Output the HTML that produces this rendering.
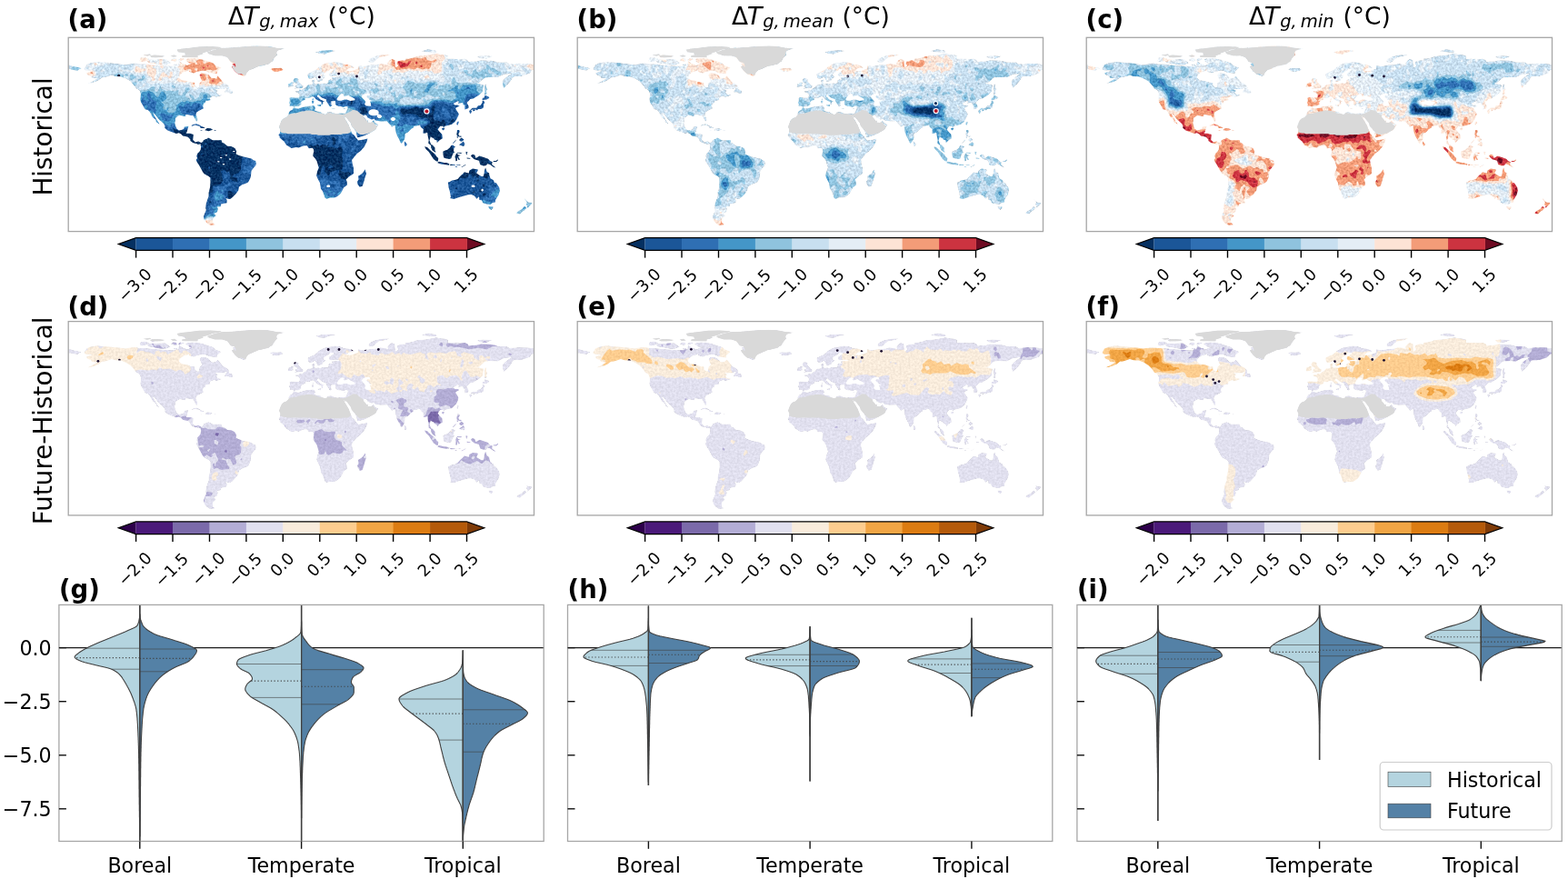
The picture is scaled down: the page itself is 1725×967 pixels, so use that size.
<!DOCTYPE html>
<html><head><meta charset="utf-8"><title>Figure</title>
<style>html,body{margin:0;padding:0;background:#fff;overflow:hidden;width:1725px;height:967px;}svg{display:block;}</style></head>
<body><svg width="1725" height="967" viewBox="0 0 1725 967" font-family="'DejaVu Sans', 'Liberation Sans', sans-serif">
<defs><path id="landp" d="M133.1 33.8L135.2 28.7L140.2 28.2L148.0 29.2L153.0 32.0L150.1 35.1L145.9 36.7L142.3 37.5L136.6 36.1ZM17.1 34.7L19.9 30.0L24.2 28.0L33.0 26.6L39.8 27.3L49.8 28.3L55.5 29.0L62.6 29.9L69.7 28.7L74.0 28.3L79.0 29.3L85.4 29.3L92.5 30.1L101.0 31.0L108.2 31.3L116.7 31.6L121.0 30.6L121.7 25.7L125.2 28.4L130.9 30.6L135.2 28.7L139.5 29.2L140.2 32.7L134.5 33.7L130.9 36.8L126.9 37.7L122.4 41.2L121.7 44.1L124.5 46.6L130.2 47.6L135.2 49.3L139.0 49.6L139.2 52.6L141.6 55.0L143.7 54.7L144.2 50.5L147.1 47.6L145.6 44.7L144.4 41.5L145.9 39.1L150.8 39.4L154.3 41.0L157.2 44.4L159.0 44.8L161.8 44.4L164.4 42.2L167.9 46.2L170.1 49.1L174.6 51.5L176.9 53.9L175.0 54.9L170.8 56.6L161.5 56.6L164.8 58.6L162.9 59.7L164.4 62.3L169.3 63.3L170.8 62.6L165.8 64.7L162.2 65.7L160.9 64.3L156.5 65.8L155.5 67.4L156.5 68.7L154.4 69.3L150.8 70.2L150.8 71.8L148.7 72.8L148.0 75.4L148.7 77.9L145.3 79.8L143.4 80.8L140.9 82.5L140.3 84.8L142.2 89.7L141.7 92.1L140.6 92.0L139.7 90.2L138.6 88.2L137.2 85.7L134.8 85.7L130.9 84.8L128.6 85.0L129.2 86.6L127.4 86.6L122.7 85.7L121.0 86.3L117.7 88.6L117.7 91.2L117.1 93.9L117.8 97.0L119.3 100.5L121.7 102.1L125.2 101.5L127.1 100.4L127.6 98.1L132.2 97.4L131.5 99.8L130.6 103.1L129.6 105.4L133.8 105.4L137.6 106.7L137.2 110.9L137.0 112.5L139.7 115.2L142.9 114.3L145.9 115.6L146.1 116.3L144.9 117.3L142.3 117.7L141.6 116.6L139.0 116.5L137.0 115.8L134.2 113.8L134.2 112.1L131.6 109.5L128.8 108.8L125.9 108.1L123.8 105.9L121.5 104.9L118.8 105.7L116.0 104.8L111.7 103.1L108.9 102.0L106.0 99.5L106.3 97.4L105.3 95.3L102.5 92.4L100.5 91.0L98.2 88.3L95.6 84.6L92.8 82.8L95.1 87.0L97.5 91.0L99.6 93.9L100.3 95.1L99.2 94.6L96.6 92.7L96.1 90.3L93.2 88.2L91.5 85.6L89.5 81.8L87.5 79.6L84.5 78.9L82.7 75.9L81.8 74.2L80.0 71.4L79.1 68.3L79.5 65.4L79.7 62.1L78.7 59.2L77.6 57.6L74.7 56.2L73.3 54.0L70.4 50.5L68.3 48.3L63.3 45.1L57.6 42.9L51.9 42.7L47.7 41.4L43.4 42.9L40.1 43.8L37.0 44.1L33.4 46.9L29.9 48.6L24.9 50.1L21.6 50.6L27.0 47.9L32.0 44.9L25.9 44.5L25.2 42.7L20.9 41.0L19.9 39.1L22.1 38.1L27.0 36.5L24.2 36.1L19.6 36.1ZM146.1 115.8L148.0 114.6L148.7 112.9L150.6 111.9L153.0 111.1L153.7 110.3L156.3 111.5L158.7 112.9L162.2 112.9L165.1 112.9L168.2 112.8L169.3 115.8L171.1 116.2L175.0 119.4L179.3 119.7L182.2 121.2L183.6 122.3L185.0 125.4L184.3 128.0L187.1 129.4L192.8 131.3L197.1 132.1L201.4 133.2L203.5 134.9L206.1 135.8L206.6 138.6L206.1 140.8L203.5 143.6L201.4 146.5L200.7 152.9L199.7 155.7L197.8 159.3L194.7 160.7L191.4 161.8L187.8 164.2L187.0 168.1L184.7 171.4L181.4 174.9L180.0 176.3L178.0 177.6L175.7 177.5L173.0 176.6L174.6 178.9L174.3 181.9L167.9 183.3L167.5 185.9L163.7 186.3L164.6 188.4L163.7 192.0L160.1 193.7L162.5 196.0L159.0 199.2L158.8 202.4L158.7 203.3L161.5 205.9L158.7 206.2L155.8 206.5L152.3 204.1L149.7 201.2L148.7 196.9L150.1 193.4L151.6 189.8L151.0 187.4L151.6 182.7L153.0 178.5L154.3 174.9L154.4 170.6L155.8 165.0L156.3 159.3L156.1 154.3L154.4 152.6L149.4 150.0L147.6 147.5L146.3 145.0L143.7 140.1L141.5 136.9L140.5 134.4L141.9 132.8L141.0 130.5L142.3 127.3L143.9 126.0L145.4 123.7L146.0 120.2L145.3 117.7ZM248.2 76.8L247.2 75.7L245.6 75.1L243.5 75.4L243.6 72.9L242.6 72.0L243.6 69.7L243.5 67.5L242.9 66.8L245.2 65.8L249.0 66.1L253.6 66.3L254.4 64.6L254.4 62.3L253.0 61.0L249.5 59.9L249.7 58.9L253.9 58.7L254.2 57.3L256.4 57.6L258.4 56.6L259.7 55.3L261.3 54.9L262.7 52.9L264.0 52.0L266.1 51.9L268.4 51.3L268.4 49.1L267.7 47.2L271.2 45.9L270.7 48.1L270.4 49.8L271.8 51.2L275.4 50.6L276.5 51.3L279.6 50.5L282.5 50.1L284.0 50.6L286.3 49.5L286.0 47.2L288.2 45.9L290.7 46.5L289.4 43.8L296.0 43.4L299.1 42.8L297.4 42.4L293.1 42.1L288.6 42.8L286.6 41.5L286.7 39.1L291.7 35.8L292.2 35.1L291.0 34.4L287.9 34.6L286.5 36.5L283.9 38.0L281.1 39.4L280.6 41.7L282.9 42.5L282.5 43.7L279.6 45.6L279.5 47.5L276.9 48.1L274.5 49.1L274.1 47.9L273.1 46.1L272.1 44.2L271.1 43.5L267.7 45.4L264.7 45.1L263.8 43.7L263.3 41.2L263.5 39.8L266.1 38.7L268.2 37.7L271.1 36.3L273.5 34.4L275.4 32.4L278.5 30.6L281.1 29.2L283.9 28.3L288.9 27.6L292.9 26.9L296.7 27.2L300.3 28.0L303.1 29.3L308.1 29.9L313.1 31.6L314.5 33.4L308.8 33.8L305.7 36.3L309.5 37.3L313.8 36.1L318.8 34.1L318.8 30.7L324.5 31.7L332.3 30.3L339.4 30.0L343.0 28.7L348.6 29.4L351.5 30.4L351.2 27.7L353.6 24.9L355.8 23.5L359.3 24.9L359.3 27.7L360.0 33.0L362.2 31.6L362.9 30.1L361.2 29.2L362.2 26.3L365.0 25.5L367.9 25.0L370.7 25.3L371.1 23.3L375.7 23.0L380.0 22.0L382.8 20.6L391.3 19.8L397.0 19.1L404.6 17.5L408.4 18.5L414.1 18.9L417.7 20.2L417.7 23.5L424.1 23.5L431.2 23.7L436.2 23.5L439.4 25.0L440.4 27.0L444.0 26.3L449.0 26.2L454.0 24.9L463.9 25.2L469.6 26.2L472.5 27.3L482.4 27.3L485.3 29.2L491.0 28.9L495.2 28.4L500.9 28.6L505.2 28.7L510.2 29.4L512.3 30.0L512.3 35.5L509.5 36.3L508.0 39.1L502.3 41.2L498.1 42.7L491.0 42.7L488.8 43.4L488.1 45.5L486.7 47.6L483.8 51.2L479.1 55.5L478.1 52.6L477.4 48.3L479.6 45.5L483.8 41.9L488.1 39.1L483.8 40.1L479.6 40.5L472.5 43.8L462.5 43.7L458.2 44.1L451.8 49.8L448.3 50.3L452.5 51.2L456.8 52.2L456.1 56.9L455.7 59.7L451.8 63.3L445.4 67.1L442.1 67.8L440.4 69.7L438.3 71.8L440.3 75.4L440.2 77.8L436.2 79.1L435.9 76.1L436.3 74.4L434.3 73.9L433.9 71.7L429.1 72.5L428.6 72.8L429.8 70.4L428.3 70.0L426.2 71.2L423.6 72.7L425.4 74.5L427.9 74.2L430.5 75.4L427.3 76.8L425.9 78.2L428.1 81.8L429.6 83.9L429.1 86.0L426.9 90.3L425.5 92.4L421.9 95.4L418.4 96.4L414.1 97.4L413.0 99.1L412.1 97.4L409.1 97.4L407.7 99.1L406.4 101.2L408.4 103.8L411.1 106.4L411.7 110.9L408.4 113.0L405.6 115.8L405.3 113.3L402.7 112.3L401.7 110.6L399.7 109.9L398.6 108.9L397.3 113.3L399.0 117.6L400.6 118.2L403.3 121.2L403.3 124.1L404.4 126.0L403.4 126.1L400.3 124.0L399.0 121.2L398.9 118.7L396.0 116.3L396.5 113.0L395.3 107.4L395.0 104.5L391.9 105.5L390.2 105.2L390.6 101.0L387.6 98.5L386.8 96.1L384.9 96.6L382.8 97.3L380.0 97.4L379.8 99.0L377.3 100.4L373.3 104.4L370.4 105.8L370.3 109.2L369.7 112.3L368.9 113.3L367.3 115.6L366.4 116.5L365.2 115.3L364.0 111.9L362.5 109.5L360.7 105.2L359.7 101.0L359.5 97.8L359.3 96.3L355.8 98.4L354.2 96.0L352.1 94.0L350.6 91.9L343.7 92.1L337.7 91.3L336.4 89.4L333.7 90.2L329.4 88.3L327.6 85.3L325.2 85.3L324.7 87.5L327.0 89.9L328.0 91.7L329.6 91.2L329.4 93.4L333.0 93.7L335.1 91.7L336.1 90.7L336.4 92.6L338.0 94.3L341.2 96.0L339.4 98.8L338.3 101.0L334.8 103.2L330.4 105.7L325.9 107.8L320.9 109.5L318.1 109.9L317.1 106.7L316.8 104.1L314.2 100.1L311.6 97.1L310.8 94.3L309.4 92.4L306.2 88.2L305.4 88.0L305.8 86.0L304.8 83.5L305.8 81.3L307.2 78.2L307.4 75.9L305.4 75.7L302.4 76.6L299.7 75.8L297.6 75.8L295.0 74.8L293.7 73.5L294.1 71.8L293.4 71.0L293.9 69.8L290.3 70.0L288.6 70.4L289.6 72.1L288.3 73.7L290.3 73.9L288.6 76.1L287.0 75.5L286.2 73.5L284.9 71.7L283.8 70.0L283.9 68.3L278.9 66.1L276.1 64.0L275.6 63.0L273.7 63.4L273.9 65.1L275.5 66.1L277.1 68.1L278.9 69.0L282.5 71.0L280.3 70.4L279.8 72.5L280.5 72.5L279.6 73.4L278.5 73.9L278.3 71.0L276.5 70.2L274.6 69.3L272.1 67.7L270.8 65.7L268.7 64.8L266.8 65.7L264.7 66.7L262.6 66.1L260.6 66.7L260.7 68.4L257.4 69.7L255.7 71.8L256.4 72.9L255.2 74.5L253.2 75.8L249.9 75.8ZM305.8 86.0L304.8 88.4L302.5 85.5L302.1 83.5L304.8 83.5ZM302.5 85.5L302.1 83.5L298.8 83.3L296.0 83.9L291.9 83.0L288.9 81.6L284.8 82.2L284.5 84.0L282.5 84.6L278.2 83.0L277.8 82.0L272.5 80.9L270.8 79.9L271.8 77.9L270.8 75.5L269.7 74.9L266.1 75.2L261.1 75.7L256.1 77.1L253.0 78.1L248.6 76.9L247.6 77.1L246.3 79.6L243.8 80.8L242.2 83.5L242.3 85.3L239.8 87.9L237.4 88.7L234.8 91.0L233.4 93.9L231.8 98.1L233.2 101.4L232.7 105.1L231.2 107.1L232.5 108.8L232.4 110.3L234.8 112.3L237.4 114.5L239.8 118.2L245.5 121.7L250.5 120.6L253.3 121.3L257.6 119.4L260.0 119.0L262.6 119.0L264.7 121.9L266.4 121.7L268.4 121.4L269.8 123.0L270.1 125.1L269.4 127.6L269.1 130.1L271.8 133.5L273.5 136.2L274.6 140.1L275.5 143.2L273.9 147.2L272.9 151.9L274.9 156.4L276.8 160.0L277.8 166.4L279.6 168.6L280.9 172.1L282.3 176.3L284.0 177.5L288.2 176.3L292.6 176.3L295.1 175.3L298.8 172.5L300.7 169.6L302.8 165.2L306.7 162.1L306.5 158.6L305.5 156.1L308.5 153.3L313.8 149.7L313.8 143.6L312.5 138.6L311.9 134.7L315.2 130.4L318.1 127.3L321.6 124.7L325.5 120.2L328.3 114.8L329.2 111.2L325.2 112.1L318.8 113.2L317.8 111.6L316.3 110.1L314.5 107.4L312.4 105.9L310.9 102.4L309.1 98.1L308.7 96.7L307.0 94.0L305.8 91.7L304.1 89.2ZM417.7 159.3L418.4 165.0L419.8 169.9L420.8 175.6L419.8 176.8L424.1 177.8L428.3 176.2L432.6 174.9L436.2 173.9L439.7 172.9L443.3 172.8L446.8 174.2L449.1 177.5L451.8 174.9L452.2 178.6L454.7 178.9L456.1 182.0L460.4 183.2L464.3 183.6L466.8 181.7L469.6 181.3L469.9 178.7L471.5 176.0L473.2 173.5L474.7 168.5L474.0 165.0L472.5 162.8L470.7 160.0L468.9 159.7L467.5 156.7L464.3 155.0L463.2 151.4L462.9 149.3L460.5 147.6L458.9 143.2L457.7 146.3L457.5 149.3L456.5 152.7L454.4 152.6L451.1 150.6L449.0 149.3L450.8 145.5L449.5 144.9L444.7 144.3L443.0 145.3L441.1 146.5L440.6 149.2L438.2 148.6L435.7 148.0L434.0 150.0L431.9 151.6L430.0 153.6L428.3 155.7L425.2 156.8L422.2 157.3L419.2 159.0ZM152.6 16.4L159.4 13.9L167.9 11.7L182.2 10.9L196.4 9.7L210.6 9.1L220.6 9.7L229.1 11.4L238.4 12.1L230.5 14.2L229.1 16.4L229.8 19.2L227.7 21.3L225.6 24.2L224.8 26.3L222.0 27.7L220.6 29.2L213.5 31.0L209.2 31.7L202.8 34.6L198.5 36.3L196.4 38.7L195.0 41.9L192.8 42.7L190.7 41.5L187.1 40.5L185.0 38.7L182.9 36.7L181.0 34.1L179.6 32.0L182.2 30.6L180.0 29.2L183.6 27.7L178.6 27.0L177.2 24.9L175.0 22.0L169.3 19.9L161.5 19.9L155.1 18.2ZM143.0 19.6L128.8 19.2L128.1 16.8L121.0 15.9L119.5 13.5L124.5 12.5L133.8 11.5L143.7 10.1L156.5 9.8L168.6 10.7L165.1 12.1L158.0 13.5L155.1 14.9L149.4 16.4L147.3 17.1L148.7 17.8ZM163.7 39.8L155.1 38.7L150.1 36.4L145.2 36.5L148.0 35.1L152.3 32.0L149.4 30.6L145.2 28.4L139.5 28.4L133.1 28.2L128.8 24.9L130.9 23.3L135.2 23.0L142.3 23.2L148.0 24.5L153.7 26.3L159.4 28.2L161.5 30.6L166.5 32.7L168.1 33.3L165.8 35.3L163.9 37.0L163.4 38.8ZM86.8 26.2L88.9 24.2L94.6 24.5L99.6 23.9L106.7 23.7L110.3 26.3L112.7 28.0L107.4 30.1L102.5 30.3L98.2 29.4L92.5 28.4L88.2 28.0ZM78.3 25.7L79.7 22.3L84.7 22.2L88.9 23.5L88.2 24.7L84.0 26.3L81.1 26.9ZM89.7 20.3L93.9 19.3L101.0 19.6L106.0 20.5L102.5 21.6L96.8 22.0L91.8 21.9ZM82.5 19.2L89.7 18.1L91.1 19.2L86.8 20.1ZM112.4 19.9L116.7 19.2L119.5 20.8L115.3 21.5ZM125.2 21.6L142.3 22.0L142.3 19.6L129.5 19.1L125.2 19.9ZM112.4 24.9L115.3 22.9L118.8 23.3L119.5 25.6L116.7 26.3ZM120.7 24.9L123.1 22.8L127.4 23.2L127.4 24.2L123.1 25.6ZM133.8 34.1L140.2 36.7L141.9 37.3L138.0 39.1L133.1 37.7L132.3 35.5ZM115.3 29.6L119.5 29.2L120.2 31.0L116.7 30.9ZM171.6 60.3L174.8 54.7L177.2 54.6L176.9 57.0L180.0 57.6L181.2 60.4L179.9 61.7L176.7 61.3L176.2 60.3ZM135.3 96.8L138.0 95.4L140.9 95.0L143.7 96.0L146.6 97.8L150.6 99.3L148.7 99.7L145.6 99.7L144.4 97.4L141.6 97.0L139.5 96.3L136.0 97.4ZM150.3 101.7L152.6 99.7L156.5 100.0L159.0 101.5L156.5 102.1L154.4 103.0L150.3 102.0ZM144.7 101.8L147.7 102.2L146.6 102.8ZM160.5 101.7L162.8 102.0L161.9 102.5L160.5 102.4ZM0.0 30.0L5.7 31.7L10.7 32.7L14.7 34.0L12.1 34.8L10.2 36.4L5.7 35.7L1.8 34.8L0.0 35.5ZM248.0 56.7L251.9 56.0L256.4 55.7L258.1 55.2L258.6 53.2L256.6 52.0L255.9 51.0L253.9 48.9L253.0 47.6L253.6 46.1L251.6 44.7L249.0 44.7L247.9 46.2L247.3 47.4L248.3 49.1L249.3 50.1L251.3 50.8L251.9 52.0L249.5 52.3L250.3 53.3L248.6 54.3L251.6 54.9L250.2 55.2ZM247.6 53.8L247.2 51.0L247.9 50.3L247.3 49.3L245.5 49.3L244.1 50.3L241.9 50.9L242.1 52.2L241.4 54.3L242.6 54.7L244.8 54.3L247.0 53.8ZM222.0 34.8L224.8 33.6L229.8 33.8L234.1 33.4L235.5 34.8L236.8 35.5L234.8 36.5L229.5 37.8L225.6 37.3L223.8 36.8L224.8 36.0L222.0 35.3ZM271.8 15.9L278.9 14.4L288.9 13.8L294.6 14.8L286.0 16.4L281.8 18.5L276.1 17.8ZM330.1 26.3L331.6 23.5L337.3 20.6L344.4 19.2L353.6 18.6L350.1 20.3L341.5 22.0L337.3 25.6L335.1 27.4L331.6 27.3ZM388.5 14.9L395.6 12.8L404.1 14.2L405.6 16.4L398.5 16.5L392.8 15.8ZM449.7 20.6L456.8 19.9L466.8 20.5L459.6 23.5L452.5 22.8ZM458.2 62.6L460.4 61.9L459.6 58.3L461.1 57.6L459.9 54.7L459.6 51.9L459.2 50.6L458.2 51.9L457.8 55.5L458.2 59.0L457.9 61.9ZM455.4 69.0L457.1 68.5L460.1 68.3L463.2 66.4L462.5 65.1L458.1 63.3L457.7 66.3L455.8 66.5L455.4 67.8ZM456.8 69.1L457.5 70.4L458.2 71.8L456.8 73.5L456.8 76.1L456.5 77.2L455.1 78.2L453.5 78.6L450.8 78.8L449.7 80.3L448.4 79.2L445.4 79.1L442.6 79.6L442.4 79.1L444.7 77.5L449.0 77.5L450.8 74.9L453.2 74.7L455.4 71.8L455.4 70.0ZM440.9 80.6L441.9 83.6L443.0 83.3L444.0 80.8L442.4 79.8ZM444.7 80.9L446.8 80.6L447.8 79.6L445.4 79.3ZM427.1 95.3L428.1 96.8L429.6 93.1L429.2 92.0L427.6 93.1ZM410.7 100.7L412.7 102.1L414.1 100.1L413.5 99.4L411.5 99.5ZM369.7 114.0L371.7 115.9L372.6 117.7L371.4 119.4L370.0 119.4L369.7 117.3ZM427.8 101.7L430.0 101.7L430.5 103.8L429.1 105.9L429.8 108.1L432.6 108.4L431.9 109.8L427.8 108.4L427.1 106.4L427.5 104.5ZM429.8 118.0L432.2 116.3L434.7 114.3L436.2 117.3L435.0 119.7L432.6 118.9ZM430.5 111.6L432.6 110.2L435.2 112.3L434.0 113.8L431.9 114.5L430.0 113.0ZM427.3 108.9L429.1 109.2L428.6 110.5L427.6 110.2ZM422.9 116.2L426.6 112.1L426.2 113.5L423.4 116.6ZM412.1 125.4L412.4 129.4L413.1 132.1L415.2 133.0L419.1 133.7L421.2 133.0L421.9 130.8L423.8 126.8L425.2 126.3L423.8 124.9L424.4 121.2L425.8 120.4L422.9 118.2L421.2 118.6L419.8 120.9L417.0 123.4L414.4 124.3ZM391.8 120.0L394.9 120.6L398.9 124.7L403.9 128.7L404.9 130.7L407.0 132.7L406.7 136.2L404.9 136.2L401.7 133.7L398.9 129.4L396.5 125.6L393.5 122.9ZM405.9 137.6L407.7 136.5L410.3 136.9L413.4 137.6L416.2 137.8L419.1 138.9L418.9 140.4L414.1 139.8L409.8 139.1L407.6 138.5ZM419.8 139.6L421.2 139.5L425.5 139.8L425.5 140.5L421.2 140.6L419.8 140.5ZM426.6 140.1L431.2 139.8L431.2 140.5L426.9 140.6ZM432.3 142.5L436.9 139.8L437.2 140.2L432.9 142.6ZM425.5 141.5L428.1 141.9L427.6 142.6L425.5 142.1ZM426.2 135.9L427.6 135.8L428.2 131.8L429.2 134.8L430.8 134.4L428.8 130.7L431.6 129.4L429.1 129.3L427.3 127.4L429.1 127.3L431.9 127.6L434.2 125.7L433.2 126.7L428.1 126.4L426.6 128.0L425.2 131.5L425.9 133.0ZM437.6 125.4L439.3 126.3L438.3 127.6L439.0 129.1L437.7 128.5L437.3 126.6ZM438.3 132.2L442.3 132.7L441.9 133.4L438.6 133.1ZM442.6 130.0L444.7 128.5L447.1 129.3L448.3 132.7L452.4 130.1L456.8 131.7L461.8 133.4L463.9 135.8L466.5 136.9L465.9 139.6L470.3 143.1L467.5 142.5L463.9 139.6L461.1 138.9L459.6 140.8L456.8 141.1L453.2 139.9L452.5 137.9L451.8 135.4L448.3 134.4L446.1 133.7L444.7 132.1L443.9 131.8L443.0 130.1ZM467.5 135.8L470.3 135.7L472.5 134.1L472.9 134.8L471.0 136.8L467.6 136.7ZM326.3 145.0L327.9 149.6L326.9 152.2L325.5 157.1L323.5 163.4L320.5 164.4L318.3 161.4L317.8 158.6L319.3 156.3L318.8 152.4L322.0 150.4L324.0 148.6L325.3 147.0ZM462.1 185.9L467.2 186.1L467.0 188.0L465.3 189.8L462.9 188.0ZM501.9 176.9L504.5 180.3L506.6 181.4L510.2 181.6L509.3 183.7L507.7 184.9L505.5 187.1L504.6 186.6L505.5 185.3L503.5 183.7L504.6 182.2L504.0 179.9L502.3 178.0ZM501.9 185.6L504.0 187.3L502.3 189.8L499.8 191.3L496.9 194.2L493.1 193.4L493.8 192.0L495.8 190.5L499.2 188.8L501.1 186.3ZM268.4 69.1L269.5 69.1L269.7 66.8L268.4 67.8ZM268.1 72.5L269.8 72.4L270.1 69.7L267.8 69.7ZM273.8 74.2L278.3 73.5L277.6 75.8L274.6 75.2ZM289.6 77.8L293.6 77.8L293.1 78.2L289.7 77.9ZM302.1 78.5L305.2 77.4L304.4 78.4L302.8 78.8Z"/><clipPath id="land"><use href="#landp"/></clipPath><path id="holesp" d="M295.3 67.5L296.0 69.0L297.4 69.4L300.3 69.5L303.8 68.3L306.2 68.3L310.2 69.8L315.2 69.0L315.3 67.4L313.1 66.3L310.2 64.8L308.8 64.0L308.1 63.4L306.7 64.0L303.8 64.8L302.4 63.4L304.1 62.6L301.0 61.7L299.6 62.3L298.3 63.6L297.0 65.0L295.9 66.8ZM323.0 64.3L322.6 64.7L323.7 66.8L325.9 69.0L327.0 70.8L325.9 73.4L327.7 75.1L332.9 75.5L332.6 71.8L331.6 70.4L334.0 69.8L331.1 68.5L331.4 67.4L329.2 66.5L328.0 64.7L329.4 63.6L331.7 63.6L331.6 61.4L329.2 61.1L325.9 61.9L323.7 63.1Z"/><filter id="spk" x="0" y="0" width="100%" height="100%" color-interpolation-filters="sRGB"><feTurbulence type="fractalNoise" baseFrequency="0.42" numOctaves="2" seed="7" result="n"/><feColorMatrix in="n" type="matrix" values="1 0 0 0 0  1 0 0 0 0  1 0 0 0 0  0 0 0 0 1" result="g"/><feComposite in="SourceGraphic" in2="g" operator="arithmetic" k1="0" k2="1" k3="0.34" k4="-0.17" result="m"/><feComposite in="m" in2="SourceGraphic" operator="in"/></filter><filter id="spk2" x="0" y="0" width="100%" height="100%" color-interpolation-filters="sRGB"><feTurbulence type="fractalNoise" baseFrequency="0.42" numOctaves="2" seed="11" result="n"/><feColorMatrix in="n" type="matrix" values="1 0 0 0 0  1 0 0 0 0  1 0 0 0 0  0 0 0 0 1" result="g"/><feComposite in="SourceGraphic" in2="g" operator="arithmetic" k1="0" k2="1" k3="0.14" k4="-0.07" result="m"/><feComposite in="m" in2="SourceGraphic" operator="in"/></filter></defs>
<rect width="1725" height="967" fill="#fff"/>
<g transform="translate(75.2,41.3)">
<g clip-path="url(#land)" filter="url(#spk)"><use href="#landp" fill="#c8dff0"/><path d="M31 .4l4.1 0-1.3 1.1zM263.6 .4l3 0-2.3 1.4zM43 5.9l1.7 .1-.9 2.5-1-1zM20.3 6.5l2.1-.3 1.4 1.2 1.5 2.2 .7 3.8-7.7-3.1-.1-2.1zM61.5 7.1l2.7 1.1 .9 3-3.5-.9zM134.1 7.4l2.9 .7-1.5 2.5-5.4-.3zM174.7 7.4l1.7 .8-.3 2-1.4 0-1.1-1.3zM487 7.1l.8 3.2 2.8 1.3 4.3-.8 2.1 .7 .5-1.2-1-2.1 2.6-1.2 1.3 2.6 6.6 3.5 4.9-1.8 0 9.3-2.8 1-2.2 3.6 1.5 1.3 3.5-.6 0 19.9-2.2-3.5 .8-2.8-2.1-2.8-8.6-4.4-1.7 .1 .9 2.1 4.4 4.2-1.4 6.8-.3-1.8-6.1-6-6.4 1.4-6.4-2.9-3.2-5.3 .3-3.2 .7-.6 5.7 .6 2-1 1.1-4.3-.9-2.7-1.5-.6-4.9 .1-.8 1.1 .8 1.5 2.8-.7 2.1 .8 .4 1.9-1.8 1.7-3.5-.8-1.5 1-2.1-2.1-2.1-.5-1.5 .9-1.4 3.8-1.4 .7-1.3-1.1-.7-2.9-2.3-.6-5.7 3.2-2.7-.4 .3-2.2-1.1-.6-6.4 1.3-2.9-.6-3.5 2.5-5-.3-2.9-1.3-2.8 1-2.8-1.5-3.7 .2 .2-4.2-.8-.3-3.6 2.4-5.7 .2-1.4 3.4-5 4.2 .9 6.4-3.1 3.6 2.9 1 .9 1.8 .1 3.6-1.7 1.9-2.8 0-2.2-2.6-11.3-.2-3.6 1.2-6.4-3-.6 .5 .7 2.9-.8 .1-4.3-1.3-2.1-1.9-3.7 .2-1.3-3.8-1.8 1.7-.3 2.3-3.6-2.9-1.3 .6-1.5 3.9 2.8-1 2.2 .7-.6 2.1-3 3.6-2.1-3.8-4.3 3-5-1.6-3.5 .6-1.7-1.8-.4-3.6-.8-.1-2.1 3.7 .2 4.3-2.4 1.7-1.2-.3-.2-4-5.7-3.1-4.2 2.3-2.9-1.5-2.8 .9-2.2-.9-3.5 1.8-5-6.9-5-1.3-2.8 1.6-9.3-.8-5 2.2 .2-3.8-2.3-1.7-3.2 2.4-.7 2.8-5.4 .9-2.8-.9-2.1 1.9-3.6 1-2.1-3.5-2.9-1.1-2.8-4-5-3.1-.1-5.4-2.2-2.1 5.1-2.8 6.4 .1 3.6-1.9 4.3 2.9 4.2-1.3 4.3 .2 3.6-1 9.9 1.6 3.6-.6 2.1-1.6 3.6 1.7 5-.3 4.9 2.3 1.1-5.7-1.9-5 5.1-4.5 2.1-.1 5.7 3 3.6-2.7 2.8 3.2 2.2-1 1.4-2.6 5.7-.4 3.6 1.5 2.1-1.6 11.4 3 1.7-2.8 4.7-2.5 2.1 2.5 5 2.6 5.7-1.8 2.8 2.4 9.3 .9 8.5-3.9 2.9 1.5 9.2-.4 3.6 1.2 6.4-4.9 3.8 .3 4.7 4.2 6.4-3.3 2.9 2.5 4.2-.7 2.2 1 4.2 .2 0 1.5-2.1 1.2-1.2 2.6 .1 1.5 1.1 .2 1.4-2.1 4.5-.3-.5-4.9 1-1.8 1.4 0 1.1 2.5 1.8 .7 1.5-2.9 5.6-2.5 2.1 .3 2.9 2.8 4.9-1.6 3.6 1.1zM435.8 14.6l.7 2.9 2.2 .3 1.3-1.1-3.5-2.6zM426.8 15.3l.5 1.1 1.2-.4-.5-1zM421.3 16.7l.3 1.4 1.3-.7-.6-1zM327.4 18.1l-1.3 2.2 2.9-.7-.3-1.5zM462 18.1l-.9 1.5 2.5 .7 .2-1.5zM500 25.2l.8 2.2 1.8 0-.6-2.2zM321 28.1l-.5 1.7 1.5 1.2 .4-1.5zM333.9 28.8l-1 1.4 1.9 1 .7-2.3zM483.6 33.1l2 1.9 1.3-2.6-1.3-1.8zM327.8 35.2l-3.2 3.5 1.3 5.7 1 1 1.5-.9 .1-3.6 2.3-2.9-1.7-2.9zM350.2 39.5l2.4 1.5 2.1 4.3 1.4 .1 1.6-1.7-.9-2.1-5.7-2.5zM52.3 7.8l2.8-.3 1.5 1.4-1.5 1.7-2.1-.3-1.6-1.4zM96.4 8.5l3.8 1.8-1.7 2.7 .8 1 4.9-2.4 4.3 2.6 3.3-.3 .6-.7-1.9-3.6 2.3-.7 2.1 .7 1.5 2.8 8.5 5.5 8.5-.2 3.6-3.4 12.1 5.6 5.7-2.8 4.9 2.1 1.7-.4 .4-.7-1.4-1.5-4.2-1.1 .2-2.3 1.9-.9 3.6 1.6 5-.9 2.8-4.2 2.1-.1 2.6 2.3 .6 2.2-1 1.6-4.8 1.9-.9 2.1 .4 1.5 1.7 .4 5-2.9 4.3-.3 1.4 4.5 12.8 3 3.9 5.9-1.1 5 1.7 4.3-3.8 4.7-9.2 .1-4.2 2.3-.1 3.4-4.3-.6 0 2.3 1.5 2 2.8 1.8 2.8 .1 .4 1.6-1.1 1.5-3.8 .7-4.7 4.8-5 .9-3.7-2.2-2.7-4.9 1.3-2.9-2.7-1.2-7.1-.3-5 2.4-2.9-2.1-7.8 4.1-1.9-.8-5.2-7-4.3 1.3-4.2-1.1-5 0-3.6-1.8-9.9 1.9-7.9-1.3-5.7 2.1-5.7-2.8 1.3-4.8-1.9-3.5-2.2-1.4-5 1.6-15.6-4.3-4.3 1.4-2-1.6-1-3.5 .9-1.8 2.1 3.2 2.8 1.6 2.9-.8 6.4 1.2 1.7-6.3-.1-4.2 1.2-2.9-1.4-2.7-10 1.2-2.1-4-2.8-.6-2.9 1.1-.7-1.4 .7-1.4 5-2.2 5.7 4.5 2.5-3.7 3.2-1 .8-2.6 5.6 1.8 4.3 2.6 4.6-5.1 3.9-.3 3.6 2zM70 16l1.5 1.9 2.1-1.2-2.1-1.3zM96.7 17.4l.4 2.3 1.4 .2 .8-1.8-1.5-1.1zM107.4 21l0 2.8 1.8 .3-.7-2.8zM175 55.1l1.1 1.1 .8-1.1-.8-.7zM170.4 58.7l-.5 2.1 1.9 1 .4-3.1zM283.5 8.9l1.5 1.4-2.6 .7-.3-1.4zM122 9.5l1.5-.6 1 .7 1.9 3.6-.7 2.1-2.2 .3-1.5-1.9-2.4-.5zM148.4 10.8l2.6 .9-1.2 2.9-2.3-1.4-.2-1.5zM16.7 12.4l1.4-.3 .8 3.9 3.2 2.8 .4 2.9-1.1 4.3 1.7 4.3 1.4 0 2.9-4.6 7.1 1.1 1.4-.8-.4-2.9-2.4-3.7-2.9 0-1.4 2.9-2.2-2.7 .8-2.3 2.1-1.3 7.1 .5 2.9 9.2 2.1-.5 2.9-2.6 2 1.2 1.2 2.2-3.2 3.9-3.6-1.6-2.8 2.9-5 .1-5 2.5 2.6 4.2 .6 4.3-4.6 2.9-3.6-.1 2.1 1.5 .4 2.1-1 2.8 1.4 3.6-7.9 3.1-1.7-1-.8-2.1 2-2.1 1.8-5-.3-2.9-2.3-2.1-1-10.6 2.1-4.3-.5-3.6 1.7-2.1-1.5-4.3-2.2-2.8zM19.9 32.4l-.5 1.4 .9 1 2.2-.3-.8-2.1zM43.8 13l1.8 3-.4 2.1-2.2-.6-1-1.5 .1-1.4zM65.1 23.4l1.4 0 2.1 2.6-.6 2.6-6.5 .6-.3-1.1 1.9-.7zM54.4 24.1l1.5 2.6-.8 2-2.2-1.3zM435.8 27.7l.8 1.1-1.5 2.1 0 2.2-5 2.7-2.1-5.6 5.8 0zM228.8 28.4l1.4 2 3.5-1.1 2.9 .6 3 3.2 .4 2.1-4.1 5.6-2.2 .7-9.9-.7-3.6-2.8-.7-2.8 .6-2.1 3-3.1zM452.2 30l3.2 2.4-3.2 3-.8-.2-.3-2.1zM470 30.1l1 .8-.6 .7-2.7 0zM416.6 31.6l1.3 1.5 .1 1.8-2.1-1.4-.3-1.1zM474.2 32.2l1.6 .2 0 1.4-1.1 0zM38.8 34.1l1.9 2.5-4.8 2-.8-2zM430.8 37.5l1.5 .4 .5 1.6-2.7 1.9-.6-1.2zM468.5 42.3l1.2 .7-1.2 1.1-.6-1.1zM43.2 43.7l-.3 1.4-2 1-.2-1zM47.3 44.9l2.2 1-.2 1.4-1.3 .7-1.2-1.4zM34.5 45.8l.9 .8 .8 4.9-.7 3.6-1.7 1.3-1.4-1.3 1.9-5.7-.9-2.8zM440.1 45.6l2.1 .2 1.9 2.9-3.3 0-1-1.4zM53.7 46.2l2.7 1.1-.5 1.8-2.9-1.1zM84.4 50.1l.8 1.4-1.6 2.8-4.3 1.4-1.5-.6 .8-.9 2.9 .2 .4-3.6zM55.9 53.5l1.7 1.6-1.7 4.7-5.7-3.3 .9-2.1zM158.3 56.4l2.2 3-.8 1.1-5.4-1.8zM366.8 58.4l1.4-.1 .7 1.1-1.4 .4zM341.2 63.5l-.1 1.6-2.1 1 .5-1.8zM202.4 90.5l1.5-.2 .1 1.1-1.6 .3zM276.4 91l1.5 .2 .4 1.6-2 0zM.4 111.9l1.6 .8-.5 2.1-1.1 .2zM109.9 143.1l.6 .9-1.3 .9-.4-.9zM.4 174.1l1.8 1.9-1.8 2.3zM252.9 191.4l2.8 .9 .1 2.2-1.4-.3zM156.9 198.7l6.2 .7 .2 8.4-2.1 1.9-9.3 .9-1.6-1.9-.9-7.1 1.8-1.6zM218.1 199.2l1.1 .9-.4 1-1.2-1zM269.3 211l2.3 1.9-2.8 0z" fill="#e4edf5" fill-rule="evenodd"/><path d="M427.3 11.7l2.5 0 2.9 2.9 .5 1.4-.9 1.4-1.5-.6-.3-2.9zM511.9 13.1l0 2.6-1.4 1.7-2.7 0 1.9-3.5zM85 13.8l3 2.2-.9 7.8 3.6 4.2 4.3-.4 1.7 1.2-1 2.2-3.1 .6 .3 1.5 3.2 1.4 .7 1.4-.1 3.6-2.1 4.2 1.2 2.9-2.2 1.4-2.1-.7 .3-3.6-3.9-2.1-1.5-2.9-.7-11.2-1.4-.4-3.5 2.2-2.7-3.3 1.2-4.5 3-2.7 1.3-3.7zM344.7 14.5l8.6 1.7 3.5-1.1 3.6 1.6 5.7-.4 2.1-1.2 2.2 2.8 2.1 .3 3.5-1.6 2.9 2.9 4.3-2.5 1 .4 1.1 3.1 3.5-3.4 4.3-.2 10 1.5 3.5-1.9 2.2 2.1 4.2-.5 1.5 5-3.9 4.3 .2 9.2-1.3 1.5-4 1.4-3.1 .2-2.9-3.4-2.8 1.1-3.6-1.3-5 1.8-2.8-1.7-5.7 .8-3.6-1.2-8.5 3.4-4.3-1.5-4.9 1.3-2.6-1 1.8-2.8-1.4-1.4-4.5 2.1-6 .7-1.6 3.6-3.6 .7-.1-2.9 1.1-2.1-.2-2.8 1.2-4.3-1-7.1 2.4-3.6zM444.3 15.1l1.5 .9 1.2 5.7-1.2 2.7-1.5 .5-2-3.9 .4-4.3zM116.3 15.3l2 2.1-4.1-.7zM109.2 16.5l4.3 .9-.7 3.7-2.2-.6-2.2-3.1zM503.4 18.8l1.1 1.5-.5 2.1-5-2.1 .8-1.2zM93.6 19.1l1.4 1.2-.7 1.3zM126.3 19.4l7.1 1.6 2.9-1.8 3.5 1.3 5.7-.4 7.1 1.2 1.4 1 2.2-2.1 3.5 1.3 6.4-1.1 2.9 1.8 4.9 .2 2.2 1.9 4.3 1.3 4.2-1.1 7.9 1.6 3.5 5.5-.4 4.3 .9 4.3-4 3.2-12.8 1-4.3 3.9-1.4 2.9-2.9-1.4-4.4 3.2-9.8-.6-6.4 1.3-1.4-2.3-3.6 1.5-3.6-1.7-3.5 3.4-1.4 .2-1.5-1.1-.7-3.6-1.4-1.1-2.8-.5-2.9 1.5-2.1-1-3.6-.1-2.9-1.6 .1-1.4 2.5-2.2 1-7.8-.7-2-2.2-1.5 2.4-1.5 1.1-9.9zM168 35.9l.7 2.1 2.1 0-1.1-2.1zM176.1 20.2l1.5 .8-1.5 1.2-.8-.5zM100.7 21.4l2.8-.1 .6 1.1-1.3 5.7 2 4.3-1.3 1.8-2-1.1-1.9-4.3 .5-2.8-.7-2.9zM329.1 22.3l1.3 .8-1.3 1.4-.7-.7zM119.4 23.1l-1.1 4.3-2 1.1-2.1-1.1-1.4-2.9zM324.8 24.4l2.9 1.6 0 1.3-1.5-.6zM291.4 26.6l2.1 .8 3.6 4.2 3.5 1.9 1.7-1.1-.3-4.6 6.4-1.5 2.8 2.5 .1 5.1 1.3-1.5 .9-4.3 2.8-1 1.7 1 2.6 7.8-2.2 4.9-2.8 .2-2.9-3.5-5 3.1-3.5-2.6-7.1 1.3-3.4-2.7 1.7-2.8-1.2-1.2-5 6.6-4.9-2.6-1.5 2.7-3.8-2-.9-8.5 6.2-1.8 2 1.1 1.5 2.9 2.1 .8 1.8-1.6-1.8-2.8zM266.5 27.3l9.3 .1-.1 1.2-4.1 3 4.1 2.2 .9 2.1-3.7-.6-5 1-4.2-1.8 .6-5.2zM28.8 27.8l2.8 .3 .4 1.4-1.8 1.1-1.4-.4-.8-1.4zM511.9 28.2l0 9-7.9-5.6 1.5-1.7zM491.3 30l1.4 .9-1.4 1.1-.8-1.1zM225.2 30.9l4.3 1.2 3.5-1.2 2.9 .2 1.9 1.3 .8 2.1-3.4 4.7-10 .1-2-1.3-1.4-3.5 .8-2.1zM74.4 31.1l3.1 1.3 1.8 1.9 5.7 .2 .6 1.4-7 2.9-5-.8-.7-2.1zM326.9 32l.1 1.1-2.2 1.1-.3-1.1zM26 36l2.1 .9 1.5 2.6-.2 2.1-1.3 .7-5 0-3.5-1.9 0-2.4zM112.8 37.2l1.7 .8 .1 3.6-2.5 3.5-1.5 0-1.4-1.9-2.8 0-3.6 1.1-.7 3.6-2.7-.6-.4-1.4 3.8-7.2 2.2-.8 4.9 4.6 1.5-.9 .3-3.6zM277.9 40.1l1.4 1.5-.7 .9-1.3-.9zM394.5 40.8l2.1 1.5 .8 2.1-5 .9-.9-2.3zM359 46.1l1.7 1.2-1 1.8-1.6-1.8zM151.2 200.8l10 .5 .7 6.1-2.2 1.3-7.4 0-2.4-5.7z" fill="#fde3d5" fill-rule="evenodd"/><path d="M353.3 20.2l1.1 1.5-1.1 .4-.8-.4zM366.1 21.5l1.5 .2-.7 2.8 1.3 1 9.3-2.9 4.2-.4 6.4 1 5-1.8 .7 2.4 1.5 1.2 4.2 1 5-2 .8 1.2-2.9 2.3-2.9 0-.7 4.9-2.1 2.3-3.6-.8-3.5 1.3-5-2.1-4.3 2.2-4.3-1.3-14.9 1.6-2.8-3.6-2.9-1.5 .4-7.4 5.3 .6zM146.2 22.8l1.4 1.1 1.2 4.9 1 .5 7.1-4.2 8.1-2-3.3 7.8 1.9 3.6-1 1.3-2.9 .5-3.5-.9-3.6 .3-2.8 1.5-4.2-.6 .6 2.1 3.8 1.5 2.1 4.2-.9 2.2-1.4 1.1-2.9-.6-1.4 3.7-3.6-2-4.2 3-1.4-4.1-3.3-1.1 .7-3.6-2.4-2.1 .7-4.6 1.8 1 1 3.1 .9-.2-.7-5-2.3-.9-5 1.9-1.1-3.1 2.3-1.5-1-2.8 1.2-1.2 5-.9 4.3 1.1 2.1 2 2-.3-1.9-3.5zM139 33.8l-.3 1.4 2.5 2.2 1.1-2.9-1.8-1.3zM143.3 44.4l-.6 1.7 2.7-.2-.7-1.5zM185.4 25.9l7.1 2.5 1.6 4.7 .7 7.1-5.2 2.5-7.1 .3-3.6-1.6-2.8 .8 .9-9.1-.9-5zM307 28.9l1 2-2.9 .7-.9-1.4zM225.2 32.2l4.3 1.3 5.7-1.2 2 1.5-2 2.8-6.4 1.4-2.9-.5-1.9-1.6-.6-2.1zM164 36.7l6.3 4.9 1.2 5.7-6.1 1.9-1.8 2.3-8.1-.7-.8-.7 .6-3.5-2.1-2.9 .4-2.8 1.2-.9 2.7 .2 1.5 3.2 2.9 2 1.4 0 .6-2.4-3.8-2.1zM25.3 38l1.7 .7 .1 1.5-3.5-1.5zM124.9 40l1.4-.2 2.4 2.5 .1 2.8-1.1 1.6-3.5-1.6-.5-3.5zM151.2 202.2l1.4-.2 .5 1-1.2 .5zM159 204.7l1.4 1.8-2.1 .9-3.3-1.6z" fill="#f39c78" fill-rule="evenodd"/><path d="M363.2 25.2l2.9 1.8 5.7 1.5 1.5-.4 1.3-2.2 2.9 .1-4.3 5.7-7.1 1.7-1.3-1-2.5-5.7zM382.4 26.4l1.5 .7 0 2.4-2.2-.7zM358.3 27l.9 .4-.2 1.9-.9-.5zM181.8 28.6l1.6 .2 1.4 5.7 1.3 .2 2.1-1.5 2.9 2.7 .2 3.6-.9 1.4-6.5 .1-2.1-2.1-2.1 .6-1.4-.8 1-7.8zM389.1 30.2l.4 2.2-1.6 0-.9-1.5zM153.3 30.5l1.2 .4-1.2 1.4-.9-.7zM147.6 32.3l2.2 .3-.6 1.9-1.6-.6zM143.4 39.8l3.5 1.1 .5 1.4-5.2-.7zM159 46.4l1 1.6-1.7 .7-.2-1.4z" fill="#cc3340" fill-rule="evenodd"/><path d="M367.5 29.4l1 .8-1 .8-.7-.8z" fill="#6e0b22" fill-rule="evenodd"/><path d="M6 .4l16.4 0-1.4 3-5 .5-1 4.3-2.5 1.7-5-3.2-4.3-.8-2.8 .8 0-4.7 4.2 .3zM8.7 3.2l.2 1.8 2.3-1.1-.9-1zM37.4 .4l12.1 0 0 1.4-1.5 2.3-5-.1-3.5 2.5-3.5-1.9zM54.4 .4l6.3 0-.7 1.4-2.7 1.1zM69.4 .4l10.3 0-1.1 2.1 .7 1.5 2.2-2.5 8.9-1.1 2.7 6.4-1 .4-.7-2-4.2-.4-7.2 6.8-1.3-1.3-.8-4-1.4-.5-3.6 1.1-.3-5.1zM107.1 .4l9.4 0-.1 1.4-2.9 1.7-4.3-.6zM138.4 .4l-1.1 1.4-4.6 1.8-3.6-1.8-2.8 .9-2.1-1-.7-1.3zM149.2 .4l.3 2.1-1.1 1.4-2.2 0-6.3-2.8-.7-.7zM152.6 .4l21.3 0 1.5 1.4 .7-1.4 7.3 0-1.5 4.2 .8 2.2 .5 .8 3.3-.1 1 3 1.4 0 .9 1.2-.9 2.5-2.8 1.7-.4 1.5 1.8 1.3 2.8-2 2.9 .2 1 3.4-6.7 1.6-3.1-1.6-1.2-4.3 2.7-2.1 .4-2.2-5.2-.9 .1-2.6-1.7-3.6-3.4-2.6-.7 2.6-5-1.4-3.5 2.1-2.9-2.2-2.8 1.5-2.9-1.1-2.8 3.2-4.8-4.2zM185.4 .4l13 0 .5 4.7-4.3 1.3-1.2-1.1 2.6-2.2-9.2-1.3zM201 .4l9.5 0-2.6 3.5 2.4 2.6 3.6-2.6 .6-3.5 10.9 0-.9 2.1 3.3 1.4-.5 2.9 1.2 2.8-3.6 2.1-1.1 3.5-2.9-.4-5 2.6 0-1.4 2.2-2.4 .6-4-2.6-1.4-5.8-.5-1.5 1.2 .5 2.8-1.9 1.7-.8 2.6 2.2 3.2 7.1-1.7 4 3.5-1.8 2.5-4.4 3.2 2.7 3.5-.8 3.6 3.3 7.1-3.7 2.1-2.1-.2-.2 .9 4.9 3.6 1 3 5-.4 2.8 1.9 2.2-1 4 6.4 .3 5 3.5 1.9 1.4-.9 2.1-4.5 1.5-.5 1.3 1.9 .5 3.5 1.5 .7 2.8 0 1.7-3 4.3-.3 1.4 4.2 3.5-1.2 2.9 1.8 2.1-.1 2.9-3.4 3.5-.8 3.3-2.1 .3-1.5-1.8-3.5 2.9-3.6 1.5 .7 1.1 7.2 2 1.1 3.2-2.6 .3-3.6 4.3 .7 2.1 1.4 7.4-1.3 .5-1.4-2.3-.7-1.1-3.6 5.5-4.1 2.2 .5-1.2 4.3 .4 1.1 1.4 .5 7.9-1.9 .3-3.2 1.8-1.8 5.2 1.8 2.6 9.7 7.5 2.3 .1 1.5-1.9 2.7-3.8-.6 2.3 4.3 5.1 1.8 3.5-1.9 5.7 2.9 3.2-.7 3.2-2.4 2.9 4.3 5-1.3 4.2 2.6 1.9-1.1-.1-4.2-3-2.9-.9-2.3 3.6-.3 1.4-1.8 .4 6.6 1 1.1 1.4-.6 2.2-4.3 5.7 3.3 1.1-1.7-.1-2.8-1.4-2.9-2.8-2.1 6-7.3 5.7 .3 2.8 2 7.9 0 2.1 .8 4.3-2.7 8.5 .3 1.4 .9 .5 2.9-4.6 2.8 4.1 2 1.2-1.3 .1-2.8 6.6-.6 2.1-2.3 3.5 1.2 .8 2.2 1.4-.3 0-6.6 2.1-3.2 1.7 1.7 1.2 3.4 3.5 1.9 7.8-.6 7.2 .8 6.4-1.4 2.1 1.6-.7 3.1 1.4-.1 2.1-2.3 5 3.5 6.4 1.6 1.1 2.8-1.3 4.9 2.5 3.6-.8 2.1-2.8 2.2 1 3.5-1.1 3.6 1.4 .9 3.6-.5 2.3 6 4.1 1.9 .7-1.2-.6-2.1 2.5-2.2 .7-2.8 3.8-2 3.6 .7 1.4 2.7 .9-.7 .1-2.1 2.5-.6 1.5 8.8 2.8-1.5 1.8-6-3.6-3.6 1.4-2.8-1.2-2.9 .3-5 3-3.5 .5-2.9 8.1-2.8 .1-1.4-2.5-2.9 2.8-4 .7 .3 2.8 2.6 0 4.7-2.8 1.5-1.7 4.9 1 1.2 1.4 0 2.1-4.3 0 9.4-3.5-.7-1.4 1.9-6.1 3.9 .7 4.2 3.3 2.9-2.9 7.8 2.8 2.6-.5 2.4-1.6 .1-2.9-2-2.8 1.9-2.8-4.2-4.7 2.8-1 2.1 1.5 2.1-2.2 .7-2.1-4.2 .9-4.3-2.4-1.7-1.3 1-1.7 5 .3 3.5-3.7 2.3-1.2-.9 1.3-2.8-1.6-.7-1.4-3.3-2-1-.8-3.5-7.8 1.6-1.5 1.2 3.4 4.3-1.9 2.8 2.9 2.2 2.1 3.6 1.7-1.5-1.7-2.9 1.4-3.1 2.1-1.4 2.5 1.7-.3 2.1-2.6 2.2-.4 1.4 4.6 5-.9 2.1-2.2 .7-3.4 3.6-.3 2.1 2.3 1 5-2 4.2 1.7 6.5-1.3 1.1 .6-2 7.8 .9 1.6 3.5 1.2 .4 2.2-3.9 4.1-.8 3 .8 1.7 3.2-1.7 1.5-4.3 3.1-.1 2.1-1.1 .3-2.3-1.8-2.2 .1-1.6 5-1.8 1.1 1.3-1.1 3.5 4.2-1.6 3.6 5.2 2.8 1.4 0 6.1-4.2 .5-1.4-3.2-2.2-1.2-2.1 .3-.6 1.1 2.7 3.9 3.6 0 1.4 1.4 2.8 .7 0 5.6-1.9 1.2 1.9 3.1-1.4 .6-2.1-.9 .5-2.1-3.6-2.1-1.9-3.3-6.4-.6-1.2 1 2.6 .4 3.1 3.9-2.4 2.2-2.8-1.7 .7 4.5 5-.6 2.1-2.3 2.2 1.4-.8 1.9-3.5 3.4-4.3 .2-1.4-2.2-4.6-1.1-.4-2.2-2.6-1.4 2.5-3.5-.6-1.5-2.1 .7-4.3 4.7-3.6-.6-.9 3.8 2.4 2.2 7.4-1.5 1 3.6-3.3 3.5 1.3 2.4 2.1 0 3.6-1.8 2.8 3 1.4-.7 .1-2.2 2.1-.9 3.5 1.1 2.9 2.5 1-1.3-.9-3.5 .6-2.5 2.6-1.1 1.6-3.8 0 14.3-1.9 2.3 1.9 1 0 45.2-5 0-.6-1.1-1.1 1.1-3.5 0 0-2.8 3.8-.6-.9-3 3.8-3.4-.7-1.4-3.9 2-.1 2.1-3.9 1.1-2.8-1.1-5.2 2.2-.9 1.4 1.6 3.5-15.3 0-1-3.5-2.7-1.5-1.5 5-4.7 0-1.3-2.1 2.2-5.7-.5-2.8 .8-1 3.6 3 5-.1 2.1-1 2.1 2.4 4.3 .8 1.2-1.3-2.2-4.2 3.9-1.1 4.2 2.3 2.7-2.7-.5-1.6-9.3-2.4-3.5-3.6-8.6 4.1-1.1 3.5-1 .7-1.2-.7 1-3.5-.5-.4-5-1.3-5.7 .4-1.8 1.3-1.7 5-1.6 1.4 6.5 2.2 4 7-.1 1.4-4.5 0 .5-2.8-2-2.2-5.7 .8-2.6-1.4-.5-1.5 1.7-3.5-2.9-6.4-2.1 5.2-6.3-.2-.2 1.4 2.1 2.8-2.6 5.7 3.4 .5 2.9-2.8 7.2 4.4-19.3 0 .9-6.4-2.3-2.8-5.1 3.6 1.3 3.5-.5 2.1-4.1 0 .1-2.8 2-2.8-5.1-8.1-7.8-.7-5-2.9-3.8 4.5-.4 3.6-3.1 1.4 .2 2.6 3.5-.7 1.1-3.3 2.5-1.4 2.8 2.5 3.6-1 2.3 .6 2 3.6-.7 2.8-2.9 .2-3.8 1.9-6.3 0-1.3-2.4-3.6-2.1-1.8 1-.1 3.5-10.4 0 .2-3.5 3.6-.8 5-2.9 3.6-4.1-.8-1.7-4.2 .4-.4-2.3-3.2-1.1-2.2-6-1.4-1.4-2.5 2.1 .6 5-2.3 2.8-4.3 2.4-3.9-.9-1.8 3.2-3.5-.9-4.8 4.1-3.3 5.6-5.1 0-.6-1.4-4.7-1.4-5.7 2-4.3-1.3-2.1 1-2.9-.2-1.5 1.3-3 0-3.3-1.7-1.4 1.7-2.6 0-1-1-7.1-1.3-1.1 2.3-3.5 0 1-2.3 6.9-5.5 .6-1.4-1.1-1-6.4 .4-7.1 4.4-.6 2.6 2.5 2.8-6.3 0 1.1-2.1-.9-.8-7.2 1.7-2.5-1.6-.6-11.4 3.1-1.7 2.9 1.4 2.5-1.1-1-2.8-1.5-1.3-2.1 2.5-2.2-.3-1.3-4.5 4.9 1.2 1.5-4.8 2-1.8 1.2 1.1-1.5 2.9 .5 .7 4.1 .9 4.3-1.9 2.8 1 .8 1.4-.1 2.9-1.4 1.7-3.6-1.6-3.7 1.3-2.8 2.8 .9 2.8 1.4-1.4 3.5-.3 3.6-2.8 2.1 1.1 2.9-1.8 4.2 1 1.5 2.8-.4-5.6-3.5-.8-.9-2.8 2.2-5.7 1.9-1.8 1.6 1.1 1.6 3.6 .5 4.2 3.4 3.5 5.7-2.3 3.5 3 2.9-2.7 2.8-.3 .7-3.7 2.6-1.7 4.5-1 1.5 .9-.7 2.3-5.5 2.7 1.3 2.9-1 2.1-4.1 1-3.6-1.6-1.3 .6-1.8 4.3 3.1 3.3 6.4-4 5-.4 7.1 4.6 2.2 2.8 2.1-3.8 4.3 .4 1.4-2.6 2.9 0 3.5-2.7-1.9-5.4 .5-1.5 2.8-2.1-1.4-.8-2.8 .3-2.6-4.5 2.6-1.3 2.9-.1 .9-5.7 2.3-2.8-.4-1.1-.8-.1-1.5 2.6-3.7 .7-4 4.2-2.9 4.7-1.4-.1-.8-1.7 1-4.3 10.2-7.1-2.5-2.1 1.5-2.1-.2-2.9 .8-1.2 2.1-.2 2.2 3.3 1.5-2.6-.1-3.5 4.2-1.6 3.6 .9 1.9-.8 1.4-6.4 3.1-2.2 2 .8-4.3 5 3 3.8 1.4-1 .8-2.7 6.7-1.5-.1-2.9 1.2-1 2.8 .6 3.8 3.3-2.4 2.5-3.5-.5 2.1 4.8 4.3-.1 2.6-4.6-1.1-5 .7-3.5-2.2-1.1-2.9-4-8.7 3.7 1.4 4.2-1.2 1.9-4.2-1.9 2.2-3.5-3.7-3.7-5.7-.1-3.5 3.8-4.7 .7-.2-2.2 2.9-3.5 5-2.9-.2-5-2.8-3-2.8 1.6 1.5 2.9-.9 1.8-1.4 .3-1.7-2.1-2.6-.7-2.7 2.8 0 .7 6.4 2.2-.8 1.1-3.6 .8-2.9 3.8 .1 1.4 2.5 1.4 .2 1.4-2 .3-4-1.7-1.7-6.2-2.1 1.3-.4 7 2.9 2.9-.5 2.1-1.3 1-3.4-1 .3-2.8-3-7.1-1.6-7.9 .9-2.8-4.6 0 .3-2.9-1-1.2-3.6 .2-1.7 1.8 1 1.5 4.6 1.3-2 6.4 2.8 7.8-.4 1.1-7.8-3.4-2.6-3.4 .4-1.7 2.9-.2 2.2-1.6-.8-2-3.7-.2-2-3.1-5.7 2.9-1.3 1.7 .6 5.5 2.1 1.6 2.9 .2 1 1.2-1.1 4.3 2.2 .7 3.6-1 2.8-2.9 2.1 2.5 1.8 3.5-1.7 2.9-.5 4.2 3 2.2 .2 2.8-2 .8-2.7-.8-1.6-5 1.2-2.8-.4-1.4-10-4-2.7 4.7 1.9 5 2.2 .2 2.1-1.6 3.6 1.6 .4 4.7 2.5 .7-1.5 2.9 2.8 2 4.2-2 .3-3.6 3.4-2.4 2.5 1 2.7 2.8-.3 2.2-3.2 4.2-2.4 1.5-1.5 3.1-2.6-1 1.8-2.1-4.1-2.7-.6 .5 1.4 3.6-1.6 .8-2.8-.8-.3-2.9-1.8-1.2-.9 .5-1.6 7.1-8.2 3.9-.4-5.3 3.2-2.9 2.9 0-.7-2.1-4.3-.4-7.8 3.6-4.3-1.5-3.6 .9-5.6-.5-5.7 3.4-2.9 .6-1.6-.4-1.7-2.1-8.8-3.8-1.4 .5-1.4 2.3-2.2 .3-2.1 2.5-3.6-2.3-2.1 2.3-3.5-2.3 .5 3.3-1.3 2.3-4-3-.5-3.5-.9-.7-8.1 1.1-4.2-1.6-2.7 1.2-2.3 2.7-6.4 1.3-2.6 5.2-2.4 1.4-3.6-1.7 .2-2.5-2-2.2 .5-3.5-1.5-.4-3.1 1.8 .2 5 4.9 5-4.4 5.6-.5 3.6 .7 .2 1.5-2 1.4 0 2.1 4.4 2.9 1.1 2.8 2.4 1.7-1.8 0-1.5-1.7-2.2-3.5-1.1-1.3-2.3 .6-1.5 2.1-1.1 3.5-.2 .8 3 3.5-.1 1.8 5.5-.7 1.5-3.1 1.4-1.1 3.5-8 0 0-4.9-1.7-.9-2.3 1.6-.9 4.2-6 0-2.2-3.7-2.2 3.7-2.1 0-1.4-1.7-3.1 1.7-4.8 0-.8-2.1-1.2-.5-3.6 2.1-3.5-.3-1.7 .8-4.4 0-5.3-1.5-5.5 .1-1.1 1.4-10.9 0-1.7-1.9-2.1 1.9-2.2 0-1.4-1.1-1.4 1.1-8.2 0 6.3-3.5 0-9.3-1.7-2.7-2.9 .8-3.5-.7-5 1.6-2.1 1.8-.9 10.6 1.2 1.4-10.5 0-3.4-3.7-2 1.6-.8 2.1-14.5 0 .6-2.8-1.7-4.3-4.3-.9-2.2-2.8-3.5-.4-1.5-2.3-.3-2.8 2.5-1.9 2.8 1.6 1.5-.7 1.1-1.9-.7-2.8 1-2.1 3.8 3.5-2.6 6.4-1.6 1.4 .4 .9 4.3-.7 2.8-2.9 2.1 .5 3.6-3.9 3.6-.2 1.8 1.4 .8 2.1-2.3 4.3 .7 4.2 1.1 1.1 1.4-.4 .7-2.8 3.3-2.8-.4-3.6-1.9-2.1-.7-4.3 1.9-4.3-1.7-9.2 1.1-2.1-.7-3.6 2.6-7.1-.4-2.1-1.7-1.1-4.9 .4-.7 2.2 1.6 2.7-.7 5-3.1 .7-2.1 2.9-2.9 .9-2.2-.9-.6-3.9-3.6-.8-2.8-3.1-3.6 .4-1.8 3.8 2.4 2.9-.2 2.8-2.5 1.8-4.3 .4-2.1 2.3-2.8-2.4 3.1-2.8 .1-2.1-1.1-.9-2.9 .5-.7-1.1 .4-2.8-3.7-2.9 4.4-.7 .7 3.6 1.8 .8 4-5.8 3.5-1.4-.2-3.6-1.6-1.9-7.1 .1-2.8-1.7 4.9-5.5 3.6 .9 2.8-.8 1.4 1.3 1.4 4 5.7 1 .1-1.6-2.1-1.5 2-5.7 2.9 .5 2.8 2.4 2.5 2.8-.1 2.2 1.2 1.4 2.8-3.3 5.3-1 0-1.4-1.6-1.4-4.8-2.1-1.3-3.6 3.1-4.7 1.5-.5 1.7 1.6-1.2 3.6 2 .7 3.5-6.4 .9-7.8-2-1.5-2.1 3.5-2.8-1.2-3.6 .2-7.8 4.5-2.2-1.2-.1 1.4 2.3 2.1 3.4 1.4 1.9 3.6-8.2 1.2-2.1 2.1-2.7-.5 3.5-5.7-3.2-5.6 1.2-5 2.4-4.3-.5-2.8-2.1-1.6-.1-4.1-1.3-.9-2.2 .6-1.4 2.8-3.5 2.5 2.1 1 5.7 .5 0 1.4-4.3-.6-4.3 2.9-5-.6-.9 1 3.2 6.4-2.9 2.9 .6 2.8 5.7-3.6 7.1 1.5 .1 .9-6.6 4.1 1.4 2.8-.5 .7-1.5-.3-.8-2.5-4.9-3.5-2 3.5-.3 2.8-1.9-1.1-2.2 1.7-2.8-.2-7.7 5.3 1.3 3.7 2.1 .1 4.5-3.8 2.6-4 3 .5-.8 4-3.6 2-3.5 3.5-2.3 4 1.1 4.2-.5 3.6-2.4 4.3-2.3 8.5 1.4 1.2 2.1 .1 3.2-3.4-.4-2.2 1.5-2.8 2.8-1.3 2.1 .6-3.3 4.2 1.2 2.2-.4 1.4-2.4 3-2.9 .3 0 1 4.3 6 7.1-1 3.6 1.7 .9 1.8-.9 2-5 1.6-3.6-1.4-1.4-2.1-3.5-.4-2.2-2-4.2 1.3-1.4-3.3-1.5-.4-5.9 2.6-1.9 4.1-2.9-.2-2.1 1 .7 1.4 1.4 .4 3.6-1.3 1.5 2.4-.1 1.6-5.7 .5-6.8 2.9 .4 2 4.3 .2 0 3.4-4.3 0-2.1-2.8-5-.3 .4-7.5-2.5-1.4-1.4 1.4-1.5 4.9-2.8 .5-2-1.2-.4-1.4-1.9 .3-.7 1.9 1.9 2.8-1.2 1.4-2.1-2.7-5.4 2.7-.2 1.4-8.5 0-2.3-1.6-4.6 1.6 1.8-3.6 6.4-.4 .4-4.5 2.1-4.3 3.2-2.1-2.8-3.5 3-5-.4-5-1.3-1.1-2.1 .9-2.1 2.8-2.2 .2-.1 2.9 3.9 5-2.8 5.7-5.2 .4-1.5 2.4-3 0 .3-2.1-3.7-5.6-3.4 2-2.3 2.8-2.8-.7 .2 4.3 5.5 1.6 2.9 3.4 .1 1.4-.7 2.1-9.9 0-.9-1.4 0-13.1 1.6-1.1 .4-4.3 3.7-5.7-3.6-4.5-2.1 0 0-2.1 2.1 .6 1.8-1.1 .3-5.6-.9-2.2 1.6-3.5-1.4-1.4-2.1 0-1.3 1.4-.1 3 0-30.8 2.5-.7-2.5-2.5 0-7.2 5.5 6.9-.2 1.4-2.2 1.4 .3 .7 1.5 .7 2.9-1.6 1.2 3.8 6.6 3.5 0 .9-2.6 1.3 1 2.1-.6 4.3 2.7 2.1 1.6 4.7 1.5 .5 3.5-1.7 2.9 3.1 2.7-.9 1.5-5-2.1-7.1 5-4.5 1.4 .4 1 2-4.5 1.1 0 1.7 7.1 8.3 3.5-1 1.4-2.6 1.5-.7 3.5 3.6 .8-1.2-1.5-4.7-5-.8-.6 2.7-1.5 .4-3.9-1.1 .7-3.6 1.8-.2 2.8 1.8-.3-3.7 3.2 1 1.2-1.7-2.7-2.4-2.1 2.9-2.6-6.2-2.4-1.8-2.8-.4-1-1.4 1.7-7.2 2.1 .3 2.2 3.2 2.2 .2-.2-2.9-2.1-1.4 1.5-1.2 2.8-.2 .9-1.5-3-6.3-1.4 .6-2.2 4.5-2.1 1.5-5.7-3.2-2.8 .6-2.9-6-1.4 0 .3 3.4-1 1-1.9-3.9-3.1 .6-.9 2.3-3.9 2.1-.8 1.4 7 7.2 3.6-.1 .8 1.5-3.7 1.8-1.4-1-6.4 1.8-1.8-.5 1.4-6.4-3.5-5.7 5.1-5-1.4-3.5 4.5-2.2 .1-4.9 2.3-2.9-1.9-2.1 .4-2.1-.9-1.1-2.1-.6-1.1 1.7-1.1 0-.3-1.5 1.6-1.4-.6-1.5-1.4 1.7-2.1 .4-1.4-.6-.8-2.2-1.3 .8 2 2.1-1.4 5 2.9 1.8 4.5-.4 1.4 2.1-4.5 4-1.4 .3-1.5-1.4 0-4.1-1.4-1.3-4.2-1.3 0-5.7 1.8-.4-1.8-.3 0-12.8 2.8-1 1.6 2 .2 2.9 3.2 0 5-2.5 3.9 .3 1-3.5-1.4-2.2-.4-4.2-1.7-3.2-1.9 1.7-1 5-2.8-1.1-.3-2.4-3.3-1.3-1.2 .6 .9 3.5-1.8 2.8-2.8-2.1 0-3.2 2.2-1-.5-2.9 3.5-2.1-1.9-4.3 3.1-1 .6-1.1-2.5-5.7 1.5-3.6-.3-2.1 .7-.7 1.4 1.2 3.5-.4 1.5 1.3 0 3.3-3.6 1.5-.1 .9 3.7 6 2.1 1.5 4.1 1-.9 6.4 3.1 2.2-2.3 5 3.6 2.8-1.2 2.8-4.3 3.2-3 .4-1.6 2.8 4.6 .5 2.2-2.1 2.8-.2 2.9-2.8 2.8-1 1.6 2.1-.2 2.6-6.4-.4 .1 4.9-4.4 .7 .3 1.4 2.6 2 2.1 .8 2.2-2.1 6.4-1.1 2.8-2.9 6.4 1.2-1 4.3-4.1 3.5-3.1 5 1.1 2.8-1.3 5 .6 2.3 1.8-.2 1.8-6.5 1.4-1.2 4.2-.9 1.3-4.2 1.6-1.2 2.1 1.5 3 7.6-.8 .9-2.9-1.8-3.5 2.2 0 1.7 2.5 1.2 1.7 2.5 4.3 .1 6.4-2.3 0-2.9-2.4-1.6-3.9-5 .6-4.5 4.3 0 2.8-5.6 3.6 3-.3 3.5 2.4 0 5.4 2.9-.4 2.5-4-.4-.3 1.6 1.3 2 3 .5 2.1-2.1 3.6 1.4 5.7-.7-1.5 3.7 .8 1.5 4.2-1.7 1.5-3.2 2.3-.9 .5-4.9 4.3 .8 .6 .6-.9 2.8 2 2.9 .5 2.8-.8 2.7-5.5 5.1 .3 1.5 1.6 1 1.3-1 .6-3.6 1-1.1 3.5-.2 2-1.5 1-5 5.3-2.1 .1-4.3-1.2-1-3.6 1.1-3.8-3 5.1-2.1-2-3.7-5 2.5-3.4-.2-.5-1.4 1.1-2 4.4 1.3-2.3-3.6-2.8-1-3.6 .4-1.8 2 1.8 8.6-.7 .4-10 2.2-4.6-3.4-1-2.1 .6-2 3.6 .6 1.8-1.4-2.1-4.3 3-3.5-3.4-4.9-2.9 1-2.1-1.3-.6-4.8 3.2-1.4-.2-.7-2.4-1.5-2.1 .2-1.1 1.3 .5 2.8-2.3 2.1-4.2-4.4-2.3-.5 .8-2.2 4.3 .8 8.4-5 .9-2.9-1.5-2.8-2.8 2.4-2.9 .9-.7 2.4-1.4 .8-2.3-3.7 2.4-2.1-.1-2.2-3.6 .1-6.4-5.4-2.7 1.1 .5 4.3 3 1.4 2.4 2.8-1.7 2.3-2.9-.6-1.4 .6-1.4 11.1 9.2-.6 2.2 1 2.3 1.9-.3 3.5 3.5 4.3-1.3 1.5-4.2 .4-2.9-2.3-3.5-.3-1 3.5-1.9 2.2-1.5-3.6 1.5-6.7-3.2-3.2-2 2.1-.2 3.5-3.1 1.8 1.2-4.6-1.9-4.3-3.5 .7-.8 2.6-6.4-1-5-3-2.1-4.2 .7-3.8-4.2-2.6-.7-4.3 .6-2.5 1.4 0 2.5 3.2 9.6 .8 3.7-2.2 .4-1.4-1.1-1.5 2-.5 2.1 1 3.6 4.7 3.6 1.6 1.6-1.8-.2-2.7-4.3-1.2-.9-1.8-2.6-1-.6-1.1 1.3-2.4 2.8 2.7 1.4-.5 2.9-6 3.5 4.5 8.6-4.5 .8 1.2-2.6 2.1-.2 1.5 3.8 0 3.9-2.4 4.2 3.9 1.5-.8 .5-2.9-2.7-2.1 .4-.7 3.9 .4 2.7-3.3 5.8 .1 7.2-4.3 2.5 .7-.6 4.3 2.3 1.2 1.7-1.2 2.6-6.2 1.1 4 6 2.4 2.1-.6 6.4 .9 4.3-1.7-.3 5.4 3.9 1.1 1.4-3.4 1.9-1.2 .7-4.3 3.8-.2 1 2.3-4.3 5-.6 2.1 .9 1.5 3.1 .7 1.3 2.4 2.5-1-2.4-2.1-1.5-4 5 2.6 1.4 3.5 .7 .1 3.6-2.5 2.1-5.4 6.4 .4 4.1 2.4 1.5 2.9 3.9 2.1-1.4 2.8-5.3 3.6 .4 1.4 1.8 .9 2.1-2.1 3.6-.7 1.7-3.8-.4-1.4 1.5-1.1 12.8 .6 1.7 2.6-.5 5.7 6 4.1 .9-1.2 0-4.3-2.4 .4-1.3-1.1 0-4.3-1.5-2.8 3.1-5.7 2.9-1.4 .8-1.4-.4-4.3 2.1-2.1 .1-2.2-2.8-3.5 3.4-.3 2.9 1 .8 1.4-.4 3.6 1 .6 5.7-1.7 2.6 3.2-.5 4.3 3.6 2.1 2.6 0 1.7-2.9 6.4 2 3.3-2.7-2.6-4.5-3.6 1.3-5.7 .5-3.1-5.8 2.5-3.6-.8-2.8-5 2.9-2.1 2.7-.5-.6-.7-3.6 1.2-.9 2.9 .2 .5-3.5 3-2.6 7.1 3.6 2-1-2.7-.8-1.5-2.8-.2-3.5-2.6-.5-.3-5.2-3.2 .9-1.3-.9 .1-1.5 1.9-1.8 3.5 2.8 2.9-.2 .6-.8-.7-2.1-3.5-1.8-5.7 2.9-4.2-.1-2-2.4 .1-1.4 4-.7 .2-.8-1.6-2.8 2.2-.7-.1-7.8 2.7-3.6-3.1-2.8zM204.3 8.9l.3 1.3 1.6 .1-.2-1zM308.4 51.5l-.7 .8 .7 1.4 5.7 .3-.7-1.7zM297.1 55.8l-.2 2.1 1.3 2.2 3.6-.7 .2-1.5-1.4-1.7zM312.8 57.9l2.4 1.5 .4 3.5 4.9-2.2-1.4-1.9-3.5-.3-1.5-2.9zM456.2 55.8l-.1 1.4 1 .7 1.9-.7-.4-1.9zM222.3 57.9l4.3 5.3 2.8-1 0-1.4-1.4-1.3-4.9-2.1zM380.4 58.7l-.8 2.1 1 3.5 1.1 .6 2.5-3.4-1.6-2.8zM411.6 60.8l0 2.8 2.5 .7 .3-2.8-1.4-1.1zM188.5 61.5l-.3 4.3-2.8 2.1 .7 1.4 4.2-1.4-.4-2.1 1.1-3.6zM212.7 62.2l-.5 2.1 1.7 3.6-.1 3.3 4.3 .3 .4-4.3-1.3-3.6-2-1.8zM502.9 62.2l-.2 1.4 1.4 1.1 0-1.8zM394.5 62.9l-2.8 2.6-2.9-.2-.8 1.9-2 .9-4.3-1.4-2.8 .5-4.3-2.1-5 .3-5 2.5 .3 4.3 1.2 .9 7.8 .5 5-.8 6.4 .4 6.1-1.7-1.5-3.6 1.1-1.5 2.8 2.9 8.6-2.7 4.9 .9 1.2-1-1.2-1.8-4.2 1.1-6.4-3zM227 65.1l-.6 2.1 3.8 6.6 .9-.9-.2-3.6 2-3.5-1.3-1.9zM302.6 65.8l1.7 0 .8-1.5zM193.4 65.1l1.3 3.5-6.2 5 2 2.8-.5 2.2 1.8 1.1 2.8-.2 4.3 1.2 2.1 3.1 2.9 .9 1.6-2.6 3.2-2.1-3.2-3.6 1.5-3.5-6-3.4-3.3-.2 .4-2.8-3.5-1.8zM262 70l-.5 1.5 2.4 0 .1-1.5zM170.4 74.9l-.9 2.2 3-1.2 1.5 1.6 1.4-.1 0-3zM219.9 74.3l.3 1.8 2.9-1.7 2 2-1.3 2.9-3.2 2.1 .7 3.6 1.1 1 1.8-1 1-2.4 4.4-4 .2-2.2-.3-1-4.3-1.6zM235.5 74.3l-2.4 .7 .1 1.4 4.1 2.5 2.1-.7-.2-2.5zM214.1 75l-1.7 3-1.9 1.3 1.9 1.8 2.1 .4 1.4 4.2 1.5-1 .6-2.6-2.5-2.1 .9-4.3zM45.6 76.4l-1.8 7.1 1.4 2.4 3.9-3.1-1.6-4.9zM156.9 78.5l-2.9-.4-2.1 1.8-.7 3.1 2.5 1.3-2.6 1.4-.8 5 4.5-.8 .6-3.5 2.2-2.1 1.3 .7 .1 4.7 1.4 0 2.1-4-2.1-1.4 .8-1.5 .9 0 .6 2.2 2 1.1 4-2.6 .5-1.4-3.8-.9 0-4.7zM292.5 78.6l-2.6 .8-2.8-.4-2.1 1.4-2.9-1.1-.7 .5-.3 1.6 1 1.2 2.9-.8 2.3 1.7-3.8 2.9-5.6-1.7-1.5-1.2-1.4 .6-1.4 2.6-3.6-.3-.9 2.8 3.4 4.3 0 2.8 1.1 1.7 3.5 .6 2.2 2.2 3.5 .5 1.6-.7 .6-2.8 1.4-.4 .9 1.1-.6 2.8 1.1 .8 2.1-1.9 7.9-3 4.2 1.2 5-8.6 1.8 1.6 .3 3.5-1.3 3.6 2.8 1.4 1.1-2.8-1.7-2.2-.5-2.8 1.6-3.6-3.4-2.7-3.2-.1-.4 2.1 1.2 2.9-1.1 1.1-2.9 1.1-.7-2.1-1.4 .3-2.4 1.7-3.3 4.9-2.8-2.1 .3-2.1-2.3-3.6 1.7-2.8-1.8-2.8 1.3-.3 5 2.2 2.7-5.5zM232.5 80.7l-1.5 1.4-.6 4.3-8 .9-1.4 1.2 1 4.3-2.1 2.1-.4 2.4-2.8-.2-1.1 2.1-3.9 .7-1.4 2.2-1.8-.8-.9-2.1 2.2-3.6 3.8-2.1-.5-1.9-1.4-.8-1.9 .6-3.1 4.2-5-.3 4.4-3.2 .1-3.6-2.3-2-2.9 2.4-1.4 3.5-1.4 .2-4.3-6.9 1.4-3.6-9.9 0-1.2 2.2-.5 7.1 .9 1.6 1.5-.2-.1-4.3 1.5-1.6 1.4 .2 4.1 5-.2 2.1-2.4 3.6 5.6-1.9 .2 7.6 2 1.2 3-.5 .5-5.8 5.3 2.2 1.3 4.3 3.4-1.1 3.5 1.1 2.9-.3 1.1-1.1-.4-2.6 .7-.8 2.9 1.3 3.4-2.9-2.7-3.4 2.8-.6 1.4-2 2.9-1.4 .7-.1 1.2 6.1 2.3 2.1 .8-.7 .5-5-4.3-2.8 1.9-1.5-1.4-2.8 2.5-2 4.3 1.5 1.5-1.6-4.3-3.4zM82.8 84.3l-1.4 1.4 .2 1.4 3.4 .4 .4-2.5zM173.5 84.3l-1.4 6.4 .3 2.1-4.8 4 4.2 1.7 5 5.3 5.7-1.8 .7-2-3.5-.3-.8-3.8-2.1 2-1.4-.9-.7-3.5 1.4-1.5 2.1-.4 .6-1.7-2-4.6zM74.3 86.4l3 4.3 0-1.5zM123.4 87.1l-1.4 1.4 2.5 5 3.5 2.8 2.1 0-.2-4.9-4.1-3.6zM240.9 87.5l-2.7 4.6 7 3.5-.2 3.6 3.7 2.6 2.1-2.6-4.5-4.3-1.1-2.8 2.8-2.6 2.8 .5 .3-2.9-2.4 1-2.9-1.6zM263.3 87.1l-1.1 1.4 1.4 1.9 2.4-2.6zM257.6 87.8l-1 2.1 1.3 .7 1-1.4zM437.2 89.5l4.3 .4-.2-1.4zM88.2 89.2l-.7 1.5 1.8 .7 .4-1.5zM454.1 89.2l-1.9 2.2-2.8 .7 3.5 1.3 2.9-3.5zM258.6 95.3l-4.6 1.8 .2 2.1 3 3.1 2.2-.3 2.1-3.9 3.5 3.8 2.2 .1 1.4-1.4-1.1-6.4-4.6-3.3zM460.2 92.1l-4.1 2.8 1.1 3.1 1-.2 1.8-2.8 2.1 1.1 2.1-1.2-2.1-2.8zM442.4 97.1l1.2 .9 2.2-.4 .6-2.7-2.1-1.2zM319.4 94.9l-1.1 1.4 2.6 1.5 .5 1.4-4.5 .7-.7 1.4 1.8 1.4 10.4-1.6 2.1 1.6 2.6-.7 .7-3.5-5.2-3.6-3.1-.7zM338.2 95.6l-2.3 2.9 1 1.5 1.4 .3 4.4-2.5-1.5-2.7zM435.7 95.6l-1 1.5 .4 1.4 3.7 0-.1-2.9zM227 97.8l-.9 .7 2.7 1.4 0-1.6zM458.4 101.3l2.1 2.9-.2 2.1-7.9 4.3-.4 1.4 7.3 0 0-3.1 4.4-4-.3-1.4-3-2.2zM298.2 102l.9 1.5 1.6-.8-.8-1zM469.1 102l-2 2.9-.2 3.5 2.9-1.4zM27.9 104.2l-4.8 4.8-4.2-.2 .7 2.4 2.8-1 1.2 1.8-.5 1.9-4.2-.6-.2 2.2 1.6 2.1 6.9-1.4-.2-2.1 4.2-7.8-1-1.7zM335 104.2l2.6 2.1 0-1.7zM444.9 104.2l-2.4 2.1 1.1 4.2 3.6-1.3 2.1 .3 .1-1.1-2.9-4zM215.4 106.3l-3.2 7.1-.1 5 1 2.7 2.1-2.2 7.9 .2 .5-.7-2.7-4.1-3.5 1.6 .9-5.3-1.6-4.5zM415.2 107l2.1 1.9 2.5-1.2-1.1-1.1zM340.1 108.4l-1.8 .9-.8 4.8 .8 1.7 2.8 1.2 .9 1.4-.4 2.8 2.8 7.8-.7 6.4 1 2.2 1.6-2.9 3.1-1.4 1.7-3.5-.7-2.1-3.5-1.2-1.4-1.7 1-1.4 3.7-.8 .6-2.8 2-2.8 .3-6.4-1.2-2.5-1.2 .3-1 2.9 1.1 3.5-1.1 1.3-1.4-3.6-3.6 .4-.7-.9 1.1-3.6zM461.9 109.1l-.7 1.5 .6 1.4 1.8 .6 1.6-.6 .5-2.2zM111.6 109.8l.5 2.2 2.1-.7-.7-1.9zM417.2 111.3l-.7 1.4 .7 1.4 2.6-.7-.4-2.5zM27.6 118.4l.3 2.8 1.6 1.8 1.5-.2 1.1-2.3zM64.9 120.5l-.8 2.9 3.1 1.5 2.3 4.9 5.6 .1 2.3-4.4-.7-1.4zM358.3 123.6l-7.2-.3-.7 1.5 3.6 1.9 2.1 2.8 2.2-.5 1.4-3.1 3.1 .3 .4 2.1-3.3 2.9 2.4 5 3.1 .8 .8-.8-.9-2.9 5.4-4.3-.9-1.4-2.1-.7-.2-1.5 3.6-1.8 0-1-3.6-.7-2.1 2-2.2-2.3zM380.6 121.9l-.3 1.3 1.6-.6-.2-.7zM81.4 123.4l-.8 8.5 3.7 1.2 .3 1.6-2.4 1.7-3.6-2.5-.5 3.7 2.5 3.5-1.2 4.3 2.1 2.1 2.8-.3 1.4-3.2 3.6-1.3 2.3 .6 .2-1.5-2.5-.4-1.2-2.4 1.9-1.8 3.6-.3 .1-.7-.8-1.9-3.6-.2-2.5-1.5 0-1.4 1.5-2.2-2.6-1zM219.3 123.4l-.9 2.1 1.5 2.8 2.5 .9 2.5-.9-1.1-2.9zM377 123.4l-.7 1.4 .5 1.9 1.4-.7 1.2-2.6zM123.2 124.1l-1.6 1.4 2.6 2.3 4.2-.6 2.9 2 1.1-.9-.9-2.8zM336.9 124.8l.7 3.8 1.5-2.4-.8-1.4zM213.6 126.2l.9 1.6 1.4-.5-.7-1.5zM57.1 126.9l-1.2 1.4 .5 1.5 3.7-.3 0-3zM119 129l-.7 1.5 .9 2.4 2.3-3.1-.9-1.2zM60.8 130.5l-4.2 4.9 .7 1.3 2.1 .4-1.2 4 1.7 4.3 1.6-.1 2.9-3.3 3.6 2.7 2.3 0-2.2-2.1-1.1-7.2-1.2-1.4-3.5 .8zM372.5 132.5l0 2.2 2.8 2 4.7-1.3-1.8-4.3-1.4-1.2zM216.3 133.3l-2.5 4.3 1.4 1.4 2.2-.3 1.3-1.8-1.3-3.3zM50.1 134l-3.7 6.4-3.4 2.9 .8 1.1 6.4 .7 4.1 3.1-.5 3.6 2.3 2.1 .1 2.2-4.5 4.9 1.8 4.3 .4 6.4 2 2.2 1.8-3.6-1-4.3-2-1.4 1.2-2.2 2.1 3.4 4.3 1.4 3.2-.5-.2 2.2-3-1.2-1.4 1.9 1.4 5.1 4-.1-1.2 1.4-2.8 .4-1.5 2.9-4.2 1.6-1.2-.7 .9-3.5-1.9-1.1-3.5 2.5-.7 2.8-5.8 1.5-.6 .7 1 2.8-1 2-5 .7 1 5.9-2.8 2.8-.1 2.8 .5 1.2 2.8-1.5 2.8-.1-.2 4.7 2.4 .8 1.4-.8-2-5 1.3-1.6 3.6 .7 2.8-1.2 3.6 3.2 3.6-3.2-.8-1.3-6.4-2.8-1.4 .1-1.4 2.6-.8-.4-1.8-3.2 3.1-2.8-1.3-4.3 3.6-1.8 2.8 1.2 1.2 1.3-1.7 5 2 2.1 2.1-.3 2.2-1.8 2.8-8.7 5.3-3.4 .1-3.5 4.5-1.2 2.9 .6 3.5-1.5 .7-1.5-1.4-2.8-4.9 1.4-3.6-4.5-5-.6-.1-2 1.5-3 3.9-2-1-4.1-3.6 .2-2.8 4.7-1.4 1.2-1.5-.8-1.4-3.3 3-3.6-3.7-1.4 0-2.9-2.1-.8-1.1-2.7-2.3-2.1 1.1-3.6-1.8-1.4-1-2.9zM492.9 134.7l-.8 2.9 3.5-1.4-1.4-1.8zM220.4 136.9l-1.1 4.2-4.3 1.5-1.1 1.4 2.1 2.1 .4 2.1-4 .1-1.1 2.1 .6 7.1 1.8 3.5 .5 3.6-1.8 2.4 0 3.3 1.8 3.5 .4 4.3-2.2 2.8 2.3 3.6-3.8 1.4 1.2 5 3.1-.5 5 1.9 1 .7 0 2.2 1.9 1.5 2.1 .2 2.1-1.5 1.8 1.2-2.5 4.6-4.2-.4-3.6-3.7-2.1-1.4-1.8 .2-.1 3.5 1.9 2.9 2.8 1.9 5.7-.2 2.1-2 2.2 .1 2.7-2.7-2.5-2.8-.3-2.1-2.8-.2-3.6-2.7 .8-3 2.8 .4 4.3-2 .6-1.8-.6-1.6-2.1-1.2-2.2 3.5-1.4 .2-3.6-2.7-3.8-.3-.8-1.4 .1-2.2 2.4-1.3 1.1 .6 1 4 2.2-.4 1.7-2.2-1-2.2-4.3-1.7-3.3-4.6 .2-3.5 1.6-2.2-.6-4.2 3.3-.8 3.7-6.4 .1-16.3-.7-2.9zM72.4 137.6l1.2 2.1 2.5-.7-2.5-2zM4.4 145.4l-1.6 2.8 1.6 6.4-3.1 2.2 .1 1.4 1.8 2.8 2.5-.7 3.9 5.9 2.9 1.2 1-1.4-.4-3.5-1.3-2.2-.1-2.8-2-2.1 2.5-5.7-3.3-1-2.9-3.5zM72.5 146.1l-2.5 5 .8 2.8 2.1-1.4 1.5-3.5-.1-2.9zM76.5 151.1l-1.9 1.4 .5 2 3.7-1.3-.1-1.4zM74.1 158.2l-1.6 1.4 2.9 3.6 1.4 3.5 1.8 .3 2-2.4-.1-1.4-3.3-1.2-1.4-3.3zM43.9 162.5l-.5 1.4 2.3 3.5-1.2 2.9 3.5 .5 1.4-4.1-1.4-3.6-1.4-1.1zM389.7 162.5l-2.4 2.8 1 5.7-3 .8-3 2.8 1.3 2.8-.8 4.3 .4 1.4 1.4 .7 5.7-.9 2.2-2.7 2.8 .2 .6 .5-1.3 4.3 1.2 4.3-.8 2.8 1 .7 3.3-2.8 0-4.3 2.4-1.4-4.7-3.6 3.2-1.4 2.9 1.6 .9-3.7-2.3-2.3-3.6-.9-2.8-5-4.2-1-.1-1.5 2.2-3.5zM37 163.2l-3.2 1.4-4 3.6 .4 1.5 3 1.3 .6 1.4-.7 .8-4.3 .6-1.7-.7-.9-.7 .3-2.1-1.3-2.9-1.4-.8-1.9 .8-.6 3.6 4 1.4-2.7 2.2 2.7 4.6 4.2-1.9 4.3 3.1 2.9-1.6 .1-4.2 4.8-6.4-1-2.9zM222.9 163.2l-.4 1.4 1.3 .9 .8-1.6zM126 163.9l-.4 2 1.8-1.3zM500.5 163.9l-1 2.1 .6 4.3-1.6 2.1 2.1 2.8 1.4-.6 1.4-2.5 2.9-.5 .5-1.3-.5-2.3-2.2-1-2.1-2.9zM507.5 164.6l.1 2.1 1.3 0zM491.9 166l-3.4 2-2.2-1.8-.5 2.7 4.8 1.3 2.6-2.8zM120.2 167.4l.2 .8 1.2 1.4 1.9 .1 1.4-3.6zM408.7 168.2l-1.8 3.5-2 1.4 1 4 2.9-2.2 4.2-1.5-.7-3.8zM222.9 169.6l0 2.8 1.6 .7 .9-1.4-.2-1.9zM337.5 170.3l-1.2 2.1 1.3 1.7 2.9-1 4.9 .7 .4-.7-6.8-3.3zM479.8 170.3l-1.2 1.4 2.3 4.3-1 2.1 .4 2.1 8 2.2-1-4.3 2.9-2.1-6.9-5.7zM496.2 170.3l-.6 .7 1.4 .7 .4-.7zM9.9 174.6l-2.3 9.9 3.9 2.1 1.7 3.9 4.2-3.2-1.4-1.4 2.9-9.2-2.9-1.1-2.8 4.5-1.6-2.7 .4-2.8-1-.7zM45 176l1.6 2.4 1.9-1-1.2-2zM490.2 176.7l.8 2.8 1.7 .9 2.8-3-1.3-1.5zM75.5 177.4l.3 1.5 2.1 .4-.7-2.3zM245.6 181.7l-.8 2.1 2.5 2.5 1.3-3.9zM37.1 184.5l.3 2.9 1.4-1 .5-1.9-.4-1.4zM67 185.2l-.6 1.4 .8 2.3 5 1.2 4.6-.6-.3-4.1zM490.5 185.2l-4 2.9 .5 2.2 1.5 .3 3.5-3.3 0-1.8zM403.3 186.6l-1.6 3.6 2.1 2.5 1.9-1.1 .6-2.8-1.1-2.5zM410.1 188.8l.1 3.7 2.1 1.6 1.5-.3 .3-1.5-1.8-3.9zM14.6 193l.2 2.2 2.8-.7-1.6-1.8zM377 193l6.2 4.9 0-4.3-5-1.1zM427.2 195.9l-.6 3.5 .7 2 5.7 .1 .4-.6-1.9-3-2.8-2zM22.8 196.6l.3 1.3 1.4-.1-.4-1.2zM324.2 200.9l-.6 2.8 2.7 2.1 .6 3 2.2 .5 2.8-3.5-2.8-1-2.2-4.5zM120.6 202.3l-1.1 2.1 2.3 .7 .9-2.1zM212.2 202.3l-.1 1.4 1 .6 0-2.1zM295.5 205.1l-.6 1.4 1.5 .7 2.4-1.4 .4-2.4zM124.8 208.7l.1 2 1.4-.2 .7-1.9zM29.7 210.8l.5 1.4 1.3-.7-.5-1.2zM236.6 .4l23.9 0 0 4.2-1.9 3.3-1.7-.4-2-2.2-.8 .7 2.1 1.5-.2 .7-2.3 1.1-.9-1.1 .6-1.4-3.3-3.1-2.1-.3-2.9 1.9-4.2-.3-4.9-3.2zM293.5 .4l4 0-1.9 2.4-2.1-1.3zM309.2 .4l4 0 .8 2.1-.6 1.3-2.7 .1-1.5 2.7-2.2-4.1zM322.7 .4l3.2 0-.2 2.1-1.6 .2zM326.9 .4l34.7 0 2.2 4.9-2 5.2-3.5 .7-1.5-.9-.7-2.3 4.3-1.8 .8-1.6-7.9-2.2-2.9-1.9-7.1 3.8-4.3-1.3-7.1 2.5-4.9-3.7zM368.9 .4l4.2 0-.2 1.4-3.3 3zM380.3 .4l9.8 0 .3 3.5 2.2 4.3-.3 1.4-10.9 .7-6-5.7-.4-1.4zM385.1 1.8l-1.8 1.4 .6 2.5 3.2-1.8-.4-1.6zM396.7 .4l5.8 0 3.4 2.2 2.2-1.4 2.8 .7 1.4-1.5 4.4 0 2.7 5 3.6 .4 3.6-2.6 3.5-1 1.6-1.8 7.8 0 .1 2.1 4 .8 .9 2-.9 1.4-2.8 .3-2.1 3.5-2.9-3.2-4.3-1.2-6.4 2.2-3.5 3.3-2.9-1.9-6.4-1.1-4.2 2.2-3.6-.8-2.8 1.6-2.9-4.8-.7-4.3zM435.1 2.5l.7 2.4 2.6-.3-.5-2.1zM419.4 .4l7.5 0-1.1 1.4-2.8-.4-2.8 .9zM444.3 .4l4.9 0 0 .7-1.3 1.7-2.1 .5-1.4-.8zM457.2 .4l2.4 0-1.7 1.3-1.1-.6zM467.1 .4l3.8 0 4.8 3.6 3.2-3.6 7.1 0 1.5 2.8-1.9 1.4-5-.5-1.7 1.9-.4 3.6-1.4 .6-6.4-6.9-2.9-.3-2.8 2.3 2.6 2.2 .2 1.4-2.8 .8-1.8-1.5 1.8-2.9-1.2-2.1zM493.7 .4l1.2 2.7 1.9 1.5-5.5 3.9-1.8-5.3 .4-2.8zM499.1 .4l7.8 0-1.8 4.2 1 3.6-2.5 0-2.3-4.2-2.2-1.9zM231.6 .9l3 1.6-2.3 3.1-3.1-1.7zM317 1.8l2.5 .7 2.5 2.7 2.8-.6 2.1 2.5 4.3 1.5 .7 3-1.6 .1-3.4-2.5-5.3 1.1-1.8 3.5-2.8 .5-1.1-2.6 2.9-2.1 1.6-3.6-.6-1-3.9-1.1-.5-.7zM27.4 2.2l6.4 2.2 .3 1.6-3.1 .8-2.9-1.2-1.8-2.4zM123.5 2.3l2.8 3.7-5 1.1-3-1.1-.2-2.8zM273.6 2.3l3.5 5.7 3.3-.5 .3 4.9 5.7 1.3 8.5-3.2 4.3-.3 .8-1.3-1.2-4.3 .4-1.6 .7-1 2.9 .3 .7 8.5 .7 .7 3.5-1.9 2.6 1.4-.2 9.3 1.2 .5 3.6-2.3 2.3 3.9-5.9 1-5-2.5-5.7 2.1-.5-1.3 1.5-2.9 0-2.8-1.7-.8-2.3 .8 1.4-2.1-1.9-1.1-2.9 .9-2.8-.5-1.1 2.1-4.4 2.8 2.7 2.9-.2 1.4-1.3 .8-3.6-.1-2-2.8 1.2-3.6-2-.6-2.8 .8-1.5-.9-.5-1.4 .8-3.6-1-1.7-2.7 1.7-.6 7.1-1.7 .8-2.1 2.9-2.1-2.2-2.2-.3-3.5 4.8-1.4 .6-1-.9 1.3-2.8-1.8-1-4.1 4.5 .4 1.5 2.3 1.1 3.4 3.8-.5 2.5-3.6-3-3.6 .8-4.2-11.3-6.4 3.9-.4 3.6 2.1 2.8-.3 1.2-1.4 .7-2.2-1.2-.3-3.5-2.5-.8-.9-2.8 .9-1.2 3-.9-.9-3.6 7.1-1 5.7 3.8 1.1-4.2 2.5-3.8 4.3-2.5 2.5 1.3 .1 1.5-1.2 2-3.8 .1-.6 1.4 .8 1.2 1.4 .4 7.2-2.4 1.2-1.3-1.1-2.9 .3-2.1-5-4.3 6-2 2.1 2.6 1.4 .5zM452.9 3.1l2.8 .4 1.5 1.5 2.8 0 1.7 3.2-2.4 .5-2.9-2.5-2.1 .6-2.1 2.2-6.4 1.5 2.1-3.3 2.7-1.2zM97.8 3.8l2.3 .1 2.3 2.9-1 .8-2.1-.6zM289.2 4.6l1.5-.5 2.8 2.7-4.3 4-1-1.2 1.2-2.8zM313.4 5.1l1.5 3.4-.8 1.8-2.4-2.8zM114.2 5.9l2.7 .1 .2 .8-2.2 .2zM350.4 5.9l2.2 1.6-1.5 1.6-2.4-.9 .2-1.4zM339 8.6l1.3 1-1.3 1.1-.7-1.1zM3.9 9.5l3.6 1.2 2.8 3.2 2.2 .2 1.4 1.3 1.2 4.9 1.7 1.4-1.5 3.8-1.4 0-2.2-3.2-1.3 .8-.8 3.8-.7 .1-1.7-1.8 .4-2.8-.9-1.4-6.3-1.9 0-4.4 .9-.8-.8-2.2zM237.3 9.3l3.6 .1 1.4 1.6-1.4 1.7-2.2-.1zM250.1 9.4l1.1 .9-.6 1.4-2.6 .6-1.2-.6zM139.8 9.8l1.1 .5-1.1 2-.9-.6zM211.7 12.2l1.4-.1 .1 1.1-1.5 .3zM21 12.9l2.1 1.1 .7 2.2-1.4 .4-1.7-1.3zM235.2 14.4l1.4 .8 .5 2.2-2.7 1.2-1-1.9zM224.5 15l2.1 .6 1.1 1.8-2.8 2.9-.1 2.1 1.5 2.1-1.1 1.7-4.4-5.2 3.2-2.2zM229.5 18.9l3.5 .5 1.2 2.3-.5 1.9-2.8 1.8-2.2-1.6zM.4 24.9l2.7 .3 1.3 1.5-4 2.1 0 2.7zM420.2 28.7l2.1 .5 1.7 3.9-1 3-3.9-5.2zM9.6 28.8l3.8 2.1 1.8 7.8-.6 3.5-2.1 5.6-1.5 .5-2.8-2-2.2 2-2.1 .2-1.8-4.1 1.9-2.1 5.3-1.4 0-3.6-1.1-.9-2.2 .2-2.8 1.8-2.8 0 0-2 1.4-.5 4.2-5.2zM461.4 29.8l3.6 3.4 4.3 1 2.1 1.9 5 2.1-.5 2.7-2.4 .7-4.6-2.1-1.1-1.8-2.1-.4-2.1-2.3-1.5 .2-.7 1.4 1.4 2.8 3.7 .8-1.1 2.8 .3 2.9 3.6 1.6 2.7-.9 .8 3.5-1.3 1.4 3.1 3.6-.4 .5-2.1-1-3.6 .3-1.7-1.2 .2-2.2-1.9-2.1-.1-3.1-3.5 .3-1.5 2.9-4.3-.8 .3-3.6-1.7-1.7-3.5 2.2-2.9-2.1-2.8 1.7-2.2-2.6-3.5-.5-4.8-4.8 .5-1.5 3.6 0 .9 .8-.5 2.9 3.8 .9 1.7-.9 .1-2.9 3.2-1.9 2.1 3.2 2.9-.2 2.1-2.1 4.3-1.5 .8-1.7-.9-2.2zM459.3 39.5l-.9 2.1 .9 1 1.1-1.7zM447.9 31.6l.7 1.5-.7 .8-.7-1.5zM251.5 33l1 2.2-4.5 1.1-1.8 1.7 1.8 3.4 2.1 .8 2.1-.6 7.2-6.4 2.5 2.8 0 1.5-2.7 1.4-2.7 3.8-3.6 .9-2.8 3.6-3.6 .4-2.8 3.5-2.1-.4-2.9-3.2-4.7-.8-.3-1.5 5.1-3.5-1-2.1 1.6-3.2 7.1-4.4zM53 39.4l2.9-.3 4.9 2.1 0 3.3-2.1 1.2-7.1-1.6-2-2.5zM63 39.7l1.9 .5 1.1 1.4-1.6 .9-2-.9-.4-.7zM68.7 40.7l2.1 .2 4.5 2.8-5.9 3.2-1.2-1-.5-4.3zM82.9 41.5l1.9 1.5-.5 2.3-3.6 2.7-3.7 0-.2-2.1 4-.5 0-2.4zM263.6 41.1l1.4 .8 .7 1.8-1.7 7.8 2.2 2.9-3.3 4.2-2.8 .3-.7-1 1.4-.9 1.5-4-2.5-2.9 .8-5.7zM489.2 42.2l1.4 .3 2.1 3.8-4.4-2.6zM224.5 42.8l4.3-.2 1 1.1-3.2 1.4-2.5-1.4zM219.5 44.3l1.5 1.6-.8 1.9-1.2-1.2zM287.8 46.9l4.1 2.5-5.5 2.1-2.7-2.1 .3-1.4zM493.4 47.1l2 .9 1.6 2.9 2.8-2.6 5.4 3.2-3.9 3-5.1-.8-.6 1.4 1.6 2.8-.9 1.5-1.4-.6-1.5-3.1-.7-.5-.7 1.1-.9 1.6-.6 7.9 1.1 3.5-.2 4.3-1.5 .5-2-1.2-2.3-4.6-1.4 .4-1.4 3.4-1.5 0-2.6-2.1-.9-3.5-1.6-1.4 1.6-.8 5.7 2.9 2.8-1.2 .2-3.1-4.4-4.6-2.9 1.5-1.4-.2-1.4-3.8 1.3-2.1-.6-3.2 1.4-.6 1.9 .9 .5 3.6 4.7 2.2 1.4-3.7 5.4 .8zM70.8 49.2l3.6-.3 1 1.2-.3 1.4-2.2 1.9-2.9 .3-1-2.2zM337.6 50l3.1 1.5-1.7 2.8-2.5-2.8zM462.1 50.7l2.3 .8 .6 1.5-.7 .7-2.9-.9-.2-1.3zM114.9 51.9l3.1 2.5-1.7 1.8-2.4-1.8-.1-1.4zM349.7 52l1.3 1-.6 1.3-1.4-.3zM255.8 53.4l1.3 .3 .3 3.5-3 2.1-1-2.8zM.4 54l2 2.5-2 5zM354 54.3l1.8 .1 .9 1.4-2.7 3.4-1.4-.9-.4-2.5zM339 54.7l3.6 3.2-3.6 3.6-1.4 .4-4.2-3.2-2.5-.8 3.2-1.5 3.5 0zM347.3 56.5l-.4 1.9-2.6-.5zM473 59.4l.4 2.8-1.3 1.6-2.1 .1-1.3-1.7 .6-2.1zM349.7 59.8l1.4 .5-.7 1.7-1.2-1.2zM26.7 60.8l6.5 1.4-3 7.4-2.6-2.4-3.8-.8-2.4 2.9-1.1 .2-4.6-4.4 2.4-2.9 2.2-1 2.8 2.9 1.4 .1zM38.1 64l1.5 1.1-.8 1.4-2.2-.7zM.4 69.7l1.1 1-1.1 2.5zM511.9 71.8l0 1.8-2.8 3.6-1.4 .2-2.2-3.2zM477.8 72.2l1.6 1.4-.3 2.1-6.3 2.6-1.4-.5-1-2.1 .7-1.4zM195.3 73.4l5 1.2 .5 1.1-1.2 1-2.2-2-4 .3zM11.4 85l-.3 2.1-2.4 0-.2-1.4zM511.9 84.6l0 3.8-4.3-.6 .5-1.4zM282.1 88.5l2.4 4.3-1 2-3.8-4.9 .3-.9zM506.3 92.5l2.8 .3 .3 2.1-3.9 .5zM279.7 95.6l-1.1 1.4-1.3-.7zM492.7 95.5l3.7 .8 1.3 4.7 2.9-1.5 1.3 1.8-2.1 1.4-2.8 5.5-5-2-3.5 3.3-5.7 .1-4.5-6.9 2.3-1.3 2.9 .2 .6-2.4 1.5-.9 5.7 1.1zM509.1 100.3l2.8 1-2.8 0zM69.4 100.9l2.1 .4 0 1.9-2.1 .2zM502 105.5l2.1-.5 1.4 4.9 4.5-3.6 1.3 0-.5 2.1 1.1 1.5 0 6-6.4-4.5-1.7 1.3 .8 3.5-1.2 1.1-1.4 .4-2.9-2.5-3.5 1.9-.1-2.3 2.8-2.8-.4-2.9zM509.8 120.3l2.1 .5 0 2-3.5-.9zM.4 120.5l2.1 .7 .8 1.4-.6 2.2-2.3 2.8zM26 129l3.2 1.5 .5 2.1-6.6-.4-1-1 1-1.4zM105.7 130.1l2.8 .4 .7 1.4-.6 1.4-4.4 .4-.1-1.8zM25.3 136.2l4.5 2.1-1 2.1 2 3.6-1.3 1.5-3.5 0-1 3.5-2.6 1.2-1.5-2.7 .8-1.6 3.4-1.9 .2-2.9-1.3-4.2zM220.9 144l1.7 0-.2 1.9zM220.9 147.8l1 3.3-.5 1.4-1.9 1.1-1.3-1.1-.3-3.5zM23.1 152.5l3.8 1.4-.9 4-1.5 .1-3-2.6 .1-1.5zM381 153.8l2.1 .8-.4 2.2-2.4 .6-2.6-1.3zM94.3 156.5l1.7 .3-2.4 4.1-.6-2zM359 158.8l1.9 .1-1.2 1.9zM100 159.2l2.2 2.6-1.5 2.4-1.8-2.4zM341.9 162.3l3 1.6-.9 1.7-3-1.7zM363.2 162.8l2.2-.1 1.2 1.2-2.7 2.5-1.9-1.8zM88.6 166.4l2.3 1-1.6 1.7-1.9-.9zM390.3 171.9l4 2.7-.9 2.1-1.7 1.1-1.7-1.8zM482.8 175.6l2 .4 .4 1.4-1.7 .1zM126.3 176.6l4.9 2.9 1.3 2.9-1.9 4-5 1.4-.7 3.1-1.4 1.3-1.9-1.3 .3-2.8-1.3-2.7-5 0-2.8 3.3-5.7-2.2-3.6 3.2-2.8-1.1-3.6 1.5-1.8-1.3 .8-2.9 3.9-.4 2.1-2.4 2.9 .6 2.8-1.1 3.6 .2 2.8-2.1 4.3 .8 4.2-1.6zM122.3 180.9l-1 3.6 2.2 .3 1.7-1-.3-2.1zM257.9 184.3l2.5 1.6-1.3 2.2 .9 2.1-2.1 1.3-3.3-2-.8-2.2 1.3-1.8zM282.1 186.4l1.7 .9-.1 1.5zM326.9 186.5l1.5 0 .6 1.6-2.2 0zM262.9 187.2l2.9 0 1.8 1.6-.9 4.9 .7 1.5 4.8 .2-.1-3.1 .8-.5 2.3 1.9-1.8 2.2-.8 2.8-5.5 4.3-1.1 7.1 1.1 2.8-3 0-.8-2.1-1.8-1.2-2.1 1.2 0 2.1-3.9 0 .3-1.4 1.9-1.4-2.6-1.4 .3-2.9 6.7 0-.6-1.1-2.9-1.3-1.5-4-2.7-1.4 7.7-4.3-1.5-3.5zM288.5 187.7l2.2 .3 1.2 2.2-3.5 4.3-4.1 3-4.3-.2-1.4-3.6 5.7-1.1 1.4-2.7zM42.3 191.6l2.2 .3 .1 1.1-1.9 .7-.9-1.4zM359.7 193.6l2.1 1.3 0 2.3-1.8-.6zM80 198l1.2 1.4-1.2 1.5-.7-.8zM479.9 197.8l2.2 .1-.8 1.8-1.8-.3zM279.3 198.7l1.4 .2 1.8 2.7-4.7 7.8 .5 3.5-4.7 0-.2-1.4-4.5-4.2 4-1.7 4.2-5.5zM389.6 199l2.1 .1 2.8 2.4 0 2.2-3.3 0-2.1-2.8zM88.6 202.7l.6 3.1-7.7 3.3-2 3.8-11.5 0 4.9-3.2 4.2 .4 .2-1.4-1.5-2.2 .7-1 3.5 1.1 1.8-2.9zM96.4 202.8l3.5 .9-1.4 2.7-3.7-1.3 .1-1.4zM72.2 204.6l2.6 1.9-1.2 1.8-1.6-1zM285.7 204.7l4.6 3.3-1.1 4.9-7.2 0-.6-2.1zM374.6 204.7l3.6 2.7 2.1-1.4 5.1-.9-.4 4.3-1.8 1.7-2.9-.1-2.4 1.9-5.6 0-1-4.2zM104.2 208.3l3.2 .4 1.8 2.1 2.9 .2 1.5 1.9-10.2 0-1-2.8zM92.1 209.9l5.7 1 .4 2-11.2 0z" fill="#8fc3de" fill-rule="evenodd"/><path d="M166.9 .4l4.2 0-3.5 1.6-1.2-.9zM242.5 .4l-.1 .7-1.5 .2-.7-.9zM307 12.4l1 .8-.3 1.6-1.1-.9zM9.6 32.2l1.4-.4 .4 1.3-1.8 0zM53.7 40.9l2.6 0 .7 2.1-2.9 0-.9-.7zM213.1 46.5l1.9 .8 .2 1.5-4.2 .6 0-1.6zM396.7 50.1l5.7-.1 1.3 .8-5.1 3.6-2.9 5.7-3.2 0-1.3-1.4 1.9-1.9zM434.4 52.3l13.5-.3 1 1 .6 5.7 2 2.3 3.5 1.5 4.3-.9 5 1.9 .2 15.1 1.6 4.2-.8 1.5-6 3.4-8.5-1.2-5.7 .7-10.7-2.4-2.3 1.6-.4 11.4 1.6 2.1 4.7 2.1 1.6 2.2 .2 3.5-1.5 3.6 .4 2.6 4.2-.8 5.7 2.2 7.1-1.5 15.7 1.3 6.4-.9 5.7 2.1 1.8 2.1 .9 5-.9 2.8 .1 8.5 1.6 7.1-2.8 3.4-5.1 .2-1.7 4.3 2.3 4.9-2.2 3.6 .4 10-1.7 3.5 2 4.3 .4 14.2-5.1 2.4-4.2 .7-3.6-1.6-5 0-4.3 1.9-6.4-1.3-11.3 1.8-3.6-1.3-14.2 1-5.7-4-1.4-8.1-1.5-2.4-1.4-.2-3.6 2.7-1.3-.1 .4-2.2 3.8-2.7 2.8-.4 1.6-1.8-.8-24.9-3.6-4.3-2.1-1.2-2.2-.1-7.1 2.6-4.3-2.3-5.7-1.2-2.4-17.7-1.5-4.3 .9-8.5-1.9-7.9-1.5 .1-1 1.4 1.2 4.3-1.6 5.7-5.7 1.8-2.8 2.4-3.6 0-1.5-.7-2-3.9-3.6 .8-2.1-2-4.3-.4 0-3.7-2.1-7.9 .7-1.8 3-1.7 .6-2.1-.8-1.2-4.2 .6-2.2-2.4-2.8-1.3-.7 2.9-5.7-3.1-16.4 .3-2.8-.9-5 1.5-2.1-.4-2.3-1.7 1.3-4.3-.5-7.6-4.2-2-11.4 .5-4.3-1.1-8.5 .4-2.2-2.8-5.7 1.1-4.8 2.3 1.4 2.8-1.5 2.5-2.6 .3-2.4-1.4-1 2.2-1.4 .7-4 .8-2.9-.9-2.8 1.7-2.4-2.3-4.7-1.6-4.8 1.6-1.5-2.2 1.3-6.4 2.1-3.5-.7-5 7.8 .1 4 3.4-5.4 3.9-2.1-.6-2.2 1-1 1.4 1 1.6 6.4 .8 3.6-2 7.1 .2 4.3 2.7 2.3-1.8-3.6-5.7 1.3-8.3 6.4-2.2 5 1.1 5.7-1.9 5.7-.2 4.2 2.7 2.9 .5 2.8 4.2 4.3-.7 3.5-3.2 7.9 .2 2.8-1 9.3 7 15.6-.1 2.9 2.2 2.8 .6 3.6-.8 4.2 .9 3.6-1.4 1 2.5 1.1 .6 28.5-.8 4.3-1.2 2.9-2.9 2.8-1.2 13.5-.6 6.4 1.5 5.4-3.2-1.5-5.7-2.5-2.3-5 1 0-1.6 3.6-1.1 5.7-4.5 1.4 .7 0 3.4 2.1 .5zM432.8 74.3l-1.2 2.8 1.4 1.8 1.4-.7 .5-2.5-.7-1.4zM415.8 104.2l-2.2 1.4-.3 2.1 1.6 2.1 .2 4.3 1.5 1.3 2.1 .1 3-2.8-.1-6.1-1.4-2.2zM464.9 187.3l-.6 1.5 2.1 .5 0-1.7zM377.5 55.8l1.1 1.4-1.8 5.9-.8-5.2zM87.9 58.5l5 1.8 4.9 5.6 1.9-1.6 2.4-4.7 1.4-.4 1.8 .9 2.5 3.5 .2 3.6-3.8 3.3-2.4 .2 3.8 3.6-1.8 2.8 1.2 2.1 2.8 .3 1-2.4 1.9 0-2.2 4.3 2.9 1.6 4.2-.4 2.7-1.9 1-6.4 5.6-4.2 2.8 1 2.9-1.9 2.8 1.4 3.6 .3 4.9-1.5 3.6 .1 2.9-3-.1-3.6 2.9-.8 1.9 1.5-.5 4.4 4.3-.7 1.8 2-3.9 1.6-2.9-2.1-.7 .6-2.4 3.5 1.6 4.2-3.4 9.3 0 2.1-1.5 .4-2.1-2.2-2.6 .4-2.7 2.8 1.5 2.9 1.6 .7 7.9-.6 7.8-1.4 5 .8 3.4 5.5 5.1 1.7 1.4 4 4.3 2.4 3.6-.8 2.8 1.6 14.2-.9 15.2 1.9-1.2 5.7 .2 8.5 1.9 7.9-2.5 2.8-1.1 5 2.5 4.2-2 7.2 .7 9.2 1.2 3.6-.8 12 .7 2.9-1.5 3.5 1.1 2.9-1.2 2.8 1.8 12.8-1.5 4.3 1 3.5-.8 2.2-3 1.3-8.5 .7-12.1-.4-2.9 1.2-3.5-.8-2.9 .6-3.5-1.4-3.6 .7-3.5-.8-1.4-1.8-.6-9.3-1.6-3.9-3.6 2.3-3.5-1-4.3 1.3-3.9 4.2 0 4.9-1.1 2.6-5 2.4-2.8-1.6-1.3-4.8 1-3.5-.3-4.3-2.2-5.7 1.5-5.7 0-10.6-1.1-3.6 2.4-8.5-1.5-7.1 1-24.2-.9-6.5-.8-1.3-2.8-1.2-16.3-.3-2.9-1.1 .4-12.4-2.5-1.2-4.1 .5-5.9-6.8-3.5-.3-5-4.8-3.6 .1-1.8-1 1.8-1.9 .9-3-.7-3.6 1.2-2.1-.7-2.2-7.1-.4-4.3 1.1-1.4-.7-1-5.7 .1-12 3.8-5.5 4.2-.1zM120.8 85l-2.2 1.4 2.7 6.4-2.3 2.8 .8 1.5 2.9 1.4 8.6-.7 1-1.5-.2-2.8 4.8-2.8-5.6-3.3zM499.1 65l2.3 2.2-.1 1.4-2.9-.8-.1-2zM208.8 65.2l1.7 2-1 1.9-1.4-1.9zM220.9 66.3l2.1 .9 .1 2.6-2.4-.5-.5-1.4zM257.9 66.8l1.5-.1 .7 1.2-2.2 1.8-.8-1.1zM173.3 70l1.2 .7-.5 1.4-2-.6-.3-.8zM169 71.3l.1 1.6-1.5 .4-.1-1.1zM208.8 75.4l1.2 .3-1.2 1.2-.7-.5zM40.9 78.7l1.6 1.3-1.6 3zM28.8 83.2l.8 .3 .6 2.7-1.6-1.2zM489.2 84l1.1 .3-.2 1.4-1.3-.7zM294.2 88.8l2.2 .1 .6 1-2.3 .8-.9-.8zM451.5 96.9l2.1 .6 .4 1-1.3 0zM252.9 102l5 2.3 4.3-1.9 4.3 1.2 4.2-.5 2.9 1.1 3.5-1.6 3.6 1 7.8 .3 3.6-1 2.8 2.2 4.3 .1 7.8-2.6 3.6 1.5 3.5-.7 5 1.2 10.7-.4 4.6 2.1 1.5 4.3 .6 10.6-1.4 3.6 1.6 11.4-2.2 6.4 2 14.2-1.3 5.7 1.3 6.4-1.8 3.5 .8 4.3-.7 1.8-6.4 2.6-4.3-1.3-8.5 .5-3.6 1.1-3.6-1.7-6.4 1-8.5-2-3.6 1.7-6.4-.5-8.5 1.2-4.3-.9-7.8 .8-3.5-1.2-5 .9-12.8-1.5-8.6 1.8-5.1-2.2-2.1-3.5 1-4.3-.8-10.7 1.3-17-.8-5.7 .5-9.3-1.9-4.9 2.8-13.6-.3-3.5 5.4-2.9 2.9 1 9.2-1.6 4.3 1.5zM451.5 106.3l1.4-.1 .5 .8-1.2 .6zM80.8 108.3l.9 .8-1.7 1.2-.2-1.2zM59.4 111.2l1.4-.6 3.5 1.4 .1 3.8-1.4 .5-2.9-1.5-2.8 .2zM220.9 131.8l1.2 .8-1.2 1-.6-1zM72.9 133l2.2 .1 .6 .9-1.3 .6zM.4 142.9l1.2 1.1-1.2 2zM511.9 155.9l0 2.1-1.3-1.2zM78.6 156.7l1.7 .8-1 2.4-1.6-1.7zM129.9 157.2l1.8 1-1.8 .6-.8-.6zM105.7 174.9l2 .4 0 1.4-2.5 0zM507.7 176l4.2 1.2 0 11.8-1.4 0-2.8 3.7-5-4.4-3.6 1.4-.5-2.4 1.2-2.1-3.5-.1-1.5-2 1.5-2 5.7-.6 1.5-2.4zM507.7 179.5l-2.9 1.3-1 1.6 3.2 4.2 2.1 1 2.3-3.8-1.3-3.6zM392.4 187.6l1.2 .5-.5 1.1-.9-.4zM8.2 193.5l.9 .2-.9 1.6-.8-.8zM233 193.6l1.4 .9-.7 1.2-1.4-.5zM128.4 195.9l1.7 1.4-1 1.3-2.2-1.3 .1-1zM311.3 200.6l1.6 .3-.1 .7-2.2 .5zM352.6 205.4l.8 1.1-.8 .8-.7-1.5zM394.5 209.3l1.5 .5-.7 1.7-1.3-1.4zM484.2 209.2l1.9 .9 .3 2.8-2.4 0-.6-2.8zM285 210.4l1.4 0 .9 2.5-3.2 0z" fill="#4496c8" fill-rule="evenodd"/><path d="M440.1 54.3l2.2 .8-.1 2-2.1-1-3.6 1.1 .6-1.4zM428 59.9l1.3 .2 .1 1.5-1.4 0zM87.9 60.7l2.4 1.5 .1 2.9 1.8 2.8 5.1 2.8-1.5 5.7 .7 3.6-1.5 4.4-.5-2.3-3.1-1.9-5.6 .5-.4-1.4 2.1-3.6-1-1.5-2.4 .8-.9 5.7-1.7 1-1.4-1-.8-4.3 1.3-3.5-.4-2.9 2.7-7.1 .5 2.9-.6 2.8 5.9 1.4-1.8-4.9-.3-2.9zM88.9 70.7l1.1 1.3 .9-.5-.9-1.2zM446.5 61.4l8.5 2.6 4.3-.7 3.6 1 .1 12.1 1 5.7-.9 1.4-5.2 2.4-5.7-1.6-6.4 1.2-7.9-1.5-2.2-1.9 .5-7.8-1.5-2.8 2-6.4 2.7-3.1zM285 63.4l7.8 .8 5.7 4.4 2.1 .6 5-.8 2.8-2.7 10-.5 7.8 6 4.3 1.9 5-1.3 2.8 1.4 3.6 0 3.5 1.9 6.5 .6 4.9-.8 3.6 3.7 3.5-2.2 4.3-.7 5 .5 9.2-1.3 4.3 .9 10-.4 4-4.7 1.7-.7 8.5 0 11.4 2.3 4.3-2.9 2.8 1 1.8 3.2-1 3.5 .8 3.6-1.2 6.4 .9 3.6-.9 7.1 1.7 2.9 4.3 1.3 2 2.2 .5 3.5-1.6 5 .9 2.8 5.3-.2 4.3 1 14.9-1.1 10 1.1 5.7-1 6.1 3.1 1.1 4.2-.9 3.6 0 7.1 1.3 8.5-1.9 2.2-4.4 0-1.9 1.4-1.3 4.3 1.7 4.2-2.4 7.1 .2 4.3-1.2 1.5-3.9 .6-5.3 5.7 .7 1.6 3.6 .4 1.4 1.9 2.8-1 2 .7 1.4 5.7-.7 7.1-4.1 2.2-2.8 0-2.9-10-6.4-1.4-2.8-2.1-2.5 1.3 .3 3.3 2.2 .3 2.8-1.3 2.2 2.7-1.7 4.3-4.1 3.6-6.4-1.4-4.2 1-14.3-.5-6.4 1-4.2-.4-4.3-2.9-2.1-10.4 1.9-4.2-.3-13.6-1.5-7.1 .3-9.2-8.3-1.6-7.1 2.2-4.2-1.8-4.3-.5-1.5-1.9 0-4.9-3-15.7 .6-7.8-1.1-3.6 .8-4.2-2.1-9.3 9.1-1 1.2-1.1-.8-1.4-6.8-1.2-2.5 1.2-.7 2.8-3.2 1.8-5.7 .1-4.2-1.6-2.2 .5-1.1 2.1-4.6-.1-1.3-1.4 .1-1.4 1.6-1.4 0-2.8 2.3-2.9-4.1-7.5-2.1 1.8 .7 3.6-6.4 2.1-.5 2.1 2.4 2.2-1.2 1.5-1.4-.4-.8-1.8-2.8-1.1-1.4-2.8-3.6-1.1-2.1 .7-.1 2.1-3.5 2-9.9-1.2-4.3 1-2.8-1.7-2.9 2-2.8-.1-1.3-1.3 1.6-2.8-.9-3.6 .6-2.1-1.1-3.5-1.1-.9-9.9-1.6-5.7 1.1-4.3-2.1-4.3 1.7-5.6-3.9-3.6 .8-4.3-.7-3.5 2.1-4-2.9 1-2.2-.2-3.5 1.6-1.5 9.4 .5zM394 79.3l-.9 1.4 1.4 1.1 1.2-1.8zM332.8 82.1l-1.2 2.2 .7 1.4 6.8-2.2zM415.4 102.7l-2.4 1.6-1 2 1.5 4.3-.1 2.8 1.8 2.8 3.5 .3 2.9-1.6 1.2-2.2-.5-8.3-1.4-2.1zM130.6 72.1l3.4 .8 .1 2.9 1.4-.5 1.2-2.4 3.1-1.3 5.7 1.2 2.9 4.3 0 3.1-4.3 4.1-6.4 2.1-10.5-1.4-3-2.3-2.9-6.3 2.2-1.9 2.8 2.5 2.1-3.4zM257.9 78.5l2.7 .8-1.2 2.5-3.2-1.8zM244.4 79.2l1.9 .8-1.9 1.9-.9-1.2zM102.1 83.4l2.9-.3 4.2 2.6 5-1.1 1.1 1.8-.8 1.4-3.1 1.1-.6 3.2-2.3 .1-5.1-1.5-.1-2.9-3.2-2.8zM93.6 87.7l1.4-.3 1.8 1.8-1.8 4.4-1.8-.8zM156.9 92.9l4.3 1.4 2.8 4.8 5.5 1.5 1.6 4.3 2.2 1.8 5.6 .2 3.6 1.2 15.7-1.1 9.9 .8 1.9 1.3-.2 12.8 .9 7.1-3.3 5.7-2.3 2.2 3.7 3.1 1.1 2.6-1.8 4.2 2 22.1-1.2 11.3 1.1 18.5-1 5 .8 2.8-1 1.8-25.6 1.8-15.6-1.2-1.3-1.6-.3-3.6-.2-7.1 1-3.6-1.6-2.8 2.3-5-.6-.9-2.2-.1-3.5 2.5-2.9-.8-1.2 .7 3.3 2.9-.9 5-1.2 .4-2.8-1.3-4.3 2.8-3.6 4.5-1.4 6.8-4.3 2-2.1-1-.1-9.3-1.6-8.5 .9-4.3-.6-18.4 1.9-5-1.5-7.1 1.1-8.6-.8-4.2 .5-12.8-1-7.1-4.5-1.5-17.1-1.6-1.1-4.8 .9-4.9-.8-2.2-2.5-1.5-3.6-.2-4.2-3.5-2.2-3.4-3.7-.6-2.7-4.3 2.9-1 3.5 2.1 2.2-1.5 6.4 3.6 1.4-3.2 2.1-.8 1.1 .8 .6 2.9 6.9 1.8 7.8-.9 1.4-1.2 .2-2.6 1.2-1.2 6.4 1zM168.2 167.4l-.1 1.5 .9 .8 1.7-1.5zM163 168.9l-2.8 6.4 1.7 4 1.4 .6 2.8-1.5 2.9-.1 2.1-3-.2-1.5-1.9-1.7-2.1 .2-2.9-3.9zM368.9 99.4l-.2 4.1-2.6 .7-1.4-2.2zM262.2 104.1l11.4 2.8 3.5-2.2 2.9 1 5.7-1 15.6 2.2 5-2.4 2.9 1 6.4-.6 6.4 1.4 7.8-1.1 3.6 1.8 1.3 11.4-.9 4.2 .1 8.6 1.1 5-1.7 5.6 .8 24.2 1 2.9-1.8 3.5 0 5-5.6 1.4-11.4-.4-4.3 1.4-7.1-2.2-2.9 1.5-2.8-2-4.6 .3-3.2-3.7-1.5 1.1-4.9-.5-2.2-3.8-1.4-.7-1.6 .5-1.6 4.3 2.3 2.8-4.8 2.2-12.8-.2-3.5-1.1-5 .8-6.4-1.2-3.6 .6-3.5-1.5-2.9 1.4-5.7 .3-4-1.3-.7-2.1 .9-11.4-1.2-4.3 1.2-5-1.2-4.2 2-7.8-1.4-4.3 .4-10.7-1.4-3.5 .4-5.4 3.4-8.1-.9-3.6 2.5-1.7 2.9 1.1 9.9-1.6 4.3 1.5 3.5-2 5.7 2zM267.9 110.6l-1.3 1.4 .6 .7 1.4-.1zM259.8 113.4l-1.6 1.4 .4 2.1 2.2-1.4 0-1.5zM285.8 168.2l-.7 1.4 1.3 1.4 4.1-1.4-2-1.3zM298.7 168.9l-2.7 2.8 .8 2.1 1.7 1.3 3.4-4.1-1.4-2.1zM291.6 170.3l.5 2.5 1.9-1.8-1.2-1.1zM377.5 108.3l2.8 1.3 0 2.3-4.1 .1-.2-2.4zM375.5 113.4l-.5 2.1-3.2 3.4-3.1 .2-.7-1.4 .9-1.8 1.7-1.8zM474.2 168.2l.8 .7-1.5 1.9zM166.1 175l1 1-1 1-1-1z" fill="#2f6fb3" fill-rule="evenodd"/><path d="M444.3 64.3l.9 1.5-1.2 1.4 2.5 1.1 4.3-3.8 10.1 1.3-.2 3.7-2.1 .5-2.6 2.9 1.2 1 2.8-1.7 .7 .5 1.4 9.1-5.7 2.4-4.2-2.2-5 2.3-8-2.2 .1-2.1-1.8-3.6 1.1-3.5-2-2.2 .1-1.4 2-3.6zM449.3 70l.6 1.5 .9-.8 0-.7zM450 77.9l-1 2.1 1.8 1.3 1-2.7zM285 64.9l7.8 1.1 1.3 2.6-4.2 .9-2.1 2.4-2.8-2.1-4.3 1.4-5-1.7-1-1.6 1.7-2.1 4.3 .4zM312 66.4l5.7 .4 1.3 2.5-3 1.4-2.5 4.3-2.9 .9-3.5-2.3 1.2-5.7zM302.8 70l2.8 .6-.3 2.3-5.7 1.4-.4-2.8zM319.8 69.5l2.8 .5 .7 1.5-.6 1.4 4.6 .7 2.2 3.5 1.1 5-3.7 5.5-3.5-1.4-4.3 1.1-.7-1.1-.3-1.9 1.4-2.9-1.4-3.5 3.5-5-1.6-1.4zM411.6 71.3l7.8 3 5-.5 3.6-1.6 1.8 1.4-1 3.5 .7 3.6-1.4 5-3 2.1 4.1 2.1-1.9 6.6-3.6 3.8-9.2 1.1-3.4 4.2 1 7.8 2.4 4.8 4.9-.9 3.1-1.8 1.8-4.9-.6-9.1 4.3-.7 3.5 2.2 3.6-.1 1.4 1.3 .4 2.8-1.8 7.1 2.1 2.9 7.9 .7 17-1.3 10 1.6 5-1.8 6.1 3.6 .9 2.8-1.2 4.3 1.3 12.8-.5 2.1-1.6 1-4.3 0-3.1 1.9-1 4.3 1.6 4.9-1.7 5-2.9 2.9 0 2.8-3.6 1.4-3.5-3.9-1.5 .5 .7 13.8-3.5-1.2-7.1 3.5 .7 5.8 1.4 .9 4.3 .2 .6 1-2.8 4.4-6.4-1.4-4.2 1.3-6.4-.3-7.9-2.4-4.2 2.9-5.7-.5-1.9-1.1-2.3-4.3-.8-6.9 2.8-4.7 5.7-2.2 2.9 .4 .1-.8-5.8-3.7-3.7 .9-2.8-13.6 .2-7.1 1-2.8-4.7-2.3-7.1 0-5 1.6-8.5-1.9-1-1-2.7-21.3 .4-6.4-1-4.3 1.2-3.5-.8-5.7 1.2-2.1 6.3-2.9 .9-2.8-2.4-1.6-6.4-1-4.2 1.2-3.6 2.6-.9-1.2 .3-1.4 2.8-2.9-2.2-1.3-7.1 .4-1.2 1.6 .7 3.6-.9 .9-4.3-1.6 2.5-2.9-4.1-4.2-1.2-4.3 1.3-2.9 7.9 .3 9.2-1.7 4.3 1 4.3-.3 2.2 1.5-1.3 2.8 .5 1.4 2.9 1 1.9-1.7-.7-3.5 5.2-5.8zM411.9 76.4l-1.9 3.6 .3 3.5 2.7 1.5 1.5 3 5.7 1.1 .9-1.3-1.6-1.4-.2-2.9-3.5-5.6-2-1.6zM404.8 84.3l-1.7 1.3 0 2.4 6.4 .1-1.1-2.4zM454.9 156.1l-.5 1.4 1.3 .6 .8-1.3zM444 158.2l0 2.8 3.2 .9-1.4-2.9zM441.4 166.7l1.5 1.7 1.2-1zM447.9 180.9l-2.1 3.2-2.4 1.1 .9 2.4 2.1-.3 3.2-4.2zM289.2 72.7l1.5-.1 .7 1.1-1.5 .5zM143.4 74.7l1.2 .3 .2 1-2.7 2.6 .7 2.8-1.5 2.1-2.7 0-1.6-3.1-1.5 .2-2.1 2.6-3.2-1.1-.1-2.8 8.3-.1zM339.8 75.9l1.4 1.2-1.4 1.9-1.1-1.1zM351.9 79.9l1.4-.5 1 2-3.2 .9zM156.9 94.2l3.6 1.4 2.6 5 5 .7 4.4 6.8 10.7 .9 15-1 3.5 1 5.7-.1 1.4 .9-.4 11.4 .9 8.6-4.7 3.8-2.9-2.4-1.2 2.1-.2 6.7-1.4 1.2-5 .7-2.5 5.6 .4 1.5 4.2-.1 4.7 2.2 5.3-2.3 1.4 1.8 1.7 17.6-1.3 11.3 .8 3.6-.3 23.4-.9 1.2-24.2 1.3-9.2-1.2-4.3 .7-2.3-1.2-.6-8.6 1.7-5-1-3.5 1.5-3.7 3-3.4 1.1-7.8-1-4.3 2.2-5 2.5-2.9 2.1-.3 .9-1-3-2.3-2.1 2.3-5.7 1.9-4.3-.1-3.1 1.7-1.5 6.4-2 2.9 1.6 4.5 .1 4-5.8 1.4-.3 2.1 1.6 2.9-.2 1.4-1.8 .9-2.8-.9-.7 .6 1.9 2.2-5.1 7.2-.9 5.6-3 1.7-2-.9-1.1-15 .8-19.9-1.1-4.2 2.1-5-1.5-11.4 1.4-4.3-1.2-9.9 .6-7.8-.7-5.7 1-2.9-21.1-2.2-2.7-3.5 .4-6.4-3.8-4.9-.6-2.9 2.4-1.9 15 .9 3.4-1.8 2.3-3.5 10.6 1.1zM194 134.7l1.3 3 1.4 .2 .1-3.2-1.5-.6zM170.9 152.5l.9 1.9 1.5 .7 1.4-.6 .7-2.9-2.9-1.1zM190.2 158.9l2.3 .3 2.1 2.1 1.1-.3-.4-1.6-2.8-2.3-3.6-1zM184.5 167.4l-1.5 1.5 .9 .7 3.7-.7-.8-1.6zM107.8 97.7l1.8 1.5-.2 2.1 2 2.2 0 1-4.9-4.6 .1-1.4zM284.3 106.3l8.5 .7 5 1.9-1.5 8.8 1.5-1.5 2.1-.3 2.9 5 1.4 .9 1.7-.6 .6-1.4-5.5-5-.9-2.8 1.2-1.2 1.5 .1 2.8 3.7 2.2-1.9 1-5 1.5-.7 6-.4 4.2 2.2 7.9-2.3 3 1.2-2.5 3.6 3 2.7 1.3 3.7-1.8 16.3-3 .5-1.5-4.1-2.4 4.3 1 2.2 7.1 .3 0 26.7-.8 2.8 1.3 2.2-1.5 2.8 .3 3.9-6.4 1.6-4.2-.5-1.5-1.7-8.5 3.1-4.3-1.3-2.9-3 .8-4.5-1.9-1.9-.2-2.2-3.6-.7-2.1-7-2.9 .6-3.5-1-5 .3-4.7-3.5 .4-1.7-.7-.5-.6 2.2-3.7 2.5-2.8 0-.7 1.1 .7 7 3.1 3.7-.3 2.8-1.3 2.1 .6 4.5-7.8 .9-2.9-1.7-2.8 .3-4.3-1.4-3.5 1.2-5.3-.9-1.8-1.8-2.9 .5-2.8-2.5-1.5 .4-2.8 4.2-7.4-.1-.4-2.3 2.8-5 2.1-1.4-.3-2.7 1.1-2.1-5-.7-1.7-2.2 3.4-7.1-2.7-2.1 .9-2.1-.3-3.6 1.3-2.8-1.3-4.3 0-5 1.8-4.7 4.1 1.2 1.6 3.2 1.6-1.1-2.3-4.9-5-.3-2.1-1.2-.9-1.4 .2-3.1 3.5-4.5 2.1 .2 1.3 2.4 1.6 .3 4.3-3.9-.7-2.9-5 .7-2.2-1.2 0-2.9 8.6 1.5 2-3.7 1.5-.4 1 2.5-1 2.5-2.3 1.8 .2 3.1 5.4-1.7 1.7-3.4 1.1 1.3-.1 2.8 2.9 1.5 2.5 3.6 6.4-5 5.7 1 2.1-1.1 1.3-2.1-1.7-2.8 .4-1.4 5.7 2.3 2.2-3.1zM318 111.3l-.6 2.8-2.3 2.9 1.9 1.8 2.1-.7-.4-4 1.3-2.1-.9-1zM285.3 113.4l-1 1.5 4-.1-.5-1.5zM310.9 119.1l1.6 2.1-2.2 3.6 1 .9 3.3-.2 1-3.6-2.7-1.4-.2-1.6zM251.3 121.2l-1.5 2.9 2.4 1.3 1.8-2 0-1.5-1.1-.9zM262.4 125.5l.1 2.1 1.1 .1 0-1.6zM317.3 126.9l-.3 2.6 2.1 0 .1-2.6zM309.1 128.3l-2.9 1.5-.7 1.4 .8 1.5 4.8-2.2-.5-1.6zM257.1 131.2l.8 1.1 1.7-1.1zM307.9 136.9l-.6 1.4 .8 .7 4.7 0-.1-2.6zM241.4 139.7l.9 2 2 .1-1.4-2.1zM322.3 149l-1 1.4 .4 1.4 1.7 1.2 1.4-.3 .2-2.3zM315 159.6l-1 2.2 2.3 2 1.6-1.3 .1-2.2-1.7-1zM253.7 163.9l1.4 .4-.7-2.5-.7-.7zM259.4 163.9l1.4 1 .9-2.4-.9-1.2zM263.9 169.6l0 .7 1.9 .3-.8-1.1zM291.4 160.7l1.9 1.1 .6 1.4-1.5 2.8-2.5 0-3.3-2.1 .5-2.1zM471.4 181.6l3.4 .8 .8 4.2-1 2.9-3.2 1.1-1.5-1.8 .9-3.6-.6-2.1z" fill="#1b5698" fill-rule="evenodd"/><path d="M452.9 65.7l2.2 1.5-.8 2-2.6-2zM311.3 68.5l1.5 .1 0 3.6-1.5 1.9-1.4 .2zM446.5 71.9l.9 1.7-2.9 4.3 .2 1.4-1.8 0-3.2-2.2 .4-2.4 3.5-.7zM401.7 74.8l1.4 .4 .5 1.2-2.2 10 .6 3.5 1.1 1.1 3.5 .1 2.9 1.6 2.1-2.3 1.4 0 2.2 3.1-.2 2.8-4 3.6 0 2.8-1.8 3.6 2.7 9.9-.2 2.9 1.3 1.1 1.5 .6 2.8-1.6 3.6-.4 2.8 3.7 2.4 .1-1.9-6.4 2.4-6.1 2.3-2.4-2.3-.5-1.4-1.6-.1-2.1 .7-.5 6.5 4 1 2.1-.3 2.4-5.6 4.7 .7 1.5 2.8 .7 1.4 4.3 1.4-.4 1.4-3.2 1.4-.6 7.8 1.4 4.3-1.7 4.3 .8 2.8-1.1 5 0 10 2.4 6.4-2.7 5 2.9 1 2.1-1.9 3.6 1.1 14.2-1.7 1-2.6-.3-3.8-2.8-2.8 6.2-2.9-2-2.3 .8 2.4 5.7 3.3 2.8 .4 2.8-.9 3.6-1.4 .4-1.1-1.1-1.8-8.2-3.4 .4-1.7 4.2-2.7 1.2-5.2-3.3 1.6-2.4 4.3 .5 2-1.7-2-2.5-3.6-.5-3.5 .8-1.4-5.2-4.4 6 .8 1.6 3.3 1.3 1.1 1.4-1.5 3.9-3.6-3.3-1.4 2.3-1.5 .1-.3-3-2.5-1-2.8 4.2-4.3 .7-2.9-.6-2.1 2.9-1.4 .2-5.3-.7 1.9-5-.1-2.8 4.5-3.6 0-4.3 1.5-2.8-1.8-1.7-3.6 .2-2.1-1.4-1.5 2.2 1.2 2.8-4 2.1-4.8-1.4-1.6-3.1-2.1-1.1-1.6 1.4 0 2.8-4.8-.2-3.6 1.6-2.8-1.6-4.3 .4-1.2-.9-.2-5.7-1.6-6.4 3.5-2.8-2.6-1.7-1-2.6 .2-4.2 1.5-2.9-2.5-3.5 2.6-4.3-1.7-5.7 2.3-2.8 5.4-3.6 0-2.8-4-2.9-8-.7-1.7-2.1-4.5-1.5-6.4-.4-4.3 1.3-2.8-2.3-.8-2.8 .5-1.4 1.7-.7 5.7 1.3 9.2-2.5 4.3 1.1 3.6-.4 1.1 1.2-.3 4.2 4.2 2.4 4.9-2.9-1.1-4.4zM406.1 99.2l-.7 1.4 .5 1.4 2.5-2.1-.3-.8zM403.5 112.7l2.4 2.5 1.9-1.1-1.2-1.4zM408.3 119.8l-.9 2.8 .7 1.5 1.4 .4 1.5-1.9 .3-2.8zM404.1 126.9l-1.5 2.1 1.9 1.2 1.2-1.9zM461.3 131.9l1.4 2.8-1.3 3 3 .6 .6-.7-.5-2.9 1.4-2.1-2.3-1.1zM439.3 142.6l.1 1 2.8 2.6 2.9-1.5-.8-2.7zM433 149.7l.7 1.8 1.4 0-.7-2zM322 76.4l3.5-.1 1.4 1.1 2.1 4-1.3 2.7-7.2 .2 1.3-2.9-.9-3.5zM422.3 89.9l1.4-.4 1.9 1.9-4.4 2.8-1 3.7-2.2 .1 .7-3.6zM151.2 96.2l3.6 0 2.1 3.4 2.8-2 1.3 3.7 7.3 2.8 4.2 5.8 5.7-.8 28.5 1.8 1 5.3-3 4.3 .6 2 1.8 1.6 .9 4.9-2 1.9-3.6-2.3-4.2 2.5-5.7-.1-1.5 .9-1.4 13.8-2.8 3.4-5 1.8-1.3 1.6 .6 .9 3.8 .5 1.4 3.6-.8 1.4-4.4-1.2-3.6-2.2 .9-3-1.6-4.8-2.8 .7-1.1-2.3-1.1-.4-3.5 1.1-.5 1.4 1.5 1.5-.3 3.5 1.3 4.3-3.4 4.1-8.6 2 .9 4.6-.6 2.1-5.3 1.7-3.5 4-.6 7.8 2.7 4.3-3.5 2.2-.4 2 1.5 2.2-.2 1.4-4.2 5-.2 4.9-2.2 1-1.1-1.7-.7-10.6 1.7-4.3-1.8-7.8 1.1-10-1.6-4.2 2.4-4.3 .3-7.8-1.5-4.3 1.8-3.6-1.7-4.9-.2-5.7 1.1-2.9-.8-10.6 3.1-2.5 2.6-.4 .5-2.8-3.1 1.1-8.5-1.9-2.2 1.8-6.4-1.7-5.3 .7-3-3.6-.9-7.1-3-5.7 .8-1.1 2.2 0 1.7 1.1 .4 1.7 2.9-2 4.9 .4 6.4-2.4 2.2 .9 1.4-2.3 7.1 2.1zM144.2 111.3l-1.5 2.1 2.1 1.3 1.4-1 .3-1.7-.3-.9zM148.8 117.7l3.7 0-.6-2zM145.5 127.6l.7 1.5 1.8-.8-.4-.9zM154.7 141.8l-1 2.2 1.8 1.2 .7-3.1zM153.6 153.2l-1 1.4 .7 1.7 2.2 .6 1.5-.8-.1-2.4zM290.7 109.7l2.1 .3 1.8 2.7-1.1 5-1.4 1.1-1.7-1.1 .8-3.6-1.5-2.8zM329.1 116.6l1.8 .4 .4 3.5-.8 1.4-2.1-4.2zM274.3 117.5l2.1 2 2.9-1.9 5 1.1 2.1-1.1 .3 .8-1.7 1.4 .7 1 5-.4 4.2 1.7 1.5-.4 2.1-2.6 1.4 .6 2 3.7-1.1 7.1 1.2 3.5-.2 9.3-2.1 3.5 5.2 2 2.8-1.3 2.7 1.5 .2 1.9-2.3 .9-1.1 4.3 .5 .4 2.2-1.1 2.1-4.2 2 .6 1.3 4.3-3.3 4.4-3.6-1.5-2.1 .3-1.4-3.1-4.5-.8-3.3-5.5 1-3.8-1-.8-8.6 2.7-1.4 3.3-1.4 .7-4.1-5.2 .9-3.5-1.8-2.4-1.3 .9-1.4 3.6-.7 5.7-4-.7-.4-1.4 2.8-4.3 .2-2.1 1.7-2.2-.5-.8-2.1 2-1.4 .2-2.9-2.9-2.1-.4-1.8 4.1-2.5 2.1-1.4-.5-1.7-3.1 2-1.4 .7-2.1-2-3.6 1.7-1.5 2.2 .7 1.8-2-.8-4.3 .7-3.5-2.6-5 1.6-.2 2.8 1.5zM287.2 140.4l-1.7 3.6 6.2-.7-2.5-3zM257.2 126.1l1.4 .1 0 1.4-2.1 .8-.5-.8zM240.9 128.9l2.5 .1 .1 2.2-1.9 .7zM319.8 134.3l1.5 .1 .9 2.5-.3 1.4-2.1 1.6-3-1.6zM257.2 135.2l2.2 .3 .6 3.5-2.8 2-.6-4.8zM233.7 137.5l4.1 7.2-2.6 3.2-2.5-2.5 .1-6.4zM324.1 139.6l2.1-.2 1.3 1 0 1.4-2 2.1-.7-.2zM248 143.9l2.1 .8-.8 1.4-3.5 2.4-2.4-.3 .3-2.4zM241.6 150.4l.8 3.5-2.3 2.4-.3-3.8zM249.4 150.3l4.3 1 .3 1.9-1.8 1.1-1.4-.7-2.1 2.3-1.4 .2-1.4-2.2zM205.3 151.7l-.1 2.9 2.2 6.4 .3 7.2-1.2 11.3 1.1 3.6-.1 7.1-1.3 2.8 .9 2.9-1.3 9.9-6.2-.3-4.3 1.6-12.8 .8-2.8-1.1-10.7 .2-.9-1.9-.2-5 2.4-5.6-1.2-3.6 .4-2.1 1.5-2.2 6.5-3.2 .7-1.6 0-2.3-2.8-3.7 0-6.7 2.1-.6 5.7 3.4 2.9-1 4.2 .6 2.2-1.1 4.9 1.5 .4-1.6 3.2-3.6-2.2-4.2 1.1-2.9 .1-5.7zM179.5 188.8l.7 2.1 1.8-1.4-1.6-1.2zM186.8 193.7l-2.2 1.1 0 2.1 3.6-1.5 0-1.2zM198.1 198.7l-1 1.4 1.8 1.8 1.4-.2 .1-2.3zM267.9 152.4l1.5 3.7-.8 1.4-1.4-.8-2.9 1.3-2.1-.7-.3-1.9 1-1.5zM450.8 155.9l.9 .2-.3 2.1-3.2 0zM456.4 161l2 .8-.5 3.1-2.1-1zM245.8 161.7l1.6 .1 .8 1.4-2.4 2-1.1-1.3zM191 162.3l1.6 .9-1.6 1.6-.8-.9zM322 162.4l.7-.5 .7 .9 .7 2.5-1.4-.9zM307.7 164.5l5 .1-.7 2.9-5 .9-.6-2.4zM425.8 165.1l1.6 .2 .6 1.4-1.8 0zM452.9 166l2.8 .4 .5 1-1.3 2.2-2 .8-1-3zM257.2 166.8l1 1.4-3.8 2.5-3.9-.4 .3-1.6zM445.8 168.7l1.4-.1 .4 1.7-2.5 1.7-.7-1zM270.7 170.9l.9 .8-.9 .8-.6-.8zM318 171l.1 1.4-1.8 1.8-.8-1.8zM457.9 170.9l1.6 .8-.5 1.4-1.8 1.4-1.5-.1-.3-2zM269.3 174.2l.2 1.1-.9 1.1-.7-1.1zM433 174.5l3.7 1.5 2.8 2.1 .2 1.4-3.9 1.7-2.8-2.4-2.9-.2-.3-1.2zM424.4 177.8l1 .3 .4 4.4-5.6 1-.5-1.8zM156.2 179.7l1.1 1.2-.4 .9-1.7-.1zM450.8 185.7l.8 .9-.8 .7-.9-.7zM473.5 186l.7 1.3-1.4 1.6-.8-.8z" fill="#053061" fill-rule="evenodd"/></g><g clip-path="url(#land)"><path d="M334.1 79l2.8-.1 3.2 1.1 1.3 1.4 .1 1.4-.4 1.5 2.5 .7 1.4 1.4-.3 1-1.4 1.4-2.1 0-1.7-1.7 .3-1.5-.8-.2-2.1 .6-2.1 0-3.2-1-1.3-1.5 0-2.1 1.6-1.6zM356.1 87.6l2.2 0 1.6 1.6 0 .7-1.6 1.7-2.2 0-1.6-1.7 0-.7zM181.1 124.6l2.1 0 .2 .9-.9 .3-1.4-.1zM172.5 128.9l2.2 0 .2 .9-.9 .3-1.5-.2zM166.9 131.7l2.1 0 .2 .9-.9 .3-1.4-.1zM176.8 133.1l2.1 0 .2 .9-.9 .4-1.4-.2zM164 136l2.1 0 .2 .9-.9 .3-1.4-.2zM169.7 138.8l2.1 0 .2 .9-.9 .4-1.4-.2zM285 162.2l2.1 0 .9 1 0 .7-.9 .9-2.1 0-1-.9 0-.7zM444.3 162.2l2.2 0 .9 1 0 .7-.9 .9-2.2 0-.9-.9 0-.7zM455 166.5l.7 0 1 .9 0 .8-1 .9-.7 0-.9-.9 0-.8z" fill="#ffffff" fill-rule="evenodd"/><path d="M74.4 8.7l95.3-.2 .9 .4 .5 2.3 1.4 .2 7.2 0 2.1-.7 6.4 0 2.1-.7 6.4-.1 2.2-.7 19.2 0 2.1 .7 3.6 .2 .7 .4 2.8 .3 1.5 .6 4.2 .1 1.4 .7 1.9 .2-4 1.2-1.4 .7-1.4 1.4-.4 1 .6 2.1-4 5-1 2.2-.9 .9-5 2.8-5 1-.7 .5-2.8 .2-4.3 1.9-1.4 .2-3.6 1.9-1.4 .3-2.9 2.7-1.1 2.5-1 .8-4.3-1.8-2.8 .6-1.4-.7-4.3-4.3-1.7-2.4 .1-1.5 1.6-1.4 1 .7 .4 1 .8 .5 .2-1.5-.7-2.1-2.4-1.7-2.2-.2-4.6-5.2-2.5-1-.7 .1-.7 1.1-.7 .1-94.6 0-.9-.3-.2-.7 0-11.4zM312.7 79.8l1.4-.2 3.6 .9 3.6 3.3 2.8 1.5 5.7 6.3 1.4 .7 2.9 .3 1.7 .9 1.5 2.1 2.4 1.5-1.4 3.8-1.4 1.4-5.7 2.8-6.4 1.5-3.5 0-2.2-.8-4.2-4.8-.8-.6-.7 0-2.8 2.7-1.1 1.8-2.5 .9-5 .1-2.1 .7-10.7 .1-2.1 .7-12.1 0-2.1-.7-5-.1-2.1-.7-24.9 0-1.5-.6-2.8-.2-2.2-.7-2.1-1.4-1.6-4.5 0-1.4 1.1-3.6 .3-2.1 1.6-2.4 1.5-.2 9.2-4.8 5.7-.9 6.4-1.9 3.6-.3 1.4-.6 5.7 0 3.5 .9 5 1.9 5.7 .9 .7 .5 .7 0 2.2-1.7 4.2 .5 1.5 .6 7.1 0 1.4 .6 2.8 .1 3.6-.8 5.7-2.9z" fill="#d9d9d9" fill-rule="evenodd"/><circle cx="394.2" cy="81.1" r="3.1" fill="#fff"/><circle cx="394.2" cy="81.1" r="2.0" fill="#b2182b"/><circle cx="297.4" cy="39.8" r="1.4" fill="#1c1030"/><circle cx="276.1" cy="43.5" r="1.4" fill="#1c1030"/><circle cx="317.3" cy="42.7" r="1.4" fill="#1c1030"/><circle cx="55.5" cy="41.9" r="1.4" fill="#1c1030"/></g>
<use href="#holesp" fill="#fff"/>
<rect x="0" y="0" width="512.3" height="213.3" fill="none" stroke="#a6a6a6" stroke-width="1.3"/>
</g>
<g transform="translate(635.2,41.3)">
<g clip-path="url(#land)" filter="url(#spk)"><use href="#landp" fill="#c8dff0"/><path d="M117 .4l2.9 0-1.4 .9zM244.4 .4l2.5 0-5.1 4.9-.6 3.6-1.1 .6 .5-3.5-.8-3.5zM270.7 .4l8.1 0-.9 1.6-5.7 1.4-1.5-1.2zM301.3 .4l1.6 0-.7 4.2-4.2 1.4-.2-1 2.8-1.8zM314.9 .4l4.6 0-3.2 1.1-2.2 2.9-.9-1.9zM324.8 .4l5.3 0 0 1.4-2.4 2.6-2.9-2.5zM343.3 .4l2.6 0-1.6 3.5-3.1 1.2-.8-1.2zM360.4 .4l2.5 0-1.1 2.1-1.3-.7zM380.3 .4l5.3 0-1.7 1.9-2.4-.5zM406.6 .4l2.3 0 1.2 2.1-2 1.1-1.6-1.8zM440.1 .4l2.6 0-1.2 2.5-1.4-.7zM454.3 .4l2.9 0-1.5 1.4zM44.5 1.4l3.5 .6 3.3 3.3-1.1 3-3.6 .1-2.1-3.3-3.7 .9 .1-2.3zM286.4 1.5l2.1 .2 1.3 2.9-.6 1.3-2.1-.2-1.4-1.3-.5-1.9zM112.8 3.2l.5 1.4-.5 1.8-1.4 .9-4.9-2zM334.1 2.7l1.9 1.2-.5 1.5-1.4-1.2zM18.9 3.6l0 1.7-2.8 .7-.1-1zM160.4 3.8l2.4 .8-3.1 2.6-2.1-.1-1.9 4.6 1.9 2.2 .4 3.5 1.7 2.3 3.6 1.1 3.6-1 3.5 .9 6.4-.7 5 2.7 1.1-.3 1-2.4 2.9 5.3 2.8 .4 2.9-1.8 4.2 2.4 2 5.3-1 7.1 .5 4.3-5.4 2.9-1.8 4.4-2-.9-.6-3.5-5.2 .6-3.5-1.4 .5 5.7-1.3 2.6-3.5 3.5-3.6-1.2-3.5 2.7-5-2.7-2.9 2.9-3.1 .8 .5 6.4 3.4 2 3.5-2.1 1.8 2.2-1.8 1.6-3.5-1.2-1.4 2.4-.8-.1-2.8-4.4-3.6 .5-1.8-1.6-.8-2.2 4-2.1 0-2.1 1.9-2.2-1.1-2.6-2.2-.3-2.1-2.4-2.9-1-2.5 .6-1.7 3.2-4.2 1.8-1.5 3-2.9 1.5-1.1-.9-.4-3.6-5-2.8-2.7 1.7-6.4 1.5-.7-1.1 1.5-4.3-.3-7.1-1.9-3.2-2.2-1.2-1.2 .2-1.6 2.8-4.3 .7-.7 1.4 .9 2.9-2.1 6.4-3.1 2.7-2.1-.4 0-2.2 3.2-3.7-2.5-6.4 3.6-7.8 3.5-1.2 3.6-4 2.5 2.4 2.5-.2 1.7-2.7-.8-1.4-5.2 .7-2.9-1.6-3.5 1.5-3.1-1.3-3 9.2-2.5 4.4-4.2-3.7 .1-7.1-1.5-3.2-1.5 .1-2.1 2.3-3.6-2.3-2.1 1-1.7 2.1-1.1 6.4-2.9 1.9-.9-1.2 1.5-2.8-1.3-2.7-3.6-2.8-2.7-.9 .3-2.8 2.4-1.5 2.1-2.8-.2-2.1-2.6-3.6 3.6-4.6 .5 1-1.1 1.5 1.3 2.6 4.3-1 2.1-3.6 5.7 2.4 13-1.9 4.1 1.4 4.2-2.9 5 2.4 2.9 .1 5-2.9 2.2 2.7-.8 2.2-2.2 1.9 0 1.8 3.6 .5 3.6-2.2 2.1 1.7 5 .1 6.4-.8 1.6-2.4 2.6-1.2 3.6 1.6 3.4-.4 .2-2.1-2.9-2.2 .7-4.6 1.4-1 2.9 .8zM149.3 18.8l-1.3 1.5 2 1.4 1.7 0 .2-1.6zM107.2 19.6l-1.4 2.1 .6 .9 2.4-.9-.3-2zM97.1 29.5l-.7 2.1 2.1 1.3 .8-2.8zM177.4 3.9l4.4 2.6 .7 1.7-2.1 .9-1.5-3-3.6-.1-1-1.4zM506.3 3.3l.7 1.3-1.5 1.8-.9-1.1zM171.2 4.6l-.8 2.6-1-1.2zM393.1 4.5l1.5 .8-.8 1.4-1.4-1.4zM434.4 4l.8 1.3-.8 .9-.8-.9zM448.6 5.2l1.1 .8-.4 1.2-1.3-1.2zM186.1 5.8l1.4-.2 0 2.7-1.9-.8zM511.9 6.5l0 2.5-1-.8zM146.9 7.2l1.6 1-.1 3-2.6-1.6zM462.1 7.2l3.8 1 3.4 4.5 2.8 1.7 2.2-2 2.8-.3 2.1 3.8 2.9-1.2 4.2-.2 2.9-1.8 1.3 .5 .4 1.4-1 1.2-3.6-.2-2.8 4.1-3.2 .6 .3 3.6-3.5 4.2-2.9-3.5-6.5 1.4-.5 .7 3.9 3.5-.4 .9-2.2-.2-2.8-3.8-3.1-.4-1.6-1.5 4-1 1.3-1.8-1.9-5.7-1.6-.7-3.8 3.6-.4 4.6-5 1-3.6-.7-1.4 2.9-2.6-.7-.9-1.5-.3-1.4 1.7-1.1 1.2-3.9-.5-.9-1.4 0-2.9 3 1.4 2.2-2.8 3.6 .2 2.1-.9 .9-2-.2-3-2.1-.7-3-1.4-1.1-3.6 2.5-3.5 .3-3.6 4.9-2.6-.8 .3-2.8-1.3-.4-3.5 2-1.2 1.9 .5 7.5-5.9 1.8-1.2 3.8-3.6-3-1.2 .6 1.5 6.4-3.1 4.5-3.6-1.7-.9-2.1-2.7-.6-1.4 .3-2.8 3.5-1.5 .4-8.5-2.1-11.4 2.3-.7-3.1-2.1-.9-5 3.9-2.8-.9-4.3 .7-2.7-2.8-3-1.3-4.3 3.4-4.2 0-1.2 1.5-.3 2.9-3.7 1.3-1.8 3.6 .6 1.2 2-.5 2.9-3.5 2.2-.1 4.2-2.4 1.5 3.2 4.9 3 1.5-1.6-.4-5 .8-.7 2.4 3 2.9 1.6 2.8 .2 2.8-1.7 2.2 0 6.4 2.2 2.8-.3 1.7 1.4-1.7 .8-7.1-.7-5.7 .9-2.8 2-5.9 2-.3 3.5-.9 .8-1.8-.8-1.1-2.7-5.7-.2-.2-1.3 2-2.2 0-1.4-3.9-1.9-.7 .2-.7 3.4-3 1.9 1.7 3.5-2.3 1.3-2.8 .1-2.2 2.4-2.1-.3-.7-2.6 2.8-3-1.4-2.1-3.8-1.5-2.4-3.5 1.1-2.9-1.3-1-10 .8-1.7 1.6-.3 2.9-.8 .5-4.3-2.2-2.8 1.2-3-.2-.4 5-1.6 .7-3.4-5 1.3-4.3-1.7-5-2.6-.5-2.1 3.8-.8-.4-.1-2.1 2.3-4.9 4-.8 3.5 7.8 3.9 1.7 1.1-1-2.5-5 1.4-1.2 2.2 1.2 1.3 2.2 5 2.3 2.9-.9 2.1-3 4.3 1.4 1.4-.7 1.1-2-.4-2.8-2.1-.1-2.9-1.6-3.1 .2-.4-2.1-1.5-1.1-2.8 .5-2.2 3.7-2.8-.9-2.8 1-4.3-4-10 2.5-1-1.7 .8-2.1-3.3 .3-2.9-1.9-1.4 .2-3.5 4.9 1.4 2.4 3.5 0 .9 1.2-2.3 7.9-2.1-.7-5.7 .6-4-5.7 .1-2.1 1.7-.6 2.2 4.6 5.8 .3-.1-1.9-4.4-2.4 .6-5.7-1.2-1.5-7.1 1.2-3.6-1.4-2.4 2.4-2.6 .7-1.4 2.9-1.4 .7-2.9-.1-1.6-2.1 .2-1.8 3.1-1 .7-2.8 3.9-2.2-.5-2.8 2.2-3.6 3.8-2.1 .3-3 9.3 .1 4.3-1.6 4.2 1.5 6.4-1.3 5 2 2.9-1.9 3.5-.5 5 2.5 1.4-2.8 7.1-.4 4.3 2.1 1.2-3.1-.5-2.8 4-4.3-5.7-1.4 1-4.3 1.4-1.1 3.6 1.8 2.8-.4 2.5 1.8 1 3.6-2.5 4.3 1.9 3.9 .3-3.9 2.4-5 5.1-4.5 1.9 2.3-1.4 2.9 1.9 1.4 3.3-9.2 1.9 2.1 .2 3.2 1.7-2.5 2.6-.8 3.2 .8 1.8 2.6 2.8 .3 3.6-2 7.1 3.2 2-1.2-.1-2.9 3.8-2.2 2 4.3-2.5 2.2 1.9 .9 8.5-.9 .2-2.2 4.1-2.7 4.1 2-.6 2.9 2.2 1.1 8.5-2 2.9 1.4 2.8-3.7 2.9 1.8 2.1 .3 1.4-2.7 1.5-.5 3.5 4.2 5.7 2.4 2.1 2.1 1.9-.9 1-4.3 1.4-1.5 4.3 1 5-1.7 2.8 1.3 4.3-1.3 3.5-2.5 10.7 1.7zM414 16.7l.1 1.4 1.8 1.4 .1-2.1zM469.5 19.6l.5 1.6 1.6-1.6zM334 21.7l.1 1.4 1.9-.7-.5-1.2zM415.5 23.1l1.1 .8 .6-1.5-.6-1.2zM328.1 24.5l.7 4.3-1.5 2.1 1.1 .9 2.1-1.6 .1-4.2-1.5-1.9zM331.6 29.5l2.7 2.9 .4 7.8 1.5 1 1.4-1.7 .8-7.1-4.3-3.4zM324.1 33.1l-1 1.4 .8 2.8-.9 2.9 .4 1.3 1.4 .6 1.4-.6 .6-2.8-1.3-5zM354.9 36.6l-2.7 6.4 1.1 1.9 2.8 1 2.5-2.2 .7-3.5-2.5-3.6zM363.7 38.7l-.7 .8 .8 1.4 2.1-.7zM389.6 40.9l-.6 2.1 1.3 1.8 2.1 .6 1.4-.8-.7-3.9zM376.4 42.3l-1.7 3.6 1.3 1.2 2.9-.8 1-2.6-1-1.6zM327.8 43.7l.6 4.6 1.4 .7 1.7-3.9zM336.9 43.7l0 1.6 1.4 1.3 .3-2.9zM339.6 48l1.6 1.4 3.8-1.4-1.7-1.1zM356.1 60.1l0 1.7 1.4-.3 0-2.1zM88.6 8.1l4.3-.2 .4 1-3.3 1.5zM6.8 9l1.6 2-2.4 1.7-.7-1zM298.5 9.5l3.5 .5 .4 1.7-2.5 1.1-1.8-1.8zM470.7 9.4l1.6 .2-.9 2-1.1-.6zM130.6 10.8l1.2 .2 .4 1.4-1.6 1.9-1.4-1.9zM223.8 11.6l2.1 .6 .7 1.7-.7 .9-3.7-.9-.3-.7zM215.9 12.2l2.7 1.7-3.4 1.1-.5-1.1zM.4 13l2.8 10.1-1.4 1.4-1.4-.3zM13.9 13.1l1.4 .2 4.1 4.1 .4 2.2-.9 1.2-1.5 .2-4.2-2.2-3.9 0-.1-1.4 2.5-1.5zM24.5 12.9l1.2 4.5-1.2 1.3-1.4-2 .4-2.8zM499.8 12.9l6.1 .3 .2 1.4-1.3 1.9-3.5-1.3-1.5 2.2 1.5 2.4 2.1 .1 2.1-1.8 1.1 .7-2.2 2.2 .4 2.6 3.8-1.2-.9-3.6 4.2-4.2 0 9.3-2.1-.5-1.5 2.6 .8 .8 2.8-1 0 14.7-6.4-.7-4.2 1.7-1.6-1.3-.6-3.2-3-1.1 1.6-4.9 2.9 .8 4.2-.6 2.3-2.4 .2-1.4-1-.7-3.6 2.2-2.1-.4-.9-1.8 1.3-2.2-1.2-.6-5.4 2.8 .8 7.8-2.5 5.6-12.8-6.3 .2-1.4 2-1.5 6.4 2.8 .3-5.6 1.7-2.9-1.5-2.8 3.4-1.4 2.1-5.7zM184.6 13.3l2 2-2 1.6-.9-1.6zM64.4 15.3l.7 5.7-.7 1.3-1.4-.6 1.3-2.9-1-2.8zM38.8 16.6l5.2 .8 .5 1.4-.7 1.5-1.5 1.1-4.2-1.7-.7-1.6zM223.8 19.5l1.4 .6-.2 1.6-4 .7 .3-1.4zM265 20.1l1.2 .9-1.2 1.2-.8-1.2zM52.3 20.5l2.4 1.2-1 3.5-5 .8-1.6-.8 .2-2.3zM235.9 20.9l1.1 .1-.1 1.4-1-.3zM252.2 20.8l2.2 .2 1.4 3.7-1.7-.2-3-2.1zM29.5 22.4l7 3.6 .6 1.4-1.2 1.1-4.9 0-3.6 4.4-1.4 .3 .3-8.7zM206 24l1.1 1.2-.4 2-1.4-2zM482.1 25.2l2.1 .1 .6 1.4-2 1.3-1.1-1.3zM226.6 27.3l2.4 .1 2.2 3.5 5.4-1.1 2.1 3.6 3.2 1.1 0 3.5-6 3.8-2.2 2.6-1.9-3.5-2.3-1.6-2.9 .5-3.5 2-2.6-.2-2.4-4.3 1.7-6.4 1.1-.9 4.6-.5zM239.4 27l2.9 .2 0 1.4-2.2 .2-.9-.7zM256.5 27.1l1.5 .3 .1 1.4-2.3 1.7-1-1zM11 29.4l3.6 .2 .3 2-3.2 .9-1.5-2.3zM63.7 29.3l1.4 .3 .2 1.3-2.1 0zM31.7 30.9l2.5 .7 .1 1.5-1.2 1.3-1.7-.6zM58 30.7l1.4 1.7-.7 1.4-2.1-1.4zM88.6 30.7l1.2 2.4-1.3 4.2 4.6 1.4-1 4.4-7.1 2.2-1.4-.9-2.1-4.9 2.1-1.3 3.6 1.3 .4-1.5-1.1-.7-1.1-4.9zM255.1 33.7l1.7 .8-1 1.5-1.9-.8zM43 35.1l2.2-.1 .4 1.6-1.1 1.9-2.5 .2-.4-1.4zM430.1 35.1l1.4-.3 1.4 2.5 .1 1.4-1.5 1.3-2.2-1.3zM70.1 35.8l2.8 3.5 2.1 .2 .1 1.4-.7 .6-5-3.1-.5-1.1zM29.5 36.5l2.1 .8 1.5 2.9-4.3-.1-.8-2.1zM13.9 38.5l1.7 1-.1 2.1-2.3-.2-.3-1.9zM419.4 39.4l2.2-.2 1.1 1-1.1 2.2-2.2-.3zM48 40.1l1.3 1.5-.6 1.4-2.4-1.4zM20.3 41.6l4.3 .7-.6 3.6 2 2.1-4.3 3.9-1.1-1.1 .5-3.5-1.9-5zM212.4 41.3l1.8 .3 .3 4.3-.7 .4-2.6-3.3zM479.2 42.8l5 .9 .2 1.4-3.8 1-1.4-1.7zM48.7 44.3l2.3 2.3-2.3 3.3-2.3-1.2-.8-2.1 .6-1.5zM468.5 44.9l2.6 .2-.3 2.9-2.3 .2-1.7-.9zM78.6 45.7l2.2 .9 0 1.8-2.9-.2zM411.6 46.4l5 4.7 3.6 0 .6 1.2-.6 1.3-7.2-1.9-2.8 .2-1.3-3.2zM32.4 47.7l1.8 1 0 2.1-2.5-.4zM228 47.9l2.2 2.3-1.8-.1zM48.7 50.4l1.9 1.9-.4 1.4-2.2-.9zM263.6 50.8l1.7 2.2-1 1.8-2.9-1.8 .4-1.5zM489.2 50.5l2.8 .8 2.8-.5-.9 1.5-4 1.4-1.5-1.4zM507 51.3l1.2 1-.5 1.6-1.5-.9zM40.2 52.2l1.4-.3 1 1.1 .2 3.5 1.4 2.2-1.9 2.5-3-3.3zM472.8 52.2l1.4 1.5-2.1 1.5-.7-1.5zM146.2 53.4l2.2 .1 2.3 2.3-.3 1.4-4.7 0zM241.6 53.6l1.1 4.3-1.4 2.2-1.9 .4-2.1-3.3zM254.4 54l.7 0 1.6 3.9-.9 2.7-2.3-2.7zM497.7 54.2l1.4-.3 1.1 1.2-1.1 3.5-2.6-1.4zM19.6 55.8l1.1 0 0 1.4-1.3 0zM33.1 57.1l1.1 1.6-2.5 1.4-.6-1.4zM116.3 57l2.4 1.7-.2 3-1.5-.1-1.2-1.5-.2-2.7zM246.5 57.1l2 .1 .4 2.2 2.6 1.9 1.1 3-.9 1.5-2.3-.8-1.2-4.9-1.9-2.2zM479.9 57.1l4.2 .8-2 4.4-2.2 1.6-2.7-2.4zM75.1 57.7l2.1 3.8-1.4 .1-1.7-1.5zM470.7 58.6l2 1.5-.6 1.2-2-1.2zM173.3 59.9l2.1-.3 1.4 2.6-1.4 2-2.9 .8-1.3-2.8zM260.1 59.9l4.2 2.7 2.2 .1-.1 .9-3 2.2-1.9-.3-3.2-3.3 .3-1.4zM464.3 59.9l2.4 .2-2.4 1.9-.9-.5zM67.2 61.4l1.5-.3 .7 1.8-2.2 .3zM187.5 61.4l2.1-.1 1.9 4.5-1.3 2.1-2.7 1-1.8-1-.4-4.3zM131.3 62.3l-.4 2.8-2.5 .5-1.7-2.7zM53 62.5l1.3 1.8-.6 1.5zM119.2 62.9l3.5-.7 2 .7-2 1.8-2.8 .4-1.3-.8zM146.9 62.9l.8 .7-.9 1.5-3.1 .7zM413.8 62.8l2.2 .8 2.1 3.6-.7 1.4-2.2 1.2-1.5-.5 .7-2.8zM240.9 63.5l1.1 .1-.4 1.3-1.2-.6zM304.9 63.6l1.2 0 .2 1-.7 .5zM498.4 63.4l1.4-.2 .6 1.1-1.3 2.7-1.4-1.3zM41.6 64.3l1.8 5-.4 1.2-2.8-.2-.7-1 1.2-2.1-.1-2.1zM109.2 64.3l5.8 1.5 2.5 6.4-2.6 2.5-2.1-2.3-1.4-.2-4.8 4.2-.9 4.7-2.2 .6-3.3-3.8-.2-1.5 5.4-4.9 .3-3.7zM102.1 64.9l1.4 .2 .5 1.4-2.6 2.1 0 2.3-1.4 .3-1.8-2.6zM511.9 64.8l0 3.1-1.1-1.4zM206 65.6l2.6 .2 .6 2.1-6.7-.7zM395.3 65.9l1 1.3-5.3 1.8-.7-2.5zM10.7 66.5l-.2 2.1-4.5 0-.1-1.4zM171.8 65.8l.6 1.4-.6 2.3-1.7-.9zM399.5 66.2l2.1 1 .3 2.1-3.1-1.4zM16 67.2l.9 .7-.8 2.8-1.5 .6 0-2.7zM58 67.5l2.8 .7 2.2-.5 1 .9-.1 1.4-1.6 1.4-4.3 0-1.2-2.1zM383.9 68.5l2.9 1.5-.1 1.5-6.4 1.6-5-.6-1.5-1.8 .8-1.4 3.6 1zM466.4 68.6l1.9 1.4-2.2 0zM69.4 69.3l2.7 .7-3.4 2.6-.8-1.9zM407.3 68.8l1.5 1.5 1.3 4-.6 1.6-1.4-.1-3-3.6zM198.9 69.8l2.1-.1 .3 1-3.4 .8zM211 69.9l2.7 .8 .4 1.5-1.7 1-2-.3-.3-2.2zM368.2 69.9l3.1 .1-.2 2.9-2.9-.2-.9-2zM423.7 71.1l3.4 1.1-.5 1.5-2.2-.1zM20.3 72.1l2.1 .2 .6 1.3-2.9 .7zM191.8 72.8l2.1 2.2-2.1 1.4-1.6-2.1zM482.1 72.8l3.5 1.5 1.1 1.4-.4 1.2-4.9-1.2-.2-2.1zM341.9 73.8l1.3 1.2-2.5 4.3 .8 3.5 1.8 2.1 3.3 .8 .3 4.2 2.1 1.1 .2 1.1-1.6 .2-5-1.9-.6-1.2 1-2.8-4-1.2-1.9 2.6-5.1 3.6-.6 3.5 1.3 2.9-.8 1-1.4 .1-1.6-1.8 2-2.9-1.8-4.2-2.3-1.5 .1-1.4 2.9-1.8 2.8 1.2 5-3 2.2-4.9-.7-2.9zM418 74.2l2.6 1.5 .3 4.3-1.2 3.5-1.7 1-.1-2.4 2.2-2.8-2.7-3.6zM149.8 74.8l.8 .9-.9 4.3-4.2 .7 0-1.4 2.8-1.4zM164 74.9l1.8 1.5-.4 4.5-1.9-2.3-.4-2.9zM24.5 75.4l2.1 .3-.4 2.2-2.4-.6zM427.3 75.3l2.9 3.3-1.5 2-1.4-1.3zM497.7 75.4l1.4-.3 3.6 2.3 1 1.2-.3 1.4-1.4 .6-3.6-1.1-2.1 3.5-2.9-1.5-2.1 0 0-1.8 3.6-.9zM70.8 77.1l2 .8-2 2.1-1.4 .2-.1-2.3zM84.3 76.8l.2 3.2-1.6 1.6-.2-1.6zM331.2 77l1.9 .9-.5 2.7-2.1-2zM114.9 77.8l1.2 2.2-1.1 4.3-.8 .3-2.1-3.9 1.4-2.3zM203.9 77.7l1.4-.1 0 1.7-2.9 1zM319.1 77.8l1.1 1.5-3.5 2.8-.2 2.9 6.2 7.2 .6 2-3.5 .9-.5-2.3-1.6-.3-1.2 2.4-1.6 .4-1.5-1.2 3.3-2-1.1-1.9-2.9-.2-.5-.8 3-3.5-1.5-4.3zM96.4 78.5l2.9 .8 0 3.3-3.2-.5-.5-2.1zM42.3 79.7l1.8 2.4-1.8 1.9-1.2-2.6zM209.5 79.8l1.5-.5 1.8 1.4 1.3 2.8-1 1.3-2.1 .5-1.5-1.1-.8-2.8zM178.9 80.6l2.4 .8-1.6 3.4-1.5-1.3-.1-2.1zM157.6 81.4l.6 .7-1.3 2-2.1 .9-1.8-1.5 0-1.4zM95.7 83l1.9 3.4-1.2 1.5-2.8-.6-1.1 1.2 1.8 1.9 2.1-.4 1 3.5 4 3 2.1 .2 3.6-4.3 2.8-.5 2.9-4.9 1.4-.6 9.2 2.8 1.3 5.7 3.6 1.4-1.3 3.6-1.4 1-1.4-.5-2.4-4.1 1.5-4.2-4.1-1.2-1.8 1.2 .7 4.2-1.1 1.9-2.1 1.6-2.8-.9-1.5 .5-1.7 4.8-1.1 .7-3.6-.7-.7 3.5-6.4-2.2-2.8 .1-2.9-1.5-1.2 .8 .3 3.5-3.3 .9-.7-.9 .4-3.5-3.2-2.2 1.3-1.4 2.9-.1 3.2-4.9-2.3-3.5 .3-4.3-.9-4.2zM94 93.5l-.4 2.1 2.3 4.3 2.3-2.1 0-1.5-1.3-2.1zM101.4 98.6l-.5 1.3 3.3 3.2 1.7-1.1 .4-1.4-2.1-2.7zM50.2 84l4.2 1 0 .7-2.8 2-2.6 .1-.8-1.4zM102.8 84.2l2.4 .1 .5 2.4-3.9 .4-.6-1.4zM117.8 84.2l1.3 .8-.6 .7-1.2-.7zM137.7 84.2l2.4 .8 .7 2.1-2.4 .9-1.6-2.3zM194.6 84.2l1.4-.3 3.9 3.2-1 2.9-2.9 2.4-3.1-6zM75.8 85.6l1.6 .8-.2 1.8-2.4-.4zM450 85.3l1.6 .4-.8 1.6-.9-.2zM61.5 86.3l1.3 1.5-2 2.9 2.3 3.5-3 1.8-2.8-4.6zM183.2 86.2l1.3 .9-3.6 5.7-3.6 0 .2-1.7 2.9-1.5zM4.6 87.1l1.5 .7-.5 .7-2.4 .5-.2-1.2zM141.9 87.1l1.5 .1 .8 1.3-.1 1.7-1.4 1.1-1.6-1.4zM166.9 86.5l6.3 2.7-4.9 7.6-2.8-1.2 2.7-2.8-1.8-4.3zM35.9 87.2l1.9 2-1.9 1.5-1.2-1.5zM222.4 87.4l1.2 1.1-1.2 .9-1.1-.9zM242.3 87.7l2.9 .8 1 1.4-1.8 .8-2.1 3-1.4 .3-1.4-3.3zM300.6 87.8l1.3 .7-1.3 1.4-.6-.7zM498.4 87.8l2.1 .7-.7 2.6-2-1.2zM81.5 88.4l1.2 .8-.5 1-1.4-.6zM26.7 88.9l2.1 1.6-.2 1.6-2.5-.7zM70.8 89.5l1.8 .4-1.1 1.9-1.3-1.1zM16.7 90.2l2.1 1.9-2.4 .7-.4-1.4zM477.8 90.6l4.3 3.5 2.8-1.6 .9 2.4-1.6 .9-2.1-1.4-1.5 3.7-.9-3.2-2.3-2.1zM.4 90.9l2.1 2.8 2.1-.2 .1 .7-4.3 2.2zM8.9 91.8l1 1-1 1-1-1zM20.3 92.1l3 0-1.6 .9zM353.3 91.6l2.1 .4 2.5 2.9-3.9 4.4-1.4-.3-.4-1.2 2.4-1.5-2.8-2.8zM371.1 92.1l4.4 0 1.7 2.1-4 1zM266.5 92.8l3.5-.3 1.5 1-1.5 1.4-3.5-.3-.8-.4zM445.1 92.1l3.5 2.1 1.1 4.3 1.8 2.1-.3 2.1 1 2.1 2.5-.6 2.5-4.3 2.1 1 0 3.3-5 1.9-3.5-1.7-5.7-8.5zM259.4 94.1l1.1 1.5-.4 1.5-4 2.8 2.5 .2 5 4.3 2.2-.1 2.8-3.4 4 1.1 1.7 1.5 8.5-.3 1.9 1-1.2 1.4 5.7 .7 2.2 2.1 3.5 .4 0 3.9 .7 .5 2.9-3.2 5.7 4.1 5.7-.4 1.4-1.6 3.6-1.2 .5 2.5 4.2 3.6-4 2-5-2.1 2.4 4.3-.3 3.6-1.4 1.9-3.1-2.6 .9-2.9-.5-2.1-4.4 1.2-1.4-4.5-2.2 1.8-3.5 .3-2.2 1.9-7.8-4 0 1.3 1.4 .2 0 1.4-7.8-1.6-5 2.3-.9-.3-1.5-5-3.3-.1-.7 .8 2.9 1.5 1.6 3.5-2.4 1.5-4.9-1.6-1.2 1.5-.3 2.8-.7 .1-7.8-2.7-5 1.2-3.5-4-2.9 2.5-5.5-1.3 0-2.1 5.5-1.5 .7-1.4-8.5-6.9-1.7 .5-1.2 3.4-.7 1.2-.7-.3-1.8-3.6 2.8-2.1-.9-4.3 2.1-.7 1.4 2.4 2.8 2 1.3-.8 .2-4.9 3.5-.7 .3 3.5 2.6 .8 4.5-3 .2-2.8 2.4-2.3 2.1-.1zM282 112l-.6 3 1.2-.9zM75.1 95.5l1.4 .5 1.8 3.9-2.5 1.8-2.2 .3 .4-4.9zM162.6 95.5l2.6 .8-.4 2.9-2.2 5.5-3.6 .5-2.6-1.7 .1-1.5 3.2-2.1 .7-3.1zM151.9 96.1l2.8 3.8-1.4 4.8-3.5-2.2-2.2 2.1-2.8-1.8-2.1 4-2.1-2.6 .1-1.5 3.4-.3 .7-3.5 4.3 .2zM207.1 96.3l-1.1 2.3-4.3 .6 .2-2.1zM53 97l2.2 .8-.1 3-2.2-1.6zM3.2 97.6l1.1 .9-.1 1.4-3.8 2.3 0-2.1 1.7-.2zM302 97.7l5.7 .5 1.5 2.4-1.5 2.7-2.1-3.3-2.4 2 1.1 6.4-1.5 1-3.2-5.2 2.2-2.9zM193.2 98l2.1 3.3-1.4 .7-.8 0zM339.8 99l1.7 .2 .2 1.4-1.2 .3-1.4-1zM114.9 101l.9 1.7-.5 9.3 2.9 2.1-.4 2.5-2.7-1.1-.4-2.8-2.7-2.9-.4-4.9zM434.4 101.1l1.3 .9-.6 1.5-1.5-1.5zM63 101.8l1.4 0 1.5 1.7 .3 1.4-1.1 1.5-2.1-.2-2-1.3zM208.1 101.8l1.2 .9-.5 1.5-1-.7zM442.2 101.5l.3 1.2-1.9 2.2zM136.3 102.5l1 .2 .5 1.5-2.1 2.1-.7 2.8-.9 .2-1.3-2.3zM198.9 102.2l1.6 .5-.2 2.3-2-.8zM313.4 102.2l2.9 .5 0 .8-2.2 1zM294.9 103.4l2.5 .8-2.5 1.4zM22.4 104.6l2.2 1-1.5 1.7-1.2-1.7zM31 105.2l1.4 0 3.6 4.6-.1 2.1-2.1 2.3-1.5-.8 .4-2.1-3.6-2.2 .2-2.1zM482.8 105l1.1 1.3 .3 5.7-.7 .7-1.4-.1-2-2 .1-3.6zM56.6 106l1.5 .3-1.5 1.6zM211.7 106.2l3.2 1.5-1.1 2.6-2.9-.5-.5-2.8zM376 106.8l2.3 2.3-.8 2.8-.9-.6zM509.8 106.7l2.1 .2 0 2.1-2.7-1.3zM120.6 107.5l1.4 .1 1.7 2.2-.2 3.2-1.6-.3zM442.2 108l1.3 1.1 .1 2.9-1.4 1.2-.9-1.2zM12.5 109.8l1.4 1.5-1.4 1.8-1.3-1.8zM95.7 109.7l1.3 .9-.6 2-1.5-1.3zM55.9 110l1.1 2-2.6 .9zM336.9 110.5l2.6 5-1.2 1.2-2.8 .6-.5-3.2zM68.7 113.4l3.2 2.1-1.1 3.5-.8 .1-2.1-3.6zM133.4 112.9l2.1 1.2-1.5 .7-.9-.7zM23.1 114.1l2.9-.1 .3 2.2-2.5 1.7-1.7-.2-.4-2.2zM511.9 113.8l0 3.3-2.8-.8-.1-1.5zM475.7 114.7l1.4-.5 .1 1.3-1.6 0zM491.3 114.4l2.1 2-2.4-.2zM376 115.4l2.2 0 1.3 2.3-2 1-3.6-.3zM224.5 116.9l2.6 .1-1.7 6.4 3.4 2.1-.8 3.2-2.1 1.6-3.7-8.4zM16 118.3l1.3 .1 .1 1.1-2.1 1.7-.4-1.4zM127 117.9l1.4 .1 2.2 1.8 2.8 .2 1.6 1.9-3 .9-4.3-1.7-1.2-1.3zM500.6 118l5.7-.2 4.2 1.1 1.4 .7 0 2.8-1.4 1.9-1.4 .1-1.5-1-1.3-3-6.4-.6zM116.3 119.8l1.1 1.4-2.9 .7 .1-1.4zM63.7 120.4l1.7 .1-1 2.2-.7 0zM354 120.1l.9 1.1-.9 2.5-.7-1.8zM55.9 121.2l2.1 .4 .5 1.8-3.4 3.7-2.1-.5-.7-2.3zM487 121.2l5.4 2.2-.3 1.4-2.2 1.1-2.7-1.1-1.3-2.2zM68 121.7l1.4 .3 .7 1.4-3.6 1.4-.4-1.4zM77.9 121.7l2.9-.1 .3 2.5-3.9 1.3-1.4-.4-.8-1.6zM86.5 124.3l2.1 .8 .3 2.5-3.2-.6zM129.9 125l1.5 .5-.1 2.1-1.4-.7zM338.3 125.4l2.2 .1 .3 .7-1 .7zM14.6 125.8l1.4 .5 1 2-1 2.9-1.4 .5-1.9-.5-.5-1.4zM26 126.2l1.8 2.8 3.2 2.3-.8 1.7-3.7-1.1-.2-2.1-1.4-2.2zM124.2 127.3l1.4 .3 1.2 2.9 3.8 3 0 2-2.2 .7-1.4-.6 0-1.6-3-2.8zM371.1 127.1l2.9 .5 .4 2.2-1.2 .8-2.1-.4-1-1.9zM383.9 128.3l.9 .7-.9 1-1.1-1zM243 129.5l1.8 .3-.6 4.2 .8 2.2-1.1 3.5-1.6 .9-1.2-.9 2.2-4.3-1.3-2.8zM113.5 131.2l.1 1.4-2.3 .7zM304.2 130.8l2.1 .2 2.9 2 0 6.5-4.3-1-2.9-3.1-.4-2.1zM343.3 131.6l1.4-.1 1.7 1.8-2.8 0zM494.9 131.5l1.6 1.1-.2 2.5-3.9-.4-.5-1.4zM38.8 134l2.1 .1 .9 2.1-3 .1zM102.1 133.9l1.7 .1-.3 2-1.2-.6zM502.7 134.7l2.1 1.1-.7 2.1-2.1-.1-1.7-1.6zM16 136.1l2.4 1.5-1.7 2.4zM134.8 136l2.2 .2-1.5 1.4zM274.3 138.3l1.5 .7-.8 1.4-1.3-.7zM334.1 138.3l4.7 1.4 .3 4.3-.8 1.2-2.1 .5-3.3-2.4-1.5-3.6zM83.6 138.3l0 1.7-1.5 .4-.6-.7zM295.6 139l3.6 .7-1.4 1.8-1.4 .3-1.3-1.4zM72.9 139.6l.9 .1-.8 4.3-2.2 1.6-1-.9-.2-2.1zM133.4 139.7l1 .7-.3 1.3-2.8 3-1.4 0 .7-3.6zM117.8 142.5l2.8 .6 1.3 1.6 .1 3.2-1.4 2.4-2.3-2.1-2.1-4.9zM378.2 142.5l1.2 1.5-.5 1.6-1.4-1.3zM349.7 143.2l.7 .8-1.4 3.5 .7 3.2-3.6-1-2.2-4.3 .8-1.5zM361.1 143.2l2.3 1.5 .1 3.5-1 .7-3.1-2.8 0-1.4zM90 144.5l1.4 .3 1.3 3.4-2.7 7.3-1.8-2.3 1.8-2.1-1.1-5zM203.1 144.7l1.6 3.5-.8 1.9-5.1-2.6 .8-1.8zM371.1 144.4l1.5 1.7-.1 1.4-2.9 1.7-1.4-.2-1-1.5 .5-2.1zM500.6 144.6l1.4-.2 1.3 1.7-1.3 2.6-2.2-2.6zM299.2 145.2l2.1 .2-2.8 2.6-.6-1.2zM320.5 145l.9 1.1-.9 1.5-.7-.8zM226.6 146.4l1.9 .4 0 1.4-3.3 0zM405.2 146.5l1.4 .1 0 1.8-1.4-.5zM71.5 148.2l1.1 .8-1.2 2.8 .8 3.6-2.1 1.8-1.1-1.1-.8-4.3zM422.3 147.9l2.2 .3 .2 2.2-1 .9-1.9-.9zM511.9 147.6l0 4.9-2.8 .2-1.1-3zM28.8 149.5l1.4 .2-.2 .7-2.6 .9zM211.7 149.3l1.1 .4-.4 1.1-1.2-.4zM133.4 150.2l.7 1.2-1.6 .4-.4-.7zM373.2 150l4.3 .3 .7 1.5-1.4 .6-3.6-1.1zM398.1 150.1l2.8-.1 1.1 1.1-3.2 1-1.6-1zM5.3 150.8l1.4 1-.7 1-1.2-1zM79.3 150.9l1.5 .2 .7 1.5-3.1-.1zM222.4 151.6l.6 .9-.6 1.3-.8-1.3zM267.2 152.1l2.2 1.8-.8 2.2-3.1-1.5zM383.2 152.2l.9 .3 0 2.9-1.7 1.1-1.3-1.9zM16 153.9l1.2 .7-1 3.6 4.1 4.1 1.6 3-.3 1.4-6.3-.9-2.1-1.4-2.9 1.6-1.2-.7 .5-2.5 3.6-1.4 1.3-1.8 .2-1.4-2.2-3.2zM480.6 153.8l1.5 .1 1 1.5-2.5 2.8-.8-2.8zM359 154.4l1.4-.1 .8 1.8-4.4 2.5-.2-1.1zM391.7 154.6l1.2 3.6-2.6 .3-.5-1.7zM494.2 154.3l3.7 2.5-1.6 2.6-1.4-1.7zM336.2 155.3l3 2.9 0 7.8-3.7 4.2-6.2-.6-1.9-6.4 2.4-1 2.8 2.1 1.5 .1zM112.8 155.9l1.4 .8 .1 1.5-2.2 1.4-1.3-2.1zM309.9 156.7l1.4 .8-1.4 2.2-1.2-1.5zM81.5 158.1l3.5 .5 0 1.7-1.4 1.2-1.4-.3-1.5-2.3zM213.8 158.7l1.9 1.6-1.2 2-1.8-1.3 0-1.4zM393.8 159.5l3.6 1.5 .4 1.5-1.1 1.3-2.2-.1zM242.3 160.3l.6 .7-1.3 1.4-.6-1.4zM402.4 160.1l2.1 .2 .1 1.5-1.5-.2zM504.8 160.2l1.4 .1 .1 .9-1.5 0zM462.1 160.6l.7 1.2-.8 1.4-2 1.4-1.4-.4-.4-1.7zM378.2 161.7l2.3 .8-.4 1.4-1.9 1.1-1.6-1.1zM26 162.4l1.1 .1 .4 1.4-1.5 1.6-.7-.9zM119.2 162.3l4.5 .9 1 4.2-2.7 .8-3.1-5zM73.6 163l2.4 1.6-2.4 2.9-1.2-1.5zM134.1 162.7l.8 1.2-2.2 1.9-1.6-1.2zM50.2 163.7l1.4 .6-.7 1.5-4.8 .2-.2-.7 2.8-.4zM477.8 163.6l1.6 .3 .5 1.4-2.1 .1zM95 164.1l1.5 2.6-.8 2.6-2-1.9zM102.1 164.7l3.7 2.7-.5 3.6 2.1 2.1 .1 1.5-1.1 1.1-4.3-.9-1.4 1.1-.4 2.2-1.8 .2-1.3-.9 0-1.4 1.5-4.3 3-2.1zM112.8 165.9l1.4-.3 .3 1.1-1 .5zM359 167.2l1.1 1.7-1.8 .9-.4-1.6zM26 168.2l4.8 .7 0 1.4-2.6 2.1 1.1 2.9-2.6 2.1-3.6 0 0-.9 2.9-1.9 0-.8-2.9 0-.4-.7zM373.9 168.3l.7 2-2.8 0-.4-.7zM482.1 168.8l.8 1.5-1.6 1.3-.6-1.3zM.4 170.2l1.1 2.2-1.1 1zM8.9 170.2l1.4 0 .4 1.5-2.5 0zM174 170.1l.8 .2 .1 4.3-3.1 .6-.6-2.8zM420.2 169.8l2.3 1.2-.9 1.4-2.2-.3zM345.4 170.9l.7 .8-.7 1.2-.8-1.2zM415.2 170.8l1.7 3.8-1 2.1-1.4 .2-1.1-2.3zM13.9 172.4l4 .7-1.9 5.2-1.5-.2-2-3.2 0-1.8zM90 172.3l1.1 .8-.3 1.5-2.2 .6-.6-1.4zM229.5 172.6l1.4 1 1.8 4.5-3.2 1.5-3.2-3.6zM275.7 172.9l2.2 .9-.8 2.7-2.5-1.2zM492 173l2.4 .8 1 2.2-.5 .5-5 .2zM47.3 173.6l2 1.7-1.3 1.3-1.7-1.3zM132.7 173.7l1.8 .1 1.5 1.5-3.8 2.1 1.5 2.8-1.7 2.9-1-.7 1-4.3-3.3-2.1zM383.2 174.6l2.8 1.6 5 .8 .7 1.8-2.1 1.4-8.6-2.9-2.8-2zM165.4 175.3l2.8 2.1-2.3 2.8-.5 2.5-1.3-3.9zM485.6 174.7l3.9 2.7-4.6 2.3-4-.9 .6-2.1zM71.5 176l1.7 2.1-1 1.8-1.8-1.8zM242.3 175.5l.8 1.2-2.2 1.2-.8-1.2zM360.4 175.5l1 .5 1.1 3.1-2.8-1zM498.4 176.6l2.2 .2 2.6 3.4-1.9 3.8-5.7-2.5 0-2.3zM35.9 177.9l4.3-.1 1 2.4-3.9 .7-1.9-2.1zM107.8 178.3l1.5 .5 1.4 2.1-3.6 2-.1-3.4zM84.3 179.2l2.4 2.5-1.7 3.3-3-2.6zM260.8 180.8l.5 1.6-1.2 2.7-.9-1.3zM435.1 180.3l1.4 1-.7 3.7-4.1-1.2zM111.4 181.4l1.5 1 .5 2.1-.6 .4-1.6-.4zM244.4 181.2l.8 1.2-1.5 .9-2.9-.9zM447.2 181.2l1.2 .5 .4 1.4-1.6 1.3-.9-1.3zM58.7 182.3l4.2 .8-2.1 1-2.3-1zM96.4 182.3l2.5 .8-1.1 2.6-1.4-.1-.6-1.1zM4.6 182.5l1.4 1.1 0 3.1-5.6 3.1 0-4.5zM306.3 183l1.4 .7 .3 1.5-2.4 1-1.2-1.7zM363.2 183.1l1.4 1.4-2.8 4.3-1.3-4.3zM377.5 183.3l1.4 1.1 .2 1.5-.9 1.6-2.2 .4-.4-2zM105 184.2l.8 .3-.1 2.1-2.2 1zM115.6 183.8l1.3 .7-.6 2.4-1.5-.3-1-1.4zM171.8 184l1.5 1.4-.8 1.5-1.4-.7zM368.2 184.4l.9 .8-.9 1-.9-1zM398.8 184.8l1.4 0 .6 1.1-.6 6-.7 .1-2.3-3.9zM474.9 185.7l1.5 .1 0 1.3-1.5 .2zM160.4 186.6l2.2 .1 1.2 1.4-1.2 4.8 2.8-1.9 2.4 2.7-.4 5.7-1.3 3.6 1.5 4.3-2.4 3.5-4 0-2.6 2.1-8.1-1.5-3.6 1.4-1.4-2.5-1-.2 2.4-.5 1.6-3.1-2.1-6.4 3.4-2 5 .6 .9-.7-.9-1.3-2.9-.9-2.5-2.8-.3-3.7 2.1-1.7 5 1.7zM435.8 186.2l3.3 1.9-.4 2.3-2.9-1.6zM108.5 188l2.6 1.5-.6 1.4-2 .8-1.3-1.5zM102.8 188.8l-.2 .7-4.4 4.2 0 5.7 2.2 2.9-1.1 .1-2.3-2.3-2.7-.8-2.8-4.8 2.1-3.4 3.5 .7 1.4-2zM369.6 188.6l7.2 1.5 2.8-1 1.6 1.1 .3 1.4-5.5 2.6-5.6 .1-1.8-3.4zM26 189.2l1.6 1-.9 1.9-1.6-1.2zM132 189.3l2.4 .2 .1 2.1-1.9-.7zM222.4 189.4l1.4 1.5-2.2 2-.6-2zM272.9 189.2l0 2.7-5 1.7-1.9-.6 .5-.9 4.2-.8zM85.7 189.6l2.9-.1 .5 2.8-2.7 .7-1-1.4zM122.7 189.9l1.5-.1 1 1.1-1.7 2.3-1.8-1.6zM237.3 189.6l.7 1-1.4 1.8zM408.1 189.8l3.3 1.1-2.6 .4zM413 189.7l5.7 3.6 1 3.3-2.1 0-2.4-3.7-3.4-2zM72.2 192.1l5 1.5 .8 1.6-6.2 0-.8-1.5zM322 192.2l2.1-.4 .5 4.8-2.6 5.5-1.5-2.7 1.4-2.8-.6-2.9zM60.8 192.4l3.4 2.1-.5 2.3-.7 .4-4.3-2.3-.3-1.2zM66.5 192.9l1.5 .5-.4 1.1-1.6-.8zM499.8 192.7l6.5 .4 .9 2.1-3.8 .3-5.7 2.3-1-1.2zM256.5 194.4l1.5 .1 .5 1.4-1.3 2.8-1.4 .6-2.5-2.7zM233 194.5l1.5 2.8-.8 1.4-1.4-.8zM487.8 195l1.2 .9-2 .8zM280.7 195.7l2.5 .2 .3 6.4 3.1 .7-.9 2.5-5.8-4.6 0-4.3zM437.2 195.8l1.5-.2 .4 1-1.9 .5zM124.2 196.5l1.4 .6 .5 1.6-1.9 1.9-1.2-1.9zM288.5 196.2l1.4 .4 0 2.4-1.9-1zM388.8 197.2l1.9 2.2 .2 2.2-.6 .3-2.2-.1-1.5-1.7 .1-1.4zM458.6 197.3l1.4 0 1.6 2.1-3.2 0-.7-.7zM245.8 197.8l1.5 .9-1.5 2.4-.8-1.7zM307.7 197.8l1.3 .9-.5 1.4-2.9 .9-.6 1.3 2.5 2.1-.4 2.1-2.2-.7-.7-3.1-3.6 .6-2.8 1.7-1.1-.6-.2-2.1 2.7-.3 1.7-3.3 4.7 1.1zM221.6 198.3l2.6 2.6 4.2 1.4 .2 1.4-1.3 .6-2.8-.8-3-4.1zM25.3 199.3l2.5 .8 1.9 2.9-5.9 0-.2-2.1zM79.3 199.3l1.5 .6 4.9-.5 2 2.2-4.8 .1zM72.2 199.9l1.2 .2 1 2.5 3.9 1.1-1.5 2.8 .2 2.9-1.2 1-1.8-1 .5-3.6-3.7-2.8zM130.6 200.5l1.5 .4 .9 4.2-.3 1.8-1.4 .9-1.4-.9-1.1-2.5zM403.8 200.7l3.7 .9 .4 1.4-2 1.3-2.8-.2-.4-2.5zM332.6 201.4l3.8 .2-3.8 1.5-.8-.8zM438.7 201l.8 1.3-2.1 2.8 .5 1.7-1.2-.3-.3-1.4-4.1-1.4 .7-1.3 2.8 .2zM63.4 202.3l.1 2.1-1.2 .5-1.5-.7-.6-1.2zM393.8 202.2l1.5-.3 .9 1.1-.3 2.8 1.9 3.6-1.1 1-2.2-2.2-3.5 1.8-.6-.6 .1-2.1 3.3-2.2zM7.5 203.4l1.1 .3 .3 1.4-1.4 0zM361.1 203.7l1.4 .1-.7 2-1-.7zM496.3 203.5l2.3 2.3-1.6 1.7-2.4-1 .3-1.8zM118.5 204.5l.9 2.8 .1 1.4-1 1-2.1-.3-1.5-2-2.1-.3-1.2-1.3 1.2-1zM55.1 204.8l1.5 .5 0 1.8-1.5-1.1zM247.3 205.3l1.8 3.4-.4 1.4-2.1-2.1zM375.3 205.8l.1 1.5-.8 .4-.5-1.2zM23.8 206.2l6.3 .3 .2 .8-1.5 1.2-4.3 .2-.9-.7zM43 207l4.3-.4 1.7 1.4-1.7 2-2.1-.2-2.9 1.3-.7-2.4zM479.2 207.2l2.1 1.5 0 1.6-2.6-.9zM12.5 208.6l.4 4.3-4.7 0 .3-1.4zM18.9 208.6l1.3 .8 .3 1.4-3.8 .2 .6-1.6zM472.8 208.4l2.4 1 1.4 3.5-4.9 0-1.2-2.1zM507.7 208.4l1.4 0 2.4 1.7 .4 2.8-5.8 0 1.5-2.1zM286.4 209l2.6 1.1-.8 2.8-1.8-.7-.8-2.1zM56.6 209.4l2.1 1.4 .3 2.1-2.6 0zM413.8 209.6l1.2 1.2-.6 2.1-2.8 0zM21.7 210.8l1.3 .7-.5 1.4-1.4 0-.4-1.4zM128.4 210.6l3.6 .3 1.2 2-6.3 0zM138.4 210.7l1.4-.2 1.8 2.4-4.7 0zM314.9 210.7l4.2 .2 3 2-8.1 0zM448.6 210.6l3.6 2 2.6 .3-6.5 0zM48 211.1l1.5 .4 .5 1.4-2.2 0zM83.6 211.3l1.8 .2 .8 1.4-9.1 0 1.5-1.1 2.9 .9zM188.9 211.4l2.1 .2 1.3 1.3-4.9 0zM248.7 211.3l.9 1.6-2.6 0zM310.6 211.3l1.8 .2 0 1.4-4.7 0zM442.9 211.3l.3 1.6-1.5 0z" fill="#e4edf5" fill-rule="evenodd"/><path d="M450.8 12.3l1.6 .1 1.6 2.2 .4 2.1-.8 1.3-2.1-.1-1.5-2.1-2.9-1.2zM111.4 13.6l.9 1-.2 1.3-1.6-.6zM354 15l3.2 1.7-1.7 3.6 1.3 2.1 4.2-1.4 .8-2.9 1.4-1.1 5 1.9 13.5-2.2 5 2.7 2.1-2.6 1.8 .6 1.1 3.1 1.4 .3 2.9-1.6 1.9 1.8 2.9 .7 1.6 2.6 1.3-3.3 2.2-2.4 4.3 5.2 2.8 1.8-.4 6-3.1 4.5-5.7 .9-3.6 2.7-1.4-4.7-7.8 3.3-4.3-3.1-2 1.4-.9 2.1-2.8 1.2-1-.4-.3-2.9-2.9-1.1-1.5 .2-1.4 3-1.4 .5-3.6-2.7-3.5 .2-5-1.2-5-2.7-6.4 .5-1.7 1.2-1.7 7.8-2.9 1.4-.1-4.2-1.4-2.6 .2-3.8-1.9-3.6 3.3-5.7-1.1-3.5 .6-2.2 1.1-1.4 2-.2 4.3 4.2zM387.5 25.2l-1.4 2.2 1.3 1.4 2.1-2.1zM399.5 28.2l-4.2-.8-1.1 .7-.2 2.1 6 2.2 2.4 1.9 1.1-4.8-1.1-2.4zM406.3 28.8l-1.5 1.4 .2 2.2 3.1 .9-.3-4.5zM381.5 33.1l1 2.1 .4-2.1-.5-.7zM114.9 16l4.3 1 0 2.4-6-2.7zM92.1 17.1l2.5 .3 .9 2.9-.5 3 3.5 1.9-.7 1.4-2.1 .1-6.6-4.3 0-1.4zM102.8 18.7l1.2 1.6-1.9 2.1-1.2-2.1zM420.2 18.4l2.6 1.2 .2 1.8-3.2-.4-.5-1.4zM155.5 19.8l2.9 2.6-1.5 5.7 .7 1 3.2-1.7-.8-2.9 1.2-1.1 6.4-1 3.5 .8 4.3-1.4 1.4 .6-.2 2.8-3 2.2 1.8 3.2 2.4-1.1-.4-2.8 .8-.6 17.6 2 1 1.4 .4 4.3-1.2 1.6-1.9 .5 2.1 5.7-2.3 1.3-5 .1-4.3 1.4-2.2-2.1 .1-3.2-5-.6 1.1 3.8-3.9 4-3.6-2 1.1 5.1-2.5 2.2-5.9-.8-.1-4.2-4-2-3.5 1.3-4.3-1-3.5 1.8-2.2-2-4.3-1-.4-2.8-1.7-1.7-1 1-.1 2.8 2.5 1.6 1.3 3.4-3.4 5.5-5 .6-6.4-3.7-3.5 2.7-2.5-.1-.6-5.7 .9-1.4 2.4-.8-.6-4.9 1-3.6-2.1-.9-2.8 .3-.7-.8 3-5-1.1-3.5 1.7-3.6 2.1-.3 5.7 4-.7-4.4 2.1-1.4 3.5 1.8 1.5-1.2 3.5-.5 2.9 .5 2.1 1.8 6.4 .3zM165.9 26.7l-2.8 1.4 .2 3.3 5-.7 1.4-1.2-.3-2.8zM181.7 31.6l-.9 2.9 1 1.4 1.4 .1 .9-2.9zM130.8 32.4l1.2 .7 .9-.7-.9-.7zM159 34.5l.4 1.4 1 .1-.3-1.5zM168.1 34.5l-3.3 5.7 2.8 1.6 1-.9-.2-2.2 3.4-1 .6-1.1-.6-2.3zM151 37.3l-1 2.2 2.7 0-.1-2.5zM129.4 41.6l.5 1.3 .9 .1 .1-1.4zM437.2 20.2l2.7 .8 .4 1.4-.9 1.3-1.8-.6zM114.2 23l2.1-.3 3.1 4-5.2 .2-1.1-1.7zM29.9 25.2l-.2 .8-1.6 1.2-.3-1.2zM311.3 25.9l2.5 .1 1.8 2.3 3.5-.8 1.3 .6-1.3 8.5 .4 2.9 1.7 2.1-.7 1.3-1.5-.6-.6-2.7-3.5 .5-2.2-1.4-.6-1.4 2.1-2.8-.8-1.3-3.6 1.3-.1 2.8-4.1 0-.9 2.2 1.7 2.1-2.2 1.6-1-.2 .4-2.8-1.2-.7-9.6 1.6-1.6-.9-1.3-3.5-4.2 .7-1.4-1.5 3.5-3.6 7.4-2.1 2.6-3.9 2.1-.1 2.1 1.2 0 3.5 4.3-2.2 2.9-.1zM298.4 32.4l.1 2.8 1.4 .8 1.4-.5 .4-1.7-1.1-2.1zM293.5 33.1l-.9 1.4 .9 1.7 .9-1zM277.1 26.5l3.8 1.6-1.2 3.5 1.7 2.8 2.1 .1 .7 1.4-2.8-1.1-5 .3-2.1-1.4-4.3 4.6-3.5 0-1.7-1-.6-2.8 1.6-1.6 2.1-.6 2.1-3.6 5-.9zM267.9 33.1l.7 1.5 2.4-1.5zM225.2 32.2l7.7 .9 5.1 3.7 .3 1.2-3.9 2-4.2-3.2-3.6 .4-2.7-2zM331.9 33.9l0 2.2-3.5-.2 .1-1.4zM507 34.9l1.8 1 .1 2.1-2.6-1.4zM350.4 36.3l.9 1-.9 1.4-.6-1.4zM222.4 37.3l1.4-.2 .3 .9-1 2.2-1.7-.7zM174.7 52.2l.7 .8-.7 1.1-.8-1.1zM107.8 96.1l1.2 1-1.2 1.1-1-1.1zM277.1 105.4l1.5-.4 .9 1.3-2.4 .3zM254.4 106l1.4 2.3 2.8 1.8 1.6 2.6-.1 1.3-7.2-1.9-3.5 3.2-1.3-1.9-6.7-4.3 .4-1.4 1.9-1.3 3.6 .9zM271.4 106.7l2.8 1 .3 1.4-1 1.5-7 .6-1.8-.6 .3-1zM286.4 110.3l1.9 1-.3 .7-2 0zM253.7 116l1.5 1-1.5 1.5-1-1.5zM156.9 191.5l2.1 .6-.7 2.1-1.7-1.2zM159.7 197.8l3.6 .3 1.7 1.3-1 3.6 1 2.8-.5 1.5-6.2 3.2-8.5-1.5-1.5-7.4 .7-1.5 2.2-.3 4.3 2z" fill="#fde3d5" fill-rule="evenodd"/><path d="M380.3 18.7l3 .1 1.8 2.2-.3 1.4-3.1 0-1.7-2.1zM366.1 21.7l1.6 0 1.1 3.5 5.1 3.3 1.4-.4 2.2-3.5 3.5 .5 1.2 1.6-.2 2.8-2.4 2.3-2.8 .8-7.2-.7-4.2-1.7-3.6 2.3-3.5-.1-1.3-5 2.7-1.9 4.2 1 2.4-.5-.8-2.9zM351.1 23.6l2.2 .4 1.4 2.3-4.3-.7-.3-1.1zM149.1 25.1l1.3 .9-.6 1.4-2-.7zM142.7 26.4l2.8-.1 1.7 1.1-.3 8.3-2.4-.5-7-5.7 .2-1.4 2.8-.2zM185.4 28.6l3.5 .2 .3 2.1-1 .8-2.1-.4-1-1.1zM131.3 37.6l1.5 .4 .1 1.5-2.2-.8zM156.2 38.7l2.1 .7 .7 2.2-1.4 1.3-2.8 .2-.7-.8zM191.8 39l1.9 .5 .1 1.4-1.3 .6-1.7-.6-.3-.7zM133.4 48l3 1.4-.1 2.1-3.8 0-.7-2.1zM160.4 200.5l1.9 .4-1 1.4 .1 3.5-3.1 2.2-2.7-.7-.6-.8 2.2-1.4 .9-2.8z" fill="#f39c78" fill-rule="evenodd"/><path d="M31 .4l-2.9 1.1-1.7-.4-.4-.7zM35.9 .4l6.3 0-4.1 3.6-3.6-1zM57.3 .4l3.6 0 0 2.1-1.5 2.2-1.7-1.5zM107.8 .4l2.2 0-1.5 1.2zM133.4 .4l1.9 3.5-.5 1.1-2.7-1.8zM151.2 .4l4.4 0 0 1.4-3.7 .9-.9-.9zM176.1 .4l4 0-1.2 1.3zM184.6 .4l2.9 0-1.4 1.8-1.2-.4zM205.3 .4l5.6 0 .6 2.1-2.7 2.6zM225.9 .4l7.1 0-.7 3.2-2.1 .6zM309.9 .4l1.9 0-1.2 2.9-1.9-.8zM375.3 .4l3.2 0 0 2.8 1.9 1.4-4.4-1.2zM420.1 .4l-2.1 1.4-1.2-.7zM450.8 .4l.7 2.2-2.2-.5zM459.3 .4l2 0-1.4 4.2-2 .8-3.9-.8 3.9-1zM467.1 .4l6 0-1 5.8-2.2-.2-.1-3.5zM477.8 .4l3.2 0-1.8 2zM489.2 .4l13.4 0 .9 8.5-1.5 .2-5.7-5.7-5 .5-2.1 3.1-1.4 .2-1.9-4zM100 3.2l2.8-.1 .1 1.5-2.9 .8zM248.7 3l1.2 .2-.5 1.2-1.2-.5zM365.4 3.1l2.5 1.5 .5 1.4-3 2-1.7-2zM281.4 3.8l6.2 5.8-5.5 3.2-2.8-.9-3.5-6.6zM317.7 3.7l1.4 .3 .5 1.3-2.2 .7-.4-1.4zM413 3.7l1.7 .2 1.7 2.1-2.6 1.4-2.2-.2-.4-1.9zM192.5 4.5l1.4 1.3 0 1.7-2.9 .8-.3-2.3zM236.6 4.2l1.4 .4 0 2-3.7 3-.9-.7zM68 5l2.1 .1 2.8 2.6 2.2-2 1.4 .1 .2 1-2.3 1.7-1.5 2.6-1.4 .5-3.5-1.5-1.3-3.3zM116.3 5.2l1.6 3-1.6 1.6-1.4-.9zM227.3 5.1l1.5 .2 .7 2.6 2.2 1.7-1.5 2-4.4-4.8zM398.1 5.3l2.1 .7 .2 2.9-.7 1.4-2.3 .7-1-.7zM253.7 7.8l1.8 1.1-1.1 1.5-1.5-.8zM420.2 8l1.4-.3 0 1.7-1.4 .2zM.4 8.6l2.8 .1 .5 1.6-1.2 .9-2-.9zM38.8 8.7l4.2 .2-.1 4.3-1.3 1.5-3.6-.8-.6-3.6zM247.3 9.5l1.7 1.5-1 3.6-2.6-2.9 .2-1.4zM173.3 10l1.2 .3 .2 3.9-3.8-1.8zM266.5 10.3l1.4 .3 0 2-1.3-.2zM231.6 13.1l2.1 .4 .8 1.8-3.5 5 3.4 4.9-2.8 1.5-3.2-2.2-1-5.7zM295.6 13.1l0 1.9-1.4 .6zM68 15l2.1 .2 0 2.1-2.1 .1zM203.1 15.5l1.2 1.2-3.3 1.1-1.7-1.8zM290.7 15.5l3.5 1 2.2 3.7-2.2-.4-1.4-1.7-2.9 3.4-2.1-.5-.1-1.4zM29.5 17.3l4.4 .1 0 2.2 1.3 2.7-6.6-2.7zM218.1 18.1l2.5 0-2.5 2.9-.9-1.4zM188.2 18.7l.9 .9-.9 .7-.8-.7zM196 20.2l1.5 1.5-1.5 1.6-1.1-1.6zM9.6 23.1l1.1 1.4-2.8 1.5-.5-1.5zM22.4 25l1.4 .2 .7 1.1-1.4 2.4-.7 0zM44.5 27.2l3.6 .9 .3 3.5-4.6 0-.6-2.8zM201.7 29.3l2.5 1.6 .4 1.5-.7 .6-2.2-1.1zM428.7 29.5l.9 1.4-2.3 2.9-.8-2.2zM462.8 29.7l1.6 1.2-1.3 2.9 .1 2.1 1.1 .9 1.7-.2 3.3-3.3 3.5 .1-2.3 3.9 3.7 2 1.5 5.1-.6 1.5-1.6-2.2-2.8-1.1-7.9 2.7-4.2-2.3-2.3 2.1-1.1 2.9-1.6 .6-4.3-4.6-1-2.4-1.8-1.1-1.4 4-3.6 .4-2.1 3.4-1.4-1-.1-5 2.8-1.4 .6-2.2-1.2-1.5-2.9-.8-.7-1.9 .7-1.7 3.3 .3 2.4 2.3 6.4-1.9 2.2 1.4 2.8 .3 7.1-3.6zM.4 30.9l2.1-.3 1 1.8-3.1 1.9zM214.5 30.9l1 .7-.3 1.2-2.6-.4zM206 34.3l1.4 .9-.8 1.4 .2 2.1-1.5 1-.9-1 .2-2.3zM22.4 35.1l1.3 .8-2 1.2-.2-1.2zM54.4 35.7l2.2 .4 2.4 1.9-1 7-3.6 1.3-1.6-1.2-.8-2.8 .7-5zM6 37.1l1.7 .9-1.7 .7-.7-.7zM36.6 36.8l2.1 1.2-.6 2.6-1.5-.4zM.4 39.3l2.3 .2-.9 4.2-1.4 1.1zM484.2 39.2l2.8 1 0 1.5-3.5-1.5zM414.5 42.2l1.4-.5 1.2 .6-.5 3.9-2.1-.7zM35.9 45.1l1.6 .8-.9 1.7-1.1-1zM222.4 45.7l.9 .9-.2 2.3-1.5 .8-1.9-.3 .8-2.1zM68.7 46.6l2.8-.7 1.2 .7-2.6 2-1.5-.6zM238.7 46.5l3.1 2.9-2.4 3.1-2.1 .7-1.5-4.5zM507 46.3l2.1-.3 2.8 1.1 0 3.8-5.6-2.7-2.9 3.8-5.2-1.2 2.4-2.2 2.8-1.1 2.1 .4zM59.4 47.1l2.1 .9-1.4 2.4-1-1zM90.7 46.7l2.2 2.1 4.2-1.1 2.9 3.8-.7 1.8-2.4 1.1 3 3.5 .1 2.2-3 2.8-1.3 6.3-5.7-.3 .3 3.3-2.4 1.1-4.3-2.7-2.1 2.8-2.2-.1-1.4-1.8 1.8-1.5-.4-3.5 3.9-2.9-1.7-3.3-3-.9-.8-4.3 1.9-3.6 3.8-.7 2.3-1.6 3.6 .4zM91.2 57.2l.2 3.4 4.8 .2 .2-1.4-2.1-2.1-2.2-.7zM86.3 64.3l-.3 .8 1.9 1.3 1.8-1.3-.4-.9zM259.4 46.9l2.1 .6 .2 1.9-1.6 .7-1.5-.6zM9.6 49.4l4 .7-1.1 3.5-2.6-2.1zM217.4 49.4l2 .7-2 1.2-1.2-1.2zM440.8 49.6l1.1 1.2-.4 1.1-.9-.4zM117.8 50.8l-.8 1.9-1.1-.4zM250.1 50.8l1.4 .7-.7 1.1-1-.3zM427.3 50.3l1.2 1.2-1.1 2.2 .9 2.1-1 1-.8-4.5zM182.5 51.8l1.4 1.2-1.4 1.5-.8-1.5zM378.2 52.9l3.7 2.2-.3 2.8-2 1.7-3-3.1 0-2.1zM268.6 53.2l.8 1.2-.8 .8-.6-1.5zM399.1 53.7l1 1.4-1.1 4.3-1.5 1.4-.8 2.8-.7 0-4.6-2.1 2.4-1.1 2.3-3.2-.2-2.8zM210.3 54.2l2.1 .9 1.4 4.3-2.1-1.7-4.3-1.2zM431.5 55.1l3.4 0 .8 2.1-.6 1.7-.7 .3-2.7-2.7zM70.1 55.7l1.5 .8-.8 2-1.8-1.3zM415.2 55.7l1.7 .1-.1 2.9 4.1-.9 2.1 .8 .4 1.5-1.1 2.1-2.1 .2-3-1.6-.7-2.1-1.8-1.5zM391.9 56.5l-.9 2.4-2.4-1-.4-1.4zM48.7 56.9l2.3 .3-1.5 3.1-1.7-1.6zM122.7 57.1l1.7 .1 .5 1.9-2.2-.1zM202.4 57l1.5 .2-.8 1.6-1.1-.9zM.4 57.3l2.7 1.4 .5 4.9-1.1 1.6-2.1 .6zM220.9 57.8l2.9 .5 1.2 2.5-3.4 2.8-2.9-1.4-.7-1.4zM502.7 58.4l4 1-.4 .8-2.9 .1-1.1-.9zM511.9 58.8l0 4-2.1-1.3zM402.4 60l2.8 .5 2.9-1.1 1.7 1.4 0 1.4-1 .8-2.9-1.3-3.5 2.6-1.7-2.1zM427.3 59.9l1.8 .9-.3 2.8 1.2 2.9-.8 2.1-1.9 1.2-3-1.2-1.3-2.1 .6-2.2zM140.5 60.7l2.6 .8 .3 1.4-2.2 .8-2-.8zM37.4 61.4l2 .8-1.3 1.6-1.6-.9zM287.8 61.2l2.1 .7 2.2 3.3 3.5 0 1.5 2.9 5.7 .4-.4 3 1.1 1.6 1.4-.8 .9-3.7 4.8-4.2 4.3 .5 2.8-.7 2.1 2.3 4.3-1.3 2 2 .5 2.8-1.8 1.6-4.3 .7-2.8 2.5-2.1-2-1.4 .1-3.6 3.9-5-2.4-3.6 3.2-3.5-.2-7.1 5.7-1.5-1 3.4-3.5-4-1.5 2.5-2.1 .5-2.8-2.8 0-3.8 1.8-3.6 .5-.7-.9 .3-2.1-1.7-.4-1.6 1.1-.8 2.1 1 1.1 2.1 .2 2.3 3-2.9 5.7 .9 4.9-1.7 2.5-5.3-1.8-1.3-.7 0-3.5 6-2.2-.3-4.9-1.3-1-1.4 .3-6 6.4-2.5 .9-.3-.9 2.6-2.9 4.2-8.5-1.5-2-3.6 .7-.9-.9 1.6-2.8 4.7 0-1.1-4.3 2.8 .4 2.9-1.4 6.4 .1zM292.8 68.6l0 1.7 1.4 .4 0-2zM384.6 61.5l1.1 0 .3 3.4-1.4-.7zM433.7 61.3l1.4-.1 3.2 6-1.1 1.6-4.2 .9-1.3-1.8zM451.5 61l2.8 2.6 4.3-.9 2.5 2.4 .1 1.4-2.6 1.4-1.1 2.1 1.1 1.1 2.8 .4 2.1 2.1-1.4 2.6-7.8-1.4-1.3-1.9 1.6-3.6-2.4-.7-2 1.4-.2 2.9-2.1 2.8-2.1 .4-.7 1 .5 2.2 .9 .2 2.1-2.6 5.7-.2-.3 3.3 1 3.6-2.8-1.5-6.4 0-2.2 2.2-2.5-2.2-.3-5.4 5.7-3.4 1.4-2.6-3.6-4.9-.2-2.9zM20.3 62.3l1.1 2-1.1 1.1-1.5-1.1zM245.8 62.4l2.6 6.2 5.3 2.5 2.3-.4-1.4-4.2 1.9-1.8 5.7 4.3 4.2 1.7-3.5 .5-3.5 2.9-3.3 7.3-2.4 2.1-.8 3.6-3.3-1.4 .4-3.6-2.7-2.2-5 3.3-.7-.7-.7-8.9zM250.2 73.6l-1.3 3.5 1.9 2.8 1.4-.6 1.1-4.3-1.1-1.9zM376.8 63.6l3.1 1.5-1.6 2.8-6.2-1.4 1.7-2.2zM486.3 63.5l3.7 1.6-.4 .7-1.9 0zM469.3 64l2.1 1.1 0 1.9-2.5-.5zM213.1 64.8l2.8 2.1 0 1.4-1.4-.5zM363.2 64.4l2.2 1.3 2.1-.6 1.4 .7 .6 1.4-3.4 1.2-1.3 2.3 2.1 2.9 2 .9 15.7-.9 9.9-3.6 2.9-.1 5 2.5 3.7 3.3 .2 2.2-1.7 2.8 1.3 6.9 2.2 .5 3.5-1.2 5 4.2 2.2-1.2 2.1 3.4 4.2-1.5 5 1.8 2.1 4.2-1.8 4.2 2.5 3.6 1 3.5-3.8-1.7-1.2-3.2-3.5-2.2-1.4-5.7-2.4-1.2-1.1 3.4 3.7 3.5-.1 1.5-8.2 5.5-2.2 3.7 .4 2.1 3.2 3.4 3.6-1.7 1.3 1.2-1.2 2.8 3.1 5.7-.4 1.3-2.3 1.5 1.6 2.9 2.3 0 0-3.6 2.4-4.2-4.4-4.3 4-1.6 1.3 .9-.3 2.8 1.1 .7 1.4-1.4-1.2-2.1 3.4-3.1 6.4-.2 7.8 1.1 2.8 4.6 1.9-3.8 1.7-.8 7.1 .4 3.6 2.1 2.8 .4 2.2-.2 2.8-1.9 10 .7 2.8-.8 .7 .8-2.8 .9-1.3 3.3 7.5 6.4-2.9 2.2 .2 3.5-1 2.2 3 5.7-2 .3-1.1-3.2-2.4-.5-1.7 1.2 .5 3.6-1 .5-3.5-2.5-2.2-5.1-4.9-.5-2.9-2.4-7.1 3.7-2.7-2.3 .3-2.8-.8-1.4-1.8-.3-1.4 2.5-2.8 .2-1.5-1.7-.6-3.6-2.2-.8-1.5 .8-2.4 6.4 0 1.5 2.1 2.8-1.1 3.2-7.1 1.8-2.8 3.2-2.2-.3-2.1 1.1-3.6-4.6-4.9-.1-4.2 3.5 1 6.4-1.4 1.4-.7 3.6-1.8 0-1.6-2.1-1.2-5 4.5-4.3-1-2.1-3.6 0-2.8-1.5-4.3 .2-2.9 2.4-4.2 .6-8.6-8.8-1.3-2.9 1.3-2.6 2.2 1.3 1.8-.8-1.1-2.2-2.9-1.8-.5-2.4 1.7-3.6 5.1-3.5-.4-1.4-3.7-1.1-5.2-3.9 1.5-7.8-1.3-3.3-1.4 .5-2.2 3-1.7-.9 .3-5.7 1.7-2.9 0-2.8 4.7 1 .7-3.9-2.1-.7-5.7 .9-4.3-1.2-7.1-.1-3.5-2.4-4.3 .1-7.8-4.3-.9 .6 0 2.9-2 .7-2.1-2.8-4-1.5 1-4.2 3-.5 .6-1-.9-4.2 6 .2 2.1-1.7 2.1-3.7zM394.4 90.7l-1.5 2.8 .2 2.1 7.3 0 .3-1.4-1.4-2.1-2.6-1.4zM415.1 94.9l-.5 2.2 2.3 .7-.2-2.2zM432.9 119.8l.5 .7 1.7-.7 0-1.3zM415.9 121.8l-2.9 .9-2.8 3.3-2.8 .2-.1 1.4 1.5 .1 2.1-1.5 4.3 .7 2.1-.7 .8-.7-.3-2.1 2.2-2.2-2-2.1zM461.9 128.3l-1 2.9 1.9 1.3 2-2.7-1.2-1.6zM479 129.8l-1.3 2.1-2.7 1.4 .7 2.6 5-3.3-.3-2.1zM427.8 136.2l-2.8 2.8-.1 2.1 .9 1.1 5.3-3.9-1.7-2.1zM433.1 139.7l-.1 2.3 2.1 .4 .1-2.7zM121.3 67.2l2.3 .7 3.7 6.4-1 2.3-3.6-.8-.7 2.1-1.4 .6-2.4-1.4-.5-1.4 1.5-2.1 3.3-.7 .2-1.4-2.1-3.3zM28.8 68.6l2.2 2.5-3.2-.4 0-1.4zM136.3 70.6l3.5 .1 2.9 2.5 2.8-1.5 1.9 2.6-1.2 1.5-3.5-.7-2.9 .8-2.1-2.7-4.3-1zM205.3 71.3l2.6 .9 1.2 4.2-6.6-2.1zM436.5 72.8l2.9 .1 1.2 3.5-5.3 0-.6 2.2 .6 2.8-1.6 .6-1.4-1.3 .3-4.3zM468.5 72.8l1.9 .1-.4 1.8-1.5-.5zM220.2 74.1l1.8 1.6-1.1 2.2-2.1 .9-3.3-1.7-.2-.7zM324.1 74.2l4.1 2.2 1.8 5-6.6 7.2-2-1.5-1.2-5 2-3.5-.4-2.9zM199.6 75l1.7 0-.2 .7-1.5 1.9-1.4 0zM186.8 76.7l1.4 0 .7 1.2-1.4 2.2-1.9-1.5zM77.9 77.8l1.4-.1 .5 .9-1.2 3.6-2.6-2.2zM231.6 77.7l5.9 2.3 0 4.3 2 2.8-1.8 2.8 1.4 7.2-1.1 2.5-.7 .2-2.1-3-1.2-4 .3-2.1 2.1-2.2-5-1.4-.6-3.6 .9-2.8-.8-2.1zM489.2 77.8l.1 5-2.1 2.2-.4 2.8-4 2.4-1.5-.1 0-3.2 4.6-3.4 .8-3.5zM134.7 78.6l.8 2.8-2.8 .3-1.4-3.1zM193.9 78.2l1.4 0 .5 1.1-1.9 1.8-.9-1.1zM32.4 79.9l2.1 .5 .5 1.7-3.3 .4-1.5 1.9-1.3-2.3zM302.8 80.6l2.1 .8 0 1.4-2.4 0zM2.5 81.1l2 1.7 0 1.5-1.7 0zM122.7 81.3l4.3 1.1 1.3 2.6-.6 1.4-5.7-1.6-.8-2zM499.1 81.6l3.1 1.2 .5 .7-.7 1.5-2.2 .6-1.4-.6zM161.2 82.7l1 .1 .4 3.6-1.4-1.1zM176.1 82.6l0 2.4-5 .4 0-1.4zM257.9 82.5l3.8 1.8-1.6 2.6-2.4-.5zM511.9 82.4l0 2.5-1.2-.6zM436.5 83.2l4.8 4.6-1.6 2.1-2.5 1.2-3.3-2.6 3.1-1.4zM65.8 86l2.2 1.1-.8 2.5-2-1.1zM146.9 86.3l1.1 .8-.4 2-1.2-1.3zM19.6 86.9l2.1 .3 .5 2-2.9 0zM472.8 86.9l1.8 1.6-.4 2.3-1.4-.1-.8-2.9zM127.7 87.1l3.6 1.1 2.8-.8 1.6 1.1-1.6 1.4-2.8-1.2-3.6 2.3-1.2-1.1zM202.4 87.7l2.4 .1-2.4 2.7-.9-1.3zM45.9 89.2l2.8 1.2 4.3-.5 .1 .8-3.6 3.4-3.6-1.9-3.6 2.3-1.6-.3-.7-1.4 .9-2.2zM304.9 89.9l1.2 .8-.1 1.4-2.5 2-.9-1.3zM186.8 90.5l5 0 .6 3-2.1 .6-2.8-1.7zM213.1 90.4l2.1 .4 1.8 2.7-5.6 0-.2-1.4zM65.8 92l1.4-.5 1 2-1.7 .3zM74.4 92l1.4-.1 0 .9-1.4 .3zM221.6 92l4.3 0 1.3 2.2-.2 1.4-2.5 .6-5-2zM296.4 92l1 .8-.3 1.6-1.5-1.6zM326.2 92l1.5 .8 0 1-1.5-.2zM489.2 91.7l1.4 1.1 .1 2.8-2.9 2.5-2.6 3.9-.6-3.5 2.6-2.2zM454.3 92.5l9.4 1-2.3 4.2-6.4-1.2-2.8 .6-.4-2.9zM245.1 93.3l.7 3-2.1 .8 0-2.2zM341.9 93.2l2.2 .3 1 1.4-.4 1.2-2.8-1.1zM368.9 94.7l1.8 1.6-3.2 1.5-.5 2.8 2 3.6-3.6 1.8-1.2 3.8 3.3 1 2.1-1.5 2.2-.2 2.1 1.5-.2 1.4-3.8 2.1-2.4 3.8-3.6-1-3.4 1.5-3.1 0-.7-2.2 1.7-2.1-3-2.1 2.4-2.2 1.3-4.2-4.5-1.4-.7-1.5 2.2-1.3 2.9 .6 .8-.7 0-2.8 6.3-1.8zM47.3 96.3l1.4 .1 .9 3.5 2.4 2.1 .2 1.5-2.3 5.6-3.3 .8-.7-.8 2.3-2.8-2.3-1.9-.6-1.7zM178.2 96.3l1.8 1.5-1.1 1.4-1.6-.7zM264.3 96.9l2.4 1.6-1.7 2.9-1.7-2.2zM270.7 97.7l1.5-.5 .8 1.3-1.6 .5zM322 97.5l2.8-.2 4.7 4-1.1 .4-2.9-2.8-2.8 1.2-1-.9zM277.9 98.5l2.1 .5 0 2.2-2.3-.6zM290.7 99l2.1 2.3-.4 2.2-1 .5-2.6-1.3zM298.5 99.1l.7 .8-.7 1.1-2.3-.4zM504.8 99.7l2.2 .9 .3 3.6-1 1.7-4.5-4.6zM38.8 100.2l2 1.8-1.3 2.9-2.2-1.4zM121.3 101.1l2.9 1.6 4.9 .4 1.6 3.9-.8 3.5-5.4-2.1-4.1-5.7zM225.9 101.2l.8 .8-1.5 1-.4-1zM322 101.5l1.1 2-1.1 1.5-1.8-.8zM344.7 103.4l1.6 2.2-3 .1 0-1.3zM4.6 103.9l1.4 0 .4 1-1.4 0zM445.1 104.6l2.1 .5 0 2.1-1.4 .3-1.4-1.2zM310.6 105.4l2.8 2.3-1.2 1.4-2.3 .4-1.1-1.8zM195.3 105.9l4.1 1.8 .3 2.9 2.1 2.8-1.5 3.8-5.1 1.2 .4 2.8 2.6 2 7.1-1.9 2-2.9-3.1-4.3-.3-6.8 2.1 0 1.4 1.3 1.8 3.4 .3 4.1 1.9-2.7 4.6 0 .1 2.8-1.6 2.4-2.1-.2-2.9-2.1-2 2.1 2.7 2.1 .4 1.4-1.5 4.3-2.8 4.3 4.1 2.1-1.5 1.4-3.6 .2-1.6 1.2-.6 2.2 2.2 2.1-.7 1.3-2.9-.8-2.8 1.3-1.4-1.1 3.7-3.5 .6-2.2-.3-2.1-3.2-2.8 .7-4.3-1.7 2.1-2 .4-3.5-2.2-2.9 0-1.2-1 0-2.2 2.1-2.1 .9-2.8-1.1-1.3-4-.9-.2-4.2 3.5-4.5 1.8 .9 1.1 2.6 .7-.2zM462.1 105.6l1.3 1.4-.4 2.1-2.3 1.8-3.3-2.5zM.4 106.4l1.4 .2 .8 1.8-2.2 1.7zM7.5 107l1.4 0 0 2.7zM71.5 106.8l1.4 .2 1.7 2.1-2.4 .5zM172.5 107l1.6 0-.6 3.6 6.9 1.6 2.6 4 2.3 1.5 .5 2.8-1.9 4.5 3.6 1.4 3.5 5.1 4 2.5 .7 5.7-1.5 3.6 2.6 3.5 .3 4.3-2.2 3.5-1-.1-1.1-5.5-2.5-3.8-5.7 0-4.3 1.6-2.8 2.9-.7-2.2 1-2.8-1-1-2.1-.2-2.9 1.2-.9 2.1-4 3-3.2-3-.8-2.8-5.3 .3-1.1 1.8 .6 2.1 6.2 3.3 2.8 .3 3.5 6.4 5.8-.4 3.5-1.6 1.5-2.8 1.4 .1 2.7 3.3 .1 4.3-1.4 .5-2.8-2.7-2.9 2.8-2.8-.1-2.9 6.3-1.3-.5-.8-3.3-2.1 1-1.8 4.5-8.8 7.8 1.6 3.5-.3 3-5 1.6-8.3-.3 2.3 8.5 1.4 2.2-5.2 2.1 .4 3.6-1.2 3.4-7.1-.6-.5-2.1 5.1-5 1.4-2.8-3.9-3.3-.7-1.7 .7-7.1 3.2-2.9-1.2-3.5 .8-2.2-4.7-2.1-.9-1.4 2.8-5.5 3.5-1 3.2-3.5-1-1.4-2.9 .2-.7-1.1-3.8-1.2 0-1.4 3.5-1.5-2.8-4.2 1.7-1 3.5 1.4 4.3-1.3 1.9 1.6-.1 2.8 1.1 2.4 2.2 .5 .8-1.5-2.3-3.5 3.8-5.7-1.7-1.6-4.6 .9 .3-3.8-.7-2.2-1.8-1.1-1.1-3.6 1-5-2-2.1 1.1-.4 6.4 4.5 5.3-1.2-3.6-2.2-2.4-2.8-1.4-3.6 3-4.2-1.6-7.1-.7-.4-2.2 4-4.2 .9-2.9-1.7 1.4-1.2 2.9-.3 3.5-3.2 2.2 1 2.8-1 4.3 .2 4.3 3.8-5.6 3.5 1.5 3.6-.7 2.8 .9 5 1.4 2.1-2.1 2.2 1 1.2 5-5.1 3.6-1.1 2.8-4.3 1.4-.3 2.1 1.1 2.9-1.5-.7-2.1 .9-2.9-4.1-2.1 .3-3-2.5 .9-1.7 5.5-4.1-4.1 1.9-4.4 6.4-.1zM179.5 119.8l-1.6 2.1 1.8 2.7 1.5-4.1-.1-.7zM153.9 137.6l.7 2.1 1.6 .4 1.8-.4 .9-1.4-2-3.5zM156.5 153.2l-.5 1.4 .9 .7 1.3-2.1zM139.7 154.6l.8 3.2 1.4-.7 .7-1-.6-1.5zM149.4 161.8l-.4 .7 2.7 2.1 .9 4.3 2.2 1.2 2.3-2.7-.9-3.4-2.2-2zM146.2 168.2l-2.5 4.2 3.2 5.7-3.3 2.1-.7 2.2 1.2 1.2 2.1-2.2 3.2-.5-.3-2.8 .7-.7 4.2 .5 1.9-1.9 .1-2.9-1.2-2-2.2 .2-4.2-3.1zM68 107.6l1 .8-.3 1.6-5.7 .8-1.2-1 .8-1.4zM80 107.3l2.7 1.1-1.6 2.2-.3 2.4-3.6-.1-2.2-3.1 1.5 0 2.1 1.9 1.4-1.1-.7-2.2zM472.8 107.7l1.8 .7-3.2 3.2-1.4-.2 0-2.4zM423.7 107.7l5 2.5 .3 2.5-1.7 2.1-.7 .4-2.2-2.3-5-.9-.1-2.2zM237.3 111.2l3.2 1.5 .4 1.8-2.9 1-1.4-.4-.6-2.4zM44.5 113.2l1.4 .5 0 1.6-1.9-.5zM61.5 113.8l3.4 1-.5 .8-2.1-.4-1.5 1.5-2.1-.1-1.4 1.6-1.7-.5 .3-2.3 2.8 .5zM220.2 113.8l2.2 .3 .4 1.4-1.9 3.5-2.1 .9-1.3-.8-.3-2.1zM499.8 113.9l3.9 .2 .9 1.4-5.5 .6zM326.2 114.6l2.9 .6 1 1.8-.3 1.7-3.8-1.7-.5-1.5zM137.7 116.7l2.8 .7 .3 1.7-3.3 0-.6-1.4zM345.4 117.2l3 1.9-.1 2.5-3.5-1.8zM285.7 120l2.8 1.5 9.9 1.1-.8 3.6 1.4 5.7-.6 2.1-4.9 2.8-2.8-.7-4.3 2.3-4.3-.3-7.8-2.7-5-5.1-2.8 .2-4.1-2.2 3.4-1.2 2.8-4.5 3.6 .5 6.4-2.7zM105 120.3l1.4 .5 .2 2.6-1.6 1.9-2.2 .2-1.2-1.4 .2-1.5zM339 120.4l2.2-.1 1.2 1.6-2.1 .7zM333.4 121.2l1.9 0-2.7 1.3zM95 122.3l2.5 2.5-1.8 1.8zM10.3 123.2l1.3 .9-1.3 1.1-1.4-.1zM21.7 123.9l1.4 .1 0 .8-2 0zM110.6 124.7l6.4 .6 1.4 1.6-2.1 1.3-5.7-.2-.6 2.5-2.9 3.7-.8-1.6 .5-2.1 3.1-2.9-.4-2.1zM499.8 126.1l3.6 .1 .8 .7-.8 2.2-3.6-1.1-.7-1.1zM95 126.8l1.4 4.4-1.4 .8-4-.1 .2-1.4zM35.2 128.2l1.2 .1-.5 1.5-.8 0zM345.4 128.3l2.4 0 .4 2.2-1.7 0zM353.3 128.8l1.4 .1 1.8 2.3-1.1 2.3-2.1-1.1zM248.7 129.5l1.4-.1 .5 1.1-1.2 2.1-1.5-.7zM136.3 130.9l4.9 1.7 .2 1.4-1.6 .5-3.5-1.7-.7-.9zM220.9 131.9l1.8 1.4-1.1 1.9-2.3-1.2 .3-1.4zM227.3 132.5l1.5-.5-.8 2.8-1-.8zM34.5 133.8l1.4 .4 1.2 4.8-4 4.7-.9-1.1zM255.1 133.7l1.8 .3-1.6 4.3-3.1 .2-3.2 4.8-1 .1-1.3-3.7 .6-2.1 2.1-1.2 2.8 1.1zM258.6 134l4.3 2.2 0 1.8-2.1-.2-2.7-3.1zM312 134.7l2.1 .4 0 2-2.2-.2zM327.7 134.9l2.8 .5-2.8 3.4-1.1-1.9zM343.3 135.3l2.6 .9 .6 1.4-3.5 0-.7-1.4zM107.8 135.6l.8 1.3-1.1 4.2-1.8 .9-2.2-.8-.4-.8 3.4-1.4zM267.9 135.5l2.8 1.2 0 1.1-2.6-.9zM349.7 136.1l2.2 .3 1.4 2.1-1.4 .6-2.8-.8-.6-1.4zM27.4 136.8l3.9 1.5-.3 1.9-3.3-1.2zM45.2 137.5l1.4-.3 .7 2.1-2.1-.3zM69.4 137.3l.6 1-2 1.6-2.2 .3-1-1.9zM111.4 137.5l4.2-.2 1.2 2.4-5.4 1.6zM464.3 137.3l2.5 .3 1.3 2.1-2.3 2.9 3 6.4-3.6 4.2 4 5-2.1 .9-1-.2-3.2-5.7-.1-5.2-2.9-1.9 2-2.1 3.6-1.4-1.9-3.6zM449.3 138.2l5 1.2 1.4 2.9 0 4.8-.8-.3 0-2.1-1.3-1.2-3.6 .3-2.1-1.2zM127.7 139l.7 2.1-3.5 4.5-1.7-4.5zM384.6 138.6l1.4 .5 .7 2.7-3.2-.7-.1-1.4zM76.5 139.7l1.9 .7-1.2 1.8-1.1-1.1zM138.4 139.5l4 3.8-1.2 2.4-1.9-1 .1-2.9-1.8-1.4zM499.1 139.7l1.2 .7 0 1.4-1.9 1.8-2.1 .3-.2-1.3zM231.6 139.9l1.4 .5-1.4 2.4-.9-1zM470.7 140.3l1.4-.1 1.4 1.6-.7 3.9-1.7-1zM23.1 140.8l2.4 .3 .5 2.9-2.6 0-.8-2.2zM53.7 141.1l4.3 3.1 5.7 1.6 1.6 2.4-2.3 .6-2.9-1.6-7.1-1.7-.8-2.9zM262.2 141.7l1.4-.5 1.5 2.1-3.6 .8zM354.7 141.7l1.4 .9-1.3 2.8 .7 4.3 2.7 2.1-.5 2.1-1.6 1.3-2.5-1.3 1.1-3.5-3.3-2.9 1.6-2.1 .3-3zM387.4 142.4l1.6 .9-.2 1.3-1.4-.6zM6 142.9l1.5 .2 2.5 3-1.1 3.5-3-2.1-.6-2.8zM83.6 143.2l.8 .1 .1 2.8 2.6 2.1-.6 1.6-2.9-1.7-2.4 .1 2.3-2.8zM442.9 143.1l3.9 .2-.1 2.1-.9 .7-3.5-1.4zM43 143.9l1.5 .6 .5 1.6-2 5.9-3.5-2.5-1.2-2zM252.9 143.9l4.5 2.2-.2 3.5-2.1 .1-3.6-3.6-.2-1.4zM279.3 144.5l3.6 .9-.2 2.8 3.2 2.9 .3 2.1-1.4 3.6 2.2 4.2 5.8 4.1 2.1-1.2 0-4.3-2.8-1-1.4-3.6-2.9-.2-.3-.9 1.7-.1 1.3-2.7 2.2-.7 .8-2.2 1.5 .8-2.2 1.4 1 3.5 1.1 .6 2.9-.9 2.8 1-2.6 4.3 0 2.9 1.2 1.4 5-8.2 5.3-3.2-1.8 2.2-1.2 12.7-.9 1.4-2.1-.5-3.6-3.6-5 4-2.8-2-3.1 .7-1.3 1.5 .1 2.8 2.5 2.8-4.3 2.2 1.8 7.1-1.5 3.5 1.5 1.7 4.3-2.1 1.2 1.9-.9 1.4-5.3 .8-2.1-.8-.2-7.1-2.7-1.4-3.7 .7 1.7-2.2 .3-4.2 2.2-2.9-.2-2.8 2.5-2.9-1.2-4.2-3 .4-2.8 3.5-7.3 .3 1.5-3.5-2.5-2.9 1.5-4.9-.5-5 2.8-2.9 .9 .1 2.1 1.6 1.5 4 1.4 .7 2.3-4.2-4-2.9zM324.8 145.3l1.6 1.5-.2 2-2.1-.9-.2-1.8zM389.6 146.5l2.8 1.7 .4 1.5-3.2-.7zM439.4 146.5l1.4 .3 2.4 3.6 .1 2.8-1.1 1.7-2.1-2.4-1.5-5zM3.2 147.4l1 .8-1.7 2.1-.9-1.3zM341.2 147.1l1 .4 .4 1.8-1.4-.6zM238 148.2l2.1-.1 1.8 2.3 0 2.8-3.2 1.6-2.4-5.1zM480.6 147.8l2 .4 .1 1.5-2.6 0zM171.8 148.7l1.5 .4 .6 2-1.4-.1zM487.8 148.8l1.4-.4 1.4 1.6-1 3.2 2.4 2.6 1.7 4.5-.1 4.3 2 1.3 2.1 0 1.1 1.5-3.2-.4-3.6 3.5-1.9-.9 2-2.9-1.7-7.8-2.8-5 .8-1.4zM456.4 150.2l2.2 .6 1.9 3.8-1.7 5-3.5 1.4-1.7 2.6-3.6-1.7-.2-3.7-3-1.4 0-2.9 .4-.6 4.3 .9 2.1-2.8zM63 151l.8 .8-.6 2.8 2 1.5-3.7 .8 0-4.4zM321.3 151l2.8 .4 2.8-1 1.9 5.7 2.6 2.1 .1 2.1-6 .7 .2-4.2-5.2-3.4-.3-1.6zM117 151.7l.8 .9-1.5 1.1-.5-1.2zM247.3 151.6l4.2 3.5 3.6-.5 2.2 1.5-2.7 2.1-1.7 3.2-4.2-4.9-3.9 .3zM344 151.6l2.5 .9-.1 .7-2.2 0zM502.7 151.7l1.4-.4 1.3 1.2-1.3 3.1-1.9-.2-1.2-1.5zM38.1 152l2.5 1.2-.1 2.2-1 1-1.4-.2-.7-1.2-.3-1.8zM127 152.3l6.2 2.3 .6 1.5-2.5 .3-4.6-1.8-1.1-1.4zM206 153.1l1.6 1.5 1.9 5.7-2.4 3.6 2.9 2.8 .9 4.3-.7 2.1 .6 2.9-2.6 4.2 1.3 2.5-.7 1.2-2.1-.3-.2 .9 3.8 .6 3.5-.9 2.7 3.9-1.3 .7-3.5-1.4-1.2 .7 .1 2.1 1.9 3.5-.8 2.5-2.9-.5-2.8 1.9-2.9-1.4-7.8 .5-2.1-1.3-1.5 1.2 2.9 .8 .8 2.7 1.2 .8 3 .2 7.1-1.5 3.7 4.1 0 3.6-2.3 .6-3.5-2.9-.9 .8 .2 4-5.7-.2-2.9 3-2.2-3.9-9.8-2.2 1.3-3.5-1.4-2.9-4.2 2.2 2.5 4.2-1.1 2.8-4 3.6-2 0-1.1-4.1-3.1-.8 .1-2.2 3-2 .7-2.2-.1-.7-3.9-.8 .4-5 2.1-.1 2.9 4.9 1.6-3.3 3.4-.3 1.4-3.1 4.3-2.2 4.2-.7 3.6 1.5 3.5 0 3.1-.9 1.8-2.1-.2-1.5-2.5-.4-5 1.2-2.1-3.8-2.9 2.2-1.9-2.7-4.8-1.4-.9-1.5 3.4-4.1 4.9 .2 4.3-1.2 .5-2.7-4.1 .1-.8-2.9 3-1.7 1.7-3.3 4.5-2.1-1.7-3.6 2.6-5.3zM213.8 153l1.3 .9-1.3 .9-.8-.9zM418.7 153.2l7.1 .2 1.2 4.8 1.7 .8 2.1 .1 3.6-2.1 3.5 .9 2.9 2-.2-1.7 .9-.8 2.8 .3 .4 1.2-2 1.4 .4 2.9-3.2 3.5 1.7 3.6-2.9 .9-3.6-.4-4.3 1.4-1.2 4.5-2.3 3.3-3.6 1.2-1.4-.5-1.6-5.4 6-4.3-5-4.3-.4-1.4 3.1-1.7 1.1-4-4.7-1.4zM368.2 153.6l1.7 3.9-1 3.8-4.7-2.4 1.1-3.5zM396.7 153.7l4.2 2 5 0 .9 1.1-1.6 1.2-4.3-1.1-4.2 1-1.7-1.8zM54.4 154.5l1.6 .9 .5 2.1-2.1 1.3-2.1-.3-.6-1.7zM225.2 154.7l.7 .5 0 1.7-1.5-.1zM314.1 155l3.7 1.1 .7 2.1-5.1 2.9-.9-1.5zM377.5 155.2l1.4 .5 .4 2.5-2.5-.7zM511.9 154.8l0 8.2-2.1 .7-1.4-1.2 0-1.5zM238.7 157.4l.8 .8-1.5 4.1-2.8 .4 .7-3.2zM.4 157.5l1.7 .7 .3 1.4-2 3.5zM91.4 158.2l0 1.4-1.3 0-.2-.7zM361.8 158.1l2 .8-.3 1.4-3.8 1.2-.6-.5 1.2-2.1zM483.5 158.7l1.4 .2 .1 .7-1.5 1zM109.2 160.9l1.2 1.6-1.9 4.1-1.2-2zM78.6 161.7l4.3 2.9-.7 1.4-2.3 0zM369.6 161.3l2.6 2.6 .1 1.4-1.2 1.4-2.5-1.4zM251.5 162.3l1.2 .2-.3 2.1-2.3 1.3-.4-2zM62.3 163.1l1.5 .8 .6 2.8-.7 .8-1.4-.8zM218.8 163l0 3-.9-.7zM400.2 162.9l.7 1-1.8 1.4zM225.9 163.5l2.1 4.7-.7 .7-2.8 0-.8-2.9zM258.6 163.8l1.5-.1 2.8 2.1 4.8 .2-1.9 .2-2.9 3.7-1.4 .3-5.6-3.5zM473.5 163.3l1.4 .4 1.2 4.5-1.2 1.3-1.6-2.8zM181.1 164.5l1.4 .2 .6 1.3-3 2.9 .2 1.4 2.2 .5 2.1-1.4 .9 3.7-1.6 2.7-2.8 .7-3.6-2.7-.7-2.1zM446.5 164.5l.9 .1-.2 1.5-.7-.1zM463.6 164.5l2.1 0 3.8 5.1-.2 5 1.9 3.5 3.7 2.1 3.9 .7 .7 1.5-1 1.2-7.1 0-2.9 3.4-2.1 1.1-.7-.5 .7-6.5-4.5-1.6-3-6.4 2.7-7.1zM317 165.3l2.8 3.4 2.9 1.2 1.4 3.2-.4 1.5-3.2 1.6-5.6-3.4-1.5 3.2-2.8 .9-2.2 2.7-1.3-.1 .4-2.8 3.1-.6 3.5-3-.6-5.7zM362.5 165.2l3.7 1.5-.1 2.4-1.7 3.3 1.6 3.6-.6 1-1.5-.6-.8-2.6-2.4-2.1 2.2-2.8zM383.2 165.6l1.4 .4-.1 .7-2.2 .7zM351.9 166.6l2.8 .2 0 3.4-2.9 .1zM240.4 167.4l.1 3.6-1.1 2.2-3.1-2.9 .7-2.1zM49.5 168.4l1.4 .5-.7 1.6-1.4-.9zM85 168.8l1.2 2.9-1.2 2.5-1.4 .4-1.2-2.2zM277.9 168.6l2.5 .3-2.5 2.1-1-.7zM294.9 168.3l2.9 2-.5 2.1-1.7 1-4.4-.3 0-2.1zM450 168.8l1.5 .9-2.5 3.4 .4 2.2-2.2 2.1-2.9-2.8-.2-2.2 1.7-3.2zM223.8 169.5l.8 4.3-.8 2.3-1.4 .9-1.3-1-.2-1.4 1.5-4.4zM474.9 169.7l2.2 1.4 1.4 4.2-.7 1-3.6-.6-1.2-1.1-.3-2.9zM76.5 170.6l1.5 .4-.1 1.4-2-.7zM128.4 170.5l1.7 .5-.2 1.4-1.9-.7zM349 170.9l1.8 .1-.4 1.8-1.4 0zM398.1 170.9l1.9 .8-1.2 2-1.2-1.3zM68.7 171.5l1.9 .9-1.2 2-1.4 .3-.5-2.3zM388.8 171.6l2.2 1.3 0 1.5-2.2-.4zM329.1 172.3l3.5-.2 1.2 1-.1 1.5-5.3 1.3-2.2 2.8-1.4 .2zM31.7 173.1l1.4-.1 .2 .8-.9 .6zM7.5 173.8l2.7 1.5-1 4.2-1 .7-2.7-1.4zM248 173.8l1.5 0-.1 1.9-1.4-.1zM122 174.5l2.4 4.3-5.2 2-1.2-2zM.4 176.6l2.1 .5 1.9 1.7-.2 .7-3.8 1.3zM216.7 176.5l1.4 .4 .3 2.6-3.2 .7-.7-1.4zM334.8 176.3l2.5 1.8-.3 .7-2.7-.7zM270.7 177.1l2.4 .3 .4 2.1-3.5 3-4.2 .1-.8-4.3 3.6 .1zM454.3 177.3l2.1 3.6 2.4 2.2 .3 2.1-4.5 2.9 .4 7.1-3.2 2.8 .3 2.9-3.5 1.2-2.8 3.3-2.9 .5 2.2-5.5 2.9-2.4-.5-3.5 4-2.9 1.8-3.5 .8-6.4-1.1-2.9zM236.6 178l1 1.5-2 .7-.2-1.4zM48.7 178.7l2.9-.5 .2 2-2.3 1.3-1.3-1.3zM65.8 178.7l2.2 .1 1.2 2.9-1.2 .7-1.5-.7zM18.9 179.3l3.7 2.4-4.5-.3-.3-1.2zM255.1 179.2l1.6 1.7 .7 5.7-1.6 2.2-2.3-1.5 .9-4.2-3.7-2.9zM405.2 179.2l3.1 2.5-.2 1-2.9-1.4-.7-1.1zM413.8 179.4l2.8 .4-.7 2.3-2.1 .4-1.4-.8-.1-1.5zM294.2 180l1.4 1.1 .8 2.2-3.1-.2-.5-1.4zM489.2 180.1l1.7 .8-1 1.6-1.7-.8zM393.1 181.4l.9 1-.1 4.2-2.9 3.7-1.6-2.2zM220.9 182.1l1.5-.2 .4 1.2 .1 1.4-1.3 1.4-1.3-1.4zM352.6 181.9l1.4 3-1.4-.5zM10.3 183l1.1 2.2-1.8 1.5-.9-1.5zM35.2 183l3.5 .8-2.8 3.3-1.9-2.6zM42.3 184.2l2.2-.2 1.2 1.2-1.9 .5zM127.7 184.4l1.1 .8-1 1.4 .6 2.9-.7 .9-1.5-2.3 1.5-1.5zM264.3 184.4l1.5-.3-.1 1.8-2.3 0zM315.6 184.4l1.9 .1-1.2 2.3-1.7-.9zM328.4 184.4l.3 .8-2.5 2.2-2.3 .7-1-2.9zM245.1 185.4l1.1 1.2-2.9 5-.1 2.9-1.6 .7-1.5-2.2 1.9-2.8-.8-4.3zM18.9 186.6l2.6 0-.4 2.9 1.3 3.5 3.6 1.6 2.8 .2 0 3-6.4-.5-1.9-7.1-2.7-2.1zM181.1 186.1l1.4 1.1-.7 1.3zM77.9 187l4.3 3.8 0 2.7-2.2-.5-.9-3.5-1.6-1.4zM228.8 187.2l2.8 .1 1 1.5-2.4 .9-2.1-1.6zM442.9 187.1l.8 1-.1 5.7-2.9-1.5zM56.6 188l1.9 1.5-1.2 1.9-1.6-1.2zM383.2 187.6l2.2 .5-.1 1.7-2.1-.7zM34.5 188.6l1.4-.2 .1 1.8-.8 1.9-1.4 .5-.9-1.7zM294.9 189.4l5 1 .3 1.2-2.4 1.4-2.2-.4-1.6-1.7zM310.6 188.9l1 .6-.3 1.4-1.1-.7zM432.3 190.2l1.4-.4 2.9 3.2-4.3 3-2.1-1.5 2.7-2.2zM471.4 189.7l5.7 1.6-.8 3.2-2.1 .5-2.6-1.3-.8-2.8zM176.8 190.9l1.4-.3 .8 1-1.5 .8zM315.6 190.6l1.6 1 .7 5-3.8 1.3 .6-6.3zM114.9 191.6l5 1.4 1.7 2.2-.3 1.7-4.3 .6-2.3-4.5zM484.9 191.6l3.8 0-4.5 3.7-1.1-2.3zM.4 191.8l2.3 .5 1.4 4.3-.8 2.8 .9 2.2-1 1.7-2.8-.5 0-2.3 1.7-1.1-1.7-.7zM10.3 191.9l1.2 .4-.5 1.9-1.1-1.2zM30.2 192.3l1.2 1.4-1.9 1zM227.3 191.6l1.2 1.4-3.3 2.7-.7-1.2zM38.8 193.5l1 .2-.6 5-1.8 .2-1.2-.9 .4-2.1zM306.3 193.2l1.2 1.3-1.2 .8-.8-.8zM361.8 193.3l1.4 .1 1.8 2.5 .5 5 1.5 3.5-.9 2.2-1.4-1.3-.1-3.7-6.3-1.5 3.2-2.8-.5-2.8zM102.1 194.2l3.6 2.6 2.8-.9 1.7 2.8-3.1 1.3-2.1-2.4-3.6 2.2-1.2-1.8zM350.7 195.9l-1.9 8.5 3.6 1.4-2.1 4.3-2.7 .6-10-3.5-.8-1.4 .8-1.4 2.9 2 2.1-1.1 .8-4.4 3.5-4.2zM55.1 196.5l3.9 .8 1.1 1.4-.4 1.4-2.4 1.5-3.5-2.2-.4-2.1zM483.5 196.1l.7 1.3-1.4 1.1-.8-.5zM328.4 197.2l3.5-.6 .2 .7-3 4.5-3.6 1-.4-1.9zM241.6 197.8l.7 1.6-1.4 1.1-.6-1.1zM250.1 197.9l1.1 .8-.4 .8-1.3-.8zM423 197.6l.8 1.1-.8 3.3-2.8-1-2.9 1.2-2.5-3.5 4.6 .4zM493.4 198.5l1.5 .1 .7 1.5-1.4-.2zM275 200.6l2.9 .8 .7 2.3-5-.3-.3-1.1zM218.8 201.5l1.4 1.5-1.4 1.5-1.3-1.5zM292.1 201.5l1 .8-1 1.5-.9-.8zM257.2 203.3l2 .4 .2 1.9-1.5 .1zM145.5 204.6l1.8 1.2-1.1 1.5-1.5-1.5zM124.9 205.7l1.7 1.6-1.7 1.6-1.1-1.6zM421.6 205.2l.5 1.3-1.2 1-2.2-.1-.4-.9zM101.4 206.9l-1.4 3.6-.1-1.8zM263.6 206.9l1.9 1.8 .1 1.4-1.3 2.8-3.2 0zM301.3 207.1l2.6 .9 1.2 4.9-2.5 0-.1-2.8-1.8-2.1zM428 207.9l1.7 1.5-1 1.7-1.6-1.7zM486.3 208l2.9 .4 1.4 4.5-3.4 0-1.4-1.4-.7-2.1zM277.9 208.4l1.4-.2 1.9 1.2 .2 3.5-3.2 0zM358.3 208.6l1.7 .1-.3 1.7-1.5-.3zM434.4 209.4l3.5 1.8 .9 1.7-4.9 0zM500.6 209l1.2 1.8 0 2.1-4.6 0-.6-2.8zM220.9 210l3.6 .8-.7 2.1-5.6 0zM254.4 210.1l3.6 2.8-5.3 0zM206 210.8l2.1 0 .8 2.1-4.9 0zM239.4 210.6l2.7 .2 .2 2.1-3.4 0zM458.6 210.3l3.4 2.6-3.6 0zM31 211.1l2.1 .1 1.9 1.7-5.4 0zM97.8 211.3l3.6 1.6-4.3 0zM53 211.9l1.6 1-2.5 0zM408.8 211.8l.9 1.1-3.1 0z" fill="#8fc3de" fill-rule="evenodd"/><path d="M498.4 .4l2.3 0-.9 1.9zM460 34l1.5 1.2-1.5 2.1-1.2-1.4zM54.4 41.3l1.7 1-1 1.4-1.1-.7zM88.6 54.7l.3 4-1 1.8-2.2 1.1-1.2-.8-.3-1.4 .8-4.3zM92.9 63.2l1.6 1.1-.2 2.6-1.9-1.1zM426.6 65.5l1.2 1-1.2 1.6-1-1.6zM309.9 66.3l2.1-.3 1.9 1.2 .3 2.1-1.1 1.4-2.5 .8-2.2-.7 .1-2.9zM322.7 67.6l2.1 1-.3 1.4-3.2-.3zM359 69.2l7.1 5.2 3.5 1.1 16.4-1.3 8.5-2.7 7.2 2 3.1 2.9-3.1 4.3 2.1 2.8-.7 4.3 1.6 3.6-1.6 .5-7.1-2.9-5.7 .4-4.3-1.5-15.6-1-5.7-2.6-3.6-.1-3-2.8 .7-5.7-1.1-5zM299.9 72l.7 2.4-1.8-.8zM324.8 76.3l2.1 1 .8 2.7-.8 1.9-2.1 1.6-1.3-1.4zM403.8 95.8l2.1 .8 1.4 3.8 3.6-2 3.3 1.5-1.7 3.6 1.6 3.5-1.8 2.5-4.2-.2-1.8 1.3 .3 1.9 3.8 1.6-.2 2.2-4.3 1.1-5-.3-2.8 1.1-2.5-2.7-3.9-.8-3.6-3.3 1.5-7 2.1 .5-.7-1.8-1.4 .3-.8-.8 1.9-2 6-2.5 3.6 1.1 4.9 3.2 .7-1.1-3-3.5zM395.7 100.6l-.2 1.4 2.6 2.9-1.4 2.8 3.8 1.4-.8-3.5 1.5-4.3zM415.9 100.4l2.6 .2 1 2.1-1.5 .7-1.4-.6-1.3-1.5zM362.5 101.6l1.5 1.9-2.2 4.6-.2-4.6zM125.6 104.7l3 .2 .9 2.1-.6 1.4-3.6-.7-.6-1.4zM440.1 118.3l1.1 .8-1.8 4.2-1.5-3.5zM404.5 119l5.7 1.1 .6 1.8-2 2-4.3 .9-1.5-2.9zM477.8 119.7l1.8 .8-1.1 2-1.4-1.3zM284.3 121.3l5.6 4.2 2.2 .2 3.5 3.3 0 2.9-1.4 1-5-.5-1.1 3-1.7 .8-7.1-3.2-4.3 .2-2.6-4.9 3.3-1.1 2.9-4.5zM454.3 123.1l3.9 1.7 .2 3.5-5.5-1.4-.3-1.4zM478.5 123l1.4 2.5-1.3 1.4-1.5 .2-2.7-1.6zM174.7 125.3l1.4 .2 2.1 3.6 5 .8 2.9-1 1.4 .5 6.1 8.9-1.3 4.3-11.9 1.8-2.3-2.6 1.3-8.5-1.9-3.1-3.5-1.9-1.1 .7-.3 3.6 2.2 8.5-1.5 1-1.5-.4-3.6-4.8-2.7-1.5-2.3-4.9 1.5-2 3 .5 2-2.8 2.8 .5zM396 127.2l2.1 .9 .2 1.7-3.4 0zM408.1 131.7l1.2 1.6-.5 1.5-1.5 .6-.4-2.1zM479.2 136l1.9 .9-2.6 1.8-.7-1.1zM413 138.8l1.1 1.6-1.1 1.3-.7-1.3zM154 148.6l1.3 .4 .6 1.4-1.9 2-1.3-1.3zM273.6 151.8l2.1 .6 .9 2.2 .5 4.3-1.4 3.9-1.8-2.5 1.1-2.1-2.5-2.8zM162.6 153.8l2.9 .8 1.4 7.9-2.9 4.9-1.4 .7-3.6-3.5-1.4-2.8 .9-3.6zM434.4 159.6l1.4 0-.7 2.1-.9-.7zM428 161.6l2.8 1.6 2.2-.2 .2 .9-5.2-.4zM203.1 163l1.5-.2-.8 3.2-1.4 1.5-1.9-.1-.6-1.4zM206 167.2l1.9 .2-.5 1.8-1.7-.3zM465 168.6l2 1.7-.3 2.8-1 .7-1.7-.7-1-2.1zM198.2 172.2l1.5 .2-.8 1.5zM282.8 175.9l1.3 2.2-.6 1.2-1.5-1.2zM141.2 200l.5 1.6-1.2 .8-.4-1.5z" fill="#4496c8" fill-rule="evenodd"/><path d="M394.5 73.1l7 2.6-1.4 1.4-1.3 4.5-2.1 .3-1.4-1.2-.8 .7 2.9 .9 1.4 2.6 2.1 .7-.2 2.2-9.7 .3-10-1.9-10.6-.5-8.6-3.4-1.6-3 1.1-4.3 1.2-.9 7.9 2.3 16.3-1.4zM398.8 111.7l3.6 0 .5 1.7-2 1.3-1.4-.3-1.1-1.7zM282.1 123.8l5 2.1 2.5 3.1-5.3 4.2-2.9-.9-1.7-1.8 .1-2.2zM181.8 135.3l1.4-.4 2.9 2.1 2.1-1.8 1.4 .4 1.2 4.8-2.6 1.3-3.6-.4-2.9 1.3-.7-5.7zM160.4 158.9l2.9 .1 1.8 3.5-.4 1.2-2.1 .5-2.3-1.7-.7-2.2z" fill="#2f6fb3" fill-rule="evenodd"/><path d="M391.7 74.8l2.8 .2 2.8 2.1 .1 1.6-3.6 .1-1 1.2 .9 2.8 2.6 2.2-1 1.5-5 .1-9.3-2.1-9.9 .3-2.7-1.3-4.1-4.2 2.5-1.9 20.6-1.5z" fill="#1b5698" fill-rule="evenodd"/><path d="M391.6 77.1l-.3 7.2-6.7 0-3.6-1.7-2.8 1.2-3.6-1-2.8 .7-1.6-.7-1.4-2.1 .8-1.9 5-1.4z" fill="#053061" fill-rule="evenodd"/></g><g clip-path="url(#land)"><path d="M74.4 8.7l95.3-.2 .9 .4 .5 2.3 1.4 .2 7.2 0 2.1-.7 6.4 0 2.1-.7 6.4-.1 2.2-.7 19.2 0 2.1 .7 3.6 .2 .7 .4 2.8 .3 1.5 .6 4.2 .1 1.4 .7 1.9 .2-4 1.2-1.4 .7-1.4 1.4-.4 1 .6 2.1-4 5-1 2.2-.9 .9-5 2.8-5 1-.7 .5-2.8 .2-4.3 1.9-1.4 .2-3.6 1.9-1.4 .3-2.9 2.7-1.1 2.5-1 .8-4.3-1.8-2.8 .6-1.4-.7-4.3-4.3-1.7-2.4 .1-1.5 1.6-1.4 1 .7 .4 1 .8 .5 .2-1.5-.7-2.1-2.4-1.7-2.2-.2-4.6-5.2-2.5-1-.7 .1-.7 1.1-.7 .1-94.6 0-.9-.3-.2-.7 0-11.4zM312.7 79.8l1.4-.2 3.6 .9 3.6 3.3 2.8 1.5 5.7 6.3 1.4 .7 2.9 .3 1.7 .9 1.5 2.1 2.4 1.5-1.4 3.8-1.4 1.4-5.7 2.8-6.4 1.5-3.5 0-2.2-.8-4.2-4.8-.8-.6-.7 0-2.8 2.7-1.1 1.8-2.5 .9-5 .1-2.1 .7-10.7 .1-2.1 .7-12.1 0-2.1-.7-5-.1-2.1-.7-24.9 0-1.5-.6-2.8-.2-2.2-.7-2.1-1.4-1.6-4.5 0-1.4 1.1-3.6 .3-2.1 1.6-2.4 1.5-.2 9.2-4.8 5.7-.9 6.4-1.9 3.6-.3 1.4-.6 5.7 0 3.5 .9 5 1.9 5.7 .9 .7 .5 .7 0 2.2-1.7 4.2 .5 1.5 .6 7.1 0 1.4 .6 2.8 .1 3.6-.8 5.7-2.9z" fill="#d9d9d9" fill-rule="evenodd"/><circle cx="394.5" cy="80.8" r="3.1" fill="#fff"/><circle cx="394.5" cy="80.8" r="2.0" fill="#b2182b"/><circle cx="394.2" cy="72.4" r="2.7" fill="#fff"/><circle cx="394.2" cy="72.4" r="1.6" fill="#053061"/><circle cx="297.4" cy="42.7" r="1.4" fill="#1c1030"/><circle cx="313.1" cy="41.8" r="1.4" fill="#1c1030"/></g>
<use href="#holesp" fill="#fff"/>
<rect x="0" y="0" width="512.3" height="213.3" fill="none" stroke="#a6a6a6" stroke-width="1.3"/>
</g>
<g transform="translate(1195.2,41.3)">
<g clip-path="url(#land)" filter="url(#spk)"><use href="#landp" fill="#c8dff0"/><path d="M.4 .4l187.3 0 2.6 1.8 1.5-1.8 19.5 0 .4 .6 .7-.6 103.5 0 1.1 .7 .9-.7 35.3 0 2.9 1.5 .7-1.5 143.9 0 .6 1.4 1.5-1.4 9.1 0 0 9.8-2.1 2.5-5-1.4-5.7 .1-5.7 3.1-2.1-1.8-2.8-.6-.6 4.6-2.3 2.6-4.3-5.7-2.1-1.4-2.1 2-3.6-1.6-2.1 1.3-3.6 .3-4.2 4.3-1.5-.4-.9-2.1 2.5-2.8-.9-2.2-2.8 .1-1.4 2.7-4.3 1.5-2.1-.6-1.4-2.3-6.5 2.8-3.5-2.6-4.2 4.1 .4 1.4 3.3 1.5-.9 4.8-2.2 .3-4.2-2.9-.5 2.7-4.5 3.2-1.1-4.6 5.6-5.7 .2-3.5 2.1-2.9-.4-.8-2.5 .8-1.1 2.2-4.2-1.3-2.9 2.5-4.3-.7-1.4-4.4-8.5 2-4.4 3.3 3.9 5-.4 2.8-2.7 .6-2.3-7-6.2-4-3.9 1.9 .8 3.5-3.3 3.9-2.1-4.6 2.4-2.8-.2-1.5-8.7-2-2.2 .6-4.2 6.5-3.5-3.4-1.4 0-.8 2.6-2.1 1.1-2.8-4-8.6-1.5-4.1 4.4-.9 3.6-1.4 .7-3.1-1.4 .5-2.9-3.1-4-4.2-.7-2.9 2.1-4.2 .6-3.6-1.4-1 .6 .5 2.8-.8 2.9 .9 2.1-5.3 2.8-1.4 4.4-5.7 1.6-4.3-2.5 .2 2.9 3.1 3.6 .4 2.8-2.3 2-4.5 .9-.1 .7 2 2.1 6.9 2.5 4.3 4 5 1.9 2.8-1.6 0-4.2 5-1.6 2.7 1.9 .4 1.4-4.5 4.4-5.7 .2-4.3 2.1-.2 4.7 3.8 1.6 1.4 2.8 2.6-.9 .6-2.1-3.9-.7-1.8-2.9 6.8-2.4 2.8 1.1 0 4.2 1.4 1.3 4.3-1.7 4.3 .2 1.4-.9 3.5 .6 3.6 2 3.6-2.9 3.5 2.1 5.3 1.4-1 1-4.3-.5-1.4 1.8-3.6 .2-2.8 5.5-5.5-3.7-1.3 0-1 4.2 .6 .7 2.2 1.1 5-.9 .7 .8-1.2 11.1 1.9 2.9 2.9 1.1 20.6-.1 5 3 4.2 .8 8.6-.9 4.2 .6 2.2-.9 2.5-5.8-2.3-8.5-4.5-3.1-7.8 .6-2.2-.7-3.5 2.7-14.2 .9-4.3-2.3-.8-1.6 .8-2 4.3-1.4 19.9 .9 7.1-1.1 5 2.1 5-1.4 2.8 2.1 7.8 2.5 2.3 1.8 6.3-.6 1.1-1.5-.7-4.3 2.4-4 4.3-3.6 2.1 1.9 1.4-.5 .1-3-2.9 1.4-.6-1.4 3.4-2.6 3.6 .7 3.6-2.2 9.2 1.2 1.4-2.7 2.9 1 4.2-1.9 2.9 4.3 2.8 1.5 1.6-.8 .6-7.1 1.4-2 5.7-.2 2.8 2.1 1.5-.2 2.5-3.9-2.5-3.3-5 1.1-1.5-2.1 .8-1.7 4.6-2.6 2.5-6.4 2.2 .8 1.1 1.4-.4 1.4-2.7 2.1-.2 1.4 .6 2.9 3.3 4.3 .4 3.2 2.2-.4 .7-2.8 1.3-.9 3.6 1.3 .7-.8 4.3-.1 4.2 4.2 7.1-.8 0 164.1-8.4 0-2.2-.7-1.1 .7-387.9 0-.2-.6-1.1 .6-110.6 0 0-198.1 2.1 .9 .5-1.1-1.2-1.4-1.4 .5zM67.7 4.6l-1.4 2.2 1.7 3.1 4.9 1.7 2.9-.1 3.6 3.8-.3 2.8-2.6 2.9 .7 1.1 1.5 .3 2.3-5 .4-7.1-2.1-.9-4.2 0-4.4-1.9-1.5-2.9zM164.3 5.3l-.7 2.9-1.8 .7 .1 1.4 2.8 0 .5-2.1 .9-.5 2.9 1.9 3.1 4.3-3.1 .8-3.6-2.9-3.9 2.8-.7 1.4 3.2 2.4 2.9-.8 1 .5-.3 2.1-2.2-.1-.4 1.6 2.9 4.3 3.9 2.1-1 2.1-4.7 1.3-2.9-2.7-.4-4.3-6.8-4.2-.1-1.5 2.2-2.8-2.6-7.3-2.2 2-6.4-.2 1.5 5.5-2.2 2.1-5.7 1.5-1.1 1.4 1.8 3 2.2 1 2.3-.5 1.2-1.7 5.7 .4 .7 4.4 3.1 .5 1.8 3.5 .7 4.3-.6 1.6-5.3-3 .1-5.7-3.7-1.4-1.8-2.2-.8 0-.6 7.5-3.5-1.7-1.5-2.9-2.1-1-5 .5-2.8 3.3 5 3.2 2.8-1.6 3.6 2 2.8 3.9 3.6 .9-.6 3.7 1.3 1.9 1.2-.5 1.3-3.5 5.3-1.7 3.6 1.9 .7 2.7 3.5 1.3 .9-2.1-2.6-3.5 .2-2.2 5.1-.9 2.2 .9 4 6.4 .1 1.4-2 2.9 2.1 2.3 1.6-.9-.2-2.7 2.9 1.9 2.1-.1 1.3-3.4 2.3-2.1 9.2 2.3 .7-4.7 3.4-4.7-4-2.1 2-6.4-3.5-.3-2.2-1.4-3.5 .6-4.3-2.2-2.8 2-1.9-.1-.7-1.5 .6-3.5-2.3-1.4-1.9-5.7 3.2-2.9 .1-1.4-5-1-2.8-2.7zM32.5 6.8l-3.1 3.5 1.6 3.5 5.6-2.3 1.7-1.9-2.4-3zM108.5 6.8l-6.7 6.4 1 1.1 2.9-1.6 1.4 .6 1.2 1.3 .9 4.2 2.2 .4 1.4-1.1 .3-2.8-4.5-1.4 .1-2.2 2.9-2.8-1.7-1.9zM47.4 8.9l0 1.4 3.5 3.2 7-1.8-2.8-2.7-3.5-.8zM366.8 8.9l-.6 2.1 2 .4 .7-1.8zM62.6 10.3l-1.9 3.6 2.4 1.4 0 1.4-1.6 .5-2.1-1.6-2.6 2.5 1.5 5 3.9 2.9-1.4 1.5-2.7-1.5-.9-2.9-2.1-1.5-3.5 1.4-2.1-.4 .2-3.8-1.7-1.1-5.1 .4 3.4 3.6 0 2.1-1.1 1.5-1.4-.2-1.5-1.6-2.8 .8-6.4-1.5-1.9 2.4-3 0-1.3-3.5 4.8 .3 1.4-2.8 6.7-1.8 .5-2.8-14.3 1.2-2.2-2.4-.7 .3-.2 3.7 3.1 2.1 .7 1.8-6.4 2.7-2.2-1.3-2.8 .5-1.5 3.5 .9 3.5-1.2 2.9 2.7 2.8-1.3 4.3 3.6 8.5-.4 .9-2.1-.7 .2 3.4 1.2 .5 2.2-1.4 2.2 .1 1 1.5-1.2 2.8 .8 .4 2.1-3 3.6-1.5 1.2 .6 .2 2.9 .7 .1 4.3-3.1 1.4 0-.6 5.7 5.6 .9 7.1-.7 2.2-1.9 5.7 2.3 .7-4.8 7.1-.5 3.5 3.7 3.6-1.3 1.4 3.9 4.3 .3 2.8-.8 3.6 1.1 4.6 7.8 1.8 9.6 4.3 .4 6.4 2.4 9.8-3.2-.7-4.9 2.3-3.4 4.2 1.9 2-1.4 2-11.4 1.7-3.4 2.1 11.3 2-1.5-.9-4.2 1.8-.3 2.8 2.7-.2 2.6-3.8 4.9 1.2 .7 8.5-2.1 .8-2.8 2.8-2.6 4.3 1.6 3.5-.8 2.2-2.3 4.9 1.2 .9-.7-3.2-3.5-.5-2.2-5-1.4-2.8-2.1 1.6-3.6-.9-.7-2.9 .5-.7-.8-.4-4 2.5-1.7 .9-1.8-.4-1.4-2.6-1.9-2.1 0-1.8 1.9-1.1 5.3-5.7-1.3-3.8 5.2-2.3-.7 1.6-3.6-.3-2.1-3.7-3.1-2.7-.5 .8-3.5 2.5-2.1-.5-3.6 3.5 .4 1.4-1.1-2.9-5.3-3.5 .7-1.4 3.4-2.4-.9-2.6-3.1-2.9 4-1.4 .7-14.2-1.2-6.4 2.9-7.9-4.3-5.3 2.4-8.9 .1-2.2-1.5 .2-1.5 4.3-3.5 1.3-2.4 3.7-.5 2.4-2.1-1.9-1.5-4.2 .4-2.2-3.5-3.5-2.1zM92.4 11.7l.3 2.9 2.1-.7-.8-2.2zM116.8 11.7l-1.4 1.5 1.6 .6 1.5-1.4zM180.4 13.4l-1.2 2.6 1.1 5 1.5 1.5 1.2-1.5-.7-5.7 1.8-2.9zM15.5 14.6l-.2 2.2 2.8-.1 0-2.1zM121.3 14.6l-.1 2.1 2.3 1.5 .2-2.9zM133.8 14.6l-2.5 3.6-6.6 1.4 3.7 4 2.9 1.3 2.1-4.2 3-2.6-.9-3.7zM311.6 18.8l1.1 1.5 1.9-1.5zM4.2 20.3l.4 1.6 1.8-.9-1.1-1.2zM102.5 23.8l-.5 1.4 .8 1.7 1.7-1.7-.6-1.4zM135.6 23.8l.7 1.4 .7-.3 0-1.4zM296.4 26l-1.2 2.1 .8 .7 3.2 .4 2.5-1.1-1.7-2.1zM270.6 27.4l-.4 1.4 2 .4 0-1.8zM284.7 29.5l-1.1 2.1 .4 2.2 1.7 .7 2.8-.9 3.7-5.5zM221 29.5l-1.8 1.4 .1 1.5 2.8 3.5 .7 2.8 3.1 2.2 11.5-2.9 1.3-5.9-7.1-1.1-7.8 2.1-1.1-3.6zM278.9 33.1l-1.8 4.1 4.2-3.4-.6-1.1zM281.4 36.6l0 1.4 1.4 .6 .3-2zM298.2 36.6l-1.8 1.4-.7 3.6 3.5 3.1 2.1 .2 1.6-6.9-1.6-1.2zM271.8 41.6l-1.4 2.8 1.8 2.1 6-3.5-.3-.9zM158.5 51.5l-4.1 4.3 1.8 3.7 2.1 1.3 3.6 .2 2.1 2.2 5 1.2 .6-2.2-1.3-2.8 1.2-3.6-4.1 .1-2.8-2.9zM179.6 52.3l-2.9 2.1 3 2 1.8 .1 .6-1.4-1.9-.7zM311.9 53.7l-1.4 .7 .8 3.3 1.7-3.3zM304.6 57.9l.3 1.2 1.5-.4-.8-1.4zM346 60.1l-3.3 3.5 3.3 0zM334.2 63.6l.4 1.5 1.6-.8 0-.7zM140.4 66.5l1.8 1.4-.3-1.6zM295.4 76.4l-.7 1.5 .9 1.3 1.4-2.8zM222.7 92.8l-.3 .8 1.4 .8 2.5-.9zM188.2 104.2l.7 .5 1.5-2-.8-.6zM20.2 109.1l-.2 1.5 1.7 0 0-1.2zM98.5 117l.8 1.7 1.2-1-1.2-1.2zM59.3 121.2l-.6 2.2 2.1-.1 .4-2.1zM19.4 125.5l-.4 1.4 1.2 2.1 3.6 1.8 .4-1-1.5-2.2zM175.2 131.2l-2.3 1.4-1 2.8 4.2 3.3 .8-1.1-1.9-2.9 .8-2.8zM56.2 144l.4 1.6 1.8-.2-.3-1.4zM378 144.7l.2 1.6 1.4 0 0-1.7zM467.5 144.7l1.8 .9 .8-.9-1.6-.7zM363.4 151.8l-.2 1.5 2-1.5zM422.3 161.8l.7 1.2 1.3-.5-.6-.9zM434.9 161.8l-1.1 3.5 1.3 2.1 3.6-2.6 7.1 1.5 1.4-.9-1.4-2.3-3.6-.8-3.5 1.9-2-2.4zM454.5 161.8l-3.5 2.1 .5 2.7 4.2 .6 4.3 2.5 2.8-.3 .3-1.2-1.7-3.6-4.2-3zM157 162.5l.2 2.8-1.5 2.9 1.2 1.2 1.6-2 .6-3.5-.8-1.4zM217.9 163.2l.9 1.8 2.1 .9 .1-1.3-1.5-1.8zM439.7 168.9l-1 1.4 2.1 .5 .4-1.2zM291.2 172.4l.9 1.4 2.1-1.4-2.1-.7zM158.7 175.3l-3.8 4.2 .6 1.7 2.1 1.4 2.1-1.7 1-2.8-.3-1.6zM459.5 175.3l-.9 2.8-2.8 2.8-.1 2 2.2-.1 5.9-3.3-1-2.6-2.1-1.8zM415.1 180.2l-.8 1.5 1.6 3.7 2.2 .5 .9-2.8-1.8-2.2zM423.7 180.9l.7 2.9 3.9 2.8-.1 4.3 1.4 0 1.9-2.2 2.9 .8 .7-3.2-2.5-3.9zM441.9 180.9l.3 1.2 1.4-.4-.7-1.3zM446.2 180.9l-.8 1.5 1.5 3.5-.7 1.4-2.5 1.5 .6 2.1 2.2-.6 2.8-4.5 3.4-1.3 0-1.4-2.7-2.4zM454.2 186.6l.2 2.2 2.5-.7-.5-1.7zM420.1 189.5l-.7 2.1 1.5 .7 1.3-.7-.2-1.4zM108.2 190.2l-1.5 5 1.1 1 2.1 .1 .9-4zM216.4 190.2l-.6 .7 .9 .8 .8-.8zM453.7 193l-.7 .7 .6 1.5 1.9 0 .8-1.5zM213.1 199.4l0 1.6 2.1-.1-.6-1.5zM415.8 200.1l-1.8 2.2 .1 1.4 1.1 .7 1.4-.2 .7-1.2zM400.4 201.6l.5 1.5 1.5-.1-.7-1.9zM274.2 203.7l-.1 2.1 1.6 .5 .9-1.9-.9-.9zM123.6 205.1l.6 2.3 2.7-.1-.6-1.8zM367.3 207.3l-.3 1.4 1.2 2.2 2.2-.1 .9-1.4-.3-1.4-2.1-1.2zM440.2 207.3l.6 1.7 .7-1.7-.7-.7zM151.2 14.5l1.4 1.4-.7 1.6-1.8-1.5zM425.1 15.2l2.7 .1 .4 2.1-2.2 0zM477.8 15l1.8 1.7-1.8 1.7-1.1-1zM398.7 17.4l2.2 2.5 .4 3.2-6 3.8-1.6-2.4 4.4-1.7 1-1.8-.3-2.1-2-.8zM491.3 17.3l2.1-.3 .9 1.1-2.1 2.2-3.3-.7zM511.9 17.8l0 18-1.8-1.3-.3-5-3.7-.7-2.2-2.8 1.5-2.2-.2-2.8 3.2-.7zM366.5 18.8l.3 5-1.4 2.9 .2 2.1-.9 .3-2-3.9-3-1.1-.8-1.7 .8-1.2zM450.8 18.4l4.9 1.2 1.9 1.4-3.3 5.6-1.8-.6-2.3-6.4zM472.1 18.7l1.6 .9-1.6 2.2-.8-1.5zM495.6 18.7l1.4-.1 1.8 2.4 .8 7.8-4.7 4.3-.8 6.4-2.8 1.2-.9-.5 .1-2.9-2.3-2.1-.6-2.1 .9-1.9 6.5-4.5 1.4-5.7zM332.6 20l2.9-.1 2.1 3.6 2.9-2.9 2 3.2 2.2 .6 .5 1.6-1.9 .4-2.8-1.6-3.6 1.6-1.4-1.5-2.9 5.2-2.1-.2-1.8-2.5 1.8-2.9-.3-2.8zM382.4 20.9l1.5 .8-1.5 1.3-1-.6zM484.9 20.7l0 2-3.2-.3-.3-.7zM371.1 23l1.2 .1 .9 2.3 4.3-2.9 2.3 .6 .1 2.9 1.5 2.1 .1 4.3-3.3 3.2-2.9-.3-.6-2.9 3.3-2.9-2.7-1.7-4.1 5.3 1.2 4.2-4.2 1.8-1-1.1-1.3-5.6 .9-1.6 2-.6 .8-5.5zM423 22.8l1.7 1 0 2.9-1.7 1.9-2.8 .9-1.5 2.3-.7-1.6 1-3.5zM447.9 23l1.4 .6 0 .9-2.8 .6 0-1.3zM412.3 24.4l1.5-.1 .8 .9-.8 2-2.4-.5zM356.1 25.2l2.2 .8-.8 3.5-3-1.4zM350.4 26l1.5 .7 .8 1.4-1.2 2.8-4.3 1.5-2.5 2.7-2.5-.6 2.6-3.6 .8-3.5zM479.9 27.3l1.7 .1 .8 1.4-.3 2.1-1.5 .7-2.8-.6-.9-1.5zM117.8 29.4l1.4 .8-1.4 3.2-1.7-1.8zM336.2 30.9l2.8 .3 2.7 3.3-5.5 3.7-2.8 .1-2.2 2.5-1.4-2.1 2.8-2.6 2.9-.3-.3-3.4zM504.1 32.3l6.6 6.4-2.3 4.1-2.9 .9-1.3-.7-2.7-4.3zM351.9 35.2l1.4-.7 2.1 3.6 .2 2.1-.9 1.5-1.8-.8zM429.4 36.5l2.7 1.5-.5 1.5-2.7-.8-.3-1.4zM362.5 39.9l1.5 .3-.8 1.6-1.1-.2zM378.9 40l1.4 .1 .7 1.5-3.5 1.8-.3-1.8zM470 40l1.3 .9-2 .8-.7-.8zM348.3 40.8l2.4 .8-.7 4.3-1.7 1 1.2-3.2-1.6-2.1zM428.7 43.4l2.3 1-1.6 2.4-1.5-.9zM356.1 44.3l1.4-.2 .9 1-1.6 2.9-1.4-.2-.7-1.2zM118.5 45.8l2.4 1.5-.3 1.1-2.3-1.1-.6-.7zM112.1 47l1.8 .3-.4 3.5 2.9 2.2-.8 1.2-2.1-.1-2.1-3-4.3 1.9-2.3-4.3 .9-1.1 3.5 .6zM97.8 49.3l3.4 .1 .9 2.9-1.4 .7-2.2-.7-1.8-2.2zM105 55.5l1.4 .1 0 1.3-1.4 .2zM142.7 58.5l.9 1.6-.9 1.2-1.3-1.2zM110.6 59l2.1 .4-.6 2.6-1.6-1.2zM413 61.8l3.6 2.5-3.6 3-1.7-1.5z" fill="#e4edf5" fill-rule="evenodd"/><path d="M1.8 .4l4.7 0 1 1.8 4.7 1 1 2.3 1.7 1.3-.3 2.9-1.4 .3-1.9-3.2-2.4-1.1-1.4 .3-.9 2.2 3 3 3.6 .2-1.2 5.3 4.9 3.6-5.2 .9-2.8-8.3-8.5-2.8 0-7.5 1.4-.1zM16.7 .4l8 0-1.7 2.1 3.9 2.1 .6 1.4-1.5 1.1-2.2-.1-4.9-2-2.9-.1-.8-1.7zM30.4 .4l-.2 1-1.4 0-.6-1zM44.3 .4l-.5 4.7-1.5 .2-1.4-3.2-3.5 .1-2.9-1-.6-.8zM58.7 .4l6.6 0 1.2 2.1-1.7 2.1-4.7 2.1-2.1-2.1zM72.2 .4l9.1 0-3.5 2.8 1.1 2.8-3.1 .6-4.4-1.3-.4-2.8zM87.2 .4l2.7 0 1.5 1.4 1.4-1.4 6.6 0 0 .7-.8 1.4-3.6 1.4 0 3.3-9.3 2.1-1.3-1.8 2.8-3.6zM103.5 .4l2.8 0 2.2 1.1 1.8-1.1 4.5 0-.9 3.5 2.4 1.7 0 1.3-7.8-2.5-3.5 3.2-2.2 .3-1.4-2.6 .4-2.8zM130.6 .4l11.3 0 1.2 .7 1.2 4.2-5.6-.7-2.7 3.6-1.9 0-1-1.4 2.3-1.5-1.3-1.5-8.2 .1 1.1-2zM150.5 .4l2.8 0-2.1 2.4zM164 .4l2.7 0-1.3 1.4-1.4-.5zM178.2 .4l6.3 0 0 1.4-5.6 1.2-.9-.5zM193.9 .4l3.6 0 .2 2.1-3.8 1zM205.3 .4l4.1 0-.6 3.5 4 1.4 0 1.5-8.3 4.9 .1 1.7 4.9 1.3 5-2.2 1.9-2.2-1.7-3.5 1.9-4.3-2.1-2.1 3.1 0 .5 1.5 1.4-1.5 4.3 0 1.4 1.2 3.6 .7 1-1.9 4.6 0-1.4 4.8-2.8 .9-2.2 2.5-3.3 .3-.7 1.4 4 2 2.2 2.3 5.7-1.2 2.1 2.3 2.9-1.6 2.2-3.8 1.4-.7 7.1 6.4-.8 .9-3.5-.8-2 1.3 2.7 2.2 1.4 5.7-3.6 2.3-3.5-.4-2.2 2.4-3.5-1.9-2.9 1.3-3.5-.2-.5-1.4 .8-2.2-2.5-1-1.4-3.2-2.8-.7-2.9 1.4-2.6-1.4 3.2-6.4 .4-2.9-.9-2.1-1.5-.7-2.5 2.1 .7 5-1.1 3.5-3.5 2.2-5.7 .8-5-4.5-2.1 1.1-7.8-.1-.1-1.6 2.9-.6 1.2-1.5 .5-4.3-1.3-2.1 .3-1.3 2.2-.5 2.1 1.7 4.2-.6-.1-2.2-2-2.1zM222.2 15.3l-.7 1.4 1.6 1.1 .7-2.5zM235.5 17.4l-3 2.2 1.1 2.8-1.3 2.1 .7 1.1 1.4-.3-.5-2.2 2.6-2.8 .1-2.6zM241.3 24.5l-.4 1.6 .7 .4 2.8-2.7zM246.5 .4l6.9 0-.5 2.1 1.5 .9 2.8-1.1 1.4-1.9 1.9 0 2.4 2.1 2.1-.5 .9-1.6 8 0 1.4 3.5-3.8 5 .4 3.5-3.5 2.2 1.1 5.7 1.2 .7 3.9-7.8 1.8-.9 2.9 .8 2.3-1.4-1-2.8-4.7-5-.2-3.5 4.6 0 .6 2.1 2 2.1-1.9 3.6 1.1 .4 4.3-1.2 4.3-5.1 7.1 .2 3.5 1.8 .9-.4 .7-3.5 5.7 0 .4 2.1 2.7 2.1 1 4.9 5-2.2 1.7 .9 .2 5.7-1.2 1.2-5 1.4-4.2-.8-4.3 2.6-1.8 3.4-.3 3.5-3.6-1.4-.7-1.4 .6-2.1 3-2.9 .1-2.8 2-2.2-2.2-4.7-1.4-.3-5 2.3-.9-.8-.5-2.8-1.4-.3-1.4 1-1.4 4.2 0 3.6-1.7 6.4 3.1-1.7 2.1 .3 .2 2.8-1.4 2.8-2.4 .4-3.4-1.1-2.1-4.2-2.3-.9-3.5 2-2.9 .2-2.2 2.9-4.9 1.2-3.6-.3-1.4 1.9-1.5-.6-.2-2.9-3.9-3.5 2.8-3.4 .7-2.5-1.4-.8-5 1.6-1.7-4.2-3.3-2.8 .4-4.3-3.8-2.1zM265.6 4.6l-2.6 1.4-.5 1.5 3.3 3.1 1.8-2.4-.4-3zM306.7 13.2l1.7 .1 1.5-2zM336.2 .4l9.3 0-.7 3.5-2.2 1.7-4.3-1.5-4.1 2.7 2 3.5-.7 1.2-2.1 .5-2.2-.9-2.6-3.6-.2-2.2-.4 2.2-3.9 3.6-1.4 0-2.1-2.2 .2-2.9-1.5-2.1 1.2-2.4 4.3 .9 7.1-.7 2.9 3.3 2.6-1.8zM349 .4l1.6 0 .1 2.1 4 4.3 4.1-2.9 1.9-3.5 3.4 0 3.4 2.2 4.3-.7 2.3 2-3 4.2-3.6-1.3-3.6 1.3-2.8-.9-2.8 1.9-7.9 .2 0 1.7-1.4 1-4.8-3.8 1.5-3.6 4.2-1.4zM379.6 .4l5.5 0 1.6 3.4 3.7-3.4 3.4 0 2.2 1.6 4.6-1.6 12.4 0 2.2 4.4 3.3-1.6 .2-2.8 2.1 0 3.1 3.5-3 2.7-10.7 .5-5 4.5-1.7-.6 .9-3.5-1.3-2.2-4.3 2.5-3.5-1.4-3.6-.2-5-2.1-1.7 1.9 3.1 .9 .9 2-.7 .7-2.3 .3-4.3-1.6-2.8 .1-.7-.9 2-2.9zM425.8 .4l8.4 0 .6 2.1-2.1 2.8 1.7 1.4 4.9-6.3 8 0 0 2.1 1.3 .6 2.4-2.7 2.5 0 .8 3.7 2.8-3.7 7.9 0 .7 2.4 6.4-.4 .3-2 4.9 0 0 .7-.9 1.7-2.9 .1-2.8 7.2-3.6-.6-2.8-2.3-3.1 1-2.6-3.2-2.2 2.9-6.4-2-.5 .9 1 2.1-4 1.9-4.3-3.6-3.5 2.3-4.3-2.7-2.9 2.3-2.1 .2-1.1-1.1-.2-2.9-2.8-2.1zM442.6 1.1l-.1 1.4 1.5 2.1 2.5 .1 .1-1.5zM487.8 .4l2.9 0-.3 2.1 2.9 3.5-.6 1.4-9.2 3.7-4.3-3.6-2.8 2.1-1.5-.7 .8-4.1 4.2 1.9 2.2-2.4 6-1.8zM505.5 .4l2.2 0-1.1 2.1 .4 2.5 1.4 .1 3.5-2.2 0 5.5-3.5 2.3-2.2-1.1-.9-3.6-1.5-2.1zM50.2 .6l4.2 3.9 1.5-1.1 .8 1.2-2.3 .2-2.1 1.5-3.3-.3-1.2-2.8zM173.4 3.2l-.1 2.8-2.3-2.1zM186.1 3.2l1.2 1.4-.2 2.2-1 .7-1.8-1.5zM157.6 4.5l2.1 .1 .2 1.4-1.6 .2zM496.3 6.7l2.8-.3 1.8 1.8-4.6 2.7-2.1 .1 .6-2.8zM192.5 7.8l1.2 .4-.3 1.4-4.5 2.2-.9 4.2-1.9 1.7-.5-2.4 1.9-5.4 2.8 .3zM294.2 12.9l3.4 2.4 .1 1.4-3.5 .3-1.5-2.4zM87.9 14.5l1.1 1.5-1.1 .9-1.4-.9zM116.3 16.4l1.7 .3 2 3.6-3 2.3-1.4-.6-.8-1.7 .1-2.3zM.4 17.3l1.3 1.5-.6 3.6 .7 1.3 4.2 .8 2.9-1.6 2.5 2.3 .2 3.6-1.4 4.3-2 2.6-3 .2 .5 7.8-2.5 1.4-2.8-2 0-7.4 1.7-1.2-.3-2.1 2.1-5.5 2.9 2.9 2.6-3.8-1.9-1.2-2.9 1.8-2.1-1.4-2.1 .2zM18.1 19.5l2.2-.6 1.5 1.4zM185.4 19.9l3.5 2.5-.7 2.1-3.2-1.4zM85.7 21.6l5.7 1.3 3.6-.7 1 1.6-7.4 2.9-2.9 .2-1.4-.9-.3-1.5 .2-2.1zM316.3 22.7l2 1.1 .8 2.9-1 1.4-1.8 .1-5-4.4zM217.4 24.7l2.1 2.7-2.1 1.2-5.7-.7-3.8 1.6 1.2-4.3 4 .2zM226.6 24.5l1 .7-1 2.7-3.3-1.2 1.2-1.6zM511.9 24.3l0 3.2-1.7-1.5zM275.7 26.5l2.8 1.6-2.8 1.8-.7-1.1zM264.3 28.4l1.6 .4 .6 1.4-1.5 3.3-2.1 .6-.6-1zM307.7 28.2l2.8 2-.3 4.3 3 1.4-.5 1.6-6.4 .9-1.4-1.1-1.1-2.8 3.2-3.1zM251.5 29.5l.5 1.4-1.4 2.9 .2 1.9 4.3-2.6 2 3.5-1.7 1.4-3.2 5.7-3.1 .7 2.4 7.3 1.8-.9-1.7-2.8 1-2.1 3.2-.4 1.4-3.2 2.9-1 1.1 3.1 6 1.5 1.6 1.4 .2 2.8-2.6 5.7 1.5 3.4 4-2 .2-2.8-1.3-3.6 .6-1.6 5.7-1.7 2.2 2.8 7.8-3.8 2.1 2.2 .1 2.8 4 2.2 5.9 8 5.2-.2 2.1 7.8-3 .8-2.9 2.3-1.5-.9 2.5-5-1.7-2.1-2.1-.9-6.7 .8-.3 1.5 4.1 2.5 2.5 3.9-3.2 2.4-2.8 4.8-.8-.1-2.1-6-5.7-.6-3.5 3.3-4.6-1.7 .3-1.4 3.5-1.4 .3-5.7 2.6-2.2 0-4.3-4.7 1.5-.4 1.4 1.4 3.6-4 .7-1.5 2-2 .1-1.6 2.7-1.8-.6 .2-1.4 2-2.1-3.2-5.9-2.2 .8-2.1 5.8 2.8 2.3 1.5 2.9 5.6 2.4 2.2 3.8 2.8-2.3 2.2-.1 1.3 1-.3 1.4-5.3 1.6-1.5 2.6 .8 1.8 7.1-1.2 7.8 2.9 3.6-1.2 2.7 .6-.6 4.9-5.7-.6-8 1.4 .9 2.8 2.9 2.2 .3 2.8 3.2 .7 7.1-9 2.2 .8 3.2-.3 3.1-5.7 2.2-1.4 1.5 2.8-.1 4.3-2.1 2.2 .7 .6 3.6-1.1 1.6 2.5-.9 3.6 5.7 .4-.8 3.2 .8 2.4 1.9-1 2.3-3.8 6 .9 .6-1.4-1.9-2.8 1.3-2.2-1.7-1.5-3.6 .7-2.8 1.8-2.8-.9-1.5-2.2-3.2-1.4 1-2.9-2.1-2.1 2.2-2 3.6 1.4 1 2.7-1 3.9 1.4 0 5.7-3.5 2.8 3.7 1.9-3.4-.8-1.4-1.8-.7-.4-1.4 4-3.9 2.1 3.9 2.8 1.8 .9-.4 .6-3.6 3.5-.2 2 1.7 .2 2-4.3 2.2 4.1 1.5 .1 2.8-1.4 1-2.8-1.8-1.3 .8 4.1 3.3 4.3-3 1.4-4.2 2.2-1.3 3.5-.4 2.2-2.9 6.4 2.8 4.9-1.4 11.4 1.5 5-.9 3.6 4 2.8 .3 2.1 2.4 3.6-2.4 5.7-1.2 5.7 1.5 2.1-1.3 2.1 1.8 2.4 0 .7-1.4-2.6-2.9 1.5-4.2-2.7-3.3-.9-4.6-1.9-3.5 .4-1.4 2.4-.8 2.2 7.2 1.4-.4 2-3.2 1.6-.8 7.1 3.3 7.4 .3-.2 2.9 2 1.4 1.6 0 3-2.1-.3 2.8-3.5 4.3-.2 2.1 3.5 5.7-.4 3.6 1.3 .6 5-.7 .3 2.9 1.7 2.9-2.4 1.4-.3 3.5-5.5 5 1.9 3.6 2.9-1 3.2 4.5-.4 .8-4.3 1.1-.7 2.4 4.3 2.2 2.8-.6 5.7 .8 3.1-1.7 0-2.1-2.4-2.7-6.4-1.7-2.5-5.6 1.1-.3 4.3 2.5-.2-3.6-2.3-2.2 .3-1.5 3.6 1.2 4.3-1.6 1.4-2.2 3.7-1.5-.9-1.9-1.4-.6-3.5 .2-3.6 1.7-3.1-.9 1-1.2 3.1-.9-2.4-.9-1.1-3.4 3-1.4 3.3-3.5-3.8-6.6-2.8 .5-2.9 2.3-6-1.2 2-6.4-1-1.4 .6-2.9-2.7-2.1 3.3-5.7 2.4-1.9-.1-3.1 .8-1.1 2.8-1 1.2 2.8 .3 4.3 10.8-4.3-.3-4.2 3-2.2 2.1-.4 1.4 2.6 8.6 1.5 3.5 2.2 1.3-.9 2.2-5.7 .1-3.7 1.7 .2 .6 2.8 2.2 1.4-2.6 2.2-.9 6.4-3.1-.7-1.5 2.9-1.4 .8-1.5-.2-1.3-2.9-2.6 .8 .6 3.5-3.7 2.3-3.3 5.6 0 2.8-2.6 5 1.1 4.2-1.6 .5-2.2-1.6-2.7 1.9 2.3 2.8-.4 2.1 2.3 4 3.7 2.4-3 3.6-.5 2.8-2.6 2.9-1.2 3-2.1-.2 .7 3.1 2.1-1.6 3.6 2 2.8-.2 2.2-7.9 5.7-1.8 1.4 2.9 5.7 1.7 5.7-6-.8-1.3-5.9 .6-1.5-2.9-3.2-.7-3.6-4.2-1.4 .8-2-1.5 .6-2 2.8 2.6 2-1.4 0-4.2 3-.9-.3-3.4 1-1.6 2.1-.5 1.5 .8 .5 4.9 2.3 2.9 3.6-3 1.4-4.2 2.1-2 1.5 .4 1.3 3.7 2.8-.7-1-2.8 1.1-2.4 2.9 .9 5 .1 1.7 2.1 .8 3.5 1.7 1.4 1.4-.2 1.3-8.3-1.3-.7-2.8 1-.2-1.7 3.8-5.2 5.6-1.9 0 7.4-1 2.6 1 2 0 5-2.7 .8 2.7 2.2 0 10.1-3.2 1.2-2.4 3.6-2.9-.8-3.2-4.9 .4-.9 5.5-2 .2-4.5-.8-.8-3.5 .8-5-5.4-4.2-1.5 .6 3.2 3.2 3.9 0 2.9-1.9 5.7-2 .9-3.5-.1-3.6 4.6-3.5 .7-3.6 3.9-4.8 1.3 1.7 4.3-1.4 3.6 1.7 .9 1.7-.9 1.8-3.7 7.2-2 .6-.7-.7-2.7 1-.2 1.9 1.6 2.8-.1 5-2.5 1.4-4.5 5.7 1.7 5.7-.4 2.1-1.5 0 18.6-3.5 1.6-2.1-.3-7.2-8.5-4.8 4.3 3.4 2.3 .7 2.3 3.6 0 4.3 4.9 3.6 .4-.6 6.4 2.6 2.3 0 3-4.9 4.6-1.4-.6-.3-2.2 1.4-3.5 .4-4.3-3.7 1.3-2.1-.4-.5-2.3 2.5-2.1 .3-2.2-4.2-.7-2.2-3.5-4.5 .7-.7-.7 .4-3.6-1.2-2.1 .8-3.9-1.4-1.7-3.2 4.9 2.6 7.1-3 4.2-3.5-.1-2.9 3.1-3.5-.3-3.6 4.3-8.5 .9-2.3 2.8 .9 1 2.8 0 2.9 1.4 4.9-1 4.4 1.5 .5 2.8-1 5 1.1 2.2 2.7-1.5 .9-3.4 3.5 .8 3.4 4-1.2 2.8-5.7-1.2-3.3 1.3-.3 1.4 1.4 2.5 5.7-1.3-.1 4.5-2.7 2.8-.7 2.2-2.9-.3-1.4 .9 .1 6.4-5.7 2.9-1.5 2.4-2.1 1.2-.9 1.4 1 4.2-3.7 1.1-.9 2.5 1.6 1.7 3.6-4.1 8.5-1.9 .8 .7-2.4 3.6 .9 .8 3.7-2.9 4.1-1.7 1 3.8-3.1 1.5-.7 1.3 1 2.2 2.5 .9 .5 1.2-.4 2.1-2.7 1.5 .7 5.6-5.8 0 1.3-2.6-7-.9-5.1-4.3-1.4-3.4-7.8 .1-2.1-1.7 2.8-3.5 2.8-.9 .9-2-.2-1.6-2.3-1.9-1-5.7 1.2-.7 2.1 1.3 2.2-.1 2.8-1.9-3.4-7.8 .7-13.5-1.1-3.6 2.4-2.6-.7-3-2.2 .6-.7 5-2.8 2.7-2.8-1.1-10 1.1-5-1.2-2.8 .9-12.1-1.9-7.9 1.3-5.6-2.5-4.3-.5-.7-2.4 1.2-3.5-1.7-1.4 0-2.2-1-.8-3.1 1.5 .7 5.7-1.2 6.4-2.3 5-.1 2.9-1.1 1.6-2.1-1.7-1.5 .8 .8 2.3 2.8-.2 2.2 1.7 3.5-2.1 2.9 1.6 .7-2.6 2.8-.6 .6 2-2.9 5 1.6 1.1 2.2-.9 .1 1.2-3 1-2.1-.9-6.4 1.8-4.3-.8-1.4 .8-1.2 3.1 1.6 3.5 1 .6 2.8-.9 4 .3 3.2 2.3 .3 4.8-1.8 2.1-2.1-2.3-2.1-.1-2.1 3.9-2.2-.6-2.1 1.9-2.2-1-1 1.1 2.5 2.2 1.4 3 6.4 3.1-1.9 6.6-14.5 0-2-3.5-.5-5.7 .7-1.4-3.9-2.9-1.8 .7 .7 2.9-1 1-4.3-.7-2.8 1.5-2.9-2.1-5 4.1-1.9-1.7-.8-1.4 1.3-1.6 4.7-.5-3-2.2-1.1-2.1 .3-2.8 2-2.6 3.5 1.1 3.6-1.5 1.4 3.9 3.6-.8 3.5 .5 3.8 2.2 1.5 2.1 1.2 0 .6-1.8-3.2-4.6 3.9-3.5 .4-4.3-1.8-.7-3.5 1.6-.7-1.6 2.1-4.3 4.3 1.9 .5-1.9-4.8-2.3-1.4-4.9-2.2 .1-2.8-2.3-3.6-.2-1.4-1-.9-1.4 .5-1.5 3.5-1.4-1.7-2.3-1.4-.4-2.8 0-1.5 3.1-1.8 1-.1 2.9-1.6 1.7-4.3-.2-.2-2.9-3.3-1-3.2 5.2 .8 3.6-3.3-.5-1.8-3.1-4-1.4-3.9-5.7 .4-2.2 2.8-1.3-2.4-2.9 .3-2.9 5.7-2.1 2.9 4.1 1.3 .2 1.1-4.3-.5-3.5 1.6-1.3 2-.1 1.7 1.4 .8 6.4-.2 .7-3.4 0-1 2.1 3.7 .9 2.1-2.1 6.4 2.3 .7-1.1-.7-2-3.5-.9 0-1.3 4.9-3.7 3.3-.6 1.7-2.5 2.2-.2 1.4 .8 1.7 3.3 3.3 1.2 2.1-1.1 .6 1.3-3.5 4.3-3.5 .4-1.1 1.7 1.8 1 2.8-1.5 1.6 1.2 .3 1.5-1.4 3.5 1 1.9 4.2-.9 2.9 .8 2.1 1.9 .3-5.8 3.9-1.4-3.8-2.9-.1-2.1 1.6-2.1-2.6-2.7-3.8-1.6-.5-2.2-1.2 .1-1.6 2.7-1.7-.6-.3-1.4 2.3-4.3 5.4-2.6 3.5 2.9 9.9-5.3-.6-1.4-2.1-.9-4.3 2.5-3.6-.5-8.5 1.2-.9 2.7-2 .1-1.7-2.3 .5-2.8-3.5-10 2-4.2 4.1-2.2-.6-2.8-2.9-1.2-2.2 .5-.7 2.8-4.2 5-1.4-.7-.9-5-3.4-3.8-1.1 .3 .4 4.1-1.4-.6-2.2-4.2-2.9 .7-.5 1.4 2.9 5-.1 1.4-1.5 .8-3.8-2.9 .3-4.3-3.6-1.3-1.5 2-1.1 4.3 1.7 2.8-.9 3.6 2.5 2.1-2.1 1.5-2.9-.5-3 1.8-.8 1.5 9.5 4.1-1 3-1.1 .7-5-.6-3.6-6.1-3.5 .1-.5 5.9-3.8 1-1.7 4 1 1.7 6.4 .9 2.1-4.7 2.2-.9 .8 3-3.7 5.5-4.2-.6-4.4 4.3-.6 7.1 1.4-1.4 2.1-.2 2.2 2.3-.3 1.4-4 .5-2.1-2.3-3.9 1.8 .3 1.5 2.1 .2 1.4 1.2 4.3 7.8-.7 1.6-3.6 1.2-2.3 4.3 .2 1.2 2.2 .2 2.1-1.3 4.3 1 3.5-3.9 1.4 2.1 7.9 4.1 1.4-.8 .5-2.6-1-3.5 2.6-.7 1.5 .7 .3 2.1 5 5.7-.4 .9-2.1-1.1-1.9 .9-.9 3.5-1.5 .8-1.1-.8-.7-2.8-2.4-1.4-.5 5-7.4 2.1-1.2 1.4 .3 2.9-1.2 1.6-5-.1 .7 2.7 2.9 .1 2.5 4.9 2.3 1.4 .3 1.4-4.7 0-.6-1.4-2.7-1.3-3 2.7-2.3 0-.8-2.1 3.2-3.5-4.2-1.8-2.8 1.8 .7 3.7-1.4-.7-1.5-3.5-4.6 2.6 2.7 3.5-8.7 0-2.2-1.5-3.5 .5 1.4-4.2 5.7 .3 1.4-.7 .1-4.3 2.8-4.2 4.9-.6 0-1-2.4-2 1-2.5 2.1-.3 2.4 2.8 .4 1.4-1.1 2.8 1.2 2.7 2.1 .6 3.6-1.3 1-2-.3-1.2-3.6-.6-1.4-1.7 .7-1.6 2.9-.7 1.5-3.4-4.4-.5-5.7-3.2-2.8-4.5-4.3-2.7-4.2 2.5-5-1.7-2.6 4.4-5.3 .2-1.9-7.3 3.9-.7 .9-1.4-5.3-5.7 1-1.1 2.9-.4 0-2.8-6.4-.7-4.3 1.4-2.1-3.1-1.5-.5-1.4 1.3-2.1-.5-5.7 2.5-.2 3.9-2.9 5.7 5.2-.4 2.2 6 4.2 1.9 2.1-1.1 1.5-3.4 3.5-.9 2.6 .7 .6 2.1-2.2 2.2 1.1 4.2 7.2 2.3 2.1 3.4 1.7-2.1 3.3-1 3.6 2.4 1.1-2.1-1.4-2.9 3.8-1.9 .3 1.2-2.2 2.9 1.6 2.1-.4 1.8-4.3 3.7-2.1-.5-2.2 3.5 .8 2 4.3-.3 1.1 1.2-.8 2.1-3.2 2.3-6.4-1.7-2.1-2.6-3.6-1.2-1.1-2.5 .9-2.8-3.3-3.5-3.6-.1-.4 2.2 2.4 2.8 .3 3.6 3.1 2.1-1.1 .6-2.2-1.3-5 1.6-2.8-1.8-2.1 .1-1.8-3.5 3.2-.3 2.8 1.8 2.9-1.5-4.2-7.1-2.2 1.6-1.9-.2-1.7-5.4-4.3 .5-6.4-7-2.8-.4-3.6 .8-2.1 2.3-4.3-2.2-3.4 1.5-.5 2.1 1.1 1.4 5.7 .1 2.1-1.6 2.2 0 2.1 1.9 3.5 1.1 1.5 1.9 1.6 .2-.4 2.1 1.6 3-1.4 1.1-2.1-2.1-2.6 .2 .6 5.6-3 2-8.2-4.8 .8-4.3-3.3-2.8-2.8-.7-.8-1.4-1.4 1.1-2.8-.2-2.9 2.9-2.8-.3-.8 .7 2.9 1.6 2.2-.7 3.6 .5 1.3 3.6 3.6-3.4 1.1 2-.4 2.8-5 2.9 .1 2.8-.8 1-4.2-1-.8-3.2-7.2-.3-2.3 6.4 3.1 .4 3.6-4.7 2.6 .7-2.4 3.6 1.8 5.6-10.8 0 1.4-5.6-2-1.5-.3-2.8-1-.6-2.8 1.6-2.8-1-.3-1.4 1.6-4.3-4.2-1-2-4.7 1.2-11.4 2.2-1.8 2.1 1.7 2.9 0 .3 5.8-3 2.2-2.8 4.9 6.1 2.2 1.2 3.5 1.7 1.6 1.2-4.4-1.1-5.7 1.4-1 1 2.4 3.9-.4 1.5-3.5 3.7-.4-.2-3.2-1.4-.2-8.5 4.4-1.2-3.1 1.9-2.8-.7-1.4-1.6-1.5-4.1-.8-5-3.1-5 3.9-1.4 6.2-4.3-3.1-1.7-.2-.4 3.4 2.1 2.3-1.4 1.4-1.4-1.4-1.3 1.4 2 .7 1.3 2.8-.6 .9-3.6-.4-1.2 1.7-.7 3.5 1.5 2.9 6.4 2.1 1.5 1.4-.6 4.3 1.3 1.4 .3 2.1-4.2 0-1.4-1.8-3.6 .1-4.2-3.1-2.3 2 1 2.8-4.9 0-1-1.1-5.7-1-2 2.1-7.3 0-1.3-1.6-2.2-.5-1.3 .7-.3 1.4-6.1 0 .8-4.2-.9-1.4-5.6 5.6-13.9 0-.4-.9-1 .9-5.3 0-.8-1.7-1.1 1.7-22.8 0-1.7-3.4-2.9 1.8-1.6-3.3-.3-4.3 3.3-3.6-2.7-2.8 .2-2.8 1.1-1.3 2.9-.5 1.9-2.5-2.7-.5-2.8 3.1-1.4-.7-2.6-4 1.4-3.6-3.8-4.4-1.4 1.1-1.2 5.4-3.1 2.2-2.1 0-1.5-3.6 7.5-10.6-.3-4.7 2.8 .1 2.9-1.6 .8 .5-.7 2.8 .6 1 5.7 .4 2.2-2.1 .1-2.1-.9-1.4-6.4-1.6-7.8 .5-1.3-1.1 .4-2.8-1.6 0-1.7 1.4-1 7.8-3.9 4.3-2.3 .1 5-6.5-2.9-2.5-2.7-6.1 3-3.5 .5-2.9-4.4 .2-.7 6.8-4.9-1.5-2.9 3.5-1.1-1.1 .4-2.9-.7-.2-2.1 4.5-3.3 2.8-.4 4.3-2.5 2.1 1.2 2.7 4.2-5 1.5-.5 1.4 2.8 2.1 1.1 2.2 3 3.5-.1 .8 6 1.8 2.1-.5 2.5-4.9-1.3-2.2-2.1-4.8 .2-.3-2.1 2.9-4.3-.6-2.3-1.4-.7-2 .9-.6 6.4-1.7 3.4-2.9 1.7 0-3.1 2.7-2-6.1-7.1 .6-1.9 2.3-1.7-2.8-8.5 1.2-5 1.4-.2 2.9 2.3 2.8-2.8 7.1-2.7 2.2-1.9 4.2 1.6 1.6-4.1-1-2.9 1.6-1.1 4.2 1.6 3.6-5.1 4.3 .7 .8 1.8-.8 2.3-5 .9-1.2 1.8 5.5 7.5 1.4 .2 1.9-1.3 1.9-5-.7-5.7 2.3-3.5-1.1-1.7-2.9-.8-2.1-5.4 .7-1.2 1.4-.1 2.9 4.3 2.9-.1 .4-1.4-1.7-2.9 .4-2.1-3.1-2.2 .2-2.8 1.6-2.6 3.6 4-1.5 2.9 .7 .5 3.9-4.1-.3-3-3.6-2.4-2.8 1.6-6.8-4-.3-3.2-3.6-.3-5-3.8-1.4-.1-3.7 6 4.4 .3 1.4 5.2 3.6 .5 2 3.2-.9 2.1-4.7 1.3-4.3-2.7 .5-5.7-2.5-2.1-.2-2.1-2-.1-2.9 2.6-1.4-5.8-3.5 1.7-2.5-2.7-.4-2.1 1.6-2.9-.9-1.5-4.2-.9-2.9-1.7-.8 2.7 2.9 1.3 2.1 5.8-2.4 2.1-.6 2.9 .9 1.3 5.2-2.7-.6 7.1 2.8 2.1-3.1 4.2-2.8-1.4-.5 4.3-3.1 2.1-1.5 3.6 .7 3.6-2 .9-1.2-1.6 .5-6.3-10.7-1.2-3.3-2.5-1.4-3.6 .5-2.1 2-1.9 2.9 2.2 2.1 4.1 4.6-.1 3.3 1.3 2.1 2.1 1.8-2-.4-2-2.8-.8-1.5-1.8-4.4-1.1 1.1-2.1 6.9-5.7-.3-3.6 1.5-2.1-5.5-.6-.7-3-2.4-2.1 2.7-5-1-3.5-1.4-1-1.4 .6-3.8 4.7-.1 2.1 2.1 2.8-1.2 3.6-2.7 1.2-.9-.5-.2-2.1 2.4-2.9-.7-2.8-1.3-.6-2.8 1.3 0 4.2-2.9 .9-1.3-.9-.9-3.1-4.5 3.1-.5-1.4 1.7-2.1-.3-2.1-1.4-1.5-1.9 .8-1.2 4.2 .5 2.9-2.2 4.2-.4 5-2.4 2.8 4.1 6.4 3.5-2.5 2.4-.3-.9-1.2-2.9-.3-1.6-2.1 3.8-6.8 4.2 5.7 3.2 1.1-.3 2.6-2.5 2.4-.2 5-1.4 2.8 .5 1.9 3 3.1-2.1 5 .5 3.9-2-1.1-.4-2.1-1.8-.6-1.2 .6 .5 4.1-.8 .7-1.4-.4-2.4-2.3 0-6.4-6.1-1.3-2.3-3.6-2.7-1.4 3.2-4.3-1.1-1.1-2.1 .4-2.5-5 1.8-1.8 6.4 1.8 .4-2.9-1.1-3.2-3.6-.1-5.7 1.8-1.4 2.9-1.4-3.4-1.4 .4-4.3 5.2-1.4 5.2-2.2-.7-2.8 1.7-4.5-.5 .7-2.1 7.8-4.3-1.5-3.6 .3-1.5 1.5-.5 2.8 1 1.7-1.1-.7-2.8-5.7-2.9 .3-2.1 2.3-2.9-3.9-3.5 .3-.8 6.4 .1 .6-.7-2.5-2.9-3.8-1.1-2.8-2.8-5.7-1.8-.7-2.3-1.4-.6 0-7.5 3.5 .1-.8-3.9 .8-1.3 3.6 1.1 1.4-.5-.3-4.3 5.2-4.2-.2-3.6 .8-2.1 2.3-1.4 2.2 .8 1.4-.5 .9-4.6 1.2-1.4 2.1 .5 2.2 2.4 1.5-2.2 2.8-1.5 1.4 2.2 2.8 1.3 7.8-1.6 6.5 1.7 1 1.4-3.9 2.6-10.7-1.8-1.4 2.5-3.5-4.8-4.1 4.4 5 5-.9 2.4-.8 .3-2.8-1.9-3.2 2.7-1.1 3-2.1-1.3-2 .4 1.7 4.3-1.7 2.9 .1 7.8-1.7 2.1 1.5 .8 4.2-1.6 2.2 .8 1.4-.6-.2-4.4-2-1.1-.1-1 1.6-1.2 1.4 2.1 2.1-.3 1.7 1.5 .4 1.5-1.1 2.8 2.3 3.6-.4 1-4.3 .8-3.6-1.1-4.2 .7 3.1 4.2 .1 2.9-4.6 2.2-1.5 2.8 4.3 4.4 4.1-4.4-1.4-3.6 .2-4.3 2.1-2.7 1.4-.2 2.9 2 3.5-1.6 .3 2.5 2.6 2.2 2.5-2.2-1.4-4.2-2.8-4.3 .1-2.8-2-3.6 .9-4.3-2.3 .4-2.2 3.1-2.2-2 .8-7.6 1.4-1.6 .8 .4 2.8 5 5.6-.5 1.2-5.7 6-3.6 3.6 .3 1.4-3.6 1.4-1.1 3.6-.4 2.1 1.6 11.4 3.2 5 3.8 1.7-2.3-1-4.3 8.5-2.6 2.6 3.3 .6 7.1 1.1 2.3 2.1 1.3 5 0 3.6 1.8 5.7-2.1 4.2 .9 2.2-.5 .7-3-1.1-3.5 1.1-1.1 3.5 .6 4.3-1.1 3.6 1.2 9.2-2.3 2.8 .1 3.6-1.5 5.7 1.9 4.3 4.5 5.7 0 5.7-4.4-.4-2.2-2.5-1.1-3.6 1.5-1.4 3.4-1.4 .7-2.1-1.6-2.1-5.7 3.5-2.1 4.3 .6 2.8-2.1 4.6 2.9 6.8 1.4 2.1 5 2.9 1.3 1.4-2-.7-2.9-2.5-2.8 1.1-2.8 1.4 .5 .5 4.4 1.6 .3 5.1-2.4 .7-2.9 2.8-3.6 1.4-.2 3.5 3 2.5-.6 0-1.4-4.1-2.2-.4-2.1-2.2-.2-.8-1.9 .8-1.8 4.9-1.6 1.5-2.6 4.9-1 .3-3 1.2-.9 1.3 .2-.4 2.9 1.9 2.9 1.4 .1 2.2-1.7 2.1 1.1 2.1-1.7-.7-1.4-2.8 .3-1.4-1.3-4.3-1.2 1.4-7.8-1.5-2.8 .8-1.1 3.6 3.1 6.4 .1-.2 5 4 1.4-.3 1.3-3.5 2.9 .7 1.2 2 .3 1.5-2.5 2.2 1.2 1.8-.9-1.6-4.2 1.2-1.3 1.4 .3 1.4 3.1-2.1 5.1-2.8 .2 .3 2.5-4.5 1.4-.2 1.5 3.3 3.5 4-1.4 2 7.3 2.2-1.1 2 1.6 .3 1.4-6.6 1-1.1-1-.4-2.8-1.3-.6-2.2 1.1-2.8-.5-.1 3.6 3.2 2.8 2.6 .8 3.5-2.5 5 1.1 2.9-1.6 1.7-4.2-.8-2.8 2.6-1.7 .2 3.8 3.9 2.1 .9 3.2 2.8-1.7 2.3-5.7-2.4-4.3-.6-5.7-5 1.3-1.6-2 .1-1.4 2.3-3.1 2.1 1.4 3.1-1.9-1.1-2.8 1.1-2.2-.1-2.8zM242.9 39.5l-1.7 3.5 2.5 2.7 4.4-4.1-3-2zM204.2 50.8l-2.3 3.6-1.6 .6-2.1-3-2.2-.5-1.2 .8-.4 2.8 1.3 2.8-2.2 3.6 2.5 3 2.2 .5 1.4-1.7 3.2-1.1 2.5-4.9 3.4-.8 1.1-4.2-3.1-2zM258 52.3l-.1 2.1 1.5 .1 .5-2.2zM288 62.2l1.9 1 1.2-2.4zM204.6 62.2l0 2.9-3 2.1-1.1 5.7 .2 2.8 3.3 4.3-1.6 2.5-2.1 .1-2-1.2-1.2-6.4-1.8-1.4-7.1 .7-2.8 3-1.2-.2-.4-4.2 .8-1.2 3.6 .3 1.4-1.5 2.9 1.4 1.8-1.2 .2-1.4-2.8-1.4-1.4-3.3-2.2 3.3-3.5 .2-1.4 1.4-2.8 .6-.7 2.1 .5 2.8-1.8 2.9 2.5 3.5-6.6 5 1.8 3.9 4.3 1.1 1.4-4.7 2.8-.8 2.9 .9 1.3 2.4-.3 5-1 .9-1.4-2.8-2.9-.3-1.3 .8-.4 2.8 1.2 2.9-.1 2.8 2.8 2.8 1.3 3.6 2.2 1.3 1.4-.6 2.5-5.7 2.8-2.1-1.1-7.1 3.1-.7 .6-4.3 4.8 0-.2-3.5 1.8-.9 5.7 .8 2.1 3.4 6.4 .9 3.9-3.5-.3-.7-5.7 .6-.8-1.9 7.3-2.3 0-2.8 1.8-4.3 2.5-1.4 0-1.4-1.6-1.6-5.4 1.6-1.7 1.4 0 3.2-1.4-.2-1.3 2-1.4 0 .7-4.3-1.6-1.1-3.5 .3-2.7-9.9-1.6-1.2zM286.3 65.8l-.3 1.4 1.8 2.4 2.5-.3-.9-3.5-1.6-.6zM232.2 67.9l-.9 .7 .1 2.1 2.3 1.5 1.3-2.2zM62.6 72.2l-1.4 1.4 .3 1.1 2.4-1.1-.2-1.3zM229.1 73.6l-.3 1.4 2.8 1.4 1.4 2.5 3.2-.3 .2-2.2-1.2-1.7zM47.6 74.3l-2.7 4.3 2 4.2-.9 2.9 2.7 3.6 2.9 .6 0 .8-1.4 1.5-5-2-3.5 6.1 .6 1.1 2.9 0 5-3.5 4.2-1.6 2.7-3.1-.5-1.1-3.6-1-.9-2.1 .3-1.5 2.7-1.4-3.5-.2-4-4 3-2.2-.1-1.4-1-.6zM55.2 76.4l1.3 5.7 2.9 1 4.1 3.3 1.3 0 .3-.7-2.1-1.4-.3-4.3-3.3-.9-1.4-2.7zM157.5 76.4l-1.5 1.5-.5 4 3.5 .6 .7 3.4 2.9-1.3 3.7 1.8-.1 .7-3.6 .9-3.6-1.5-2.8 1.8-2.2-1.4-1.3 1.6 .8 3.6 6.9-1 5 2.7 4.2-1.7 .2-3.6 2.5-1.4-1.8-2.8 .5-2.2-.6-1.6-2.1-.9-4.3 1.6-2.7-4.8zM457.9 77.9l-1.7 1.4-.4 2.1 .6 1 2.5-2.4 0-1.4zM67.2 83.5l-1.3 2.2 .8 .7 3.4 .7 2.1-.7 .6-3.6 2.4-2.1-3-2.5zM225 81.4l0 3.6 1.5 2.1-1.3 3.1-3.6 .2-2.8 3-3.6-1.1-2.8 1-1.1-1.2-.3-2.8-2.2 1.2-4.2 0-2 3.7 1.3 3.2-1.5-.6-2.1 1.7 .6 3.5-.6 3.1 4.3 2.4 1.1-.5 1-5-2.1-1.4-.2-1.4 3-1.4 .8 1.4-1.5 2.8 2.8 1.1 2.9-.1 5-2.2 .7-3.5 2.8-.8 2.1 .6 1.5 1.7 3.5-2.2 2.2 1.7 5-1.9 3 2.1 1.1 2.1 .8-.2 1.2-1.9 .3-4.9-10-1.8-.9-3.3-3.9-2.8 2.1-5.7-.9-1.2zM247.1 79.3l-2 1.4 .4 .7 3.6 0 .3-2.1zM11.7 80l-1 5-1.7 2.1 .2 2.1-2.7 2.2 .3 1.6 3.5 .2 1.4-1.1 .4-5 1.9-2.8-2-2.2 1.3-2.1zM238 80l.5 1.4 1.4-.7-.5-.8zM413.4 80l-1 .7 .8 4.3 6.1-.7 1.2-1.5-1.1-1.7-4.2 .4zM423.3 80.7l-.6 .7 1 1.2 2.4-1.2zM242.4 81.4l-.9 1.4-2.8 1.1-2.1-1.9-1.4 1-.8 2.2 2.3 1.2-2 2.8 1.2 1.9 4.2 0 1.5-1.2 .7-7.1 2.4-1.4zM76.9 83.5l-.8 3.6-3 3.6 2.3 2.8 0 1.4-1 .8-5.7-.9-.7 2.3 3.5 3 5.7-.2 6.4 2.1 3-4.9-.9-.9-2.8 1.1-1.1-2.4-3.2-2.8 .8-6.4zM81.1 85.7l1.1 1.4 1.7-.7-1-1.2zM148.3 86.4l-3.4 2.1 .7 2.9 1.3 .9 2.2-.2 .9-2.9-.1-2.1zM255 86.4l-3.8 5-3.9 1.5 1.4 4.2-2.1 4.2 1.4 1.5 2.8 .5 1.5-1.3-.1-10.6 2-1.5 1.1-2.1 3.2-.7-.6-1zM39.9 87.1l-1 1.4 .6 .9 4.3-.4-.8-1.6zM265 88.5l-2.9 5 2.2-.7 1.5 .5 .6 4.5 1.5 1 1.4-2.1 3.1-1.1-2.8-2.8-1-3.7zM422.1 88.5l.9 2.9 .5-1.5zM66.3 89.2l-2.6 1.9-1.6-.4-.6-1.4-.6 .6-1.9 4.3 .4 2.1 4.3 .6 4.3-3 .7-2.5zM134.1 91.2l-4.2-1-.8 .6-.5 2.7 2.7 3.9 1.4 .3 2.8-6 3.2-1-1-1.2zM85.3 92.1l.4 1 3.7-1.7-.8-1.4zM122.5 90.7l1.4 4.2-.3 2.9 2 1.2 2.5-.5-.7-5-2.5-2.8zM350.1 91.4l.1 1.4 1.4-.7-.5-1.3zM484.3 92.8l-2.7 4.3 .2 2.1 2.4 1.2 2.8-1.7 2.3-4.5-.8-1.5zM174.7 93.5l-.2 1.4 3.5 .7-1.9-2.7zM347.6 94.2l-2.4 2.9 .1 1.4 1.6 1.2 2.1 .1 1.6-2-1.9-3.6zM395 94.2l.3 1.4 1.4-.3-.7-1.7zM260.7 94.9l-4.2 1.4-.8 2.2 2.9 0 2.2 2.5 2.1-.7 1.4-2.5zM276.6 95.6l-1 1.5 .8 3.5 4 0-2-4.3zM327.3 97.8l0 2.8 3.9 .8 1.4 3.4 2.9-.6-.2-5.7-3.4-2.4zM410 97.1l-2.3 2.8 1.8 2.5 1.4-1.1 .8-2.8-.5-1.4zM49.6 98.5l-.7 1.4 1.3 2.5 4.9-.9-.7-1.6zM339.4 99.9l.4 2.8 3.2 2.9 .3 8.8 2.9 1 2.1-.5 1.4 1.9 2.2-.2 .8-1.1-.1-1.8-4.3 0-.8-1.7 1.5-3.1 3.2-.5-.3-2.3-4.3 .7-1.3-1.2 .2-2.9-1.1-1.8zM170.6 100.6l-2.4 2.9 2.9 2.8 3.2-1.4 .7-3.6zM417 100.6l-.6 2.1 .6 1.5 4.6 1.4 .4-1.4-1-1.5-2.3-2zM222.3 102.7l.3 2.2 3.3 .5 1.1-1.2-.1-1.5-2.4-1.7zM84.6 103.5l-1.9 4.9 2.3 3.8 1.7-.9-.3-2.9 1.5-2.8-.7-2.2zM161.1 107.7l2.2 1.5 2.4-3.6-.3-1.8zM94.9 104.9l.4 2.1 2.4 2.8 3 1.8 2.2-.3 1.3-3.8 2.9 2.1 1.3-1.2-.6-1.5-5-2.2zM336.5 105.6l.4 1.9 1.4-.3 0-1.8zM176.7 106.3l.1 1.6 1.4 .3 0-1.5zM220.8 106.3l-2.4 2.8 .4 4.3 4.3 2.3 1.4-1.4 .8-3-2.5-1.5-.7-2.8zM211.4 107l-1.3 1.4 1 4.3-1.6 2.8 .8 2.5 1.4 1.2 6.4 1.7 1.3-3.2-2-2.9-1.5 2-1.4-.2-1.4-9.4zM112.3 107.7l.6 2.9 1.3 .6 1.4-.6-.7-2.4zM415.3 107.7l-.1 2.9 3.4 1.4 1.2 2.1 1.1-.4 1.6-3.1-.9-2.7-2.2 .3-2.8-1.2zM91.8 108.4l.3 1.5 1.4-.8-.6-1.1zM468.4 112.7l-.8 1.4 .9 1.1 1.2-1.8zM107.1 113.4l-1.1 2.1 2.5 3.9 7.1-1.3-.6-1.9-4.4-2.9zM501.9 116.2l.4 1.5 1.8 .3 1.6-1-.9-1.4zM508.2 115.5l.1 1.5 2.2 .8-.4-2.3zM388.8 118.7l1.1-2.5-1.1-.6zM412.5 116.2l-.7 2.2 2 1.3 2.4-3.5zM336.4 117l-.5 8.5-3.3 2.9-.7 2.8 4.3 3 1.4 3.3 2.2 .5 2.1-10.2 4.3-1.6-1.5-4.1-4.2 2 .6-2.9 2.9-1.6 1.4 1.8 2.2 0 1.2-3.7-1.9-1.4-2.2 1.2-7.1-1.1zM419.3 119.1l.1 1.4 1.6-.7-.8-1.2zM463.4 119.1l-1.3 1.8-2.8 1-2.5 2.9 1.1 3.3 9.5-1.9-.3-6.4-.7-.8zM388.7 120.5l-3.7 4.3 3.9 1.4 .1 1.4-1.6 1.9-3.5-.2-1.9 1.2 .1 1.4 1.8 1.3 5.7-.5 1.4-1.3 .1-3.1-1.5-2.8 .1-4.3zM413 123.1l-3.5-1.3-.2 1.6 3 1.5 4.9-2.3-.7-1.4-2-1.3zM72.9 123.4l-.5 1.4 2 1.8 3.3-1.1-2.6-2.1zM129.9 124.6l-3.6-.4-2.7 1.3 1.7 4.3-1.1 1.6-2.1 .5-.2 2.1 2.7 5 2.6-.7-.1-3.6 3.1-4.2 4.6-2.2 .7-3.2 2.4 .4-1.6-2.1zM220.9 125.6l-2.8-.6-2.9 3.7-4.9-1.3-1.7 3.1 2.1 3.5-.8 2.9 .6 .7 1.9 .7 3.5-.8 2.2 2.1 2.8 .7 2.2 2.4 3.2-3.7-1.7-1.4 .2-2.2-1-1.7-3.6-.7 0-2.2 .7-.6 3.6 1.2 2-1.6 .8-2.2 3.4-1.4-4.1-1.3-2.1-2.1zM285.2 125.5l-.5 .7 1 1.3 .7-1.3zM478.5 127.6l-3.5 2.2 .4 2.8-1.2 2.1 1.5 2.3 1.4-.6 4.4-7.4 .1-3.5-1-.6zM273 126.2l-.8 .7 .7 .9 1.2-.9zM292.5 126.9l.1 2.9 .9 .9 1.4-1.2 .2-1.9-1.6-1.2zM174.9 129l-5.2 3.1-6.2 1.9-1.3 1.4 8.2 4.9 2.1-.4 2.9 1.1 6.4-1.6 .8-2.5-4.5-1.5-.3-5.6-1-.9zM181 129.8l2.2 5.2 1.4 0 1.6-3.1zM349 129.8l-.2 .7 1.6 1 1.3-1zM40 131.2l-1.5 3.5 1.4 2.2 .3 4.2 3.6 .2 1.2-1.6-.8-3.5 .5-2.9-3.1-2.3zM287.1 131.2l-1.7 3.5 1.7 1.2 2.9-2.6zM409.3 133.3l1.6 1 1-1-.1-1.4-.9-1.3zM132 132.6l-1.2 1.4 1.9 2.5 3.6-.3-.5-2.2zM427.1 136.9l-.5 2.4 1.7-1.7zM117.2 138.3l-1.3 4.3-3 2.1 1.1 4.3-2.3 3.5 7.5 .7-2.4-3.5 3-2.2-.9-4.9 3.1-1.2 .9 4 9.1 6.4-1.9 4.3 2.6 8.3 .7 .6 4.1-.4 .8-1.4-1.1-3.6 3-2.1 .5-1.4-2.5-2.9-.5-3.4-6.4-3.9-4.3 1.2-.7-5-5.5-3.8zM431.9 138.3l-1.6 1.4 2 1.4 4.9-1 1.7-1.8-3.8-.7zM210.9 141.1l-1.3 2.2 .2 4.2 4 5.6 7.1 .5 2.2-1.8 3.5-.7 .1-1.4-3.6-4.4-1 .8-.5 3.6-3.5 1.3-1.4-3.9-3.8-1zM374.8 152.5l2 3 1.5-.1 .2-1.5-1-1.3zM111.9 156.1l-1.5 2.1 1 2.1 4.2-1.7 2.9 3.1 4.6 1.5 1.8 1.7 2.9-1-.1-2.7-2.1 0-1.8-1.6-.3-3.5-.9 0-.6 2.1-1.4 .7zM215.3 157.5l-2.7 1.4-3.8 5 .7 1.8 4.3-.4 1.7 .7 .7 1.4-1.6 5 .6 .8 3.5-.8 1.3-3.5 3.8-.3 1.8-4.7-2.5-4.7-5-1.8zM154.4 158.2l.5 6.4-2.5 7.8 1.6 3.6-1.4 4-1.7 .9 1.9 2.9 5.5 3 3.8-3 .4-7.1-2-6.4 2.9-1.4-2.3-3.6 2.3-3.5-3.7-4.2zM142 161l1.4 1 .1-1.7zM254.9 161.8l-1 .7 .5 1.1 1.1-1.1zM140.9 165.3l-1 1.4 1.3 1.2 .9-1.9zM349.6 166l.1 1.2 2.2 1.4 2.1-.4-.7-1.8zM362.6 166l-.7 1.4 2.3 .8 0-1.5zM137.7 166.7l-3.6 1.9-2.1-1.8-3.6 1.4-2.2 2.8 0 1.4 1.9 1.4-1 2.9 1.6 2.8-.1 3.6 5.2 4.2-.8 2.2-4 .7-.7 2.8 2.3 1.5 2.1-1.4 .8 .6-2.2 2.3-.3 4.9-1.9 3-4.4-1.6 .2-1.3 2.2-1.6-2.2-5.7-2.9 2.2-1.5 2.8 .7 2.2-2.7 1.6-.7 3.3 5.7 3.6 7.8 0 .8-1.4-.7-5 3.4-3.4 2.6 2-.4 4.8 1.4 .9 .7-.6 .2-4.4 2.2-5-4.2 0 1.2-7.8-2.6-4.3 .9-3.5-3.1-1.5-.7-1.4 1.7-2.1 .2-2.1 2.8-1 .6-1.2 .6-2.1zM479.8 168.2l-.6 1.4 1.4 1.1 .6-1.1zM115.5 174.6l-1 2.1 .4 1.3 2.1 .6 0 6.3 2.9-1 5 1.1 2-.5-1.3-1.2-3.4-.2-.9-4.4-3.5-1.1zM208.7 177.4l-2.8 2.8 1.5 2.6 4.3-2.5-1-2.9zM197.6 178.8l-.2 1.4 .8 .4 1.1-1.8zM292.1 184.5l-.8 2.1 1.5 3 2.2-3-1.5-2.3zM286.6 185.2l-.4 2.1 1.6 1.4 1.2-2.8-1.2-1.2zM262.9 188.1l0 4.9 1.4 2.7 1.5-.1 1.1-1.9-2.3-4.9zM399.3 188.1l1.6 2.6 0-2.7zM148.3 193l-.3 1.5 1.1 1.5 2.1 .3 1.2-1.1-1.6-2.2zM154.8 195.2l1.9 1.4 .2 2.7 1.4 .7 .8-.6-2.2-2.8 2.1-3.6-.7-.6zM302.9 196.6l-.1 1.4 1.4 1.8 3-.4-1.6-3.1zM195.7 200.1l-.4 2.2 1.4 1.2 .9-1.9zM391.3 202.3l-1 2.1 1.4 1.1 1.4-.2 .7-2.7-.7-.8zM473.4 205.1l.4 2.2 1.9 1.1 1.9-.4 .8-1.5-.5-2.1-1.5-1.2zM292.1 31.5l1.8 .1-1.8 1.3zM215.2 32.2l2.7 2.3-2 2.4-1.9-2.4 .1-1.4zM124.9 33l1.4 3.3 2.5 1.7-1.8 2.8-5-4.2zM131.3 35l1.7 .2-.3 1.8-2.3-.4zM9.6 38.7l2.2 0 2.1 3.6-.2 10-4.6 1.4-1.4 4.2-3.1 1.5-3.1 4.2 6 .1 4.2-2.1 1.9 3.5-4 4-2.8-.6-2.9 .6-3.5-1 0-10.4 5.3-4.7 0-2.9 1.9-3.5-.4-2.9zM168.3 39.3l1.4-.1 2.7 4.5-.6 2-1.4 .1-2.1-1.9zM224.5 42.9l3.3 .1 .5 1.4-.8 5.7-3 3-1.9-2.3 .5-.9 2.1 .9-1.8-6.4zM292.1 48l1.4 .6-.3 .8-1.5-.7zM.4 48.4l1.4 1.7-1.4 .4zM151.9 48.4l1.4 .4 1.5 2.7-1.5 2.1-1.7-2.1zM500.6 49.8l3.1 1.7-.3 3.2-4.3 0-2.1 2.7-2.1 .2-1.2-1.8 .5-1.9zM232.3 52l3.6 3.2 2.8 .6 0 2.3-1.9 .6-1.6-2.7-1.7-.2-1.9-2.8zM508.4 52.4l1.9 1.3 .2 1.3-2.1-.6zM59.4 56.7l1.3 1.2-.6 .5-1-.5zM486.3 57.9l2.2-.3 .3 1.8-2.5 1zM63.7 59.3l1.4-.6 2.9 1.4 0 2.6-2.2 .3zM505.5 58.8l5.9 2-5.9 3.5 .8 2.9 3.4 2.1-2 2.7-4.5-2-.8-1.4 .3-3.5-1.1 0-1 2.1-3.4-2.9 2.6-3.9 3.6 .9zM494.2 61.4l2.4 2.2-4.7 5.7 .1 3.6-1.4 1-2.1-.2-.9-1.5 .5-3.6-2.5-3zM312.7 62l.6 1.6-.6 1-2.8 1.8-2.3-.6 .8-1.8 2.9 .1zM334.8 67.7l1.9 .9-1.1 3.6 1.3 1.4 2.9-.3 2.1-5 2.8 4.4 7.9 .9 .1 5.7-2.4 2.8 .1 2.4-5 2.6-1.5-1.4-.6-3.8-5-.5-2.5-4.3-4.6-.7-.8 .7-.1 3.6-10.5 1.4-.6-2.1 2.1-6.2 5.3-1.6zM341.2 75l-1.1 2.1 1.1 1.7 6.2 1.2 .2-1.6-2.2-.8-2.1-2.9zM203.9 68.5l2 1.5 .1 2.7-2.1-.1-1.2-1.1zM477.1 68.5l4.2 1.3 2.3 2.4-.1 1.4-4.3-.3-1.1 2.4-1.7 .6-1.2-2 1-1.4-.3-3.6zM369.6 69.3l8.6 .7 5.7-.8 2.4 2.3-1.7 2-12.8 1.1-4.3-2.4 0-1.7zM5.3 69.9l3.6 .5 .6 3.2-2 2.5-3.6 .4-2.7 4.2 .1 2.1-.9 1.4 0-12 2.8 1.4 .3-2.1zM39.5 69.9l2 .1-1.3 2.3-1.1-.8zM469.3 72.2l1.4-.3 .7 1-2.1 2.3-.9-.9zM309.2 72.9l1.4-.5 2.2 1.2 .1 3.5-3.8 .8zM499.1 72.6l2.9 1.8 .9 1.3-.4 1.4-9.8 4.5-.3-1.6 2.5-2 .5-3.7zM35.2 75.1l1.5 .6-.1 2-1.5-.6zM193.2 78.5l1.7 2.2-.9 3.6 .8 1.4-.9 .7-2.5-2.1 .4-4.3zM299.2 78.3l1.7 1-1.6 3.5-1.5 .5-.9-1.2zM482.1 78.5l1.9 .8-.5 2.1-1.5-.7zM282.1 79.1l5-.1 1.2 1-4 2.1-2.2-1.1zM304.2 79.2l1.1 .1-.4 2-2-.6zM464.3 80.5l1.1 .9-.4 .9-1.3-.9zM477.8 81.4l2.8 3.6-.7 2.2-3.3-3.7 0-1.4zM181.8 81.9l2.1-.5 .9 .7-1.6 1.2zM467.8 83.4l1.9 .9 .1 1.4-4.1 3-.6-.9zM192.5 88.4l.9 .8-.2 2-4-2zM437.2 91.8l4 1.7-.4 1.7-4.1-2.4zM.4 102.7l2.8 .2 1.3 1.3 .4 2.8-1.9 3.6 3.1 2.8-5 4.9-.7 0zM492 110.4l.8 .9-1.5 1.3-.2-1.3zM60.1 112.6l4.3 1.7 2.2 4.1-1.5 .9-5.7-.4-4.3 3.5-1.5-1.9 .1-2.8 1.4-1.4 4.3 .2zM7.5 118l2.1 .4 .1 1.4-1.5 5-2.9 .9-1.3-1.6zM90 121.5l1 2.6-1.7 2.8-1.4 .5-2.2-2.1 2.4-1.2zM.4 125.2l2 1-.6 1.9-1.4 .6zM81.5 127.4l1.4-.2 2.1 2.5 2.9 1 2.7 3.3-.1 2.9 .9 .9 3.6 0 3.5-3.5 2 1.1-9.5 9.3-.1 2.8-1.4 1.5-1.6 .5-3.6-1.3-2.1 .3-2.9 1.7-3.5 5-1-7 1.9-5.6-.5-3.6 1.7-4.3 0-3.3 2.9 .9zM79.7 134l-.7 1.4 2.7 2.9-1.1 4.3 3 .8 2.9-1.8 3.5-.5-.8-1.4-2.7-.7-1.6-2.1-2.9-.7zM364.7 129l9.2 .8-1.1 3.5 .2 5.7-2.6 2.5-1.3-1.8 1-3.5-1.9-1.3-1.4-2.9-4.3 .3-2.1 6.1-2.4-1.5 .2-2.2 2.2-2.8zM104.2 129.4l2.2-.1 .9 1.2-3.1 1.1-.8-1.1zM.4 134l3.5-.1 .5 4.4 1.4 2.8 .1 1.5-3.5 2.8 1.5 .1 2.1-1.7 1.5 3-.6 1.4-6.5 3.3zM11 134l2.9-.2 .9 2.4-1.6 1-2.9-1zM489.9 135.9l2.1-.3 2.9 1.9 1.8 4.3 2.3 2.2-.9 5.7 3.9 .5 1.7 1.6-2.1 3.6 0 6.4-2.4 2.8 1.7 3.6-1.1 1.5-3.3-2.3 .5-3.5-1.8-7.1-5.6-3.6 2.5-6.4 .8-5-.3-1.4-3.3-2.8zM18.9 136.9l3 0 2.5 2.1 .2 1.4-1.5 .6-4.2-1-.8-1.7zM56.6 136.7l2.1 1.4 3.6-.3 3.8 4-3.1 1.2-1.5-1.3-5.6-1.3-2.2-1.4zM13.9 140.3l3.5 .3 6.4 5.1 1.9-1 1-2.6 1.4-.5 5 1.9 1.8 1.9 .7 2.8 4.6 5 .6 5-1.3 .5-5.7-1.8 .8-3.7-1.5-1.8-.4 3.2-2 2.2 .3 1.9 .7 1.4 2.1-.5 3.8 2.2 .3 2.1 2.3-2.2 2.1 1 2.1 3.3-.9 3.6 1 .5 2.1-.7 3.4 5.2 0 2.1-3.6 2.1 1.6 .7 3.6 1.1 3.5-4.6 5 .3 2.9-5.3-1.5-1.9-2.1 1.3-1.9-.8-.2-2 3.5 0 .6-.9-5.1-1.4-2-3.5-3.4-1.8-1.4-4-3.5 .8-2.2 2.2-1.8-.1-.3-.7 2.7-2.1-.2-3.6 3.8-1 5 .6 1.4 3.6 2.9-.2 4.2 3.2 3.6-.5 1.9 1.4 1.5 5-1.7 4.3 0 6.4-3.1 2.6-4.2 1.6-.6 1.4 .9 2.2-1.1 2-2.8-.4-1.5-2.9-2.1 0-1.4 2.6-2.2 1.2-2.5 3.2 2 2.1 0 1.4-4.4 .4-4.6 3.9 5.3 2.7 7.1 1 5.7-4.7 1.4-.3 2.4 1.3 .6 6.4-4 2.8-.6 1.5 2.1 5.6-6.4 0-2.6-2.7-2.2 .7-.7 2-16.6 0 2.1-2.8 .3-4.3-4.3 3.3-3.5-.8-.3 1.8 1.2 2.8-16.2 0 1-2.1 5-1.5-.3 1.5 1.3 .7 4-5.2 5.3-1.9 .4-1.4-1.4-2.4-2.9-1.8-1.1 .6-2.4 5.7-5-.3-3.6 5-2.1 1.3-1.4-.2-.4-1.5 2.1-3.6-.3-3.3-1.4 .8-1.5 3.7-4.9 2.5 0-5.4 1.4-1.8-1.4-1.5 0-7 2.8-1.5 3.5 0 .2-1.4-2.6-2.1 1-3.2 1.5-.6 2.4 1.6 .6 3.6 3.5 2.8 1.3 2.6 1.4 .1 1-1.2-.9-3.6 1.7-7.8-1.8-1.7-3.5 1.1-2.6-2.3-1.6-7.1 2-4.1 3.6 1.3 2.6-2.1 2.4 0 8.5 6.1 3.6-1.3 3.5 1 3.6-.5 2.3-1.8-.9-3.6-3.2 .8 .2-4.3-2.7-.6-2.1-3.5-4.3 .8-3.6-3-1-2.2 1.9-1.5-1.5-1.4 1-3.5-.4-1.6-4.2 .1-3.6-2.8-4.5-.7-.3-2.1zM16.4 176l-1.1 1.4 2.8 3.3 1.5 .4 1-1.6-1-2.5-1.5-1.1zM26.2 176l-2.4 2.8 1.5 5.7 3.5 2.3 4.3-1.9 1.2 3.2 3.8 3.4 2.8-.1 .4-1.9-4.4-3.6 3.3-1.6 3.6 .8 2.1-5.7-5.7-.5-4.3-2.6zM22.5 191.6l-2.9 .1-1 1.3 2.4 1.6 2.1 0 2.5-3.7-.3-1.4zM28.2 198l1.3 1.4 1.5-.1 2.1-4.4 1.4 .6 1.6 4.6-1.9 3.6 .3 1.4 4.3-.4 5.7 3.2 2.8-1.6 2.2 2.4 1.4-.5 .3-1.7-1.3-2.8-4-.9-3.6 .4-4.1-4.5-.1-2.8-7.1-3.3zM9.2 195.9l-1.1 2.8 2.2 2.2 1.4-1.5 0-2.1-.7-1.5zM375.3 139.9l.7-.1 0 2.2-.7 0zM483.5 140.9l2.8 .2-.2 4.3-5.5 2.4-.7-3.1zM359 141.6l1.5 .2 .3 1.5-1.1 1.3-1.9 .1-.5-1.4zM63 144.8l3.3 2.7 .9 2.6 1.4-.4 .8-1.8 2.1 .3-.7 7-8.1 .2-.1-3.6-2.3-2.1zM363.9 145.4l2.2-.7 1.1 .7-1.8 2.9-2.2-.8zM53.7 148.2l5.3 1.5-1 3.7-3.7-1.6zM487 147.8l1.9 1.2-1.9 2.8-.9-1.4zM511.9 149.9l0 9.9-2.1-2.3-1.8-4.3zM8.2 150.7l1.3 1.1-.1 2.8 4.1 2.9 1.1 2.6 2.1-.9 3.6 1.8 4.2-.2 .4 2.4-1.1 2-4.2 0-2.9-.9-5.5 1.7-1.6 2.2-2.8-1.8-.4-3.9-4.5-5.7zM19.6 150.7l1.2 1.1 .8 3.6-4.4 .7-.5-3.6zM.4 154.1l1.2 2.7-1.2 .2zM388.1 157.2l1.5 .3 2.8 3.8-5 1.6-1.3-.4 1.9-2.2-.7-2.1zM410.2 161l5 .3 1.5 1.9-.3 1.4-1.9 .9-2.9-.6-1.8-1.7zM511.9 160.5l0 3-.8-1zM.4 163l2 3-2 1.9zM488.5 162.5l2.6 1.4 .6 2.1-3.9-2.1zM47.3 163.5l3.3 .4 .3 3.2-4.3 .6-1-1.7zM511.9 165l-.6 4.6 .6 1 0 39.6-3.5-2.7 .6 3.3-1.4 2.1-.9 0-.6-2.8-3.8-5.7 .4-1.8 2.8 .5 .7-.8-.7-3.4-2.8 .8-2.1-1.1-5-.6-2.2 2.7-2.8-2-2.8 .3-1.2-1.7 1.9-1 .5-2.6-3.5-2.8 1.1-5 2.7-2.1-.8-3.6-2.6-2.1-.3-3.1 3.6-.6 2.6-2 5.2-1.5 5 2 2.1-.2 .8-1-.1-7.8zM24.5 165.8l6.5 .8 1.1 1.6-6.8-.4-1.3-1.1zM429.4 168.8l1.3 2.2 5.1 2.4 6.4-.2 2.9-1.3 7.1 1 2.4 2.4 .2 2.8-1.2 1.4-3.6-1.1-7.1-.1-4.2 1.9-2.2-.7-7.1 1.1-5.7-2.7-3.5 .6-2.2-6.5 7.8 .1zM89.3 169.4l1.4-.4 2.9 1.3-2.9 2.5-1.8-1.1zM373.2 172.2l5.2 3.1 1.5 4.2-1 2.4-1.2-.2-1.7-4.2-4.1-2.2 .2-2.2zM.4 174.5l2.5 1.5 .9 5.7-3.4 5.7zM287.8 174.4l1.4 .1 .4 1.5-1.8-.2zM347.6 177.2l3.5 .2-.2 3.5-4 0-.4-2.8zM66.5 179.4l1.5 .2 .7 2.1-1.9 7.8-3.8 3.7-3.6-.2-.8-1.4 2-2.1-1.2-3.9 3.6-.1 1.1-4.6zM361.8 179.1l5.7 4.3 2.9-2.6 1.4 0 4.2 6.7 3.6-.9 1.3 1.5-1.3 1.5-2.8 .6-5-4.3-3.6 .8-8.2-5.8-.4-.7zM437.9 182.9l3.6 2.7 2.1-.8 .7 .7-6.4 2.3-.7-3.3zM479.9 184.3l2.5 .2 .1 2.1-1.9 .8-3.2-.8zM50.9 186.5l2.1 .1 2.5 2.9-2.5 .4-2.4-1.8zM449.3 190.1l.7-.4 1.2 1.2-1.9 2.7zM83.6 190.7l2.9 .7 1.2 2.3-1.2 2.9-2.5 1.4 1 2.5 3.6-.1 .7 2.6 5 4.3 1.4-.3 1.4-2 3.6 .3 3 2-.3 2.1-2 1.6-2.9-2.5-2.1-.4-1.4 3.3-2.9-1 0 2.5-5.3 0-.3-2.1-2.9-2.7-5.7-1.3 .4-1.7 2.6-2.8-.1-1.6-5 2.2-2.2 2.5-2.1-1.1-2.1 1.7-2-.9 .6-4.5 3.5 1.4 1.4-1.3 1.5-5.2 7.1-2.9zM97.8 190.8l2.2-.3 .7 2.6 3.2 .6-1.1 4.4-3.5 .7-3.6-1.5-.1-1.4 2-2.2zM437.2 191.4l1.3 1.6-2.9 1.5 .3 3.5-1.5 6.5-1.4-.8 0-2.1-1.8-2.2-.6-2.8-1.9 0 1.5 2.8-1.3 2.9 .8 2.1-.9 4.3 1.6 1.4 .6 2.8-6.3 0 1.9-.9 1-1.9-3.2-2.9-2.7 .8-.6 2.1-3.1 2.8-2.5 0 .6-4.9 3-2.2 .3-6 1.5-.7 3.5 2.9 1.9-.4-.5-2.3-2.5-2-.1-2.1 1.9-1.1 10-.9zM415.9 193.6l4.2 1.6 .1 1.8-1.5 .4-2.8-1.2-.8-1.7zM440.8 194.4l3.1 .8-2.4 .2zM219.5 195.1l1 .1 .4 1.4-.4 2.8-1 .8-2.4-2.9zM448.6 194.8l1 4.6 2.6 1.9 1.2 4.5-4.8 2.2-.9 2.1 .6 2.8-5 0 .5-7.8 3.5-5-.5-3.5zM412.7 196.6l.4 1.4-2.9 5.3-1.5-2.4-3.3-2.2 1.2-2 2.9 .9zM280 197.1l2.1 1.6-4.2 3.5-4.8-1.3 1.2-3.2zM453.6 198l1.8 1.4-2.5 .3zM351.9 199l2.1 1.1 .1 2.9-1.5 .9-3.6-.1-.2-.8 1.6-1.2zM107.8 199.8l3.2 2.5 .8 1.4-.7 2.1-3.3 .7-1.9-5.6zM94.3 200.5l2.2 1.1-.5 2.1-2-.7zM494.2 201.3l1.5 1.7-2.3 2.7 0 6.5-3.9-2.1-.9-2.8 4.2-3.6zM257.2 202.8l2.2 2.9 3.2 .1-1.3 4.3 4.5 .4-.5 2.4-5.6 0-2.4-2.1-1.4-6.4zM356.1 204.3l1.9 .1 .8 1.4-2 3.2-2.3-1 1-.7zM223.8 205l3.5 2.8 4.3-.7-.5 5.8-4.5 0 0-3.5-6.3-1.4 .6-1.8zM457.2 205l1.4 .4 1.4 1.8 2.8-1.5 2.9 .4 5.5 6.8-18.7 0 1.6-6.4zM271.4 205.6l.8 3.1-1.5 1.3-1.3-2zM499.1 205.8l.3 1.5-1 .2-.5-1zM373.9 206.1l2.8 1.2 .3 2.8 4 .7 .7 2.1-11.2 0 2.5-2.8zM410.9 205.9l1.9 1.4-.8 5.6-8.1 0 0-3.5zM301.3 206.9l-.1 3.9 2.9 2.1-11.3 0-.7-1-2.8 .3-.1 .7-9.9 0 0-1.4 1.4-2 3.6 1.5 2.2-.2 4.2-3.1 2.8 3zM434.4 206.7l3.7 2 .2 2.1-1.1 1.8-4-2.5-.2-1.4zM60.1 207.8l8.6 .4 1.7 2.6-1.1 2.1-5.9 0-3.7-2.8zM362.5 207.8l1.4-.4 .5 2-3.3 2.9-.9-1.5zM72.2 209.3l4.3 .2 4.7 3.4-4.7 0-3.6-1.3-1-.8zM250.8 209.3l2.9 1.5 1.1 2.1-6.4 0 .3-2.4zM107.1 209.9l1.7 .2 .1 2.8-3.6 0zM356.8 210.6l1.5 0 .6 2.3-5.2 0z" fill="#fde3d5" fill-rule="evenodd"/><path d="M403.1 .4l2 0-1.3 2-1.1-.6zM257.9 4.6l1.5 .2 .1 1.2-4.4 1.5-.1-1.5zM313.4 12.9l2.8 .3-2.8 1.2-.6-.5zM227.3 16.4l2.9 1 0 4.2-2.9-3.5zM239.4 20l1.8 .3 .5 1.4-2.7 .7zM264.3 20l1.4 .3-.6 1.4-1.4-.7zM243 50.1l4.3 0 1.3 5-.4 2.1-3.8 .7 .1-4.2-1.9-2.2zM249.4 57.1l1.6 .8-.2 1.4-1.4-.6zM256.5 58.6l3 .1 2.2 1.4-2.3 5.6-4.7 3.6 4 1.4-.1 2.9 3.6-1.2 .1 2.6-2.2 1.2-3.6-2-5.7 0-5.7 3.7-3 0-1.2-2.2 1.6-2.8-1.1-3.6 .9-2.5 2.1-2.1 1.4-.2 2.9 5.9 2.1 1 2.2-.7 1-1.4-4.8-5 3-3.6zM85 69l.8 1 .2 6.4 1.5 3.6-1.8 3.2-5.9-1.1-1.8-5 1.3-6.1zM378.2 71.4l2.5 .1-1.8 1.4-1.4-.7zM455 71.3l1 .9-.3 .9-1.4-.9zM443.6 72.9l1.5-.7 1.2 .7 .8 2.1-.6 1.1-2.9 .1zM139.8 73.5l8.1 5.1 .6 1.4-1.8 2.1-.2 2.9-1.7 .7-2.9-1.3-2.1 3.6-3.5-.9-3.6 1.6-2.8-1.7-2.9 1.5-6.4-.4-3.1 3.3 .7 1.4 .3 7.6 4.2-.6 3.6 1.3 7.1-.7 3.4-2.6 4.4-5.9 4.3 3.5 12.1-.7 4.3 1.9 .7 1.2-1.2 4.2-1.7 2-1.4 .2-2.8-2-3.6 .3-2.1-1.9 0-1.4-.5 2.1-1.7 1.3-2.1 0 0 1 8.5 4.1 3.6 .5 1.8 2.4 3.2 1.7 4.1-1 1.6-3.9 4.2 2.8 4.6 1.1 1 1.4-1.3 1.6-4.3-.5-1.6 1 1.3 2.9 .3 3.5 2.5 4.3-2.1 2.1-3.3 .7-2.6-4.9-1.6-.6-5.7 4.5-2.8-.1 2.6 4.7-.4 2.8-1.5 2.2-.2 3.5-3.5 1.4-.7 2.2-4.1 3.6-2.9-1.5-2.8 .5-3.7-1.9-.6-2.1 2-2.9-1.2-2.8 .2-3.6-1.5-2.8 2.8-5.7 .9-4.3 6.7-2.8-.3-2.9-3.2-1.1-5.7 4-4.3 1.6-4.2-.3-3.6-2-2.1 1.8-1.4-.1-7.5-3.9 1-5-2.2-4.2-3.4-1.3-5.7 .2-3.6-2-1.4-2.6-2.1-1.3-6.4 1.5-1.2-3.8 0-3.5 1.2-2.6 2.8 0 .8-2.4 8.3-6.4 1.6 .2 2 1.9 .7 4.3 1.5 .9 2.2-1.5 2.1-3.7 2.9-.3 0-1.8-2.3-2.8 3-2.1 8.5 .7 2.1-2 7.2 .8zM96.9 91.4l.2 2 1.4 .4 .8-1.9zM145.3 109.1l-1.2 1.1-2.2-.5 0 1.6 4.3 0 .9-2.2zM266.5 76.4l3 2.9-.9 3.8-2.8-1.7zM253.7 77.5l5.7 .2 1.2 4.4-1.2 .8-3.6-.7-2.8-3.6zM200.3 78.8l1.4 .5 0 1.5-1.5-.1zM94.3 83.3l1.9 1-.4 2.1-4.4 2-1.4-1.3-.1-1.4zM428 84.2l1.7 .1-2.4 1.9zM244.4 86.1l.8 1-.8 .9-.8-.9zM416.6 87.1l2.1 .5 1.5 6.2 5.6 .1 1.5 7.4 2.1 .7 2.9-1.4 1.8 .7-1.4 4.3 2 3.5-1 1-2.9-.1-2.1 3.8-2.1-.7-2.6-9.6-3.8-5.4-6.4-.8-.7-3.1 1.8-2.1 .5-3.6zM363.9 88.5l4.3 .1 1.1 1.3-2.5 2.2-3.2-2.9zM355.4 90.5l1.3 .9-.6 .9-1.3-.9zM375.3 92l2.2 .2 2.8 2 2.5 5-.8 2.8 1.1 2.2-3.5 .7-1.4 5.3-7.8-6.3-4.2 3.8 0 2.1-4.4 5-3.5 1.9-2.9-1.2-1-4.2 1-2.2-.4-3.5 1.3-2.9-1.2-2.1 3.2-.2 .6-1.2-2.8-3.1 2.2-.5 4.2 1.7 3.6-.6 3.5 3 5 .3 1-.8 .1-2.1-1.8-3.6zM376.2 100.6l-.6 2.9 2.6 .5 1-1.3-.2-1.4zM430.1 91.9l1.2 2.3-1.2 1.5-1.4-1.5zM391.7 94.9l.3 3.6 1.4 2.1-1 .8-3.1-4.3zM401.7 96.9l4.1 .9-.6 4.1-1.4-.1-2.8-3.3zM510.5 98.5l1.4 .4 0 3.5-2-1.8zM256.5 102l4.3 .5 3.5-.8 3.6 1.8 17.1-1.1 8.5 1.6 10.7-1.8 2.8 1 5-.7 1.4 2.4 .7 5.7 4.3 5.2 1.3-1-2.4-5.7 3.2-4.6 2.2 .2 1.4 3.8 1.4-.7 1.4 .5 1.1 3-5.7 4.2-.3 2.8 1.4 1.1 5 1 .6-3.4 2.2-.8 .3 3.6-4.6 4.8-3.5 .7-1.4 1.8-4.5 1.9 3.7 1.5 1.5 2.7 4.2 2.3 3.6-1.2 2.4 1.1-1.8 3.6 1.5 4.3 .1 4.2-1.5 1.7-1.4 .2-2.1-1.4-.3 1 3.1 4.4 2.9-1.1 1.3 1.6-1.2 1.5-1.6 7.2-4.2 2.1-1.5-1.8-1.4-.2-2.1 1.9 .7 1.7 3.5 .6 1.5 3.4-2.9 5-10.6 3.7-2.9-.9-1.4-4.4-3.6 .5-1.8-3.2 1.8-2.8 4.3 2.5 1.8-1.1 1.4-7.1-2.5-1.2-5 3-3.5-2.1-3.6-.1-1.4-4.1-1.3 1.6 .1 2.2-2.4 1.3-1.4-.1-2.1-3.2-2.2-1.1-2.1 .2-3.6 3.5-5.6-.6-1 1.4 0 5.7-1.2 1.1-1.4-1-2.3-4.4-.4-2.8 2-2.2-.1-2.8 2.5-2.9 .3-2.1 2.3-.6 .6-1.5-4.4-2.9-.5-2.7-3.6-.3-1.3-1.2 1.1-2.9-2.2-2.8 .8-3.6 1.6-3.5 3.6 .5 1.6 3-2.8 2.9 2.4 2.8 1.6 .6 6.4-2.7 5.7 .5 5.7-3.4 2.9-3.7 1.4 3.5 2.8-.5 .1-7.8-6.5-1.2-3.1-3.1-1.9-3.5-5.8-.7-1.4 4.2 .9 1.4-1.5 1.2-1.4-2.9-7.1-.1-5.3 5.4-1.1 3.2-2.1 1.1-4.3 5.1-1.4-.9-4.3 1.3-1-2 1.9-2.1 1.4-5-1.6-1.2-2.8 1.6-2.8-1.1 .6-4.3-3-2.8-.5-3-1.8 .1-2.5 3.6-2.9-1.4-2.1 2.8 0 2.9 1.4 1.1 2.9-.8 1.4-3.1 3 1.3-3 3.6-1.4 5.1-2.1-3.6-10.9-5.1 .9-3.7-2.1 1.4-2.2-1.3 0-3.4 3.8-3.6-2.3-4.3 2.1-2.6 6.4-2.5 6.4-.1 8.5 2.1zM267.7 116.2l-1.6 5 2.5 0 2.3-2.1-1.1-2.1zM254.9 119.1l-.8 1.4 1 1.8 2.1 .1 2.9-2.2 3.5 2.1 2.1-1.1-4.2-4.1zM316.8 123.4l-.1 2.1 3 0-.8-2.1zM294.3 140.4l.2 .7 3.3 1.5 1.8-1.5-.8-1.4zM314.2 146.8l1.2 4.3-5.5 .4-2.2-1.2-1.5 2.2 1.8 3.6 4.7 2.3 2.3-1.6 .6-5 1.7-1.4-1-3.4zM315.8 167.4l-1.1 1.5 1.6 2.1 2.8 1.4 2-1.4-.1-2.8-3.3-1.1zM397.4 101.8l1.4 0 1.2 1.7-2.3 3.5 .3 3.6-2 2.1-.6-2.1 1.9-3.6-1.1-3.5zM178.2 102.7l2.5 2.2-3-1.4zM.4 104.4l2 1.9-2 3zM402.4 105.5l1.4-.1 1.4 2.3-2.6 0zM199.6 107.7l7.1 2.5 1.4 1.8-1.2 2.8 .2 2.9-1.7 1.4 3.2 2.8-1.2 2-5.7-1.9-.1-2.2-1.7-1.4 2.5-1 1.4-2.6-1.3-4.2-4.3-.1 0-2.1zM405.9 108.3l2.9-.4 0 2.7-1.5 .1zM192.5 111.2l.5 .8-1.7 1.4-.8 2.8-1.8 2.2-2.1 7.8 1.6-.2 .7-3.1 3.6 .1 .2-6 4-1.9 2.9 2.6-3.1 2.8 .3 7.1-2.9 1.3-1.1 3 1.1 1.7 2.1 0 7.7-6 1.4 .7 .3 2.9 2.6 2.8-.6 1.5-1.4 1.1-2.7-1.2-.2-2.4-2.3 1 1.6 1.4 .4 2.2 3.9 1.3 1.3 1.5 .1 10.1-2 2.7-2.9 1.4-.1 3.6-2.8 2-2.1-1.5-1.5 .9 1 3.6-3.8 1-.6 1.1 .6 1.9-2.7 3.1-5.8-.3-2.2 2.9-3.5 1.4-2.9-3.3-.4-2.1 3.3-3.6-1.5-1.4-3.6-.7-.6-2-4.1 3.4-1.4 4.3-4.8-2.9-.5-.7 1.7-4.3-3.7-4.6-4.3-2 .9-3.3-2.3-1.3-1.8-5.8 2.5-.3 1.6-2.6 7.6-1.2 1.8 .5 4.6 4 7.9-3.1 4.9 2.7 2.9-1.9 3.5 2.7 2.9-.3 1.4 3.9 3.6-.6 1.2 2.6-1.7 2.8 .5 .8 6.4-4.1-.7-1.7-2.1-1.4-3.6 .6-1-7-4-5-2.1-.2-4.3 1.6-.4-2.1 2.5-2.8-1.4-2.5-8.8-3.9 2.4-2.1 .7-3.2 2.9 .1 .2-1.2-1-3.4-2.8 .2-1.6-1.1-.2-1.4 3.2-.8 2.2 2.1 1.4-2.3 2.8 .5zM190.3 154.6l-.5 1.5 1.7 4.2 3.1 1.2 .8-1.2-1.3-3.5-2.3-2.8zM340.5 111.1l.3 3-1 .7-.8-1.4zM370.4 111l2.1-.1 2.4 2.5-2.4 2.1 1 2.2-1 1.3-1.8-.6-.8-1.4-.6-4.3zM465 111.9l.7 .8-.7 3zM408.1 113l1.4 1 0 2.7-1.4 .4-1.5-.9-.9-1.4zM383.9 113.8l2.2 .3-1.5 3.4-2-1.3zM26 114.8l.8 2.2-1.5 1.3-.9-2.1zM393.1 118.8l12.1 .9 .9 1.5-.2 2.3-3.8 3.4 2.4 2.4 2.8 .1 0 6.1 2.9 1.5 3.6-.2 3.5 2.1 5.2-2-1.1 4.9 3 1.7 2.2 0 2.1-1.5 7.8 1.4 2.2-.8 2.7-3.6-1.2-5.7 .4-2.8 3.7-2 5.7 1 4.3-2.3 2.9 2.5 7.8-.4 7.1 1 1.6 9.4-2.3 1.6-7.1-.5-4.3 3.9-.4 1.4 2.1 2.9 .2 2.1-1.2 3.3-2.1 1.6-3.6-1.3-1.4 .7 .2 2.1-.9 .3-10.7 .2-2.8 1-6.4-1.7-2.9 .2-3.5-.9-1.4-1.2-.2-2.2 1.6-3.7-4.3-1-1.2 1.2 1.8 4.2 0 2.9-1.3 1.4-2.2 .2-3.1-1.6-.4-5.7-2.2-1.4 .1-4.6 3.5 .1 1.3-1.9-1.3-3.5-4.3 1.5-2.8-1.8-2.9 1.1-2.1-3.7-3.5-3.7-6.4 4.3-3-.6 .5-7.1-1.5-6.4 .7-3.6zM415.3 148.2l1.3 1.7 1.3-2.4-.6-1.2zM289.2 121.2l2 1.4-2 3.3-2.9-3.3zM408.1 125.9l1.8 1.7-1.8 1.8-.8-1.8zM430.8 126.8l1.9 .1 3.2 4.3 .2 3.5-.7 .7-3.9 1.1-2.8-2-4-.5 1.9-3.6 1.4-.4 2.7 1.2-1.5-2.9zM484.9 127.8l2.2 .5 .6 2.2-.7 .8-2.1-.8zM230.2 128.9l2.7 .9 1.2 2.1-1.8 3.4-2.1 1.8-3.1-3.8zM324.1 128.9l3.5 .9-2.7 1.4-1.2-1.4zM250.8 132.6l1.2 1.4-.6 7.1 3.7 4.5 9.9-4.7-1.2 3.8 .7 2.1-5.1 2.5-5-2.6-1.5 .1-1.3 1.4-.1 2.6-3.5 1.7 1.3 3.6-.5 6.4-1.5 .8-2.9-.3-.3 .9 6.2 10.7-1.4 2.1-4.5 2.6-1.2-.5 .7-5.7-2.3-4.4-2.2-.7-1.7 1.6 1.9 5-.9 3.6-3.5-2.1-2.9 .5-2.2-.6-2.8-3.6 5-.5 1.1-.9 2.5-5.7-1.4-3.5 1.7 0 1.8 2.9 1.3-.8 .5-2.1-1.8-5.2-4.5-1.2 .1-2.9 3-.7 5 .7 1.4 .7 .7 1.9 2.7-2.6-2.8-2.8-.2-4.3-4-2.6-5.7 2.5-2.5-.6-.9-2.1 .6-4.5 6.4-.2 2.1 2.6 5.7-.5 1.7-1.7-2.4-1.4 0-.9 1.4-.6 2.2 1.6 1.4 0 1.1-1.6zM337.6 140.1l.9 .3-.2 1.1-1.4-.4zM271.4 146l2.8 .8-1.3 4.2-4.3-1-1.9-1.8 .5-.9zM476.4 150.1l.9 1-.8 5.7 .2 5.7 1.2 2.8-1.3 10.7 .4 2.8-1.3 2.2-3.6 .9-5.5-5.9 .7-8.6-1-7.1 1.9-3.5 .8-4.3zM257.9 151.6l2.2 3.4 5.7-1.7 1.8 1.3-1.3 6.4 2.3 3.6-.7 .9-2.1-.1-4.4 3.5 3.6 2.6 2.9-2.1 2.1 .9 1.7 5-2.4 3.6-6.4 1.3-5-2.6-1.4 2.6-1.4 .3-1-2.4-2.5-2.1 1.3-3.6 1.1-.7 1.4 0 1.8 2.5 3.4-1.8-3.9-7.1 2.7-4.6 2.4-.4-3.5-4.9-5.4 1-.7-3.3zM228 153.8l1.7 .1 3 2.9 1.4 5-3.9 1.5-1.2 4.1-1.7 1.3-.7-1.6 1.9-3.9-2.8-7.8zM150.5 154.6l1.4-.2 .3 1-1 2.6-2 1.6 0 2.2 .6 .9 2.8-1.2 .7 2.1-2.6 2.4-.2 4.3-4.3 1.8-.6-1.8 .8-2.1-1.1-2.9 1.6-6.1zM206 157.2l2.8 .1 .9 1.6-2.6 2.9-1.1 2.9-.7-1.5 .8-2.9-1.1-2.1zM174 163.9l1.3 3.5-2 10.5-1-.5 .5-2.8-2-5zM206 166.5l.5 3.8 3 2.8-5.5 5.7-.1 3.3-2.2 .5-.6-1.7 1.8-2.8-.8-1.4-1.1-.9-5 .3-1.5-3 1.5-1.3 5 .3 2.9-1.3zM388.1 169.5l1.3 .8-.6 1.5-1.6-.8zM429.4 172.9l2.9 .8 1.3 2.3-.5 1.4-3 1.4-2.1-.6-.9-1.5zM509.8 173.1l2.1-.1 0 23.8-7.1-.9-12.8 .3-.8-1.7 .3-5-1.3-1.4 1-2.2 .2-6.4-1.3-2.8 1.9-1.9 2.2-.5 3.5 1.6 3.6-.6 2.8 1.3zM393.8 174.3l1.4 .3-.7 1.4-.9-.7zM439.4 174.4l3.6 1.6-3.6 1.8-2.9-1.1zM451.5 174.5l1.3 .8-.5 1.4-1.8-.7zM330.5 175.2l1.4-.1 .9 .9-.9 2.1-3-.7zM188.9 176.4l1.4 0 1.7 2.4-1.7 1.6-1.7-.9zM141.9 177.2l1.8 1.6-.3 2.9-2.4-2.2-.1-1.4zM180.4 176.9l1.5 1.2-2.1 7.1 4.1 3.8 4.9 1.9-1.3 2.3-3.6 1.7-2.8-1.9-.4-2.8-1.8-2.3-4.9 .5-1.2-1.8 1.9-5.4 4.7-1.7zM164.7 179.6l5 2.7-.7 2.4-3.6-1.1-1.2-1.9zM182.5 180.1l1.7 .8 .4 2.9-2.1 0-.6-2.9zM142.7 182.9l1.1 2.3-.3 3.6 2 .1 3.6-2.9 2.2 2.1-.8 1.5-5 1.4-1.4 2.8-1.7-1.5 .2-3.5-1.9-2.9zM192.5 183l7.1 .7 2.1 1.5 .5 1.4-.5 .9-1-.2 .6 4.3 3.6 1.4 .6 1.5-1.6 2.4-4.3 1.1-5-2.9-1.4 4.9-1.4 1.8-3.2-3.1 .8-2.1 2.7-2.1-3.1-3.6 1.2-2.8-.6-2.8zM113.5 186l1.5 1.3-1.5 1.8-1.2-1zM344 187.5l1 1.3-1.7 1.2zM166.1 189.2l2.3 .3 .6 3-2.9-1.3zM173.3 191.6l3 2.9-.9 3.3-.7 .7-2.9-1.4-2.8 .1-.8-1.3 1-2.9zM342.6 190.9l.4 .7-.4 3.4-2.1-2zM397.4 191.3l.9 1-.9 .5-.7-.5zM366.8 195.1l3 2.2-3 .4-.9-1.8zM161.2 195.8l1.4 .8-1.4 1.2-1.2-1.2zM472.1 195.9l1 .7-.1 1.4-3 .2 .2-1.6zM146.2 197.5l1.5 .5 .5 2.1-2.7 1.8-1.8-1zM57.3 198.4l1.4 1.7-.6 1.5-1.9-1.5zM183.2 198.3l3.6 .7 .4 1.1-1.8 1.6-3.6 .1-.4-.9zM203.1 202.2l1.5 .4 0 1.4-2.9 .6 0-1.6zM165.4 202.7l2.9 1.5-.4 1.6-3.2 2.8-3.5 1-2.2-.1-4-4.4 .5-1.5 2.8 .6 2.9-1.2 2.8 1zM173.3 203.6l4.9 1.2 .3 3.2-5.2-.6-1.3-2.3zM186.1 204.9l3.7 .9-3 2.5-2.2 .5-.5-2.3zM144.1 207.2l2.7 1.5-.6 2.2-2.6-2.9zM66.5 211.2l.9 .3-.1 1.4-1.4 0zM139.1 211.1l1.3 1.8-2.6 0zM157.6 211.2l1.3 1.7-2.7 0zM173.3 211.1l1.1 .4 .5 1.4-2.3 0zM132 212.1l2.8 .8-3.7 0zM378.2 212.1l1.8 .8-2.7 0z" fill="#f39c78" fill-rule="evenodd"/><path d="M257.9 62.2l-.1 2.1-3 1.5-.7-1.5zM82.2 77l2.7 1.6-.2 1.4-1.8-.2-1.1-1.9zM132.7 78.4l1.4-.2 1.9 1.8-2.6 .9zM121.3 79.2l1.4 .4 0 1.1-1.4-.5zM137 80.2l2.8 1.2-.7 2.2-1.4-.4zM106.4 88.7l2 2-.5 4.9 2 2.1 2.9-.2 1.4-2.3 1.4 0 .2 5.4-.9 1.9-7.1 1-3.5-2.2-.8-3-3.1-2.7 1.4-5.7zM140.5 96.3l1.4-.6 1 1.4-1.7 .8zM157.6 99l1.5 .9-.1 1.4-2-.7zM363.2 100.6l1.5 0 .7 2.1-2.2 3.2-1.4-3.2zM120.6 102.7l3.6 2.1 5.7-2.4 2.8 1.2 2.1 3 2.9-1.6 4.2-.3-3.3 3.7 1.7 5.7-.5 1.4-2.1 1.3-5 .2-1.6-3.6-2.7-1.6-4.2 4-3.1-1.7-2.1-8.5 .4-2.1zM256.5 103.3l7.8 .1 4.3 1.5 8.5-1 6.4 .4 3.6 1.2 10.7-1.1 4.2 2 8.6-2.3 1.6 2.2-.2 5.7 1.7 2.1-1.7 1.3-3.6-2.8-2.8 1.5-3.6-1.6-2.8 4-2.8-1.3-3.6 .9-2.9-2.5-2.1 1.5-5.7-.5-2.1 1.5-6.4 1.4-3.2-2-1.7-3.5-2.2-.8-2.9 2.3-7.1 3-2.1-.1-2-2.3-3.7-1.2-2.9 .8-2.1 2-4.3 .5-5.7-1.9-2.7-5.9 .7-2.1 4.2-2.2 7.1-.1 5.7 1.7 4.2 .1zM152.6 111.8l1.9 .9-1.2 1.7-1-1zM160.4 115.7l2.2 .5-.3 .8-1.5 0zM300.6 118.2l3.6 .1 3 1.5 .8 2.1-1 4 1.4-.2 2.2-2.2 2 .6 .1 1.7-4.5 7.5 1 3.1 1.4-.2 4.3-5.1 3.6 1.5-.1 4 4.3-1.1 1.2 .7-.3 1.4-4.5 .6-2.1-1.5-8.6 2-4.5-1.1-.2-2.2 2.6-2.8-2.3-2.8 1.7-2.9-.5-2.1-1.7-2.4-5.7 .3-.9-.8zM158.3 120.3l2.1-.2 1.2 1.1-1.9 3.4-2.4-2.7zM394.5 120.2l2.9 .3 1.7 1.4-1.7 4.9-2.1-.1-2.2-2 0-2.8zM149.1 125.4l3.7 .8 1.4 4.3-1.6 3.2-2.5 1.7 1.7 2.9-2.7 5.7-5-1.4-2.1-5.7 1.4-3.6 4.7-2.8-.4-2.9zM454.3 129.4l2.1 1.6 3.6 .1 5.7 2 2.1 2.7 2.9 .2 1.1 3-3.3 .9-2.8-2.8-2.9-.3-1.3 1.5 .3 2.8-1.8 1-2.1-1.3-15-3.8-.7-3 2.1-3.5 5.7 .9zM201 142.3l2.1-.1 1.9 2.5-4-.1-.9-1.3zM301.3 142.3l1.5 .3 1.7 2.8 .1 4.3-1.1 1.6-1.9-1.6 .9-2.9-2.6-1.5zM309.2 142.4l.9 .9-.9 1-.9-.3zM168.1 145.4l.3 3.6 3.4 .9 1.5-.9 1.4-3.2 1.4-.1 2.3 3.3 .5 4.3 2.9 1.3 2.1-1 4.4 3.9 .5 2.1-1.3 4.3-4.3 1.4-4.2-3.5-1.8-2.9-6.1-2.1-2.1 .2-2.1 2.3-2.2-.5-.5-3.4-3-1.6-.6-2 2-4.4zM296.4 145.4l3 1.4-2 2.9-1 5.6-3.5-1.4-3.2-3.5 .5-1.4 2.6-.2zM443.6 145.9l2.9 .4 0 2.3-3.2-.4-.5-1.4zM185.4 147.5l2.1-.5 4.8 2-4.1 2.7-2.9-2.7zM245.8 147.2l1.3 .3-.3 1.5-1 0zM430.8 150.3l1.6 .1 2 1.8 4.3-2.1 2.2 6-2.2 1.4-5-4.3-3.6-.3-.6-1.1zM447.9 150.3l1.4-.1 .4 .9-1.8 4.1-5.8 .2zM282.8 151.1l2.2-.6 1.9 1.3 .2 1.4-5 .8-.4-1.5zM419.4 153l1.4 1.6-.6 1.6-1.3-.8zM470.7 154.5l3.7 .9 .5 7.1 1.4 2.8-1.4 13.5-2.1 1.5-2.1-1.5-2.6-5.7 .7-4.9-.9-7.2 2.6-3.5zM318.4 155.7l3.6 4.7-3.7-2.2-.6-1.4zM245.1 157.3l1.6 .2-.9 2.3-1.4-.9zM261.5 175.3l1.2 0 0 1.4-1.3 0zM493.4 176.3l2.2 .6-.7 2-1.7-.8zM511.9 180.5l0 5.2-1.8-1.2zM499.1 181.6l1.5-.1 0 2.1-1.5-.5zM176.1 183l1.3 .1-1.3 2.2-.8-.8zM502.7 184.9l6.4 1-.3 3.6 3.1 2 0 3.5-5.5-2.7-2.3-4.8-4.4-.2 .1-1.3zM502.7 190.8l1.5 .8-.2 1.4-3.9 .7-.2-.7zM494.2 191.3l1.4-.1 1 2.5-1.7 .7-1.5-.6z" fill="#cc3340" fill-rule="evenodd"/><path d="M105.7 97.6l2.3 .9 1.3 2.1-2.9-.2zM257.2 104.7l7.8 .1 2.4 1.5 .2 1.4-4.7 2.8-3.5-1.6-2.2 .5-.9-3.1zM235.2 106.2l2.1 .7 2.1-.9 2.9 .9 2.8-1.2 5.7 1.7 .6 1-9.1 1.7-5-1.5-2.1 1.3-1.8-2.2zM277.9 105.9l1.2 1.1-.1 1.4-1.1 1.4-1.5 0-5.2-2.8zM297.1 106.2l1.1 1.5-2.6 2.9-7.1 .7-5.8-.7 1.6-3.4 2.8 .6 2.8-.8 1.5 .8zM124.2 107.7l1.5 1.4-.8 1.5-1.8-1.5zM129.9 107.3l1.4 .4-.1 2.1-2.1-.7zM305.6 108.4l1.5 .7-1.5 1.9-.9-1.2zM134.8 110.4l1.5-.3 0 1.1-1.5 .2zM453.6 131.6l4.3 2.4-.3 3.6-1.2 1.2-5.4-2.6zM445.8 133.8l1.9 .2 .5 1.4-2.7 0-.6-.7zM174.7 150.7l1.4 .6 .4 1.9-1.8 2.2-5-1.1-1.6-1.8 1.6-1 2.8 1.3zM184.6 157.6l1.1 1.3-1.1 1.2-.8-1.2zM472.8 164.6l1.1 .7-1 2.9 1.4 4.2-2.2 1.7-1.9-1-.3-1.4 2.7-3.5-.9-2.2z" fill="#6e0b22" fill-rule="evenodd"/><path d="M413.8 13.5l1.7 1.1-.3 1.6-1.8-.9zM497.7 13.7l1 .9-1 .6-.8-.6zM442.9 20.1l2.3 1.6-1.6 1.7-1.6-1zM50.2 25.2l2.1 .5 2.8 4.5 2.9 1 17.8-1.2 1.4 .7 1.4 2.6 3.6-3.4 5.7 3.9 5.7-4.2 3.3 1.3-.5 3.6 .9 2.8-.6 .7-1 .3-2-3.1-2.3-.1-2.1 2.7-5.5 .9-3.8 3.3 3.6 1.4 2.1-.3 4.3 3.5 2.9 .9 .9 4.8 6.5 2.8 1.8 3.2 6.4 2.1 1.1 2.5-1.8 8.6 .3 4.9-8.1 2.7-6.4-2.6-3.2-.1-3-12.1-3.8-5.1-4.3-2.2-5 .2-2.8-3.3-3.8-1.6-1.2-3.3-7.1 1.9-2.2-.8-.6-1.5-6.4 .3-.4-3-1.8-2.1-3.5 .8-.7-2.9-1.5-.4-.1-1.1 2.3 1.2 2.5-2.7 .3-2.1-2-2.8 1.8-2.2 .5-4.9zM384.6 25.1l1.4 .1 .6 1.5-2 0zM37.4 27.3l1.4 .8-.7 1.6-1.5-.9zM183.2 27.1l8.6 2.4 .9 2.1-1.7 1.4-2.8 .3-2.8-1.5-3.6 0-1.2-2.3zM460 27.3l7.8 1.1 1.4 1.1 1.3 6.4-1.2 2-7.9 .9-1.1-2.9-3.1-2.6-2.2 1.6-2.8-.3-2.9 1.6-3.5 .2-1 3.1-1.2 .2-3.5-2.8-2.2-.1-3-3 1.6-4.3 1.4-1.1 5 2.3 4.3-2.5 5 1 6.4-.8zM21 29.3l3.5 1.5 3.6-1.6 2.3 4.6-2.3 1.8-5 .1-2.1-2.6-3.2-1.5zM104.2 31.3l2.9 .3 5.6 2.9-.6 6.8-5 3.8-2.9-2.3-2.8 2.8-2.1-.2-5.9 1.9 0-7.1 .9-1 3.5 2.6 6.1-1.6 .7-2.9-1.4-4.2zM498.4 33.4l1.2 1.1-1.2 1.6-.9-.9zM474.2 34.2l3.7 1-2.7 2.8-1.7 .5-1.3-1.9zM183.2 35.7l1.8 .2-1.1 2.1-1.9-1.4zM22.4 36.3l.5 2.4-1.2 2-2.8 1.4-2.2-.9-.3-1.7 1-1.5zM418 36l5.3 4.9-2 2.8 3.1 1.2 1.7 2.4 3.3 2.1 3.4-.7 1.1 2.8 2.4 2.2-.3 2.1-4.5 3.4-6.4 2.1-4.2 0-1.5 2.3-1.9-2.1-5.2-2.7-1.4 1.3-1.4 6.1-5.7 2.2-4.3-1.8-8.5 .6-3.6-1.8-7.8 2.5-7.8-.9-3.6 .5-3.2 2.5-.1 1.5 1.8 2.8 4.4 1.8 28.4-2.4 2.9 2 1.1 2.2 .7 6.4-2.1 4.2-1.9 .7-13.5-.1-7.8-3.1-19.9-.2-3.4-1.5-.8-2.2 .1-6.4 2.2-5.7 0-2.8 5.4-2.6 5-.8 1.4-1.2 .2-1.8-.9-1.3-9.9-3.4-3.6 1.1-2.8-1.1-7.2-.1-1-.9 .3-2.2 8.6-4.6 5.7 1.9 3.5-1.6 7.8-1.3 3.6-3.6 2.4 2.2 4.7 1.4 5.3-5.7-.3-3 1.4-1.6 .9 2.5-.6 2.1 1.8 1.5 6.5-2.1 8.5 1 2.1-1.2 1.4 2.1 2.2 .5 5-3.4 3.5 2.9 .9-1.3-1.3-3.6zM188.9 36.9l2.7 1.1-.6 4-4-1.8 .1-1.5zM425.1 37.1l1.6 3.1-1.6 3.7-.9-3zM175.4 38l4.3-.5 .7 1.2-.6 2.2-1.6 .8-2.1-.8-1.6-1.4zM139.1 39.2l1.2 1-.5 .7-1.4-.7zM435.8 39.8l1 .4-.3 1.9-1.3-1.2zM448.6 39.9l.2 1-2.3 .7-.9-.7zM34.5 41.3l2.9 .6 .2 1.8-2.4-.3zM26.7 42.2l1.4 .7 1.9 3 3.8 1.4 .5 1.4-.9 1.4-1.7 1-3.6-2.1-3.7 .4 1.2-2.1-1.2-3.6zM113.5 42.2l2.1-.1 .7 1.6-2.8 1-.7-1zM461.4 42.9l2.2 .1 3.5 2.1 1.4 7.2-.7 1.5-.8-.8 .1-5-2.8-2.8-2.9-.7zM452.2 44.9l.4 1.7-4 5.1-1.4 .4-1.1-1.3 1.2-2.1-.2-2.1zM40.2 47.8l1.4-.2 1.4 1 1.7 4.4-.2 1.4-2 0-.4-2.9-2.7-1.4zM132.7 50.6l2.1 .9-1.4 3.8-.9-.2-.8-2.1zM162.6 57.2l3.5 1.3 0 2.3-1.4 .2-2.8-2.2-2.9 .2-1-1.1zM132 59.3l.7 2.9-1.4-1.8z" fill="#8fc3de" fill-rule="evenodd"/><path d="M71.5 32.1l3.8 1.7 .1 1.4-1.8 2.2-2.1-2.8zM443.6 33.1l2.5 0-1.8 1.6-.7-.2zM60.5 33.8l.3 1.6-1.4 1.1-2.8-.3-1.2 2.5 .5 1.3 2.6 1.6 0 2.1-.5 .8-2.9-2.2-1.4 3.2-1.4 .6-2.8-3.8-.1-2.1 2.2-3.8zM65.8 33.7l6.2 5 4.5 2.1 1.4 4.5 3.6-.4 4.2 1.1 1.3 1.3 .4 2.8 2.9 3.6 5.9 1.4 4.5 4.7 3.5 .4 3.1 2 .5 1.4-.9 2.9-.5 9.5-7.1 1.7-8.4-3.4-1.6-10.7-7.1-9.2-2.9-1.1-2.1 1.5-2.1-.1-5.2-4.6-.4-9.9-4.4 0-1.6-2.2 0-2.8zM81.5 34.5l1.4 .7-1.4 1.3-.8-.6zM467.1 34.4l1 1.5-1 .6-.7-1.3zM391.7 43.7l2.1 0 3.6 2.1 4.3-2.3 4.9 1.8 2.2 2.4 5.7-3 4.2 1.7 3.6 .2 5.1 3.5 2.1 5.7-2.3 2.9-2.1 .8-7.8 .1-3.5-2.2-5-.9-4.3 .9-1.3 2 4.9 .9 .7 3.3-.7 1.5-4.3 .8-2.6-1.6-1.7-3.3-4.2 1.4-1.5 2.7-2.8 .3-5.5-2.5-.9-3.2-4.8 6.8-6.3-1.4-3.1-7.2 4.3-2.1-1.5-2.1 .7-1.4 2.1-1.3 2.8 3.4 4.4 1.7 .2-1.7-1.4-3.6 .4-2.2 2.9-3.6 3.5 .4zM390.2 60.1l.8 1.1 1.6-.4-1.6-1.3zM63.7 45l.8 .9-.8 1.9-2.2 .9-1.4-.6-.7-2.3zM361.8 50.1l3.6 .8 2.8-1.5 1.4 .6 .4 3-1.6 2.8-4.5 .8-2.8-1.5-1.1-2.8zM354 51.9l2.1 .2 .8 1.6-1.5 1-1.2-.3-.9-1.4zM361.8 66.2l2.8 .3 .1 1.4-1.8 2.8 2.8 3.6 4.7 2.3 29.1-1.7 3.1 3 .8 5.6-.8 2.9-2.4 2-12.1 0-9.2-3.1-21.4-.8-1.6-2.4-.2-6.4 4-7.8z" fill="#4496c8" fill-rule="evenodd"/><path d="M80.8 46.6l1.8 .7 2.8 3.5 .3 3.2-6.4-4.9 0-1.4zM412.3 47.2l2.9-.3 2.1 2.4 3.6-1.5 2.6 .9 2 2.1 .2 5-3.4 2.4-5.7-.4-4.9-4.1-.8-4.3zM416.9 53l-.3 1 1.4 .5 .1-1.5zM391 47.7l2.8 2.7 2.9-1.3 8.5-1.3 2.1 2 3.1 1 .4 1.5-2 1.7-8.6 2.5-2.1-3.7-2.1 1.4-4.3 .2-5 2.9-2.2-4.3 0-2.2 3.6 .2zM86.5 54.6l2.8 1.2-.7 2.2-1.7-.1zM93.6 57.2l3.9 5.7-2.7 3.6 3 1.7 7 1.1 .2 5.9-5.7 1.1-8.1-4.1-.1-5 1-2.1-.7-2.9zM378.2 56.9l2.8 .6 .9 1.9-1.5 2.8-2.9 1.2-1.5-.5-.7-2.1zM397.4 57.1l1.5 .1-1.5 1.6-.8-.9zM359.7 71.9l2.8 .5 3.6 3.4 5 1.4 28.4-1.4 2.2 2.1 .7 7.1-2.2 2.6-10.6 .1-11.4-3.2-19.2-.3-2-2.1-.5-5.7 1-2.9z" fill="#2f6fb3" fill-rule="evenodd"/><path d="M97.1 70.6l3.6 .4 1.6 1.9-.1 1.4-2.2 .7-2.4-.7-1.8-2.1zM359.7 73.5l2.8 .1 2.9 2.8 5.7 1.5 6.4-.6 14.9 .6 6.4-1.5 2.1 2 .7 6.6-2.1 2-9.9-.1-11.4-3.2-18.5-.4-1.4-1.4-.8-5.5z" fill="#1b5698" fill-rule="evenodd"/><path d="M361.1 75l1.4 .6 .7 2.5 4.3-.3 3.6 .9 16.3-.4 5 .9 6.4-1.8 1.2 1.2 .7 5.7-.7 1.4-1.9 .4-8.5-.5-11.4-3-15.7-.3-1.2-.9-.2-2.8-1.2-2.2z" fill="#053061" fill-rule="evenodd"/></g><g clip-path="url(#land)"><path d="M372.5 69.8l6.4 0 .7 .5 2.1 .2 1.5 .8 .2 .9-2.4 1.6-5 .9-5.6-.9-2.4-1.6 .2-.9 1.4-.8 2.2-.2z" fill="#ffffff" fill-rule="evenodd"/><path d="M74.4 8.7l95.3-.2 .9 .4 .5 2.3 1.4 .2 7.2 0 2.1-.7 6.4 0 2.1-.7 6.4-.1 2.2-.7 19.2 0 2.1 .7 3.6 .2 .7 .4 2.8 .3 1.5 .6 4.2 .1 1.4 .7 1.9 .2-4 1.2-1.4 .7-1.4 1.4-.4 1 .6 2.1-4 5-1 2.2-.9 .9-5 2.8-5 1-.7 .5-2.8 .2-4.3 1.9-1.4 .2-3.6 1.9-1.4 .3-2.9 2.7-1.1 2.5-1 .8-4.3-1.8-2.8 .6-1.4-.7-4.3-4.3-1.7-2.4 .1-1.5 1.6-1.4 1 .7 .4 1 .8 .5 .2-1.5-.7-2.1-2.4-1.7-2.2-.2-4.6-5.2-2.5-1-.7 .1-.7 1.1-.7 .1-94.6 0-.9-.3-.2-.7 0-11.4zM312.7 79.8l1.4-.2 3.6 .9 3.6 3.3 2.8 1.5 5.7 6.3 1.4 .7 2.9 .3 1.7 .9 1.5 2.1 2.4 1.5-1.4 3.8-1.4 1.4-5.7 2.8-6.4 1.5-3.5 0-2.2-.8-4.2-4.8-.8-.6-.7 0-2.8 2.7-1.1 1.8-2.5 .9-5 .1-2.1 .7-10.7 .1-2.1 .7-12.1 0-2.1-.7-5-.1-2.1-.7-24.9 0-1.5-.6-2.8-.2-2.2-.7-2.1-1.4-1.6-4.5 0-1.4 1.1-3.6 .3-2.1 1.6-2.4 1.5-.2 9.2-4.8 5.7-.9 6.4-1.9 3.6-.3 1.4-.6 5.7 0 3.5 .9 5 1.9 5.7 .9 .7 .5 .7 0 2.2-1.7 4.2 .5 1.5 .6 7.1 0 1.4 .6 2.8 .1 3.6-.8 5.7-2.9z" fill="#d9d9d9" fill-rule="evenodd"/><circle cx="273.2" cy="44.1" r="1.4" fill="#1c1030"/><circle cx="300.3" cy="41.2" r="1.4" fill="#1c1030"/><circle cx="314.5" cy="41.9" r="1.4" fill="#1c1030"/><circle cx="327.3" cy="42.7" r="1.4" fill="#1c1030"/></g>
<use href="#holesp" fill="#fff"/>
<rect x="0" y="0" width="512.3" height="213.3" fill="none" stroke="#a6a6a6" stroke-width="1.3"/>
</g>
<g transform="translate(75.2,353.6)">
<g clip-path="url(#land)" filter="url(#spk2)"><use href="#landp" fill="#e1e0ef"/><path d="M89.3 .4l3 0-1.6 .9zM127 .4l3 0-1.6 1zM425.1 .4l3.6 0 .8 1.4-3.9 1.4zM282.8 7.2l1.5-.2 .6 1.2-1.4 .4zM270 10.1l1.5 .9-1.5 1.6-.9-1.6zM18.9 13.8l1.4 .8-.6 .7-1.6-.6zM328.4 20.9l2.1 .6 .8 1.6-3.3 0-.6-1.4zM346.2 20.7l1.4 .3 0 1.5-2.2-.8zM32.4 21.7l.8 2.1-1.3 2.2 2.2 3.5 1.8-.1 2.9-1.8 7.8-.6 2.1 1.7 4.3-1.4 4.3 1.8 2.1-3.1 5 2.9 2.8-1.6 5.7 0 3.9 2.2-2 4.3 1 1.1 2.8-2.4 3.6-.1 2.8 1.3 3.9 .1 6.1 3 .6-3.7 3.7-1.1 2.1 2.5 2.8-1.4 2.9 .2 2.1 3.1 10-5.6 2.1 .8 .6 2.2 1.6 1.4 1.9-.7 .6-2.1 3.1-.5 5 3.2 .9 1.5 .2 3.6-2.8 7.1 2.3 3.5 .1 2.2-1.2 2.1-5.2 3.2-1.9-3.2-3-1.8-2.2 .1-2.8 1.8-6.4-3.3-7.9 .7-3.5-2.3-3.6 3.5-3.5-.8-5.7 1-8.6-1.2-10.6 2.5-1.5-.4-1.4-2.3-2.1-.6-3.6 1.7-5.7-.4-5.7 2.4-5.2-2-.2-2.2-1.7-.7-5.7 3.9-6.4-1.3-2.8-1.8-2.2 2.6-1.4 0-6.3-6.9 3-2.2 .6-1.4-.9-2.1-2.4-2.1 .5-5 1.3-2 2.8-1.6-1.7-2.8 1-1.7 1.4-.5 2.9 1.9 3.5-.4 2.1-2.2zM127 36.6l-.2 2.1 .9 .4 .8-1.8zM96.9 38l1.2 3.6 3.6 2.1 1.1-3.8zM85.5 40.9l0 2.8 2.4 .7 0-2.5-1.4-1.3zM305.6 31.5l1.4-.3 2.2 2.5 9.9-1.5 2.9 2.8 6.4 .6 3.5-2 1.5 2.6 7.8 1.1 2.1-2.3 2.1-.1 2.9 1.5 4.3-.4 3.5-2.6 3.6 2.9 4.2-1.7 2.2 2.2 2.8-2.7 2.2 1.5 5.7 .7 10.6-2.7 1.9 1.6 3.3 .7-.3 4.3 4.4 2.8-2.5-7.1 1.8-1.4 3.5-.6 4.3 1.2 4.3-1.2 7.8 1.6 2.3-1.7 6.9-1.1 1.5 1.1 1.4 4.1 5 1.3-1.3-3.3 3.4-2.2 10.6 2.9 .8 3.8 5 2.4 .8-.5-.2-4.3 2.9-.8 3.5 3 .8 2.3 2.6 1.2-3 2.2 3.2 7.1-1.7 4.2 1.3 3.6-.3 .7-5-.3-2.1 1-5-2.6-4.2 1.5-2.9-.3-3.7-5.7-2-1.1-2.1 1.6-2 5.2 1.2 3.5-.6 .9-1.9-.9-1.1-2.8-3.4-2.3-7.2 1-2.8 2.1-2.8-.8-1.5-2.4-5.7 .8-1 .9 0 5 1 2 2.9 1.5 .7 1.7-3.6-1.7-4.9 3-2.9-2.4-3.5 .4-1 3.3-2.1 1.4-.5 3-5.7-1.6-.9-3.5-1.2-1-2.9 3.1-1.9-.7-1.2-1.4 1.8-2.9-2.2-1.9-2.9 .9-1.4 1.7-1.2 2.9 1 2.1-.5 1.3-4.3-2.1-2.1 2.7-2.1-.5-.2-.7 3.9-2.1-3.4-3.6 3.7-2.1 .7-1.4-4.8-4.6-.9 2.5 .4 5.6-3.1 3.6 2.7 2.1-.3 .7-7.3 2.4-5.7-4.4-2.1 2.8-3.6-1.7-5 .2-2.1-2.5-.5 1.1 1.6 2.9-.6 1.4-1.2 .2-4.3-1.7-4.2-4.9-.8-4.5 1.5-.1 2.8 1.7 1.4-1.4-2.8-3.1-2.9-.9-.8-4.5-2.7-2.4-2.9 2.2-2.1 .4-4.3-2.1-2.8 4.1-4.3-.8-5.7-4.6-5 1 .8-3.1 2.8-2.5 .7-5.7-1.4-2.9-2.1-1.4 0-1.4 4.9-5.9 2.9 1.3 3.9-.4 .4-2-2.2 1.2-1.9-1.3zM401 39.5l3.5 1.3 1-.6 0-1.5-1.7-2.6zM420.9 40.2l.7 1.1 .7-.3-.7-1.5zM410 40.9l-1.2 3.8 1.4-.2 .7-1.6 0-1.7zM432.9 41.6l-2 7.8 .6 1.7 1.9-1 1.9-5-.7-2.8zM320.3 43.7l1 1.2 1-1.2-1-.7zM440.6 44.4l-.4 1.5 2 1.6 2.9-1.6-.8-1.8zM334.3 48l.5 2.6 3.4-2.6-.4-1.4zM361.9 48.7l.6 1.2 .7-.4 0-1zM348.8 49.4l1.6 3.3 2.7-.4-1.2-3zM334.3 53l-.5 1.4 1 .6 .7-1.5zM401.8 54.4l1.3 1.1 .8-.4-.8-1.3zM383.8 61.5l2.6 1.4 .3 3.6 2.1 1.6 1.5-.3 2-2-.1-2.2-4.1-2.3-2.1-2.4zM355.1 62.2l-1.4 2.1-.4 3.3-2.9-2.3-2.9 1.2 0 1.4 2.2 1.9 3.6-1.5 3.5 1.5 1.5-5.5-1.5-2.1zM371.1 62.9l-.1 1.4 2.2 1.5 .4-2.2zM460.7 38.5l2.9-.1 .7 1.8-1.5 1.1-4.2-1.1zM181.1 42.1l.9 .9-.9 .9-.8-.9zM475.7 42.3l2.1 .7-.6 2.1-2-1.4zM177.5 48.7l.7 1.4-1.4 .9-.3-1.6zM144.1 57.8l4.1 2.3-1.4 1.4-4.1 1.4-1.4-2.1zM195.3 65.6l1.4 .2 0 1-.8 .4zM218.8 69.3l1.4-.1 .2 .8 .1 2.9-1 .5-.9-1.2zM398.1 75.9l2.1 0 .5 1.2-2.9 .8zM.4 84.7l1.1 1-1.1 1.4zM186.1 98l1.7 1.9-.3 1.2-1.7-.5zM452.9 100.4l.9 .9-.9 .8-.8-.8zM61.5 104l1.5 .2-.7 1.8-1.4-1.1zM420.2 120.5l1.4-.6 .6 1.3-1.3 .4zM297.1 124l3.5 .9 .7 2-.7 1.4-2.8 .5-2-1.2-.4-2.1zM196 131.1l2.2 .7 .9 2.9-2.4 2.7-2.8 .8-1.5-1.3-.4-2.9 1.2-1.9zM80 140.9l1.5-.1 .6 1-1.5 .8zM73.6 143.8l1.1 .2-.3 1.2-1.1-.5zM400.9 148.9l1.5 .1 .3 1.4-1.8 0zM45.2 160.2l2.8 1.2 .2 1.1-1.6 .1zM183.9 163.7l2.6 2.3 .4 1.4-.8 1.3-2.9-1.9zM161.2 166l2.8-.3 1.1 3.2-2.6 2.1 .9 2.8-1.5 1.4-3.3-.6-1-2.9 1.3-4.3zM511.9 174.4l0 2.6-2-1.7zM220.2 182.9l1 .9-.3 1.4-2.8 1.7 0-1.7zM135.5 200.1l1.8 .8-2.5 .6-.5-.6zM93.6 202.8l.9 .9-.9 .8-.9-.8zM246.5 203l1.5-.3 .5 1-1.2 .4zM398.8 202.7l4.3 .8 .6 1.6-5.6 1.5-.9-1.5zM260.1 203.6l.7-.4 1.6 1.9-1.8 .7zM230.9 212l2.4 .9-3.3 0zM363.2 212.2l2.8 .7-3.7 0z" fill="#f9ecdc" fill-rule="evenodd"/><path d="M37.4 33.6l1.4 .6-.1 1.7-4.9 1.5-1.2-.8zM66.5 37.1l4.9 .2-.6 2.5-2.8 2.2-2.1-.4-1.2-1.4 0-1.5zM376.8 48.8l1.6 1.3-.9 1.8-1.4-1.1zM419.4 52.8l1.4 .2-1.4 2.9-.7-.8z" fill="#fdcd8f" fill-rule="evenodd"/><path d="M309.9 .4l1.7 0-.1 .7-.9 1.7-1.4 .4-.7-1.4zM104.2 .4l1.3 2.1-1.3 1.3-1.6-.6zM459.3 3.1l1.5 .1-.1 1.7-1.4 .3zM375.3 4.6l1.9 1.4-1.2 3.8-1.6-4.5zM30.2 8l1.3 .9-.3 .7-1.8-.7zM107.1 13.1l1.8 .1-3.2 3.7-1.5 .5 0-1.8zM126.3 14.4l2.1-.3 1.2 2.6-1.2 1.7-4.2 1.9-1.5 5.7-2.8 .8-5.1-2.3-.6-.7 .7-1.1 5-2.9 5-1.2zM117 16.1l1 1.3-3.1 2-.7-1.3zM132 16.5l5 1.5 0 3-5-1-.9-1.9zM294.9 17.1l1.2 .3 .5 1.4-.5 1.5-1.2 .4-.8-1.1zM92.1 19.5l2.6 2.9-1.2 3.6 2.2 1 4.3-1.1 4.2 3.4 2.2-.7 .9 .9-10.2 .6-2.1-.6-4.2-6.4-.2-2.1zM457.9 21.2l2.8 1.6 3.6-.7 2.8 1.2 3.6-.8 6.3 4.2-2.1 .9-7.8-.2-7.1 3.6-8.5-2.2-10.7 1.9-11.4-2.5-5 .5-2.8-1.5-3.6 .9-1.7-.7-.5-1.4 .8-2.2 11.4 1.5 8.5-2.8 2.9 1.9 4.2-1.6 5 1.9 2.9-1.1 3.5 0zM409.5 23.5l1.4-.3 .7 .9 .7 1.9-.7 1.7-4.2-1.7zM133.4 26.2l2.4 1.2 0 2.1-1.7 .6-1.4-.6-.3-2.1zM244.4 26.5l.7 1.6-.7 1.7-1.2-1.7zM484.9 35l2.1 .2 .7 .7-.6 1.4-2.2-.3-.7-1.1zM269.3 53.5l1.8 1.6-1.8 1.5-1.1-1.5zM183.9 58.4l1.5 .4 .4 2-2.1-.7zM448.6 62.7l1.4 .2 0 1.1-1.4 .1zM91.4 66.2l2.5 1-1 2.3-1.6-.9zM472.8 69.2l1.8 .1-1.8 1.5zM417.3 73.5l8.5 .2 4.2 1.3-1.8 3.6 .7 4.9-.6 6.4-3.2 1.9-4.2 5-1.3-3.3-3.7-1.7-7.1 2.2-1.7-2.6 1-1.8-5-.5-1-1.3 .4-5 2.9-2.1-.8-3.6 2-2.8 5.7 .6zM196 84.1l1.8 .9-1.1 1.6-1.9-.9zM220.2 84.2l.6 1.5-1.3 .6-.2-1.3zM366.8 84l5.3 2.4-.1 2.1-3 2.2-.1 2.1 .7 1.3 2.9 0 1.8 1.5-1.6 3.6 3.7 2.1-.3 3.6-.8 .5-3.5-1.7-3.6 .9-3.5-.4 3.6-7.1-2.2 .1-3.3-1.6 .9-4.9-3.4-3.6 1.5-1.5zM355.4 87.2l3.1 1.3-2.4 1.3-1.2-1.3zM400.9 94.5l2.9 2.2 4.3-1.8 5.2 5-2 5 1.7 4.2-3.1 10 .8 3.5-1 7.9-1.3 2.8 .4 1.5 4.2 1.7 5.7-2.5 5.7 1.5 2.2-1.5-.1-5 .9-2.8-1.6-2.1 .3-2.2-1.7-4-2.9-3.8 2.5-2.8-.7-2.9 1-2.1 9.4-5.9 3.2 3.8-2.1 4.9 .7 5 10.4 2.9 1.3 2.1-.2 3.5 3 2.8 1.3-4.2-.7-3.5 .9-1.1 7.8-.9 7.8 2.9 3.6-1.5 12.8 .9 .1 1.8-3 .9-4.7 9.1 1.9 .9 2.8-1.4 1.5 .2 1.5 4.5-.1 5-7.1 5-5-.6-4.3 3.4 1.2 5.7-1 2.1-2.3 1.7-2.5-2.4-3.2-1.2-4.3 3.9-5.7-3.1-7.1 3.6-5.5-1.7-4.4-2.8-2.6 3.5-2.4 .4-1-1.1 .5-2.9-3.1-2.8 1.4-3.6-2.1-3.5-5-4.2-1.5 2 2.2 2.4 .2 2.6-.9 .9-2.1-2.2-3.6 0-5.7-4.2-2.8 2.7-5.7 .6-3.4-4.9-.9-4.3 1.1-2.1-1.1-2.1 2.2-3.3-5-.8-2.6-3.8 1.6-4.2 3.6-2.9-3.5-9.2 3-2.9 2.8-7.8zM395 115.5l1 .8 1.4-.8 0-.7zM401 114.8l-.3 1.4 1.3 1.5 6.3 .7-.1-1.4-1.7-1.5-2.7-1zM431.4 117.7l2.3 2.3 2.4-2.3-1-1.2zM431.5 122.6l.2 2.2 2 .1-.7-2.1zM469 122.6l-3.3 1.5-2.1-1.4-1.3 2.1 3.4 2 3.6-1.6 3.5 1.5 1.5-.5 .3-1.4-1.8-2zM441.7 123.4l-1.4 2.8 1.2 1.9 4.2-2.6-.6-2.2zM402.4 126.2l-2.1 2.1-.1 2.4 4.3-1.8 .1-2.7zM450.4 126.2l-1.6 2.8 .5 1.5 4.1-.7 .2-2.2zM456.1 127.6l-.5 2.9 2.3 1.1 2.1-.4-1.4-3.5zM461.5 131.2l1.3 3.5-4 2.2-.8 3.5 .6 .8 6.6-5-.9-4.6-1.5-.9zM443.1 134l-.2 1.1 2.9 .5-.7-1.7zM428 139l-1.7 2.1 .1 1.5 3 2.6 2.1-.5 .6-.7-2-3.5zM462.6 144l.9 4.2 .8 .4 3-2.5-.1-5.7zM433.6 144.7l1.9 0 .3-1.4zM444.7 148.2l-1.5 2.2 1.1 1.4 2.2-1 .9-1.8-.9-1zM358.3 94.9l1.4 .7-.5 1.5-1.5-.8zM377.5 96.3l1.6 2.9 3.5 1.4 1 2.9-.4 1.9-2.2-.9-4.2-4.7-1.2-2.7zM137 101.2l4.3 .1 .9 2.2-2.4 2.3-5.7 1.2-3.5 2.8 .7 3.2-5.7-1.2 1.3 4.4-.6 1.7-2.8-.1-4.1-3-.7-1.4 .7-2.8-3.7-3.6 2.8-3.5 2.8-.6 1.4 2 1.5 .3 2.8-1.4 2.9 .5zM357.5 103.9l5 3.3 1.4-.3 5 4.9 0 4-2.1 .5-1.7-4.3-6.8-3.1zM282.8 106.3l5-.1 5.3 2.9-1.7 1.4-4.3 .3-1.9-2.4-1.7-.2-2.8 4-4.3-.2-2.8-1.6-1.4 1.9-1.6-.3 3.7-3.9 5 .7zM376.8 106.2l3.5 1.8 2.9-1.7 1.3 3.5-2.1 1.3-4.9-1.9-1.4-1.5zM265 107.4l1.5 1-2.9 3.9-2.2-2.5zM139.1 108.2l4.7 3.8 2.4 5 1.4 .5 2.9-.5 3.5 1.7 7.2 .1 3.5-3 4.3 .5 2.8 1.5 7.1-1.8 4 1.7 8.1 .2 2.9 1.1-.7 5.2-4.2 4.8 1.4 2.9-1.7 4.3 1.6 2.5-.6 6-1.5 1.8-3.6 .9-1.7 1.6 2.1 5.6-.5 2.2-3.4 1.2-2.9-6.3-2.1-.5-2.8 .8-3.6-2.3-1.3 2.1 4.9 1.2 1.8 5.2 2.1 2.1-.4 2.1-8.5 1-5-2.4-2.9 1.3-.8-.5-.9-5 1.7-.6 .7 .6-.2 2.1 1 .3 .2-3.1 3.1-3.6-4-8.4-2.9 1.9 .3 2.2-1 1.1-2.1-.3-3.6-2.4-2.1 2.2-2.9-.2-1.3-1.1-2.9-4.3 0-2.8 1.4-1.8 4.3-.3 .9-1.4-1.7-.9-4.2 .8-1.2-8.5-1.6-2.8 1.7-2.1 2.1-6.4-1.7-1.9-2.2 2-1.6-.1-.9-7.9zM160.5 130.5l.1 3.5 3.4 2.4 1.2-3.8-2.6-2.1zM152.7 141.8l1.3 1.5 2.4-2.9-.9-.6zM252.2 108.2l6.4 0 2 1.6-2.7 1.9-5.7 .3-1.2-2.2zM171.8 111.2l2.2 .1-1.5 1.9-1-.5zM227.3 110.6l.8 .7-.8 .7-2-.7zM238 114.1l1.5 1.4-1.5 1.4-.7-1.4zM134.1 114.8l2.7 1.4-4.1 4.9-.7-5.6zM278.6 118.3l2.8 2.6 6.4 .8 2.1-.9 3.6 .3 .4 1.5-1.6 3.6 1.5 3.6 7.1 2.8-.1 3.6 5.7 5.6-3.7 .2-1.7 2.7-2.6 1.3-7.1-1.6-5 2.8-2.2-1.1-1.4-4.3-1.5 4.3-4.9 .4-1.3-2.5-4-3.6 .4-2.8-1.8-2.9 .9-4.2-1.2-3.6 1.2-5.7zM304.2 120l1.8 1.2-1.1 1.7-1.4-1zM119.9 128.3l1.4 2.2-2.6-.7zM21.7 131.8l2.1 .3-.7 2.5-2.7-1.3zM303.5 132.6l1.3 .7-.6 .7-1.3-.7zM388.8 132.5l1.5-.1 1.3 1.6 1.6 5.7-1.5 2.2-1.8-.8-.3-2.8-2.1-3.6zM92.1 140.8l1.2 1.8-.4 1.2-1.5-1.2zM322.7 142.2l5 2.7 0 2.1-3.2 2 1 1.3 2.4 .1 1.2 3.5-1.1 4.3 1.4 2.8-.2 3.6-3 1.7-6-2.4 .1-2.1-2.5-2.9-1.8-7.1 .5-2.1 4.6-4.3zM62.3 147.3l2.1 .2-1.4 1.5-2.6 0zM495.6 147.3l2.5 .9-.4 4.5-2.1-.9zM190.3 150.4l1.2 .7-1.2 1.5-1.2-.8zM354 155.4l2.2 .7-2.2 1-.7-.3zM382.4 158.2l1.5 .5-.7 1.5-1.5-1.2zM109.2 166.4l2.3 .3-.1 1.5-2.2-.4zM186.1 175.8l1.5 .9-.8 1.4-1.7-.7zM43 180.5l.8 1 0 1.7-1.5-.1zM107.1 180.8l1.3 .9-.6 .8-1.1-.8zM282.1 181.4l1.4 .4 .8 1.5-2.2 .2-.8-1.1zM147.6 185.8l2 1.5-1.2 .3zM373.9 186.5l.6 .8-1.3 .6-.4-.6zM153.3 187.3l4.9 .8 .2 2.1-1.5 2-5.9 .1-1.1 3.6 .3 2.8-1.1 .5-1.5-5.7 2.9-2.4 1.2-3zM491.3 187.8l1.9 1-.5 1.2-1.7-.5zM164.7 192.9l1.3 .8-.3 1.5-3 .7-.2-1.4zM158.3 204.3l3.5 .8-3.5 .1zM141.9 210.4l2.2 .4-.4 2.1-3 0zM80.8 211.3l2.8 .1 1.4 1.5-5.2 0zM132.7 211.9l2.1-.2 .8 1.2-3.5 0zM151.9 211.6l1.1 1.3-1.9 0z" fill="#b3add5" fill-rule="evenodd"/><path d="M398.8 99.2l7.8-.2 1.5 .9 .5 1.4-1.6 3.6 .7 3.5 1.8 2.2-.7 2.1-3.6-1.2-9.9-.8 .4-6.5zM161.9 122.6l3.6 0 .1 1.5-1.6 2.3-2.7-1.6zM282.8 129.5l1 1-1 1-.8-1zM172.5 141.6l2 .2 .2 1.8-1.4 .5-1.4-.8z" fill="#7b6aaa" fill-rule="evenodd"/></g><g clip-path="url(#land)"><path d="M74.4 8.7l95.3-.2 .9 .4 .5 2.3 1.4 .2 7.2 0 2.1-.7 6.4 0 2.1-.7 6.4-.1 2.2-.7 19.2 0 2.1 .7 3.6 .2 .7 .4 2.8 .3 1.5 .6 4.2 .1 1.4 .7 1.9 .2-4 1.2-1.4 .7-1.4 1.4-.4 1 .6 2.1-4 5-1 2.2-.9 .9-5 2.8-5 1-.7 .5-2.8 .2-4.3 1.9-1.4 .2-3.6 1.9-1.4 .3-2.9 2.7-1.1 2.5-1 .8-4.3-1.8-2.8 .6-1.4-.7-4.3-4.3-1.7-2.4 .1-1.5 1.6-1.4 1 .7 .4 1 .8 .5 .2-1.5-.7-2.1-2.4-1.7-2.2-.2-4.6-5.2-2.5-1-.7 .1-.7 1.1-.7 .1-94.6 0-.9-.3-.2-.7 0-11.4zM312.7 79.8l1.4-.2 3.6 .9 3.6 3.3 2.8 1.5 5.7 6.3 1.4 .7 2.9 .3 1.7 .9 1.5 2.1 2.4 1.5-1.4 3.8-1.4 1.4-5.7 2.8-6.4 1.5-3.5 0-2.2-.8-4.2-4.8-.8-.6-.7 0-2.8 2.7-1.1 1.8-2.5 .9-5 .1-2.1 .7-10.7 .1-2.1 .7-12.1 0-2.1-.7-5-.1-2.1-.7-24.9 0-1.5-.6-2.8-.2-2.2-.7-2.1-1.4-1.6-4.5 0-1.4 1.1-3.6 .3-2.1 1.6-2.4 1.5-.2 9.2-4.8 5.7-.9 6.4-1.9 3.6-.3 1.4-.6 5.7 0 3.5 .9 5 1.9 5.7 .9 .7 .5 .7 0 2.2-1.7 4.2 .5 1.5 .6 7.1 0 1.4 .6 2.8 .1 3.6-.8 5.7-2.9z" fill="#d9d9d9" fill-rule="evenodd"/><circle cx="286.0" cy="30.9" r="1.4" fill="#1c1030"/><circle cx="297.8" cy="30.9" r="1.4" fill="#1c1030"/><circle cx="312.4" cy="30.9" r="1.4" fill="#1c1030"/><circle cx="326.7" cy="30.9" r="1.4" fill="#1c1030"/><circle cx="341.1" cy="30.9" r="1.4" fill="#1c1030"/><circle cx="249.0" cy="45.5" r="1.4" fill="#1c1030"/><circle cx="32.7" cy="43.7" r="1.4" fill="#1c1030"/><circle cx="56.2" cy="42.5" r="1.4" fill="#1c1030"/></g>
<use href="#holesp" fill="#fff"/>
<rect x="0" y="0" width="512.3" height="213.3" fill="none" stroke="#a6a6a6" stroke-width="1.3"/>
</g>
<g transform="translate(635.2,353.6)">
<g clip-path="url(#land)" filter="url(#spk2)"><use href="#landp" fill="#e1e0ef"/><path d="M87.2 .4l3.4 0-2 1.6-1.4-.5zM367.5 .4l2 0-1.3 1.3zM331.2 5.3l2.3 1.5-.9 2.3-2.2-1.6zM435.1 4.9l1.2 .4-.5 1.1-.9-.4zM207.4 9.6l2.9-.3 0 3-3.6-.5zM171.8 15l.8 .3-.1 2.5-1.1-.4zM174.7 19.5l1.4-.4 .9 1.2-.2 1.5-1.4 1.1-1.8-1.2zM29.5 24.9l9.3 3.2 3.5-2.2 7.2 1.1 2.8-1.1 2.8 2.1 3.6 .2 3.6-1.5 5.7-.6 3.5 1.5 4.3-1.9 2 1.7 1.3 3.5-.1 5.7 5.3 3.2 3.6-.8 5.7 .8 4.2 1.7 12.8-.8 6.4 1 4.3-2 4.3 .8 3.5-1.4 5.7 3.4 7.1-1.1 3.6 1.3 2.9-2.5 7.1 2.9 .9-.8-2.2-2.8 3-2.9-1.2-2.8 1.7-4.3 3.5-2.5 3.5 3.3 3.6-1.4 2.1 2-1.9 4.3 2.2 2.8-1.3 4.3 1.7 3.6-1.9 2.8-.4 4.3 2.1 3.5-1.2 2.2-3.6 2.1 2.5 2.1-.3 .9-6.4-1.7-9.3 .5-2.8 1.7-7.1-3.2-10 2.6-2.1-1.4-3.6 .4-2.8-1.3-6.4 .9-4.3-2-6.4 2.4-2.9-1.1-6.4 .5-4.9-2.3-5.7-.1-9.3 3.6-1.4 2.2-2.1 .4-5.7-3.7-5 1.7-2.2-3.2-2.8 0-2.1-1.4-2.2 1.5-.7 2.6-3.5-3-2.9 2.5-2.1 .2-3.6-3.1-2.1 3.1-3.6-1-4.2 1.5-3.6-1.5-4.3 .5-2.1 1.5-2.2-3.3-2.9-1.4 .9-5.7 2.1-2.2-.7-4.2 1-2.9-1.3-4.9-3.8-2.9 .1-1.4 2.6-2.1 2.1-4.4 2.8-1 2.9 1.5zM71.9 49.4l0 1.4 1 .4 .2-1.8zM142.7 53.7l1.9 2.1 1.5 0-1.3-2.3zM152.6 56.5l-.6 1.4 1.3 .9 .7-2.1zM.4 25.4l.7 2-.7 1.2zM308.4 27.8l1.5 .2 2.8 3.1 5.7-1 5 2.2 7.1-1.9 6.4 1.6 5.7-.7 2.8 2 4.3-2.3 7.8 .4 2.2-.8 1.4 .6 .3 2.6 1.1 .5 3.6-1.5 2.8-.1 3.6-2.8 6.3 2.5 2.2 2 .3-2.8 3.3-3.9 3.5 3.1 7.9 .8 3.5-1.6 2.9 2.8 2.1-1.1 6.4 .6 4.3-1.3 2.1 1.4 1.4-1.4 5 1.8 4.3 .1 3.5-3.4 4.3 1.6 3.6-1.6 1.4 .8 1.4 3.3 2.9 1.4 6.4-3.2 1.4 1 2.2 8.1-.6 7.1 1.9 4.3-1.4 5.1-1.4 1.5-10-.2-5.7 3.5-4.2-1.9-3.6 1.1-10.7-1.3-9.2 2-2.2 3 4.3 .7 2 3.5-1.3 3.3-3.5-1.2-1.5 1.5 .8 3.7 3.7 .5-.1 2.2-1.5 1.9-5-1.6-2.8-3.1-4.3 3.8-5-.5-2.8 .9-4.3-1.2-1.4-1.6 1.9-4.3-2.6-1.2-2.2 1-6.4 7.7-9.9-.4-3.6-2.2-14.9 3.9-2.3-1.7 2.6-2.8-.5-2.2-5.5 .6-3-1.3 2.3-.7 1-1.4 1.1-13.6-4.3-.1-8.5 2.1-4.3-1.9-4.9 .2-2.2-1.2-9.2 .5-4.3 1.5-3.6 2.8-2.1-2.7-5 .9-2.7-1.3-.1-1.4 2.5-5-5.9-4.3 2-.4 .8-1.7-.5-11.4 2.5-1.2 3.6 .9 1.5-3.2 4.2-2.6 4.2 .3zM305.3 38l.3 2.2 2.1 .4 .2-2.6zM311 43l-.3 2.1 1.3 .8 1-2.2-1-1.3zM343.8 44.4l.2 1.4 1.6-.7-.2-1.1zM349.4 45.1l-.5 1.5 2.2 .8 0-1.7zM366.4 62.2l-.3 2.7 2.1 .3 .5-2.3zM379.7 65.1l1.3 1.4 3.6-2.2 0-1.7zM370.8 67.9l-1.1 1.4 1.4 1 1.6-1 .3-1.4zM357.4 70l.1 1.9 2.9 .8 .6-2.7-1.3-1.1zM401.6 72.2l-.7 2.1 1.5 1.3 .7-1.5-.7-2zM445.1 74.8l1.1 .2-.4 1.6-1-.2zM49.5 77.7l1.4-.2 0 1.3-.7 .5zM90 77.7l2.1 .9-1.8 .7zM40.9 79.1l1.4 1.7-1.8-.1zM462.8 82.5l1.3 .3-.5 1.5-.8 0zM315.6 86.3l1.9 .8-.5 2.1-1.6-1.4zM463.6 87.5l1.9 1-.5 2.2-1.7-.8zM219.5 101.2l2.1 .1 .6 1.4-2.7 .1zM410.9 103.3l1.8 .9-1.8 1.5-.7-1.5zM357.5 110.5l1.6 3.6-2.3 1.1-.9-.4 .2-2.8zM193.9 115.4l.8 .8-1.5 3.4-.8-2.6zM463.6 116.1l2.1 .9 .4 2.8-1.1 1-2.8-1.7-.1-1.4zM410.9 117.2l1.4 .3 0 1-1.4-.1zM408.8 120.8l2.3 1.8-.2 1.2-2.1-.5zM415.9 122.4l1.4-.3 1.4 1.3-2.8 5.4-2.1-4zM392.4 124.4l5 3 5.8-2.6 .4 4.2 1.9 2.2-12.4-1.1-1.7-3.2zM297.1 126l3.5-.5 1.5 .7-.7 4.3-2.9 .5-3.5-1.2-.1-2.2zM123.5 127.6l2.2 0-2.1 1.4-.9 2-1.1-1.2zM511.9 127.9l0 4.7-1.8-1.4zM198.9 128.5l3 .5-3 .8zM169.7 130.2l4.2 1.7-2.1 3.2-3.1-2.5-.2-1.4zM410.2 131.6l1 1-1.7 1.5zM220.2 135.3l1.2 .1-.5 1.8-1.1-.3zM81.5 137.6l.7 1.4-3.3 .7 .1-1.4zM9.6 139.3l1.1 1.8-1.1 1.6zM400.9 140.4l2.3 .7-.8 2-2.1-1.3zM184.6 141.6l2.2 .3 .5 2.8-4.1 3.4-.7-2zM431.5 145.4l1.2 .7-.4 1.1-1.1-.4zM141.9 147.9l1 2.5-1 1-1.3-1zM72.9 156.6l1.8 .2-.2 1.4-1.6 0zM304.9 163.2l1 .7-.3 1.6-1.7-.9zM184.6 163.7l1.5-.3 1.5 1.2-.8 2.6-2.8-.5-.4-1.4zM101.4 166.4l1.3 .3-.6 2.3-.9-.8zM193.2 171.5l2.8-.1 .9 1.7-1.6 1.6-1.4-.1-1.7-1.5zM157.6 172.4l4.3-.2 .5 1.6-2 1.8-2.1-1.4-2.1 0zM159.7 180.2l1.5-.6 1.1 .6-2.3 5 1.9 4.3-1.5 .8-4.2-.5-.9-1.7 2-2.2zM491.3 188l1.8 .8-.4 1.6-2.1-.4zM283.5 188.6l1.9 .9-1.9 2.5-1.5-1.8zM477.1 192.3l1.1 .7 0 1.5-1.7-.8zM.4 193.3l2.3 1.2-.2 1.7-2.1 .3zM390.3 195.6l1.4 .5 0 2.5-2.1-.6zM50.9 211.9l1.7 1-2.6 0z" fill="#f9ecdc" fill-rule="evenodd"/><path d="M35.2 30.2l2.9 1.9 8.5-1.3 7.8 .7 2.9-.6 6.4 2.5 2.2-2.5 4.9-.6 1.9 1.3 .1 2.9 8 6.6 1.5 2.6-.1 2.9-5.7-.2-2.9-1.4-7.8-.1-2.1-1.7-3.6-.8-2.1-2.2-2.7 2.1 .6 1.8 2 1-.6 1.1-9.3 1.1-2.8-1.9-5.7 2.8-5-2.1-2.8 2.6-2.2 .7-1-.7-.5-2.8 2.3-1.5 .5-1.4-2-1-2.1 .8-.3-1.9 5.3-7.7zM49 42.3l-1 1.4 .7 .5 1.6-1.9zM386 41.4l2.1-.5 2.2 2.2 3.5 .9 2.2 1.8 4.2-2 2.9 3.5 6.4-1.1 1.4 2.6 6.4-3.2 6.4 2.1 2.1-.9 4.3 .4 1 3.6 7.7 5.7-1.6 1.2-4.2-1.4-2.9 1.9-3.5 .4-9.3-.7-7.1-2.9-4.3 1.9-14.9 .1-2.9 1.7-4.2-1.9-4.3 .1-1.6-2.5 2.2-3.6-.7-3.5zM382.9 49.4l.2 2.9 1.5 1.6 3.1-1.6-1-2.8-2.8-.7zM86.5 43.6l1.7 .8 .5 2.9-1.5 .3-2-1-.3-2.2zM113.5 44.4l3.5 1 6.5 5.8 3.5-.7 1.4 2.5-2.8 2.9-2.1-1.6-4.3 1.6-2.9-3.4-4.3 1.2-3.7-4.3-.1-1.4zM124.9 44.2l3.9 .9 1.7 2.2 .1 1.6-4.3 .3zM434.4 44.2l1.9 .2 .2 3.1-3.1-.9-.1-1.5zM98.5 47.1l1.5-.2 5.7 2.5 0 3.2-2.9 .5-4.2-3-1.1-1.4zM130.6 51.1l3.7 3.3 .3 1.4-1.2 .7-1.7-.7-1.8-3.5z" fill="#fdcd8f" fill-rule="evenodd"/><path d="M63 .4l2.3 0 .5 2.8-1.4 .1zM270 .4l4.5 0-2.3 1.4zM312 .4l3.1 0-1.7 1zM461.8 .4l-.4 1.6-1.4 0-1.3-1.6zM511.9 8.8l0 3.5-1.5-1.3zM313.4 12l.8 1.2-.8 .6-.6-1.4zM82.2 15l3.1 2.4-.3 1.2-1.4 .1-1.4-1.2zM147.6 17.4l2.5 1.4-.3 1.1-5.7 .4 .7-1.5zM114.2 20.2l1.9 .8-1.9 1.8zM100.7 22.3l2 .8 .4 2.1-4.6 1.8-.6-2.5zM92.1 25.9l1.5-.4 .9 1.2-1.6 1.1zM492 25.7l2 .3 5.8 6 1-1.1-.2-2.8 1.4-.8 1.8 .8 1.7 3.3 3.2 1-4.5 4.9-2.9 1.5-3.6-.2-3.5 1.1-3.6-1.5-2.8 3.5-.7-.8 .7-3.5 1.8-2.2 .7-7.1zM458.6 28l1.4-.4 1.3 1.2 .1 2.5-1.4 1.7-2.2-2.1zM144.8 29.3l2 .2 .4 1.4-1 2.4-2.1 .8-1.2-1.7zM112.8 30.2l3.5 .7 4.6-.7-4.6 6.3-3.5-3.5zM86.5 30.6l2.1 .6 .2 1.9-2.3-.7zM137.7 30.7l2.2 1.7-1.5 2.3-1.4-1.7zM511.9 31.5l0 8.8-.7 0-.7-.8 0-6.4zM460 33.4l3.6 1.2 1.9 3.4-.1 2.9-2.6 0-1.4-3.1-2.1 .5-.7-.8-.4-2.3zM171.1 66.6l1 1.3-1 3.6-1.6-1.5zM118.5 84.6l2.1 .4-.4 1.4-2 0zM144.1 87l1.7 .8-1.7 .8-.6-.8zM267.9 86.8l1.8 1-.4 1.9-1.4-1.1zM225.9 88.4l1.4 .6-.3 .9-1.8-.4zM61.5 95.3l3.6 .1 0 2.6-3.9-.2-.4-1.5zM250.1 98.1l.5 1.1-2.6 1.6-.6-.9zM479.9 98.4l1.4 .2 0 1.6-1.1-.3zM401.7 104l1.4 .8-.7 1-1.2-.9zM305.6 108.1l1.3 .3-.6 1.6-1.4-.2zM284.3 115.2l1.9 .3 .2 1.5-3.6 .3zM294.9 121.2l1.5-.2 1 .9-1.8 .8zM360.4 123.8l2.1 1-.7 2-1.4-.7zM432.3 132.4l2.3 .2-.9 2.1-2-.7zM160.4 138.7l2 1.7-1.2 2.1-1.9-2.1zM221.6 145.3l1.3 1.5-1.3 .7-.9-.7zM145.5 158l2.1-.2 .9 1.1-2.3 1-1.2-1zM400.2 162.2l1.5-.1 .4 1.1-.2 2.1-1.7 .8-1.6-1.5zM297.1 187.2l1.4-.3 .7 1.9-1.4 .4zM18.1 200.6l1 2.4-2.4 .9 0-1.6zM410.2 204.6l1 .5-.3 1.5-1.3-.8zM243.7 209.3l2.4 .1 .8 3.5-2 0zM35.2 211.3l1.5 1.6-2.5 0zM413 211.7l2.2 1.2-4 0z" fill="#b3add5" fill-rule="evenodd"/></g><g clip-path="url(#land)"><path d="M74.4 8.7l95.3-.2 .9 .4 .5 2.3 1.4 .2 7.2 0 2.1-.7 6.4 0 2.1-.7 6.4-.1 2.2-.7 19.2 0 2.1 .7 3.6 .2 .7 .4 2.8 .3 1.5 .6 4.2 .1 1.4 .7 1.9 .2-4 1.2-1.4 .7-1.4 1.4-.4 1 .6 2.1-4 5-1 2.2-.9 .9-5 2.8-5 1-.7 .5-2.8 .2-4.3 1.9-1.4 .2-3.6 1.9-1.4 .3-2.9 2.7-1.1 2.5-1 .8-4.3-1.8-2.8 .6-1.4-.7-4.3-4.3-1.7-2.4 .1-1.5 1.6-1.4 1 .7 .4 1 .8 .5 .2-1.5-.7-2.1-2.4-1.7-2.2-.2-4.6-5.2-2.5-1-.7 .1-.7 1.1-.7 .1-94.6 0-.9-.3-.2-.7 0-11.4zM312.7 79.8l1.4-.2 3.6 .9 3.6 3.3 2.8 1.5 5.7 6.3 1.4 .7 2.9 .3 1.7 .9 1.5 2.1 2.4 1.5-1.4 3.8-1.4 1.4-5.7 2.8-6.4 1.5-3.5 0-2.2-.8-4.2-4.8-.8-.6-.7 0-2.8 2.7-1.1 1.8-2.5 .9-5 .1-2.1 .7-10.7 .1-2.1 .7-12.1 0-2.1-.7-5-.1-2.1-.7-24.9 0-1.5-.6-2.8-.2-2.2-.7-2.1-1.4-1.6-4.5 0-1.4 1.1-3.6 .3-2.1 1.6-2.4 1.5-.2 9.2-4.8 5.7-.9 6.4-1.9 3.6-.3 1.4-.6 5.7 0 3.5 .9 5 1.9 5.7 .9 .7 .5 .7 0 2.2-1.7 4.2 .5 1.5 .6 7.1 0 1.4 .6 2.8 .1 3.6-.8 5.7-2.9z" fill="#d9d9d9" fill-rule="evenodd"/><circle cx="286.0" cy="32.0" r="1.4" fill="#1c1030"/><circle cx="297.4" cy="34.1" r="1.4" fill="#1c1030"/><circle cx="313.1" cy="32.7" r="1.4" fill="#1c1030"/><circle cx="334.4" cy="32.7" r="1.4" fill="#1c1030"/><circle cx="303.1" cy="39.8" r="1.4" fill="#1c1030"/><circle cx="313.1" cy="39.8" r="1.4" fill="#1c1030"/><circle cx="125.2" cy="30.7" r="1.4" fill="#1c1030"/><circle cx="129.5" cy="47.2" r="1.4" fill="#1c1030"/><circle cx="56.9" cy="42.7" r="1.4" fill="#1c1030"/></g>
<use href="#holesp" fill="#fff"/>
<rect x="0" y="0" width="512.3" height="213.3" fill="none" stroke="#a6a6a6" stroke-width="1.3"/>
</g>
<g transform="translate(1195.2,353.6)">
<g clip-path="url(#land)" filter="url(#spk2)"><use href="#landp" fill="#e1e0ef"/><path d="M128.4 .4l2.7 0-1.2 1.9-1.2-.5zM149.8 .4l2.7 0-1.3 1.3zM329.8 .4l3.3 0-1.9 2.3-1.4-1.1zM435.1 .4l3.6 0-.8 1-2.1 .3-1.1-.6zM446.5 .4l2 0-.6 1.5zM191.8 1.3l1.2 .5-.5 1.6-1.5-.2zM.4 2.4l1.4 .4 .5 2.5-.3 1.5-1.6 1zM461.4 8.4l1 .5-1 2-.9-.6zM227.3 16.6l.8 .8-.8 1.4-2.1 .2zM352.6 16.9l2.1 3.7 3.6 .1 5.6-2.8 4.3 1 5 2.8 5-2.3 4.2 1.3 2.9-1.2 5 .3 14.9-1.8 6.4 .8 4.3 1.6 3.5-2.1 8.6 2 2.8-1.6 3.6 2.2 9.9-3.1 3.6 1.9 3.6-2 2.1 .2 3 3.1-1.8 4.2 .7 3.6-1.8 8.5-1.5 1.4-2.9 0 1.6 3.6-.8 19.2-2.9 2.3-5.7 1.6-4.3-1.4-9.2 .1-8.6 5.6-3.5-.9-7.8 1.7-5-1.4-1 .9 .3 1.5 4.8 2.1 1 6.4-.7 1.4-4.4 2.5-1.4 2.3-15 2.3-12.1-.8-7.8-2.1-7-5.6 2-4.7 7.8-6.2 5.7-1.4 2.9 .8 2-1.3-.4-1.4-5.2-2.2-7.8 1.8-5-2-4.3 1.2-4.2-1.1-2 .8-1.6 2.8-3-2.8-2.7-.8-13.5-.7-2.8 1.5-7.2-1.1-6.4 1.1-2 3.6-1.3 .7-4.5 .6-6.4-1.3-9.2 1.4-2.2 1.2-1.9-2.6-3.1-1.9-2.1 1.2-7.1 1.5-4.3-2.8-2.8 2.5-4.1 .2-3 1.5-10-2.5-5 .9-2.7-2-.3-4.3-2-2.8 2.6-3.6-2.6-5 2.4-4.2-1.9-10.7 1-1 5.7 .7 7.1-4.1 3.5 2.4 3.6-.4 6.4 1.2 6.4-2 5 2.5 6.4-2.6 5 2.6 4.2-2.2 8.6 .9 7.8-1.6 1.8 1.5 1.6 4.9 1.6 .9 2.1-1.9 2.1-5.5 5 1 12.8-1.7 1.2-1.3 1.7-10.5 9.2 .1zM447.1 33.1l-1.3 2.8 2.8 2.2zM397.3 35.9l.7 2.1 3.5 0 0-1.4-1.3-.9zM414.4 35.9l1.5 1.5 2.2-.1-2.9-2.1zM383 65.1l-1.2 .7 .8 1.4 2 .6 1.2-.6-.7-1.4zM18.9 20.2l1.5 .8-.8 1.6zM265 25.2l1.2 1.5-1.2 1.1-1.4-1.1zM21 26.6l8.5 .3 2.9-.8 4.2 1.1 3.6-.9 4.3 1 5.7-1.1 17 1.6 8.6-1.7 5.7 .4 4.2 2.4 1.3 12.7 1.3 1.4 11 1.5 3.5-.4 6.4 1.6 6.4-.2 3.6-2 6.4 1.8 2.8-1.6 14.3 1.8 4.2-1.4 10 1.7 2.1 3.4 3.6-2.1 6.4 2.3 2.8-1.4 3.4 4.3-.9 7.8-1.1 2.1-3.5 1.6-.8 4.8-7 3.3-1.5-.5-2.1-3.8-9.2 2.8-1.5-.4-1.8-3.5-6-.9-.8 .2 .2 4.9-.8 .6-5-.8-3.5 .5-3.6-2.9-3.3 2.6-4.5 1.4-6.4-3.2-5.7-1.2-1.2 .9 .2 1.4-4 2.1-2.1-2.8-9.3 1.8-4.3-4.5-2.1 3.9-2.1-2.2-2.9 .2-.8-1.3 2.9-1.4 1.5-2.6 7.8-1.2 5 1.6 3.5-.6 2.2 .8 2.8-2.1 2.2 2.2 0-2.1-2.2-.4-1-2-1.8-1.2-5.7 1.5-3.6-1-7.1-.1-9.2 1-4.3-1.6-9.3 1.4-4.9-1.2-11.4 .8-6.4-.8-8.6 1.2-12.1-1.7-2.4-1.9-.7-5 .8-18.4 1.6-4.1zM196 53.6l.7 .8-1.4 1-.3-1zM482.8 73.4l1.6 .2-.2 2.1-1.8-.7zM206 75.7l1.8 .7-1 1.5-1.4-.8zM283.5 93.2l1.9 1.7-2.2 0zM317.7 99.7l2.8-.2 .5 2.5-1.2 1.7-4.2 1.3zM160.4 102.5l2.3 .2 .4 1.5-2.7 2.4-1.4 .1-.8-1.8zM146.2 103.2l1.4 .6 0 1.2-1.5-.1zM427.3 104.8l1.2 1.5-1.9 1-.9-1zM381 109l0 .8-2.1 .6-.8-.6zM24.5 114.6l2.2-.5 .8 .7-1.5 1.8zM382.4 116.2l1.5-.4 1.6 1.9-3.1 .2zM74.4 120.4l1.9 1.5-.5 1.3-2.2-.6-.2-1.4zM195.3 120.8l1.4 0-.1 1.1-1.8 0zM444.3 128.7l1.4 .3-2.1 1.8-.4-1zM328.4 137.3l1.2 1-.5 .7-1.4-.4zM204.6 146l.5 1.5-1.2 1.1-.7-1.1zM472.1 151.7l1.2 .8-.5 1.6-1.5-.9zM229.5 152.3l1 .2-.3 1.6-.9-.2zM154 156.6l6.4 1.1 2.9 3.3 .9 4.3-.6 4.3-2.1 4.2 2.3 7.9-2.2 4.2 .1 5 1.2 3.6-1 4.2-2.2 1.2-4.2-.5-2.7-3.5 1.1-4.3-2.3-9.9 2.2-7.1-.3-7.9 1.9-3.5-1.4-3.6zM457.9 156.8l.9 1.4-.9 1.6-1.4-1.6zM378.2 160.7l2.1 .3-.3 1.5-2.2 0zM281.4 161.7l15.7 1.8 4.2 1.8 3.7 4.3-4 6.4 1.5 2.8-1.5 0-1.8-1.7-3.6 1.8-4.2 .1-5-2.5-5.7 .9-2.2-.7-.8-2.1 1.7-3.6-1.4-4.3 1.9-4.2zM419.4 168.7l2.2 .2 1.5 2.8-6.5 3.6-1.8-2.9zM410.2 171.6l2.8 .1-1.4 1.5-2.8 1-.2-1.1zM511.9 171.5l0 3.8-.8-1.5zM493.4 181.6l1.5 .8-1.5 1.5-1.1-1.5zM326.2 185.9l1.5-.4 .7 1.1-3.8 2.2zM450.8 186.6l2.1 .6 0 1.3-2.9-.3zM349 194.4l4.3 .2 1.3 2-2 .4zM317.7 199.2l1.3 .2 .2 1.5-1.5 1.6-1.6-1.6zM385.3 200.6l1.7 1-1 1.3-1.8-.6zM271.4 211.8l2.1 1.1-3.1 0zM287.8 211.6l1.2 1.3-3.4 0z" fill="#f9ecdc" fill-rule="evenodd"/><path d="M23.8 28.8l20.7 .5 13.5-1 10 1.4 14.2-.4 1.4 1 1.1 4.2 0 8.5 1.1 1.4 11.3 2.6 7.1-.9 5.7 2.1 12.1-1 3.6 .9 4.3-1.5 4.5 1.4 .2 1.4-1.4 2.1 .9 1.3 2.2 .2 2.8-1.3 .5 1.3-11.2 9.3-2.8-1.5 2.3-2.1 .1-1.5-1-.5-2.1 1.7-.3 2.4-6.1 1.4-7.9-.8-2.4-4.9-1.8-.8-11.4 1.8-16.4-1.8-3.5 1.2-12.1-1.1-10.7 1-31.3-.7-2.5-1-.6-1.4 .2-21.3 1.5-2.9zM354.7 28.4l2.3 1.8-.9 2.4-1.7-3.1zM355.4 34.2l5.7 2.7 2.8-.6 2.9 .8 5.7-2.3 2.8 3 4.3-1.6 2.8 .2 2.2-1.5 2.1 4.7 8.6 1.4 12-1.1 15 .7 5.7-1.7 8.5 1.2 5-.3 5 1.6 1.4 1.6-.7 9.3 .7 8.3-2.1 1.5-5 1-3.6-1.2-9.9 0-7.9 4.8-1.4-.5-2.1-3.8-5.7-1.6-4.3 4.4-3.5-3-.1 2.1-2.1 1-.9-1.7 1.1-2.1-.9-.9-1.5 .9-.6 3.6-2.1 .8-3.6-3-5 .6-13.5-2.5-14.2-.2-2.9 1-11.4-1.7-3.5 1.2-5.7-.5-1.1-.7 1.8-2.9-1.4-1.3-2.2 .8-.7 2.5-2.1-.2-2.9 1.9-3.5-1.1-4.3 0-2.1 1.9-5-.9-5 2.7-2.4-.6 .7-4.2-1.1-1.4-7.1 5.9-2.2-2-2.1 .7-4.3-1.2-5 .7-2.9-.6-3-2.9-.9-5.6-1.5-2.9 .5-2.1 4.1-1.4-.1-2.9 1.7-3.9 6.4-1.1 6.6 3.6 1.2 2.8-.2 2.9-1.9 1.8-2.8-.6-1.7-1.2-1.2-3.7-3.5 3.7 2.1 2.1 .7 3.4 1.4-.5 1.2 2.8 3.1 1.1 2.4-7.5 1.2-1.1 2.8 .1 1-1.1-.3-7.2 5.7 .8 1.8-2.9 1-.1 6.5 7.2 9.2-8.6 8.5-.9 9.3 1.6 2.1 1.6 1.4-3.6 7.2 1.3zM332.3 39.5l-.3 2.1 1.4 .8 .8-2.2-.8-1zM308.8 52.3l0 1.4 3.1 0-1.3-1.4zM144.9 48.7l-2.1 2.8 2.7 3.6-2.1 .9-1.4-2.3 .4-2.9-1.1-.7zM374.6 70.7l9.3-.3 14.2 1.6 5.8 3 1.6 3.6-1 1.5-7.1 4.8-5.7 0-5.7 1.2-11.4-.9-9.2-3.9-2.3-2.7 .1-1.7 3.7-3.3z" fill="#fdcd8f" fill-rule="evenodd"/><path d="M58 30.2l4 .7 2 1.5 .2 2.1-2.8 4.2 .1 .9 2.9 1 2.6-1.1 1-4.2 3.5 0 2.9-1.7 6.4 .6 2.1 6 0 4.2 .8 1.5 8.4 1.3 3.6 3.1 5.7 .1 .8 2.6-2.9-.9-3.6 2.7-2.1-1.1-3.6 1-7.1 .1-6.4-4-2.9-.7-2.2 .7-2 2.2-2.9-1.7-6.4 3-7.8 .2-2.7-1.5 .8-3.6-.9-1-7.9 3.9-1.4-.4-1.4-2.7-1.4 1.1-5.7-1.7 1.1-2.7-1.5-2.9-1.8-1.7-2.8-.1-.7-1 .1-2.9-1.2-2.8 1.1-3.6 9.9 .6 11.4-.7 5.7 .8zM55.6 39.5l-2 1.4 2.5 3.5-2.5 5 .2 1.4 1.3 .7 6.4-2.4 3-6.1-.8-1.6-1.4-.3-2.9 1.5-2.1-2.7zM37.3 43.7l-1.5 1.4 2.3 .5 .3-1.2zM381.7 40.1l2.2 .5 3.5 3.5 5.7 2.4 9.3-3.1 9.9-1 7.1 2.1 4.3-.5 5 3.3 .2 4.2 1.2 1.3 1.8-1.3-1.1-2.8 .6-2.1-.5-2.2 9.9-2.7 3.7 2.7-.9 3.7-3.5-2.8-4.3-.6-1.4 1.9 5.1 2.1 .8 2.8 2.7 3.6-.1 2.1-3.5 2.8-9.3 .2-7.5-3-3.2 .6-2.8-.9-11.4 2.3-7.1-3.3-5.7-.6-1.4 .5-2.2 2.6-4.2-.8-2.9 1.3-3.3-.2-1-1.5 2.5-2.8-.6-.7-3.3-1.5-3.5 1.8-2.5-3.2-.2-.7 4.1-2.6 .7-1.6-.7-1.7-3.5-2.6 6.4 0zM386.8 52.3l-1.5 2.1 .7 1 3-1.7-.2-1.4zM22.4 42.1l3.1 .9 .3 1.4-1.5 2.9 1.7 3.5 3.7 1.5-.9 1.8-3.6-.4-4.2-5.1-.8-3.5zM378.2 72.2l5.6 2.1-2.2 1.4 1.5 2.2-3.5 3.5-4.3 .4-.7-1.1 2.3-4.3-2.8-1.4 1.8-2.1zM388.8 74.2l4 .8 4.1 2.9-2.4 4.3-1.8-.1-.6-2.8-4-3-3.5-.3-.6-1zM366.8 78.5l1.4-.5 .9 1.3-1.6 .4z" fill="#f1a545" fill-rule="evenodd"/><path d="M39.5 33.8l1.4-.7 3.6 1.7 2.8-1.5 1.4 .3-.5 5.1-3 1.7zM73.6 38.4l1.5-.3 3.5 1.9 1.6 2.3-.4 2.1-4 1.9-2.6-.4-1.4-5zM406.6 46.5l2.9-.2 3.5 1.7 3.6-1 4.3 .6 3.7 3.9-5.2 3.3-1.1-1.1 2.4-2.9-2.7-1.9-1.4 0-2.5 2.6-1.2 2.9-2 .9-5-1.7-2.8 1.1-2.2-1.8-4.2-.3-1.8-1.1 .4-1.5 3.5-1.4 5.7 .4zM88.6 49.2l1.4-.3 .7 1.2-1.4 .6z" fill="#dc7c12" fill-rule="evenodd"/><path d="M472.8 .4l2.9 0-1.5 1.8zM320.5 3l1 .2 .3 1.4-.5 1.9-1.5 .8-1-1.3zM272.2 8.6l1.3 .3 .4 1.4-1 1.4-2.1-1.4zM117 18.1l1.1 .7-.3 1.5-1.4-.7zM89.3 18.6l3.6 .2-1.5 5.3-1.3-.3-.1-3-1.8-1.2zM102.8 18.3l1.1 1.3-.4 .9-1.1-.9zM156.2 19.2l1.7 1.1-1.7 2.3-1.2-1.6zM164 20.7l2.9 1 .3 2.8-1.1 1.1-4-1.8zM511.9 22.1l0 3.3-1-1.6zM104.2 23.6l4.3 2 1.9 6-4.7 1.6-1.5-.9-1.1-2.8zM472.1 26.3l7.1 .6 0 2.8-.7 .9-2.1-.2-2.2 1.2zM491.3 26.4l5 3.2 2.1-.7 2.2-2.2 4.9 .6 1.3 1.5 .5 4.3 4.6 1.1 0 3.2-3.5 .2-1.9 1.1 1 4.3-.5 1.4-2.9 .2-7.1-2.4-3.6 3.4-5.2-.5-2.8-4.9-.2-2.9 4.2-4.2zM123.5 28l2.8 1.9 3.6-1.1-1.5 2-2.1-.4-2 2 1.3 3.5-.6 2.1-3.7 2.2-5.7-.3-2.8 .9-.6-.6 4.2-3.6 1.5-5.7zM460.7 28l2.1 .2 4.2 2.7 2.5 3.6 1.2 4.1 2.8-1.2 2.9 1.5 3.5-2.6 2.9-.1-2.3 4.7 3.1 1.4-.8 3.8-2.1-.2-2.2-3.7-4 .8-1.7 2.2-3.7-.8 .9-5.6-3.1 1.4-1.3 3.5-4.2 .4-1.2-1.8 .5-1.4 5.2-2.2-.9-4.8-3.6 3.3-2.8-.3-1.4-1.5 1.5-5.9zM149.8 28.6l1.4-.4 1.1 1.3-1.8 3.3-1.6-1.9zM90 29.5l1 1.4-1.7 .9-.2-1.6zM163.6 29.5l-.2 .7-2.2 .2-3.6 5-3-3 .9-2.5 4.9 .4zM144.8 31.1l1.6 1.3-.9 5-7.1 .6-.1-2.1zM94.3 32.2l1.4 0 1 1.6-.3 2-1.4 .8-1.4-.2-1.2-1.9zM112.8 33.4l1.5 1.1-1.5 1-.9-1zM93.1 39.5l-.2 1.3-1.8-.6zM31 65.7l1.4-.3 .4 1.1-1.8 .3zM40.2 78l1.8 .6-.4 1.1-2-.4zM2.5 81l1.4 .2 0 1.6-1.4-.4zM58.7 96.3l.5 2.2-1.9 .4-.5-1.1zM511.9 97.1l0 2.9-2.1-1-.2-1.2zM302.8 101.9l2.5 1.6-2.5 9.5-2.9-.8-3.5 1.5-1.5-3.3-5.7 3.4-4.9 .3-3.6-1.4-3.6 2.7-3.5-2-2.2 .3-1.3-1.7 .6-1.6 2.2 .9 3-3.6 3.4 .2 5-2.7 5.6 2 5.7-2.7 1.2 1.1-.4 2.7 3.5-4.8zM28.8 104.1l2.3 1.5-.9 2.1-1.8-.7zM260.1 104.8l4.5 2.9-1 5.3-10.7 .7-8.5-2.1-2.8-2.5 .1-1.4 2.7-.2 3.6-2 7.1 1.1zM240.1 110.5l1.5 .6 .3 1.6-2.5 1.5-.8-2.2zM232.3 120.4l1 .8-1 1.3-1.1-1.3zM267.9 132.5l1.6 .8-2.4 .7-.3-.7zM55.9 139.2l.3 1.2-2.5 2.1-5.8-.7 .4-1.4 2.6 .4zM278.6 141.8l.5 1.5-1.2 .4-.3-1.1zM80.8 142.6l1 .7-.3 1.4-1.4-.7zM374.6 149.4l1.1 .3 .3 1.4-2.8 1.6-.3-1.6zM193.9 157.9l1.5 .3-.1 3.1-2.3-1zM255.1 178.8l1.5 1.4-1.5 2.2-.9-2.9zM357.5 179.3l1 .9-1 .9-.7-.9zM450.8 180.8l1.4 1.6-.7 1-1.5-1zM500 185.2l.4 1.4-3.8 .7-.3-.7zM82.9 187l2.1 1.1-2.1 .2zM437.2 187.9l1.8 .9-.3 2-1.6-.6zM133.4 199.4l1.3 .7-2 1.7-.5-1.7zM16.7 204.1l1.7 3.2-1 1.3-1.5-1.3z" fill="#b3add5" fill-rule="evenodd"/></g><g clip-path="url(#land)"><path d="M74.4 8.7l95.3-.2 .9 .4 .5 2.3 1.4 .2 7.2 0 2.1-.7 6.4 0 2.1-.7 6.4-.1 2.2-.7 19.2 0 2.1 .7 3.6 .2 .7 .4 2.8 .3 1.5 .6 4.2 .1 1.4 .7 1.9 .2-4 1.2-1.4 .7-1.4 1.4-.4 1 .6 2.1-4 5-1 2.2-.9 .9-5 2.8-5 1-.7 .5-2.8 .2-4.3 1.9-1.4 .2-3.6 1.9-1.4 .3-2.9 2.7-1.1 2.5-1 .8-4.3-1.8-2.8 .6-1.4-.7-4.3-4.3-1.7-2.4 .1-1.5 1.6-1.4 1 .7 .4 1 .8 .5 .2-1.5-.7-2.1-2.4-1.7-2.2-.2-4.6-5.2-2.5-1-.7 .1-.7 1.1-.7 .1-94.6 0-.9-.3-.2-.7 0-11.4zM312.7 79.8l1.4-.2 3.6 .9 3.6 3.3 2.8 1.5 5.7 6.3 1.4 .7 2.9 .3 1.7 .9 1.5 2.1 2.4 1.5-1.4 3.8-1.4 1.4-5.7 2.8-6.4 1.5-3.5 0-2.2-.8-4.2-4.8-.8-.6-.7 0-2.8 2.7-1.1 1.8-2.5 .9-5 .1-2.1 .7-10.7 .1-2.1 .7-12.1 0-2.1-.7-5-.1-2.1-.7-24.9 0-1.5-.6-2.8-.2-2.2-.7-2.1-1.4-1.6-4.5 0-1.4 1.1-3.6 .3-2.1 1.6-2.4 1.5-.2 9.2-4.8 5.7-.9 6.4-1.9 3.6-.3 1.4-.6 5.7 0 3.5 .9 5 1.9 5.7 .9 .7 .5 .7 0 2.2-1.7 4.2 .5 1.5 .6 7.1 0 1.4 .6 2.8 .1 3.6-.8 5.7-2.9z" fill="#d9d9d9" fill-rule="evenodd"/><circle cx="273.2" cy="44.1" r="1.4" fill="#1c1030"/><circle cx="300.3" cy="41.2" r="1.4" fill="#1c1030"/><circle cx="314.5" cy="41.9" r="1.4" fill="#1c1030"/><circle cx="327.3" cy="42.7" r="1.4" fill="#1c1030"/><circle cx="284.6" cy="35.5" r="1.4" fill="#1c1030"/><circle cx="280.3" cy="46.9" r="1.4" fill="#1c1030"/><circle cx="132.3" cy="60.4" r="1.4" fill="#1c1030"/><circle cx="139.5" cy="64.0" r="1.4" fill="#1c1030"/><circle cx="141.6" cy="67.8" r="1.4" fill="#1c1030"/><circle cx="145.9" cy="66.0" r="1.4" fill="#1c1030"/></g>
<use href="#holesp" fill="#fff"/>
<rect x="0" y="0" width="512.3" height="213.3" fill="none" stroke="#a6a6a6" stroke-width="1.3"/>
</g>
<polygon points="149.6,261.6 130.3,268.5 149.6,275.3" fill="#053061"/>
<polygon points="513.5,261.6 532.8,268.5 513.5,275.3" fill="#6e0b22"/>
<rect x="149.60" y="261.6" width="40.83" height="13.7" fill="#1b5698"/>
<rect x="190.03" y="261.6" width="40.83" height="13.7" fill="#2f6fb3"/>
<rect x="230.47" y="261.6" width="40.83" height="13.7" fill="#4496c8"/>
<rect x="270.90" y="261.6" width="40.83" height="13.7" fill="#8fc3de"/>
<rect x="311.33" y="261.6" width="40.83" height="13.7" fill="#c8dff0"/>
<rect x="351.77" y="261.6" width="40.83" height="13.7" fill="#e4edf5"/>
<rect x="392.20" y="261.6" width="40.83" height="13.7" fill="#fde3d5"/>
<rect x="432.63" y="261.6" width="40.83" height="13.7" fill="#f39c78"/>
<rect x="473.07" y="261.6" width="40.83" height="13.7" fill="#cc3340"/>
<polygon points="149.6,261.6 513.5,261.6 532.8,268.5 513.5,275.3 149.6,275.3 130.3,268.5" fill="none" stroke="#000" stroke-width="1.2" stroke-linejoin="miter"/>
<line x1="149.6" y1="275.3" x2="149.6" y2="283.6" stroke="#000" stroke-width="1.4"/>
<text transform="translate(152.6,318.1) rotate(-45)" text-anchor="middle" font-size="17.9">−3.0</text>
<line x1="190.0" y1="275.3" x2="190.0" y2="283.6" stroke="#000" stroke-width="1.4"/>
<text transform="translate(193.0,319.1) rotate(-45)" text-anchor="middle" font-size="17.9">−2.5</text>
<line x1="230.5" y1="275.3" x2="230.5" y2="283.6" stroke="#000" stroke-width="1.4"/>
<text transform="translate(233.5,318.1) rotate(-45)" text-anchor="middle" font-size="17.9">−2.0</text>
<line x1="270.9" y1="275.3" x2="270.9" y2="283.6" stroke="#000" stroke-width="1.4"/>
<text transform="translate(273.9,319.1) rotate(-45)" text-anchor="middle" font-size="17.9">−1.5</text>
<line x1="311.3" y1="275.3" x2="311.3" y2="283.6" stroke="#000" stroke-width="1.4"/>
<text transform="translate(314.3,318.1) rotate(-45)" text-anchor="middle" font-size="17.9">−1.0</text>
<line x1="351.8" y1="275.3" x2="351.8" y2="283.6" stroke="#000" stroke-width="1.4"/>
<text transform="translate(354.8,319.1) rotate(-45)" text-anchor="middle" font-size="17.9">−0.5</text>
<line x1="392.2" y1="275.3" x2="392.2" y2="283.6" stroke="#000" stroke-width="1.4"/>
<text transform="translate(395.6,313.1) rotate(-45)" text-anchor="middle" font-size="17.9">0.0</text>
<line x1="432.6" y1="275.3" x2="432.6" y2="283.6" stroke="#000" stroke-width="1.4"/>
<text transform="translate(436.1,313.1) rotate(-45)" text-anchor="middle" font-size="17.9">0.5</text>
<line x1="473.1" y1="275.3" x2="473.1" y2="283.6" stroke="#000" stroke-width="1.4"/>
<text transform="translate(476.5,313.1) rotate(-45)" text-anchor="middle" font-size="17.9">1.0</text>
<line x1="513.5" y1="275.3" x2="513.5" y2="283.6" stroke="#000" stroke-width="1.4"/>
<text transform="translate(517.0,313.1) rotate(-45)" text-anchor="middle" font-size="17.9">1.5</text>
<polygon points="709.6,261.6 690.3,268.5 709.6,275.3" fill="#053061"/>
<polygon points="1073.5,261.6 1092.8,268.5 1073.5,275.3" fill="#6e0b22"/>
<rect x="709.60" y="261.6" width="40.83" height="13.7" fill="#1b5698"/>
<rect x="750.03" y="261.6" width="40.83" height="13.7" fill="#2f6fb3"/>
<rect x="790.47" y="261.6" width="40.83" height="13.7" fill="#4496c8"/>
<rect x="830.90" y="261.6" width="40.83" height="13.7" fill="#8fc3de"/>
<rect x="871.33" y="261.6" width="40.83" height="13.7" fill="#c8dff0"/>
<rect x="911.77" y="261.6" width="40.83" height="13.7" fill="#e4edf5"/>
<rect x="952.20" y="261.6" width="40.83" height="13.7" fill="#fde3d5"/>
<rect x="992.63" y="261.6" width="40.83" height="13.7" fill="#f39c78"/>
<rect x="1033.07" y="261.6" width="40.83" height="13.7" fill="#cc3340"/>
<polygon points="709.6,261.6 1073.5,261.6 1092.8,268.5 1073.5,275.3 709.6,275.3 690.3,268.5" fill="none" stroke="#000" stroke-width="1.2" stroke-linejoin="miter"/>
<line x1="709.6" y1="275.3" x2="709.6" y2="283.6" stroke="#000" stroke-width="1.4"/>
<text transform="translate(712.6,318.1) rotate(-45)" text-anchor="middle" font-size="17.9">−3.0</text>
<line x1="750.0" y1="275.3" x2="750.0" y2="283.6" stroke="#000" stroke-width="1.4"/>
<text transform="translate(753.0,319.1) rotate(-45)" text-anchor="middle" font-size="17.9">−2.5</text>
<line x1="790.5" y1="275.3" x2="790.5" y2="283.6" stroke="#000" stroke-width="1.4"/>
<text transform="translate(793.5,318.1) rotate(-45)" text-anchor="middle" font-size="17.9">−2.0</text>
<line x1="830.9" y1="275.3" x2="830.9" y2="283.6" stroke="#000" stroke-width="1.4"/>
<text transform="translate(833.9,319.1) rotate(-45)" text-anchor="middle" font-size="17.9">−1.5</text>
<line x1="871.3" y1="275.3" x2="871.3" y2="283.6" stroke="#000" stroke-width="1.4"/>
<text transform="translate(874.3,318.1) rotate(-45)" text-anchor="middle" font-size="17.9">−1.0</text>
<line x1="911.8" y1="275.3" x2="911.8" y2="283.6" stroke="#000" stroke-width="1.4"/>
<text transform="translate(914.8,319.1) rotate(-45)" text-anchor="middle" font-size="17.9">−0.5</text>
<line x1="952.2" y1="275.3" x2="952.2" y2="283.6" stroke="#000" stroke-width="1.4"/>
<text transform="translate(955.7,313.1) rotate(-45)" text-anchor="middle" font-size="17.9">0.0</text>
<line x1="992.6" y1="275.3" x2="992.6" y2="283.6" stroke="#000" stroke-width="1.4"/>
<text transform="translate(996.1,313.1) rotate(-45)" text-anchor="middle" font-size="17.9">0.5</text>
<line x1="1033.1" y1="275.3" x2="1033.1" y2="283.6" stroke="#000" stroke-width="1.4"/>
<text transform="translate(1036.5,313.1) rotate(-45)" text-anchor="middle" font-size="17.9">1.0</text>
<line x1="1073.5" y1="275.3" x2="1073.5" y2="283.6" stroke="#000" stroke-width="1.4"/>
<text transform="translate(1077.0,313.1) rotate(-45)" text-anchor="middle" font-size="17.9">1.5</text>
<polygon points="1269.6,261.6 1250.3,268.5 1269.6,275.3" fill="#053061"/>
<polygon points="1633.5,261.6 1652.8,268.5 1633.5,275.3" fill="#6e0b22"/>
<rect x="1269.60" y="261.6" width="40.83" height="13.7" fill="#1b5698"/>
<rect x="1310.03" y="261.6" width="40.83" height="13.7" fill="#2f6fb3"/>
<rect x="1350.47" y="261.6" width="40.83" height="13.7" fill="#4496c8"/>
<rect x="1390.90" y="261.6" width="40.83" height="13.7" fill="#8fc3de"/>
<rect x="1431.33" y="261.6" width="40.83" height="13.7" fill="#c8dff0"/>
<rect x="1471.77" y="261.6" width="40.83" height="13.7" fill="#e4edf5"/>
<rect x="1512.20" y="261.6" width="40.83" height="13.7" fill="#fde3d5"/>
<rect x="1552.63" y="261.6" width="40.83" height="13.7" fill="#f39c78"/>
<rect x="1593.07" y="261.6" width="40.83" height="13.7" fill="#cc3340"/>
<polygon points="1269.6,261.6 1633.5,261.6 1652.8,268.5 1633.5,275.3 1269.6,275.3 1250.3,268.5" fill="none" stroke="#000" stroke-width="1.2" stroke-linejoin="miter"/>
<line x1="1269.6" y1="275.3" x2="1269.6" y2="283.6" stroke="#000" stroke-width="1.4"/>
<text transform="translate(1272.6,318.1) rotate(-45)" text-anchor="middle" font-size="17.9">−3.0</text>
<line x1="1310.0" y1="275.3" x2="1310.0" y2="283.6" stroke="#000" stroke-width="1.4"/>
<text transform="translate(1313.0,319.1) rotate(-45)" text-anchor="middle" font-size="17.9">−2.5</text>
<line x1="1350.5" y1="275.3" x2="1350.5" y2="283.6" stroke="#000" stroke-width="1.4"/>
<text transform="translate(1353.5,318.1) rotate(-45)" text-anchor="middle" font-size="17.9">−2.0</text>
<line x1="1390.9" y1="275.3" x2="1390.9" y2="283.6" stroke="#000" stroke-width="1.4"/>
<text transform="translate(1393.9,319.1) rotate(-45)" text-anchor="middle" font-size="17.9">−1.5</text>
<line x1="1431.3" y1="275.3" x2="1431.3" y2="283.6" stroke="#000" stroke-width="1.4"/>
<text transform="translate(1434.3,318.1) rotate(-45)" text-anchor="middle" font-size="17.9">−1.0</text>
<line x1="1471.8" y1="275.3" x2="1471.8" y2="283.6" stroke="#000" stroke-width="1.4"/>
<text transform="translate(1474.8,319.1) rotate(-45)" text-anchor="middle" font-size="17.9">−0.5</text>
<line x1="1512.2" y1="275.3" x2="1512.2" y2="283.6" stroke="#000" stroke-width="1.4"/>
<text transform="translate(1515.7,313.1) rotate(-45)" text-anchor="middle" font-size="17.9">0.0</text>
<line x1="1552.6" y1="275.3" x2="1552.6" y2="283.6" stroke="#000" stroke-width="1.4"/>
<text transform="translate(1556.1,313.1) rotate(-45)" text-anchor="middle" font-size="17.9">0.5</text>
<line x1="1593.1" y1="275.3" x2="1593.1" y2="283.6" stroke="#000" stroke-width="1.4"/>
<text transform="translate(1596.5,313.1) rotate(-45)" text-anchor="middle" font-size="17.9">1.0</text>
<line x1="1633.5" y1="275.3" x2="1633.5" y2="283.6" stroke="#000" stroke-width="1.4"/>
<text transform="translate(1637.0,313.1) rotate(-45)" text-anchor="middle" font-size="17.9">1.5</text>
<polygon points="149.6,573.9 130.3,580.8 149.6,587.6" fill="#2d004b"/>
<polygon points="513.5,573.9 532.8,580.8 513.5,587.6" fill="#7f3b08"/>
<rect x="149.60" y="573.9" width="40.83" height="13.7" fill="#4b1a7a"/>
<rect x="190.03" y="573.9" width="40.83" height="13.7" fill="#7b6aaa"/>
<rect x="230.47" y="573.9" width="40.83" height="13.7" fill="#b3add5"/>
<rect x="270.90" y="573.9" width="40.83" height="13.7" fill="#e1e0ef"/>
<rect x="311.33" y="573.9" width="40.83" height="13.7" fill="#f9ecdc"/>
<rect x="351.77" y="573.9" width="40.83" height="13.7" fill="#fdcd8f"/>
<rect x="392.20" y="573.9" width="40.83" height="13.7" fill="#f1a545"/>
<rect x="432.63" y="573.9" width="40.83" height="13.7" fill="#dc7c12"/>
<rect x="473.07" y="573.9" width="40.83" height="13.7" fill="#b45a0a"/>
<polygon points="149.6,573.9 513.5,573.9 532.8,580.8 513.5,587.6 149.6,587.6 130.3,580.8" fill="none" stroke="#000" stroke-width="1.2" stroke-linejoin="miter"/>
<line x1="149.6" y1="587.6" x2="149.6" y2="595.9" stroke="#000" stroke-width="1.4"/>
<text transform="translate(152.6,630.4) rotate(-45)" text-anchor="middle" font-size="17.9">−2.0</text>
<line x1="190.0" y1="587.6" x2="190.0" y2="595.9" stroke="#000" stroke-width="1.4"/>
<text transform="translate(193.0,631.4) rotate(-45)" text-anchor="middle" font-size="17.9">−1.5</text>
<line x1="230.5" y1="587.6" x2="230.5" y2="595.9" stroke="#000" stroke-width="1.4"/>
<text transform="translate(233.5,630.4) rotate(-45)" text-anchor="middle" font-size="17.9">−1.0</text>
<line x1="270.9" y1="587.6" x2="270.9" y2="595.9" stroke="#000" stroke-width="1.4"/>
<text transform="translate(273.9,631.4) rotate(-45)" text-anchor="middle" font-size="17.9">−0.5</text>
<line x1="311.3" y1="587.6" x2="311.3" y2="595.9" stroke="#000" stroke-width="1.4"/>
<text transform="translate(314.8,625.4) rotate(-45)" text-anchor="middle" font-size="17.9">0.0</text>
<line x1="351.8" y1="587.6" x2="351.8" y2="595.9" stroke="#000" stroke-width="1.4"/>
<text transform="translate(355.2,625.4) rotate(-45)" text-anchor="middle" font-size="17.9">0.5</text>
<line x1="392.2" y1="587.6" x2="392.2" y2="595.9" stroke="#000" stroke-width="1.4"/>
<text transform="translate(395.6,625.4) rotate(-45)" text-anchor="middle" font-size="17.9">1.0</text>
<line x1="432.6" y1="587.6" x2="432.6" y2="595.9" stroke="#000" stroke-width="1.4"/>
<text transform="translate(436.1,625.4) rotate(-45)" text-anchor="middle" font-size="17.9">1.5</text>
<line x1="473.1" y1="587.6" x2="473.1" y2="595.9" stroke="#000" stroke-width="1.4"/>
<text transform="translate(477.0,625.4) rotate(-45)" text-anchor="middle" font-size="17.9">2.0</text>
<line x1="513.5" y1="587.6" x2="513.5" y2="595.9" stroke="#000" stroke-width="1.4"/>
<text transform="translate(517.5,625.4) rotate(-45)" text-anchor="middle" font-size="17.9">2.5</text>
<polygon points="709.6,573.9 690.3,580.8 709.6,587.6" fill="#2d004b"/>
<polygon points="1073.5,573.9 1092.8,580.8 1073.5,587.6" fill="#7f3b08"/>
<rect x="709.60" y="573.9" width="40.83" height="13.7" fill="#4b1a7a"/>
<rect x="750.03" y="573.9" width="40.83" height="13.7" fill="#7b6aaa"/>
<rect x="790.47" y="573.9" width="40.83" height="13.7" fill="#b3add5"/>
<rect x="830.90" y="573.9" width="40.83" height="13.7" fill="#e1e0ef"/>
<rect x="871.33" y="573.9" width="40.83" height="13.7" fill="#f9ecdc"/>
<rect x="911.77" y="573.9" width="40.83" height="13.7" fill="#fdcd8f"/>
<rect x="952.20" y="573.9" width="40.83" height="13.7" fill="#f1a545"/>
<rect x="992.63" y="573.9" width="40.83" height="13.7" fill="#dc7c12"/>
<rect x="1033.07" y="573.9" width="40.83" height="13.7" fill="#b45a0a"/>
<polygon points="709.6,573.9 1073.5,573.9 1092.8,580.8 1073.5,587.6 709.6,587.6 690.3,580.8" fill="none" stroke="#000" stroke-width="1.2" stroke-linejoin="miter"/>
<line x1="709.6" y1="587.6" x2="709.6" y2="595.9" stroke="#000" stroke-width="1.4"/>
<text transform="translate(712.6,630.4) rotate(-45)" text-anchor="middle" font-size="17.9">−2.0</text>
<line x1="750.0" y1="587.6" x2="750.0" y2="595.9" stroke="#000" stroke-width="1.4"/>
<text transform="translate(753.0,631.4) rotate(-45)" text-anchor="middle" font-size="17.9">−1.5</text>
<line x1="790.5" y1="587.6" x2="790.5" y2="595.9" stroke="#000" stroke-width="1.4"/>
<text transform="translate(793.5,630.4) rotate(-45)" text-anchor="middle" font-size="17.9">−1.0</text>
<line x1="830.9" y1="587.6" x2="830.9" y2="595.9" stroke="#000" stroke-width="1.4"/>
<text transform="translate(833.9,631.4) rotate(-45)" text-anchor="middle" font-size="17.9">−0.5</text>
<line x1="871.3" y1="587.6" x2="871.3" y2="595.9" stroke="#000" stroke-width="1.4"/>
<text transform="translate(874.8,625.4) rotate(-45)" text-anchor="middle" font-size="17.9">0.0</text>
<line x1="911.8" y1="587.6" x2="911.8" y2="595.9" stroke="#000" stroke-width="1.4"/>
<text transform="translate(915.2,625.4) rotate(-45)" text-anchor="middle" font-size="17.9">0.5</text>
<line x1="952.2" y1="587.6" x2="952.2" y2="595.9" stroke="#000" stroke-width="1.4"/>
<text transform="translate(955.7,625.4) rotate(-45)" text-anchor="middle" font-size="17.9">1.0</text>
<line x1="992.6" y1="587.6" x2="992.6" y2="595.9" stroke="#000" stroke-width="1.4"/>
<text transform="translate(996.1,625.4) rotate(-45)" text-anchor="middle" font-size="17.9">1.5</text>
<line x1="1033.1" y1="587.6" x2="1033.1" y2="595.9" stroke="#000" stroke-width="1.4"/>
<text transform="translate(1037.0,625.4) rotate(-45)" text-anchor="middle" font-size="17.9">2.0</text>
<line x1="1073.5" y1="587.6" x2="1073.5" y2="595.9" stroke="#000" stroke-width="1.4"/>
<text transform="translate(1077.5,625.4) rotate(-45)" text-anchor="middle" font-size="17.9">2.5</text>
<polygon points="1269.6,573.9 1250.3,580.8 1269.6,587.6" fill="#2d004b"/>
<polygon points="1633.5,573.9 1652.8,580.8 1633.5,587.6" fill="#7f3b08"/>
<rect x="1269.60" y="573.9" width="40.83" height="13.7" fill="#4b1a7a"/>
<rect x="1310.03" y="573.9" width="40.83" height="13.7" fill="#7b6aaa"/>
<rect x="1350.47" y="573.9" width="40.83" height="13.7" fill="#b3add5"/>
<rect x="1390.90" y="573.9" width="40.83" height="13.7" fill="#e1e0ef"/>
<rect x="1431.33" y="573.9" width="40.83" height="13.7" fill="#f9ecdc"/>
<rect x="1471.77" y="573.9" width="40.83" height="13.7" fill="#fdcd8f"/>
<rect x="1512.20" y="573.9" width="40.83" height="13.7" fill="#f1a545"/>
<rect x="1552.63" y="573.9" width="40.83" height="13.7" fill="#dc7c12"/>
<rect x="1593.07" y="573.9" width="40.83" height="13.7" fill="#b45a0a"/>
<polygon points="1269.6,573.9 1633.5,573.9 1652.8,580.8 1633.5,587.6 1269.6,587.6 1250.3,580.8" fill="none" stroke="#000" stroke-width="1.2" stroke-linejoin="miter"/>
<line x1="1269.6" y1="587.6" x2="1269.6" y2="595.9" stroke="#000" stroke-width="1.4"/>
<text transform="translate(1272.6,630.4) rotate(-45)" text-anchor="middle" font-size="17.9">−2.0</text>
<line x1="1310.0" y1="587.6" x2="1310.0" y2="595.9" stroke="#000" stroke-width="1.4"/>
<text transform="translate(1313.0,631.4) rotate(-45)" text-anchor="middle" font-size="17.9">−1.5</text>
<line x1="1350.5" y1="587.6" x2="1350.5" y2="595.9" stroke="#000" stroke-width="1.4"/>
<text transform="translate(1353.5,630.4) rotate(-45)" text-anchor="middle" font-size="17.9">−1.0</text>
<line x1="1390.9" y1="587.6" x2="1390.9" y2="595.9" stroke="#000" stroke-width="1.4"/>
<text transform="translate(1393.9,631.4) rotate(-45)" text-anchor="middle" font-size="17.9">−0.5</text>
<line x1="1431.3" y1="587.6" x2="1431.3" y2="595.9" stroke="#000" stroke-width="1.4"/>
<text transform="translate(1434.8,625.4) rotate(-45)" text-anchor="middle" font-size="17.9">0.0</text>
<line x1="1471.8" y1="587.6" x2="1471.8" y2="595.9" stroke="#000" stroke-width="1.4"/>
<text transform="translate(1475.2,625.4) rotate(-45)" text-anchor="middle" font-size="17.9">0.5</text>
<line x1="1512.2" y1="587.6" x2="1512.2" y2="595.9" stroke="#000" stroke-width="1.4"/>
<text transform="translate(1515.7,625.4) rotate(-45)" text-anchor="middle" font-size="17.9">1.0</text>
<line x1="1552.6" y1="587.6" x2="1552.6" y2="595.9" stroke="#000" stroke-width="1.4"/>
<text transform="translate(1556.1,625.4) rotate(-45)" text-anchor="middle" font-size="17.9">1.5</text>
<line x1="1593.1" y1="587.6" x2="1593.1" y2="595.9" stroke="#000" stroke-width="1.4"/>
<text transform="translate(1597.0,625.4) rotate(-45)" text-anchor="middle" font-size="17.9">2.0</text>
<line x1="1633.5" y1="587.6" x2="1633.5" y2="595.9" stroke="#000" stroke-width="1.4"/>
<text transform="translate(1637.5,625.4) rotate(-45)" text-anchor="middle" font-size="17.9">2.5</text>
<text x="74.6" y="30.8" font-size="27.5" font-weight="bold">(a)</text>
<text x="634.6" y="30.8" font-size="27.5" font-weight="bold">(b)</text>
<text x="1194.6" y="30.8" font-size="27.5" font-weight="bold">(c)</text>
<text x="74.6" y="347.0" font-size="27.5" font-weight="bold">(d)</text>
<text x="634.6" y="347.0" font-size="27.5" font-weight="bold">(e)</text>
<text x="1194.6" y="347.0" font-size="27.5" font-weight="bold">(f)</text>
<text x="251.0" y="26.7" font-size="26.4">Δ</text>
<text x="267.8" y="26.7" font-size="27.2" font-style="italic">T</text>
<text x="285.2" y="30.0" font-size="19.6" font-style="italic">g, max</text>
<text x="360.5" y="26.7" font-size="26.4">(°C)</text>
<text x="805.0" y="26.7" font-size="26.4">Δ</text>
<text x="821.8" y="26.7" font-size="27.2" font-style="italic">T</text>
<text x="839.2" y="30.0" font-size="19.6" font-style="italic">g, mean</text>
<text x="926.5" y="26.7" font-size="26.4">(°C)</text>
<text x="1374.0" y="26.7" font-size="26.4">Δ</text>
<text x="1390.8" y="26.7" font-size="27.2" font-style="italic">T</text>
<text x="1408.2" y="30.0" font-size="19.6" font-style="italic">g, min</text>
<text x="1477.5" y="26.7" font-size="26.4">(°C)</text>
<text transform="translate(56.8,150.5) rotate(-90)" text-anchor="middle" font-size="27.8">Historical</text>
<text transform="translate(57.3,462.8) rotate(-90)" text-anchor="middle" font-size="27.8">Future-Historical</text>
<clipPath id="axg"><rect x="64.9" y="665.4" width="533.3" height="260.1"/></clipPath>
<line x1="64.9" y1="712.6" x2="598.2" y2="712.6" stroke="#1a1a1a" stroke-width="1.3"/>
<g clip-path="url(#axg)">
<line x1="153.8" y1="665.4" x2="153.8" y2="925.5" stroke="#404040" stroke-width="1.5"/>
<polygon points="153.8,675.7 153.8,675.7 153.8,676.7 153.7,677.7 153.6,678.7 153.5,679.7 153.3,680.7 153.1,681.7 152.9,682.7 152.7,683.7 152.4,684.7 152.0,685.7 151.7,686.7 151.3,687.7 150.5,688.7 149.1,689.7 147.2,690.7 145.0,691.7 142.7,692.7 140.4,693.7 138.3,694.7 136.0,695.7 133.6,696.7 131.1,697.7 128.6,698.7 126.1,699.7 123.6,700.7 121.2,701.7 118.7,702.7 116.3,703.7 113.8,704.7 111.3,705.7 108.9,706.7 106.6,707.7 104.3,708.7 102.1,709.7 99.8,710.7 97.7,711.7 95.8,712.7 93.9,713.7 92.1,714.7 90.4,715.7 88.8,716.7 87.3,717.7 86.1,718.7 84.8,719.7 83.6,720.7 82.6,721.7 82.1,722.7 82.4,723.7 83.6,724.7 85.5,725.7 87.7,726.7 90.1,727.7 93.3,728.7 97.2,729.7 101.4,730.7 105.4,731.7 109.6,732.7 114.1,733.7 118.3,734.7 121.6,735.7 123.9,736.7 125.8,737.7 127.4,738.7 128.8,739.7 130.0,740.7 131.1,741.7 132.0,742.7 132.9,743.7 133.7,744.7 134.5,745.7 135.1,746.7 135.8,747.7 136.4,748.7 137.0,749.7 137.6,750.7 138.2,751.7 138.8,752.7 139.3,753.7 139.9,754.7 140.4,755.7 141.0,756.7 141.5,757.7 142.0,758.7 142.5,759.7 143.0,760.7 143.5,761.7 144.0,762.7 144.4,763.7 144.8,764.7 145.2,765.7 145.6,766.7 146.0,767.7 146.4,768.7 146.7,769.7 147.1,770.7 147.5,771.7 147.8,772.7 148.1,773.7 148.4,774.7 148.7,775.7 149.0,776.7 149.3,777.7 149.5,778.7 149.7,779.7 149.9,780.7 150.0,781.7 150.1,782.7 150.3,783.7 150.4,784.7 150.5,785.7 150.6,786.7 150.7,787.7 150.8,788.7 150.9,789.7 151.0,790.7 151.0,791.7 151.1,792.7 151.2,793.7 151.2,794.7 151.3,795.7 151.4,796.7 151.4,797.7 151.5,798.7 151.5,799.7 151.6,800.7 151.6,801.7 151.7,802.7 151.7,803.7 151.8,804.7 151.8,805.7 151.9,806.7 151.9,807.7 151.9,808.7 152.0,809.7 152.0,810.7 152.1,811.7 152.1,812.7 152.1,813.7 152.2,814.7 152.2,815.7 152.2,816.7 152.3,817.7 152.3,818.7 152.3,819.7 152.4,820.7 152.4,821.7 152.4,822.7 152.4,823.7 152.5,824.7 152.5,825.7 152.5,826.7 152.5,827.7 152.6,828.7 152.6,829.7 152.6,830.7 152.6,831.7 152.6,832.7 152.6,833.7 152.7,834.7 152.7,835.7 152.7,836.7 152.7,837.7 152.7,838.7 152.7,839.7 152.8,840.7 152.8,841.7 152.8,842.7 152.8,843.7 152.8,844.7 152.8,845.7 152.8,846.7 152.8,847.7 152.9,848.7 152.9,849.7 152.9,850.7 152.9,851.7 152.9,852.7 152.9,853.7 152.9,854.7 152.9,855.7 152.9,856.7 152.9,857.7 153.0,858.7 153.0,859.7 153.0,860.7 153.0,861.7 153.0,862.7 153.0,863.7 153.0,864.7 153.0,865.7 153.0,866.7 153.0,867.7 153.1,868.7 153.1,869.7 153.1,870.7 153.1,871.7 153.1,872.7 153.1,873.7 153.1,874.7 153.1,875.7 153.1,876.7 153.2,877.7 153.2,878.7 153.2,879.7 153.2,880.7 153.2,881.7 153.2,882.7 153.2,883.7 153.2,884.7 153.3,885.7 153.3,886.7 153.3,887.7 153.3,888.7 153.3,889.7 153.3,890.7 153.3,891.7 153.4,892.7 153.4,893.7 153.4,894.7 153.4,895.7 153.4,896.7 153.4,897.7 153.4,898.7 153.5,899.7 153.5,900.7 153.5,901.7 153.5,902.7 153.5,903.7 153.5,904.7 153.6,905.7 153.6,906.7 153.6,907.7 153.6,908.7 153.6,909.7 153.6,910.7 153.6,911.7 153.7,912.7 153.7,913.7 153.7,914.7 153.7,915.7 153.7,916.7 153.7,917.7 153.8,918.7 153.8,919.7 153.8,920.0 153.8,920.0" fill="#b4d4df" stroke="#404040" stroke-width="1.1" stroke-linejoin="round"/>
<line x1="153.8" y1="713.2" x2="94.8" y2="713.2" stroke="#404040" stroke-width="0.8" stroke-opacity="0.75"/>
<line x1="153.8" y1="723.6" x2="82.3" y2="723.6" stroke="#404040" stroke-width="1.1" stroke-opacity="0.9" stroke-dasharray="1.3 2.3"/>
<line x1="153.8" y1="736.2" x2="122.8" y2="736.2" stroke="#404040" stroke-width="0.8" stroke-opacity="0.75"/>
<polygon points="153.8,675.7 153.8,675.7 153.8,676.7 153.9,677.7 154.0,678.7 154.2,679.7 154.5,680.7 154.7,681.7 155.1,682.7 155.4,683.7 155.8,684.7 156.2,685.7 156.6,686.7 157.1,687.7 157.7,688.7 158.4,689.7 159.4,690.7 160.6,691.7 161.9,692.7 163.3,693.7 164.9,694.7 166.6,695.7 168.3,696.7 170.4,697.7 173.0,698.7 176.0,699.7 179.3,700.7 182.8,701.7 186.2,702.7 189.5,703.7 192.5,704.7 195.8,705.7 199.0,706.7 202.2,707.7 205.0,708.7 207.4,709.7 209.4,710.7 211.5,711.7 213.4,712.7 215.0,713.7 216.1,714.7 216.5,715.7 216.3,716.7 216.0,717.7 215.5,718.7 214.8,719.7 214.1,720.7 213.4,721.7 212.7,722.7 211.9,723.7 210.9,724.7 209.8,725.7 208.6,726.7 207.2,727.7 205.4,728.7 203.2,729.7 200.7,730.7 198.2,731.7 195.7,732.7 193.4,733.7 191.4,734.7 189.6,735.7 187.8,736.7 186.1,737.7 184.5,738.7 183.0,739.7 181.6,740.7 180.3,741.7 179.1,742.7 177.9,743.7 176.8,744.7 175.7,745.7 174.7,746.7 173.8,747.7 172.8,748.7 172.0,749.7 171.1,750.7 170.3,751.7 169.6,752.7 168.8,753.7 168.1,754.7 167.4,755.7 166.7,756.7 166.0,757.7 165.4,758.7 164.8,759.7 164.2,760.7 163.6,761.7 163.1,762.7 162.6,763.7 162.2,764.7 161.7,765.7 161.4,766.7 161.0,767.7 160.7,768.7 160.4,769.7 160.1,770.7 159.8,771.7 159.5,772.7 159.2,773.7 159.0,774.7 158.7,775.7 158.5,776.7 158.3,777.7 158.1,778.7 157.9,779.7 157.8,780.7 157.7,781.7 157.5,782.7 157.4,783.7 157.3,784.7 157.2,785.7 157.1,786.7 157.0,787.7 156.9,788.7 156.8,789.7 156.7,790.7 156.6,791.7 156.6,792.7 156.5,793.7 156.4,794.7 156.4,795.7 156.3,796.7 156.2,797.7 156.2,798.7 156.1,799.7 156.1,800.7 156.0,801.7 156.0,802.7 155.9,803.7 155.9,804.7 155.8,805.7 155.8,806.7 155.7,807.7 155.7,808.7 155.6,809.7 155.6,810.7 155.5,811.7 155.5,812.7 155.5,813.7 155.4,814.7 155.4,815.7 155.3,816.7 155.3,817.7 155.3,818.7 155.2,819.7 155.2,820.7 155.2,821.7 155.2,822.7 155.1,823.7 155.1,824.7 155.1,825.7 155.1,826.7 155.0,827.7 155.0,828.7 155.0,829.7 155.0,830.7 155.0,831.7 154.9,832.7 154.9,833.7 154.9,834.7 154.9,835.7 154.9,836.7 154.9,837.7 154.8,838.7 154.8,839.7 154.8,840.7 154.8,841.7 154.8,842.7 154.8,843.7 154.8,844.7 154.7,845.7 154.7,846.7 154.7,847.7 154.7,848.7 154.7,849.7 154.7,850.7 154.7,851.7 154.7,852.7 154.7,853.7 154.7,854.7 154.6,855.7 154.6,856.7 154.6,857.7 154.6,858.7 154.6,859.7 154.6,860.7 154.6,861.7 154.6,862.7 154.6,863.7 154.6,864.7 154.5,865.7 154.5,866.7 154.5,867.7 154.5,868.7 154.5,869.7 154.5,870.7 154.5,871.7 154.5,872.7 154.5,873.7 154.4,874.7 154.4,875.7 154.4,876.7 154.4,877.7 154.4,878.7 154.4,879.7 154.4,880.7 154.4,881.7 154.3,882.7 154.3,883.7 154.3,884.7 154.3,885.7 154.3,886.7 154.3,887.7 154.3,888.7 154.2,889.7 154.2,890.7 154.2,891.7 154.2,892.7 154.2,893.7 154.2,894.7 154.2,895.7 154.1,896.7 154.1,897.7 154.1,898.7 154.1,899.7 154.1,900.7 154.1,901.7 154.1,902.7 154.0,903.7 154.0,904.7 154.0,905.7 154.0,906.7 154.0,907.7 154.0,908.7 153.9,909.7 153.9,910.7 153.9,911.7 153.9,912.7 153.9,913.7 153.9,914.7 153.9,915.7 153.8,916.7 153.8,917.7 153.8,918.7 153.8,919.7 153.8,920.0 153.8,920.0" fill="#5481a6" stroke="#404040" stroke-width="1.1" stroke-linejoin="round"/>
<line x1="153.8" y1="714.0" x2="215.4" y2="714.0" stroke="#404040" stroke-width="0.8" stroke-opacity="0.75"/>
<line x1="153.8" y1="724.4" x2="211.2" y2="724.4" stroke="#404040" stroke-width="1.1" stroke-opacity="0.9" stroke-dasharray="1.3 2.3"/>
<line x1="153.8" y1="738.8" x2="184.4" y2="738.8" stroke="#404040" stroke-width="0.8" stroke-opacity="0.75"/>
<line x1="153.8" y1="665.4" x2="153.8" y2="925.5" stroke="#404040" stroke-width="1.2"/>
<line x1="331.6" y1="665.4" x2="331.6" y2="925.5" stroke="#404040" stroke-width="1.5"/>
<polygon points="331.6,682.8 331.6,682.8 331.5,683.8 331.5,684.8 331.5,685.8 331.5,686.8 331.5,687.8 331.4,688.8 331.4,689.8 331.3,690.8 331.3,691.8 331.2,692.8 331.1,693.8 331.1,694.8 330.8,695.8 330.2,696.8 329.4,697.8 328.3,698.8 327.1,699.8 325.9,700.8 324.6,701.8 323.4,702.8 322.0,703.8 320.5,704.8 318.8,705.8 317.0,706.8 315.1,707.8 313.0,708.8 310.8,709.8 308.4,710.8 305.6,711.8 302.5,712.8 299.3,713.8 296.0,714.8 292.6,715.8 288.8,716.8 284.7,717.8 280.7,718.8 277.0,719.8 273.9,720.8 271.1,721.8 268.3,722.8 265.8,723.8 263.7,724.8 262.2,725.8 261.5,726.8 261.0,727.8 260.7,728.8 260.5,729.8 260.5,730.8 260.9,731.8 261.6,732.8 262.6,733.8 263.6,734.8 264.7,735.8 266.2,736.8 268.3,737.8 270.5,738.8 272.6,739.8 274.2,740.8 275.1,741.8 275.9,742.8 276.5,743.8 277.1,744.8 277.4,745.8 277.5,746.8 277.2,747.8 276.3,748.8 275.0,749.8 273.7,750.8 272.5,751.8 271.8,752.8 271.2,753.8 270.7,754.8 270.2,755.8 269.9,756.8 269.8,757.8 269.8,758.8 270.1,759.8 270.7,760.8 271.4,761.8 272.2,762.8 273.1,763.8 274.1,764.8 275.1,765.8 276.2,766.8 277.7,767.8 279.3,768.8 281.1,769.8 282.9,770.8 284.7,771.8 286.5,772.8 288.2,773.8 290.1,774.8 291.9,775.8 293.8,776.8 295.6,777.8 297.4,778.8 299.0,779.8 300.5,780.8 301.9,781.8 303.2,782.8 304.5,783.8 305.7,784.8 306.9,785.8 308.0,786.8 309.1,787.8 310.2,788.8 311.3,789.8 312.4,790.8 313.4,791.8 314.4,792.8 315.4,793.8 316.2,794.8 317.1,795.8 317.9,796.8 318.6,797.8 319.4,798.8 320.1,799.8 320.8,800.8 321.5,801.8 322.2,802.8 322.8,803.8 323.3,804.8 323.8,805.8 324.3,806.8 324.7,807.8 325.1,808.8 325.5,809.8 325.9,810.8 326.3,811.8 326.6,812.8 326.9,813.8 327.2,814.8 327.5,815.8 327.7,816.8 327.9,817.8 328.1,818.8 328.2,819.8 328.4,820.8 328.5,821.8 328.7,822.8 328.8,823.8 328.9,824.8 329.1,825.8 329.2,826.8 329.3,827.8 329.4,828.8 329.5,829.8 329.5,830.8 329.6,831.8 329.7,832.8 329.7,833.8 329.8,834.8 329.8,835.8 329.9,836.8 330.0,837.8 330.0,838.8 330.1,839.8 330.1,840.8 330.1,841.8 330.2,842.8 330.2,843.8 330.3,844.8 330.3,845.8 330.3,846.8 330.4,847.8 330.4,848.8 330.4,849.8 330.5,850.8 330.5,851.8 330.5,852.8 330.6,853.8 330.6,854.8 330.6,855.8 330.7,856.8 330.7,857.8 330.7,858.8 330.7,859.8 330.8,860.8 330.8,861.8 330.8,862.8 330.9,863.8 330.9,864.8 330.9,865.8 330.9,866.8 331.0,867.8 331.0,868.8 331.0,869.8 331.0,870.8 331.1,871.8 331.1,872.8 331.1,873.8 331.1,874.8 331.2,875.8 331.2,876.8 331.2,877.8 331.2,878.8 331.2,879.8 331.3,880.8 331.3,881.8 331.3,882.8 331.3,883.8 331.3,884.8 331.4,885.8 331.4,886.8 331.4,887.8 331.4,888.8 331.4,889.8 331.4,890.8 331.5,891.8 331.5,892.8 331.5,893.8 331.5,894.8 331.5,895.8 331.5,896.8 331.5,897.8 331.5,898.8 331.5,899.8 331.6,900.0 331.6,900.0" fill="#b4d4df" stroke="#404040" stroke-width="1.1" stroke-linejoin="round"/>
<line x1="331.6" y1="730.5" x2="260.5" y2="730.5" stroke="#404040" stroke-width="0.8" stroke-opacity="0.75"/>
<line x1="331.6" y1="749.1" x2="275.9" y2="749.1" stroke="#404040" stroke-width="1.1" stroke-opacity="0.9" stroke-dasharray="1.3 2.3"/>
<line x1="331.6" y1="767.4" x2="277.1" y2="767.4" stroke="#404040" stroke-width="0.8" stroke-opacity="0.75"/>
<polygon points="331.6,684.6 331.6,684.6 331.6,685.6 331.6,686.6 331.6,687.6 331.6,688.6 331.6,689.6 331.7,690.6 331.7,691.6 331.8,692.6 331.8,693.6 331.9,694.6 332.0,695.6 332.1,696.6 332.2,697.6 332.5,698.6 332.9,699.6 333.4,700.6 334.0,701.6 334.7,702.6 335.4,703.6 336.1,704.6 336.9,705.6 337.6,706.6 338.3,707.6 339.1,708.6 340.0,709.6 341.0,710.6 342.1,711.6 343.4,712.6 344.9,713.6 347.0,714.6 349.9,715.6 353.2,716.6 356.6,717.6 360.1,718.6 363.3,719.6 366.6,720.6 370.1,721.6 373.5,722.6 376.9,723.6 380.0,724.6 383.0,725.6 386.0,726.6 388.9,727.6 391.6,728.6 393.8,729.6 395.5,730.6 397.1,731.6 398.5,732.6 399.5,733.6 400.0,734.6 399.9,735.6 399.4,736.6 398.6,737.6 397.6,738.6 396.7,739.6 395.3,740.6 393.5,741.6 391.6,742.6 389.9,743.6 388.6,744.6 388.0,745.6 387.5,746.6 387.1,747.6 386.7,748.6 386.5,749.6 386.5,750.6 386.7,751.6 387.3,752.6 388.0,753.6 388.7,754.6 389.2,755.6 389.3,756.6 389.3,757.6 389.3,758.6 389.3,759.6 389.3,760.6 389.3,761.6 389.1,762.6 388.8,763.6 388.1,764.6 387.3,765.6 386.4,766.6 385.4,767.6 384.3,768.6 383.2,769.6 381.8,770.6 380.2,771.6 378.4,772.6 376.5,773.6 374.5,774.6 372.6,775.6 370.8,776.6 369.1,777.6 367.4,778.6 365.7,779.6 364.0,780.6 362.3,781.6 360.6,782.6 359.1,783.6 357.6,784.6 356.3,785.6 355.0,786.6 353.9,787.6 352.7,788.6 351.7,789.6 350.7,790.6 349.7,791.6 348.8,792.6 347.9,793.6 347.0,794.6 346.2,795.6 345.4,796.6 344.6,797.6 343.9,798.6 343.1,799.6 342.4,800.6 341.7,801.6 341.1,802.6 340.5,803.6 339.9,804.6 339.4,805.6 338.9,806.6 338.5,807.6 338.0,808.6 337.6,809.6 337.3,810.6 336.9,811.6 336.5,812.6 336.2,813.6 335.9,814.6 335.7,815.6 335.4,816.6 335.3,817.6 335.1,818.6 334.9,819.6 334.7,820.6 334.6,821.6 334.4,822.6 334.3,823.6 334.2,824.6 334.1,825.6 334.0,826.6 333.8,827.6 333.8,828.6 333.7,829.6 333.6,830.6 333.5,831.6 333.4,832.6 333.4,833.6 333.3,834.6 333.3,835.6 333.2,836.6 333.2,837.6 333.1,838.6 333.1,839.6 333.0,840.6 333.0,841.6 332.9,842.6 332.9,843.6 332.8,844.6 332.8,845.6 332.8,846.6 332.7,847.6 332.7,848.6 332.7,849.6 332.6,850.6 332.6,851.6 332.6,852.6 332.5,853.6 332.5,854.6 332.5,855.6 332.4,856.6 332.4,857.6 332.4,858.6 332.4,859.6 332.3,860.6 332.3,861.6 332.3,862.6 332.3,863.6 332.2,864.6 332.2,865.6 332.2,866.6 332.1,867.6 332.1,868.6 332.1,869.6 332.1,870.6 332.0,871.6 332.0,872.6 332.0,873.6 332.0,874.6 332.0,875.6 331.9,876.6 331.9,877.6 331.9,878.6 331.9,879.6 331.8,880.6 331.8,881.6 331.8,882.6 331.8,883.6 331.8,884.6 331.7,885.6 331.7,886.6 331.7,887.6 331.7,888.6 331.7,889.6 331.7,890.6 331.6,891.6 331.6,892.6 331.6,893.6 331.6,894.6 331.6,895.6 331.6,896.6 331.6,897.6 331.6,898.6 331.6,899.6 331.6,900.0 331.6,900.0" fill="#5481a6" stroke="#404040" stroke-width="1.1" stroke-linejoin="round"/>
<line x1="331.6" y1="736.7" x2="399.3" y2="736.7" stroke="#404040" stroke-width="0.8" stroke-opacity="0.75"/>
<line x1="331.6" y1="755.3" x2="389.1" y2="755.3" stroke="#404040" stroke-width="1.1" stroke-opacity="0.9" stroke-dasharray="1.3 2.3"/>
<line x1="331.6" y1="774.8" x2="374.1" y2="774.8" stroke="#404040" stroke-width="0.8" stroke-opacity="0.75"/>
<line x1="331.6" y1="665.4" x2="331.6" y2="925.5" stroke="#404040" stroke-width="1.2"/>
<line x1="509.3" y1="715.5" x2="509.3" y2="925.5" stroke="#404040" stroke-width="1.5"/>
<polygon points="509.3,715.5 509.3,715.5 509.3,716.5 509.3,717.5 509.3,718.5 509.3,719.5 509.2,720.5 509.2,721.5 509.1,722.5 509.1,723.5 509.0,724.5 509.0,725.5 508.9,726.5 508.8,727.5 508.7,728.5 508.6,729.5 508.4,730.5 508.2,731.5 507.9,732.5 507.5,733.5 507.1,734.5 506.6,735.5 506.0,736.5 505.3,737.5 504.6,738.5 503.9,739.5 503.0,740.5 502.0,741.5 500.7,742.5 499.2,743.5 497.5,744.5 495.6,745.5 493.6,746.5 491.4,747.5 488.9,748.5 485.9,749.5 482.4,750.5 478.7,751.5 475.0,752.5 471.4,753.5 468.1,754.5 465.1,755.5 462.1,756.5 459.1,757.5 456.2,758.5 453.5,759.5 451.1,760.5 449.0,761.5 447.1,762.5 445.3,763.5 443.5,764.5 441.8,765.5 440.5,766.5 439.5,767.5 439.0,768.5 439.0,769.5 439.2,770.5 439.6,771.5 440.1,772.5 440.7,773.5 441.4,774.5 442.1,775.5 442.8,776.5 443.7,777.5 444.8,778.5 446.0,779.5 447.3,780.5 448.6,781.5 449.9,782.5 451.2,783.5 452.5,784.5 453.8,785.5 455.2,786.5 456.5,787.5 457.9,788.5 459.2,789.5 460.6,790.5 461.9,791.5 463.3,792.5 464.6,793.5 465.9,794.5 467.3,795.5 468.6,796.5 469.8,797.5 471.1,798.5 472.4,799.5 473.7,800.5 475.0,801.5 476.2,802.5 477.3,803.5 478.1,804.5 478.9,805.5 479.6,806.5 480.2,807.5 480.8,808.5 481.3,809.5 481.7,810.5 482.1,811.5 482.5,812.5 482.8,813.5 483.1,814.5 483.4,815.5 483.7,816.5 483.9,817.5 484.1,818.5 484.4,819.5 484.6,820.5 484.8,821.5 485.0,822.5 485.3,823.5 485.5,824.5 485.8,825.5 486.0,826.5 486.3,827.5 486.5,828.5 486.8,829.5 487.0,830.5 487.2,831.5 487.5,832.5 487.7,833.5 488.0,834.5 488.3,835.5 488.5,836.5 488.8,837.5 489.1,838.5 489.4,839.5 489.7,840.5 490.0,841.5 490.3,842.5 490.7,843.5 491.0,844.5 491.3,845.5 491.7,846.5 492.0,847.5 492.4,848.5 492.7,849.5 493.0,850.5 493.4,851.5 493.7,852.5 494.0,853.5 494.4,854.5 494.7,855.5 495.0,856.5 495.4,857.5 495.7,858.5 496.0,859.5 496.4,860.5 496.7,861.5 497.0,862.5 497.4,863.5 497.7,864.5 498.1,865.5 498.5,866.5 498.8,867.5 499.2,868.5 499.6,869.5 500.0,870.5 500.3,871.5 500.7,872.5 501.1,873.5 501.5,874.5 501.9,875.5 502.4,876.5 502.8,877.5 503.2,878.5 503.7,879.5 504.2,880.5 504.7,881.5 505.2,882.5 505.7,883.5 506.2,884.5 506.7,885.5 507.0,886.5 507.3,887.5 507.6,888.5 507.8,889.5 508.0,890.5 508.2,891.5 508.3,892.5 508.5,893.5 508.6,894.5 508.7,895.5 508.8,896.5 508.8,897.5 508.9,898.5 508.9,899.5 508.9,900.5 509.0,901.5 509.0,902.5 509.0,903.5 509.0,904.5 509.1,905.5 509.1,906.5 509.1,907.5 509.1,908.5 509.2,909.5 509.2,910.5 509.2,911.5 509.2,912.5 509.2,913.5 509.2,914.5 509.3,915.5 509.3,916.5 509.3,917.5 509.3,918.5 509.3,919.5 509.3,920.5 509.3,921.5 509.3,922.5 509.3,923.5 509.3,924.5 509.3,925.5 509.3,925.5" fill="#b4d4df" stroke="#404040" stroke-width="1.1" stroke-linejoin="round"/>
<line x1="509.3" y1="769.0" x2="438.9" y2="769.0" stroke="#404040" stroke-width="0.8" stroke-opacity="0.75"/>
<line x1="509.3" y1="785.1" x2="453.3" y2="785.1" stroke="#404040" stroke-width="1.1" stroke-opacity="0.9" stroke-dasharray="1.3 2.3"/>
<line x1="509.3" y1="814.1" x2="483.0" y2="814.1" stroke="#404040" stroke-width="0.8" stroke-opacity="0.75"/>
<polygon points="509.3,726.0 509.3,726.0 509.3,727.0 509.3,728.0 509.3,729.0 509.4,730.0 509.4,731.0 509.4,732.0 509.4,733.0 509.5,734.0 509.5,735.0 509.5,736.0 509.6,737.0 509.6,738.0 509.7,739.0 509.8,740.0 510.0,741.0 510.1,742.0 510.4,743.0 510.6,744.0 511.0,745.0 511.4,746.0 511.9,747.0 512.5,748.0 513.2,749.0 513.9,750.0 514.8,751.0 516.0,752.0 517.3,753.0 518.9,754.0 520.6,755.0 522.4,756.0 524.3,757.0 526.4,758.0 528.8,759.0 531.5,760.0 534.3,761.0 537.3,762.0 540.2,763.0 543.0,764.0 545.7,765.0 548.6,766.0 551.5,767.0 554.3,768.0 557.1,769.0 559.7,770.0 562.0,771.0 564.0,772.0 565.9,773.0 567.7,774.0 569.4,775.0 571.0,776.0 572.4,777.0 573.8,778.0 575.1,779.0 576.4,780.0 577.8,781.0 579.0,782.0 579.9,783.0 580.4,784.0 580.3,785.0 579.9,786.0 579.2,787.0 578.2,788.0 577.1,789.0 576.0,790.0 574.8,791.0 573.2,792.0 571.5,793.0 569.6,794.0 567.5,795.0 565.5,796.0 563.6,797.0 561.7,798.0 559.7,799.0 557.7,800.0 555.7,801.0 553.8,802.0 552.0,803.0 550.4,804.0 549.0,805.0 547.8,806.0 546.6,807.0 545.5,808.0 544.4,809.0 543.5,810.0 542.6,811.0 541.7,812.0 540.9,813.0 540.1,814.0 539.3,815.0 538.6,816.0 537.9,817.0 537.2,818.0 536.5,819.0 535.9,820.0 535.2,821.0 534.6,822.0 534.1,823.0 533.5,824.0 533.0,825.0 532.6,826.0 532.1,827.0 531.8,828.0 531.4,829.0 531.1,830.0 530.8,831.0 530.5,832.0 530.3,833.0 530.0,834.0 529.8,835.0 529.6,836.0 529.4,837.0 529.2,838.0 529.0,839.0 528.7,840.0 528.5,841.0 528.3,842.0 528.0,843.0 527.8,844.0 527.5,845.0 527.3,846.0 527.0,847.0 526.8,848.0 526.5,849.0 526.3,850.0 526.0,851.0 525.8,852.0 525.5,853.0 525.2,854.0 525.0,855.0 524.7,856.0 524.5,857.0 524.2,858.0 524.0,859.0 523.8,860.0 523.5,861.0 523.3,862.0 523.1,863.0 522.8,864.0 522.6,865.0 522.4,866.0 522.1,867.0 521.9,868.0 521.6,869.0 521.3,870.0 521.1,871.0 520.8,872.0 520.5,873.0 520.1,874.0 519.8,875.0 519.5,876.0 519.1,877.0 518.7,878.0 518.4,879.0 518.0,880.0 517.7,881.0 517.3,882.0 517.0,883.0 516.6,884.0 516.3,885.0 516.0,886.0 515.8,887.0 515.5,888.0 515.2,889.0 514.9,890.0 514.7,891.0 514.4,892.0 514.2,893.0 513.9,894.0 513.7,895.0 513.5,896.0 513.2,897.0 513.0,898.0 512.8,899.0 512.6,900.0 512.3,901.0 512.1,902.0 511.9,903.0 511.7,904.0 511.4,905.0 511.2,906.0 511.0,907.0 510.8,908.0 510.7,909.0 510.5,910.0 510.4,911.0 510.3,912.0 510.2,913.0 510.1,914.0 510.0,915.0 509.9,916.0 509.8,917.0 509.7,918.0 509.6,919.0 509.5,920.0 509.5,921.0 509.4,922.0 509.4,923.0 509.3,924.0 509.3,925.0 509.3,925.5 509.3,925.5" fill="#5481a6" stroke="#404040" stroke-width="1.1" stroke-linejoin="round"/>
<line x1="509.3" y1="780.8" x2="577.5" y2="780.8" stroke="#404040" stroke-width="0.8" stroke-opacity="0.75"/>
<line x1="509.3" y1="796.3" x2="564.9" y2="796.3" stroke="#404040" stroke-width="1.1" stroke-opacity="0.9" stroke-dasharray="1.3 2.3"/>
<line x1="509.3" y1="827.2" x2="532.1" y2="827.2" stroke="#404040" stroke-width="0.8" stroke-opacity="0.75"/>
<line x1="509.3" y1="715.5" x2="509.3" y2="925.5" stroke="#404040" stroke-width="1.2"/>
</g>
<rect x="64.9" y="665.4" width="533.3" height="260.1" fill="none" stroke="#a6a6a6" stroke-width="1.3"/>
<line x1="64.9" y1="712.6" x2="72.9" y2="712.6" stroke="#111" stroke-width="1.4"/>
<text x="56.7" y="720.8" text-anchor="end" font-size="22.2">0.0</text>
<line x1="64.9" y1="771.7" x2="72.9" y2="771.7" stroke="#111" stroke-width="1.4"/>
<text x="56.7" y="779.9" text-anchor="end" font-size="22.2">−2.5</text>
<line x1="64.9" y1="830.8" x2="72.9" y2="830.8" stroke="#111" stroke-width="1.4"/>
<text x="56.7" y="839.0" text-anchor="end" font-size="22.2">−5.0</text>
<line x1="64.9" y1="889.8" x2="72.9" y2="889.8" stroke="#111" stroke-width="1.4"/>
<text x="56.7" y="898.0" text-anchor="end" font-size="22.2">−7.5</text>
<line x1="153.8" y1="925.5" x2="153.8" y2="933.8" stroke="#111" stroke-width="1.4"/>
<text x="153.8" y="959.5" text-anchor="middle" font-size="22.2">Boreal</text>
<line x1="331.6" y1="925.5" x2="331.6" y2="933.8" stroke="#111" stroke-width="1.4"/>
<text x="331.6" y="959.5" text-anchor="middle" font-size="22.2">Temperate</text>
<line x1="509.3" y1="925.5" x2="509.3" y2="933.8" stroke="#111" stroke-width="1.4"/>
<text x="509.3" y="959.5" text-anchor="middle" font-size="22.2">Tropical</text>
<text x="65.0" y="658.3" font-size="27.5" font-weight="bold">(g)</text>
<clipPath id="axh"><rect x="624.5" y="665.4" width="533.3" height="260.1"/></clipPath>
<line x1="624.5" y1="712.6" x2="1157.8" y2="712.6" stroke="#1a1a1a" stroke-width="1.3"/>
<g clip-path="url(#axh)">
<line x1="713.4" y1="666.4" x2="713.4" y2="864.1" stroke="#404040" stroke-width="1.5"/>
<polygon points="713.4,680.3 713.4,680.3 713.4,681.3 713.4,682.3 713.4,683.3 713.3,684.3 713.3,685.3 713.3,686.3 713.2,687.3 713.2,688.3 713.1,689.3 713.0,690.3 713.0,691.3 712.9,692.3 712.5,693.3 711.7,694.3 710.6,695.3 709.2,696.3 707.8,697.3 706.1,698.3 704.1,699.3 701.8,700.3 699.1,701.3 696.3,702.3 692.9,703.3 688.9,704.3 684.6,705.3 680.3,706.3 676.4,707.3 672.7,708.3 669.0,709.3 665.5,710.3 662.2,711.3 659.1,712.3 656.1,713.3 653.2,714.3 650.5,715.3 648.3,716.3 646.7,717.3 645.4,718.3 644.2,719.3 643.2,720.3 642.4,721.3 642.0,722.3 642.2,723.3 643.6,724.3 645.8,725.3 648.5,726.3 651.2,727.3 654.7,728.3 659.0,729.3 663.6,730.3 667.9,731.3 671.6,732.3 674.9,733.3 678.0,734.3 680.9,735.3 683.7,736.3 686.2,737.3 688.8,738.3 691.2,739.3 693.4,740.3 695.4,741.3 697.1,742.3 698.6,743.3 700.0,744.3 701.3,745.3 702.5,746.3 703.6,747.3 704.5,748.3 705.2,749.3 705.8,750.3 706.3,751.3 706.8,752.3 707.2,753.3 707.6,754.3 708.0,755.3 708.3,756.3 708.6,757.3 708.9,758.3 709.1,759.3 709.3,760.3 709.5,761.3 709.7,762.3 709.8,763.3 710.0,764.3 710.1,765.3 710.3,766.3 710.4,767.3 710.5,768.3 710.6,769.3 710.7,770.3 710.8,771.3 710.9,772.3 711.0,773.3 711.1,774.3 711.2,775.3 711.3,776.3 711.4,777.3 711.4,778.3 711.5,779.3 711.6,780.3 711.6,781.3 711.7,782.3 711.7,783.3 711.8,784.3 711.8,785.3 711.9,786.3 711.9,787.3 711.9,788.3 712.0,789.3 712.0,790.3 712.0,791.3 712.0,792.3 712.1,793.3 712.1,794.3 712.1,795.3 712.1,796.3 712.2,797.3 712.2,798.3 712.2,799.3 712.2,800.3 712.2,801.3 712.3,802.3 712.3,803.3 712.3,804.3 712.3,805.3 712.3,806.3 712.3,807.3 712.4,808.3 712.4,809.3 712.4,810.3 712.4,811.3 712.4,812.3 712.5,813.3 712.5,814.3 712.5,815.3 712.5,816.3 712.5,817.3 712.5,818.3 712.6,819.3 712.6,820.3 712.6,821.3 712.6,822.3 712.7,823.3 712.7,824.3 712.7,825.3 712.7,826.3 712.7,827.3 712.8,828.3 712.8,829.3 712.8,830.3 712.8,831.3 712.8,832.3 712.9,833.3 712.9,834.3 712.9,835.3 712.9,836.3 712.9,837.3 713.0,838.3 713.0,839.3 713.0,840.3 713.0,841.3 713.0,842.3 713.1,843.3 713.1,844.3 713.1,845.3 713.1,846.3 713.1,847.3 713.2,848.3 713.2,849.3 713.2,850.3 713.2,851.3 713.2,852.3 713.3,853.3 713.3,854.3 713.3,855.3 713.3,856.3 713.3,857.3 713.4,858.3 713.4,859.3 713.4,860.0 713.4,860.0" fill="#b4d4df" stroke="#404040" stroke-width="1.1" stroke-linejoin="round"/>
<line x1="713.4" y1="715.3" x2="650.5" y2="715.3" stroke="#404040" stroke-width="0.8" stroke-opacity="0.75"/>
<line x1="713.4" y1="723.0" x2="642.0" y2="723.0" stroke="#404040" stroke-width="1.1" stroke-opacity="0.9" stroke-dasharray="1.3 2.3"/>
<line x1="713.4" y1="732.4" x2="671.9" y2="732.4" stroke="#404040" stroke-width="0.8" stroke-opacity="0.75"/>
<polygon points="713.4,682.8 713.4,682.8 713.4,683.8 713.4,684.8 713.4,685.8 713.5,686.8 713.5,687.8 713.6,688.8 713.7,689.8 713.8,690.8 713.9,691.8 714.0,692.8 714.2,693.8 714.4,694.8 715.2,695.8 717.1,696.8 719.5,697.8 722.2,698.8 726.0,699.8 730.7,700.8 735.6,701.8 740.6,702.8 745.9,703.8 751.4,704.8 756.5,705.8 761.0,706.8 765.2,707.8 769.1,708.8 772.7,709.8 776.6,710.8 780.2,711.8 781.7,712.8 781.0,713.8 779.3,714.8 777.2,715.8 775.3,716.8 773.7,717.8 772.2,718.8 770.9,719.8 769.9,720.8 769.2,721.8 768.8,722.8 768.5,723.8 768.1,724.8 767.4,725.8 765.7,726.8 762.8,727.8 759.5,728.8 756.5,729.8 753.5,730.8 750.4,731.8 747.4,732.8 744.5,733.8 741.8,734.8 739.3,735.8 736.9,736.8 734.7,737.8 732.7,738.8 730.9,739.8 729.2,740.8 727.5,741.8 726.0,742.8 724.7,743.8 723.5,744.8 722.6,745.8 721.8,746.8 721.0,747.8 720.4,748.8 719.7,749.8 719.2,750.8 718.7,751.8 718.2,752.8 717.9,753.8 717.6,754.8 717.3,755.8 717.1,756.8 716.8,757.8 716.6,758.8 716.5,759.8 716.3,760.8 716.1,761.8 716.0,762.8 715.9,763.8 715.8,764.8 715.8,765.8 715.7,766.8 715.6,767.8 715.6,768.8 715.5,769.8 715.5,770.8 715.4,771.8 715.4,772.8 715.3,773.8 715.3,774.8 715.3,775.8 715.2,776.8 715.2,777.8 715.2,778.8 715.1,779.8 715.1,780.8 715.1,781.8 715.0,782.8 715.0,783.8 715.0,784.8 714.9,785.8 714.9,786.8 714.9,787.8 714.8,788.8 714.8,789.8 714.8,790.8 714.8,791.8 714.7,792.8 714.7,793.8 714.7,794.8 714.7,795.8 714.7,796.8 714.6,797.8 714.6,798.8 714.6,799.8 714.6,800.8 714.5,801.8 714.5,802.8 714.5,803.8 714.5,804.8 714.5,805.8 714.4,806.8 714.4,807.8 714.4,808.8 714.4,809.8 714.4,810.8 714.3,811.8 714.3,812.8 714.3,813.8 714.3,814.8 714.3,815.8 714.2,816.8 714.2,817.8 714.2,818.8 714.2,819.8 714.2,820.8 714.1,821.8 714.1,822.8 714.1,823.8 714.1,824.8 714.1,825.8 714.0,826.8 714.0,827.8 714.0,828.8 714.0,829.8 714.0,830.8 713.9,831.8 713.9,832.8 713.9,833.8 713.9,834.8 713.9,835.8 713.8,836.8 713.8,837.8 713.8,838.8 713.8,839.8 713.8,840.8 713.7,841.8 713.7,842.8 713.7,843.8 713.7,844.8 713.7,845.8 713.6,846.8 713.6,847.8 713.6,848.8 713.6,849.8 713.6,850.8 713.5,851.8 713.5,852.8 713.5,853.8 713.5,854.8 713.5,855.8 713.4,856.8 713.4,857.8 713.4,858.8 713.4,859.8 713.4,860.0 713.4,860.0" fill="#5481a6" stroke="#404040" stroke-width="1.1" stroke-linejoin="round"/>
<line x1="713.4" y1="715.3" x2="778.3" y2="715.3" stroke="#404040" stroke-width="0.8" stroke-opacity="0.75"/>
<line x1="713.4" y1="720.2" x2="770.4" y2="720.2" stroke="#404040" stroke-width="1.1" stroke-opacity="0.9" stroke-dasharray="1.3 2.3"/>
<line x1="713.4" y1="729.5" x2="757.4" y2="729.5" stroke="#404040" stroke-width="0.8" stroke-opacity="0.75"/>
<line x1="713.4" y1="666.4" x2="713.4" y2="864.1" stroke="#404040" stroke-width="1.2"/>
<line x1="891.1" y1="689.1" x2="891.1" y2="859.4" stroke="#404040" stroke-width="1.5"/>
<polygon points="891.1,691.0 891.1,691.0 891.1,692.0 891.1,693.0 891.1,694.0 891.1,695.0 891.0,696.0 890.9,697.0 890.8,698.0 890.7,699.0 890.6,700.0 890.5,701.0 890.3,702.0 890.1,703.0 889.4,704.0 887.8,705.0 885.7,706.0 883.5,707.0 881.1,708.0 878.2,709.0 875.0,710.0 871.5,711.0 867.8,712.0 863.9,713.0 859.9,714.0 855.2,715.0 850.0,716.0 844.8,717.0 839.9,718.0 835.4,719.0 831.7,720.0 827.9,721.0 824.3,722.0 821.5,723.0 820.2,724.0 820.6,725.0 822.2,726.0 824.8,727.0 827.9,728.0 831.3,729.0 834.5,730.0 838.0,731.0 842.1,732.0 846.5,733.0 851.1,734.0 855.4,735.0 859.2,736.0 862.5,737.0 865.7,738.0 868.7,739.0 871.5,740.0 873.9,741.0 876.0,742.0 877.5,743.0 878.9,744.0 880.2,745.0 881.3,746.0 882.3,747.0 883.2,748.0 884.1,749.0 884.8,750.0 885.4,751.0 885.9,752.0 886.4,753.0 886.8,754.0 887.2,755.0 887.6,756.0 887.9,757.0 888.2,758.0 888.4,759.0 888.6,760.0 888.7,761.0 888.9,762.0 889.0,763.0 889.1,764.0 889.3,765.0 889.4,766.0 889.4,767.0 889.5,768.0 889.6,769.0 889.7,770.0 889.7,771.0 889.8,772.0 889.9,773.0 889.9,774.0 890.0,775.0 890.0,776.0 890.1,777.0 890.1,778.0 890.2,779.0 890.3,780.0 890.3,781.0 890.4,782.0 890.4,783.0 890.5,784.0 890.5,785.0 890.6,786.0 890.6,787.0 890.6,788.0 890.7,789.0 890.7,790.0 890.8,791.0 890.8,792.0 890.8,793.0 890.9,794.0 890.9,795.0 890.9,796.0 891.0,797.0 891.0,798.0 891.0,799.0 891.0,800.0 891.1,801.0 891.1,802.0 891.1,803.0 891.1,804.0 891.1,805.0 891.1,806.0 891.1,807.0 891.1,808.0 891.1,809.0 891.1,809.7 891.1,809.7" fill="#b4d4df" stroke="#404040" stroke-width="1.1" stroke-linejoin="round"/>
<line x1="891.1" y1="720.3" x2="830.6" y2="720.3" stroke="#404040" stroke-width="0.8" stroke-opacity="0.75"/>
<line x1="891.1" y1="725.9" x2="822.0" y2="725.9" stroke="#404040" stroke-width="1.1" stroke-opacity="0.9" stroke-dasharray="1.3 2.3"/>
<line x1="891.1" y1="732.6" x2="844.7" y2="732.6" stroke="#404040" stroke-width="0.8" stroke-opacity="0.75"/>
<polygon points="891.1,692.0 891.1,692.0 891.2,693.0 891.2,694.0 891.2,695.0 891.2,696.0 891.3,697.0 891.4,698.0 891.5,699.0 891.6,700.0 891.7,701.0 891.8,702.0 892.0,703.0 892.1,704.0 893.0,705.0 894.9,706.0 897.5,707.0 900.5,708.0 903.5,709.0 906.5,710.0 910.2,711.0 914.1,712.0 918.0,713.0 921.6,714.0 924.7,715.0 927.9,716.0 931.0,717.0 933.9,718.0 936.4,719.0 938.5,720.0 939.9,721.0 941.2,722.0 942.4,723.0 943.5,724.0 944.4,725.0 945.0,726.0 945.4,727.0 945.4,728.0 945.2,729.0 944.9,730.0 944.3,731.0 943.7,732.0 942.9,733.0 941.9,734.0 940.6,735.0 937.9,736.0 934.3,737.0 930.3,738.0 926.1,739.0 922.4,740.0 919.2,741.0 916.2,742.0 913.1,743.0 910.2,744.0 907.6,745.0 905.4,746.0 903.8,747.0 902.3,748.0 901.0,749.0 899.8,750.0 898.7,751.0 897.7,752.0 896.9,753.0 896.3,754.0 895.8,755.0 895.4,756.0 895.1,757.0 894.8,758.0 894.5,759.0 894.3,760.0 894.0,761.0 893.8,762.0 893.6,763.0 893.5,764.0 893.3,765.0 893.2,766.0 893.1,767.0 893.0,768.0 892.9,769.0 892.8,770.0 892.8,771.0 892.7,772.0 892.6,773.0 892.5,774.0 892.4,775.0 892.4,776.0 892.3,777.0 892.2,778.0 892.2,779.0 892.1,780.0 892.0,781.0 892.0,782.0 891.9,783.0 891.9,784.0 891.8,785.0 891.7,786.0 891.7,787.0 891.6,788.0 891.6,789.0 891.5,790.0 891.5,791.0 891.5,792.0 891.4,793.0 891.4,794.0 891.4,795.0 891.3,796.0 891.3,797.0 891.3,798.0 891.2,799.0 891.2,800.0 891.2,801.0 891.2,802.0 891.2,803.0 891.2,804.0 891.2,805.0 891.2,806.0 891.2,807.0 891.1,807.6 891.1,807.6" fill="#5481a6" stroke="#404040" stroke-width="1.1" stroke-linejoin="round"/>
<line x1="891.1" y1="720.1" x2="938.6" y2="720.1" stroke="#404040" stroke-width="0.8" stroke-opacity="0.75"/>
<line x1="891.1" y1="727.6" x2="945.4" y2="727.6" stroke="#404040" stroke-width="1.1" stroke-opacity="0.9" stroke-dasharray="1.3 2.3"/>
<line x1="891.1" y1="732.5" x2="943.3" y2="732.5" stroke="#404040" stroke-width="0.8" stroke-opacity="0.75"/>
<line x1="891.1" y1="689.1" x2="891.1" y2="859.4" stroke="#404040" stroke-width="1.2"/>
<line x1="1068.9" y1="679.8" x2="1068.9" y2="788" stroke="#404040" stroke-width="1.5"/>
<polygon points="1068.9,693.0 1068.9,693.0 1068.9,694.0 1068.9,695.0 1068.9,696.0 1068.8,697.0 1068.7,698.0 1068.7,699.0 1068.6,700.0 1068.5,701.0 1068.4,702.0 1068.2,703.0 1068.1,704.0 1067.9,705.0 1067.6,706.0 1067.1,707.0 1066.3,708.0 1065.2,709.0 1064.0,710.0 1062.7,711.0 1060.8,712.0 1057.5,713.0 1053.3,714.0 1048.6,715.0 1043.7,716.0 1039.0,717.0 1033.7,718.0 1027.9,719.0 1022.2,720.0 1017.2,721.0 1013.1,722.0 1009.1,723.0 1005.2,724.0 1001.8,725.0 999.5,726.0 998.6,727.0 999.3,728.0 1001.2,729.0 1003.8,730.0 1006.8,731.0 1009.6,732.0 1012.3,733.0 1015.3,734.0 1018.6,735.0 1021.8,736.0 1025.0,737.0 1027.8,738.0 1030.2,739.0 1032.5,740.0 1034.7,741.0 1036.7,742.0 1038.7,743.0 1040.6,744.0 1042.4,745.0 1044.1,746.0 1045.9,747.0 1047.6,748.0 1049.3,749.0 1051.0,750.0 1052.6,751.0 1054.1,752.0 1055.5,753.0 1056.8,754.0 1057.9,755.0 1058.9,756.0 1059.8,757.0 1060.7,758.0 1061.5,759.0 1062.2,760.0 1062.9,761.0 1063.5,762.0 1064.1,763.0 1064.6,764.0 1065.1,765.0 1065.5,766.0 1066.0,767.0 1066.4,768.0 1066.7,769.0 1067.0,770.0 1067.3,771.0 1067.4,772.0 1067.6,773.0 1067.8,774.0 1067.9,775.0 1068.0,776.0 1068.2,777.0 1068.3,778.0 1068.4,779.0 1068.5,780.0 1068.6,781.0 1068.7,782.0 1068.7,783.0 1068.8,784.0 1068.9,785.0 1068.9,786.0 1068.9,787.0 1068.9,788.0 1068.9,788.0" fill="#b4d4df" stroke="#404040" stroke-width="1.1" stroke-linejoin="round"/>
<line x1="1068.9" y1="724.9" x2="1002.1" y2="724.9" stroke="#404040" stroke-width="0.8" stroke-opacity="0.75"/>
<line x1="1068.9" y1="731.1" x2="1007.1" y2="731.1" stroke="#404040" stroke-width="1.1" stroke-opacity="0.9" stroke-dasharray="1.3 2.3"/>
<line x1="1068.9" y1="740.5" x2="1033.6" y2="740.5" stroke="#404040" stroke-width="0.8" stroke-opacity="0.75"/>
<polygon points="1068.9,699.3 1068.9,699.3 1068.9,700.3 1068.9,701.3 1069.0,702.3 1069.0,703.3 1069.1,704.3 1069.2,705.3 1069.2,706.3 1069.3,707.3 1069.5,708.3 1069.6,709.3 1069.8,710.3 1069.9,711.3 1070.4,712.3 1071.4,713.3 1072.8,714.3 1074.5,715.3 1076.4,716.3 1078.3,717.3 1080.4,718.3 1082.8,719.3 1085.6,720.3 1088.7,721.3 1092.2,722.3 1095.8,723.3 1099.8,724.3 1105.0,725.3 1110.9,726.3 1116.7,727.3 1121.9,728.3 1125.9,729.3 1129.6,730.3 1133.1,731.3 1135.5,732.3 1136.3,733.3 1135.0,734.3 1132.1,735.3 1128.5,736.3 1125.1,737.3 1122.0,738.3 1118.6,739.3 1115.1,740.3 1111.8,741.3 1108.9,742.3 1106.4,743.3 1104.1,744.3 1101.9,745.3 1099.8,746.3 1097.9,747.3 1096.0,748.3 1094.3,749.3 1092.6,750.3 1090.9,751.3 1089.3,752.3 1087.8,753.3 1086.3,754.3 1084.9,755.3 1083.5,756.3 1082.2,757.3 1081.0,758.3 1079.9,759.3 1078.8,760.3 1077.8,761.3 1076.7,762.3 1075.8,763.3 1074.8,764.3 1074.0,765.3 1073.4,766.3 1072.8,767.3 1072.5,768.3 1072.1,769.3 1071.8,770.3 1071.5,771.3 1071.3,772.3 1071.1,773.3 1070.9,774.3 1070.7,775.3 1070.5,776.3 1070.3,777.3 1070.2,778.3 1070.0,779.3 1069.8,780.3 1069.7,781.3 1069.5,782.3 1069.4,783.3 1069.3,784.3 1069.2,785.3 1069.1,786.3 1069.0,787.3 1068.9,788.0 1068.9,788.0" fill="#5481a6" stroke="#404040" stroke-width="1.1" stroke-linejoin="round"/>
<line x1="1068.9" y1="730.0" x2="1128.5" y2="730.0" stroke="#404040" stroke-width="0.8" stroke-opacity="0.75"/>
<line x1="1068.9" y1="736.3" x2="1128.5" y2="736.3" stroke="#404040" stroke-width="1.1" stroke-opacity="0.9" stroke-dasharray="1.3 2.3"/>
<line x1="1068.9" y1="745.6" x2="1101.3" y2="745.6" stroke="#404040" stroke-width="0.8" stroke-opacity="0.75"/>
<line x1="1068.9" y1="679.8" x2="1068.9" y2="788" stroke="#404040" stroke-width="1.2"/>
</g>
<rect x="624.5" y="665.4" width="533.3" height="260.1" fill="none" stroke="#a6a6a6" stroke-width="1.3"/>
<line x1="624.5" y1="712.6" x2="632.5" y2="712.6" stroke="#111" stroke-width="1.4"/>
<line x1="624.5" y1="771.7" x2="632.5" y2="771.7" stroke="#111" stroke-width="1.4"/>
<line x1="624.5" y1="830.8" x2="632.5" y2="830.8" stroke="#111" stroke-width="1.4"/>
<line x1="624.5" y1="889.8" x2="632.5" y2="889.8" stroke="#111" stroke-width="1.4"/>
<line x1="713.4" y1="925.5" x2="713.4" y2="933.8" stroke="#111" stroke-width="1.4"/>
<text x="713.4" y="959.5" text-anchor="middle" font-size="22.2">Boreal</text>
<line x1="891.1" y1="925.5" x2="891.1" y2="933.8" stroke="#111" stroke-width="1.4"/>
<text x="891.1" y="959.5" text-anchor="middle" font-size="22.2">Temperate</text>
<line x1="1068.9" y1="925.5" x2="1068.9" y2="933.8" stroke="#111" stroke-width="1.4"/>
<text x="1068.9" y="959.5" text-anchor="middle" font-size="22.2">Tropical</text>
<text x="624.6" y="658.3" font-size="27.5" font-weight="bold">(h)</text>
<clipPath id="axi"><rect x="1184.9" y="665.4" width="533.3" height="260.1"/></clipPath>
<line x1="1184.9" y1="712.6" x2="1718.2" y2="712.6" stroke="#1a1a1a" stroke-width="1.3"/>
<g clip-path="url(#axi)">
<line x1="1273.8" y1="665.4" x2="1273.8" y2="903" stroke="#404040" stroke-width="1.5"/>
<polygon points="1273.8,682.0 1273.8,682.0 1273.8,683.0 1273.8,684.0 1273.8,685.0 1273.7,686.0 1273.7,687.0 1273.7,688.0 1273.6,689.0 1273.6,690.0 1273.5,691.0 1273.4,692.0 1273.4,693.0 1273.3,694.0 1273.0,695.0 1272.5,696.0 1271.8,697.0 1271.0,698.0 1270.0,699.0 1269.0,700.0 1267.7,701.0 1266.0,702.0 1264.1,703.0 1262.1,704.0 1259.8,705.0 1257.2,706.0 1254.3,707.0 1251.4,708.0 1248.6,709.0 1245.8,710.0 1242.9,711.0 1239.8,712.0 1236.6,713.0 1233.0,714.0 1229.0,715.0 1225.2,716.0 1221.7,717.0 1218.5,718.0 1215.4,719.0 1212.6,720.0 1210.5,721.0 1209.2,722.0 1208.2,723.0 1207.2,724.0 1206.5,725.0 1206.0,726.0 1205.7,727.0 1205.8,728.0 1206.1,729.0 1206.8,730.0 1207.6,731.0 1208.6,732.0 1209.7,733.0 1211.1,734.0 1213.3,735.0 1216.0,736.0 1219.0,737.0 1222.0,738.0 1224.8,739.0 1227.8,740.0 1231.0,741.0 1234.2,742.0 1237.3,743.0 1240.2,744.0 1242.6,745.0 1244.9,746.0 1247.0,747.0 1248.9,748.0 1250.8,749.0 1252.5,750.0 1254.2,751.0 1255.8,752.0 1257.4,753.0 1258.9,754.0 1260.3,755.0 1261.6,756.0 1262.7,757.0 1263.7,758.0 1264.5,759.0 1265.4,760.0 1266.2,761.0 1266.9,762.0 1267.6,763.0 1268.2,764.0 1268.7,765.0 1269.1,766.0 1269.4,767.0 1269.6,768.0 1269.9,769.0 1270.1,770.0 1270.3,771.0 1270.5,772.0 1270.7,773.0 1270.8,774.0 1271.0,775.0 1271.1,776.0 1271.2,777.0 1271.3,778.0 1271.4,779.0 1271.5,780.0 1271.6,781.0 1271.6,782.0 1271.7,783.0 1271.8,784.0 1271.9,785.0 1271.9,786.0 1272.0,787.0 1272.1,788.0 1272.1,789.0 1272.2,790.0 1272.2,791.0 1272.3,792.0 1272.3,793.0 1272.3,794.0 1272.4,795.0 1272.4,796.0 1272.4,797.0 1272.5,798.0 1272.5,799.0 1272.5,800.0 1272.5,801.0 1272.6,802.0 1272.6,803.0 1272.6,804.0 1272.6,805.0 1272.7,806.0 1272.7,807.0 1272.7,808.0 1272.7,809.0 1272.7,810.0 1272.8,811.0 1272.8,812.0 1272.8,813.0 1272.8,814.0 1272.8,815.0 1272.8,816.0 1272.9,817.0 1272.9,818.0 1272.9,819.0 1272.9,820.0 1272.9,821.0 1272.9,822.0 1273.0,823.0 1273.0,824.0 1273.0,825.0 1273.0,826.0 1273.0,827.0 1273.0,828.0 1273.1,829.0 1273.1,830.0 1273.1,831.0 1273.1,832.0 1273.1,833.0 1273.2,834.0 1273.2,835.0 1273.2,836.0 1273.2,837.0 1273.2,838.0 1273.2,839.0 1273.3,840.0 1273.3,841.0 1273.3,842.0 1273.3,843.0 1273.3,844.0 1273.4,845.0 1273.4,846.0 1273.4,847.0 1273.4,848.0 1273.4,849.0 1273.4,850.0 1273.5,851.0 1273.5,852.0 1273.5,853.0 1273.5,854.0 1273.5,855.0 1273.6,856.0 1273.6,857.0 1273.6,858.0 1273.6,859.0 1273.6,860.0 1273.6,861.0 1273.7,862.0 1273.7,863.0 1273.7,864.0 1273.7,865.0 1273.7,866.0 1273.7,867.0 1273.8,868.0 1273.8,869.0 1273.8,870.0 1273.8,870.0" fill="#b4d4df" stroke="#404040" stroke-width="1.1" stroke-linejoin="round"/>
<line x1="1273.8" y1="721.2" x2="1210.2" y2="721.2" stroke="#404040" stroke-width="0.8" stroke-opacity="0.75"/>
<line x1="1273.8" y1="730.4" x2="1207.1" y2="730.4" stroke="#404040" stroke-width="1.1" stroke-opacity="0.9" stroke-dasharray="1.3 2.3"/>
<line x1="1273.8" y1="741.3" x2="1232.0" y2="741.3" stroke="#404040" stroke-width="0.8" stroke-opacity="0.75"/>
<polygon points="1273.8,682.0 1273.8,682.0 1273.8,683.0 1273.8,684.0 1273.8,685.0 1273.9,686.0 1273.9,687.0 1274.0,688.0 1274.1,689.0 1274.2,690.0 1274.3,691.0 1274.5,692.0 1274.6,693.0 1274.8,694.0 1275.2,695.0 1276.1,696.0 1277.3,697.0 1278.8,698.0 1280.6,699.0 1282.6,700.0 1285.7,701.0 1289.9,702.0 1294.6,703.0 1299.2,704.0 1303.5,705.0 1308.0,706.0 1312.5,707.0 1316.8,708.0 1320.8,709.0 1324.8,710.0 1328.7,711.0 1332.1,712.0 1334.8,713.0 1337.1,714.0 1339.2,715.0 1340.9,716.0 1342.1,717.0 1342.9,718.0 1343.6,719.0 1344.1,720.0 1344.4,721.0 1344.3,722.0 1343.1,723.0 1341.2,724.0 1338.9,725.0 1336.8,726.0 1334.3,727.0 1331.6,728.0 1328.6,729.0 1325.7,730.0 1322.8,731.0 1320.3,732.0 1317.9,733.0 1315.7,734.0 1313.4,735.0 1311.3,736.0 1309.1,737.0 1307.0,738.0 1304.8,739.0 1302.6,740.0 1300.5,741.0 1298.4,742.0 1296.5,743.0 1294.7,744.0 1293.2,745.0 1291.8,746.0 1290.4,747.0 1289.2,748.0 1288.0,749.0 1286.9,750.0 1285.9,751.0 1285.0,752.0 1284.2,753.0 1283.3,754.0 1282.6,755.0 1281.8,756.0 1281.1,757.0 1280.5,758.0 1280.0,759.0 1279.5,760.0 1279.1,761.0 1278.8,762.0 1278.4,763.0 1278.1,764.0 1277.8,765.0 1277.6,766.0 1277.3,767.0 1277.1,768.0 1276.9,769.0 1276.7,770.0 1276.5,771.0 1276.4,772.0 1276.3,773.0 1276.2,774.0 1276.1,775.0 1276.0,776.0 1275.9,777.0 1275.8,778.0 1275.7,779.0 1275.7,780.0 1275.6,781.0 1275.5,782.0 1275.5,783.0 1275.4,784.0 1275.4,785.0 1275.3,786.0 1275.3,787.0 1275.2,788.0 1275.2,789.0 1275.2,790.0 1275.1,791.0 1275.1,792.0 1275.1,793.0 1275.1,794.0 1275.0,795.0 1275.0,796.0 1275.0,797.0 1275.0,798.0 1274.9,799.0 1274.9,800.0 1274.9,801.0 1274.9,802.0 1274.9,803.0 1274.9,804.0 1274.8,805.0 1274.8,806.0 1274.8,807.0 1274.8,808.0 1274.8,809.0 1274.8,810.0 1274.8,811.0 1274.7,812.0 1274.7,813.0 1274.7,814.0 1274.7,815.0 1274.7,816.0 1274.7,817.0 1274.7,818.0 1274.6,819.0 1274.6,820.0 1274.6,821.0 1274.6,822.0 1274.6,823.0 1274.6,824.0 1274.6,825.0 1274.5,826.0 1274.5,827.0 1274.5,828.0 1274.5,829.0 1274.5,830.0 1274.5,831.0 1274.4,832.0 1274.4,833.0 1274.4,834.0 1274.4,835.0 1274.4,836.0 1274.4,837.0 1274.3,838.0 1274.3,839.0 1274.3,840.0 1274.3,841.0 1274.3,842.0 1274.3,843.0 1274.2,844.0 1274.2,845.0 1274.2,846.0 1274.2,847.0 1274.2,848.0 1274.2,849.0 1274.1,850.0 1274.1,851.0 1274.1,852.0 1274.1,853.0 1274.1,854.0 1274.0,855.0 1274.0,856.0 1274.0,857.0 1274.0,858.0 1274.0,859.0 1274.0,860.0 1273.9,861.0 1273.9,862.0 1273.9,863.0 1273.9,864.0 1273.9,865.0 1273.9,866.0 1273.8,867.0 1273.8,868.0 1273.8,869.0 1273.8,870.0 1273.8,870.0" fill="#5481a6" stroke="#404040" stroke-width="1.1" stroke-linejoin="round"/>
<line x1="1273.8" y1="717.5" x2="1342.5" y2="717.5" stroke="#404040" stroke-width="0.8" stroke-opacity="0.75"/>
<line x1="1273.8" y1="725.0" x2="1338.9" y2="725.0" stroke="#404040" stroke-width="1.1" stroke-opacity="0.9" stroke-dasharray="1.3 2.3"/>
<line x1="1273.8" y1="734.5" x2="1314.5" y2="734.5" stroke="#404040" stroke-width="0.8" stroke-opacity="0.75"/>
<line x1="1273.8" y1="665.4" x2="1273.8" y2="903" stroke="#404040" stroke-width="1.2"/>
<line x1="1451.6" y1="665.4" x2="1451.6" y2="836.1" stroke="#404040" stroke-width="1.5"/>
<polygon points="1451.6,665.4 1451.6,665.4 1451.5,666.4 1451.5,667.4 1451.5,668.4 1451.5,669.4 1451.5,670.4 1451.4,671.4 1451.4,672.4 1451.3,673.4 1451.3,674.4 1451.2,675.4 1451.1,676.4 1451.1,677.4 1450.9,678.4 1450.5,679.4 1449.9,680.4 1449.3,681.4 1448.7,682.4 1448.0,683.4 1447.1,684.4 1446.1,685.4 1445.0,686.4 1443.8,687.4 1442.6,688.4 1441.1,689.4 1439.4,690.4 1437.7,691.4 1435.8,692.4 1433.9,693.4 1431.7,694.4 1429.4,695.4 1427.1,696.4 1424.7,697.4 1422.3,698.4 1419.9,699.4 1417.5,700.4 1415.0,701.4 1412.7,702.4 1410.5,703.4 1408.6,704.4 1406.7,705.4 1405.0,706.4 1403.4,707.4 1401.9,708.4 1400.6,709.4 1399.3,710.4 1398.2,711.4 1397.6,712.4 1397.3,713.4 1397.1,714.4 1396.9,715.4 1396.9,716.4 1397.9,717.4 1400.2,718.4 1403.4,719.4 1407.0,720.4 1410.5,721.4 1413.5,722.4 1415.8,723.4 1418.0,724.4 1420.2,725.4 1422.2,726.4 1424.1,727.4 1425.8,728.4 1427.3,729.4 1428.7,730.4 1430.1,731.4 1431.3,732.4 1432.4,733.4 1433.3,734.4 1434.1,735.4 1434.6,736.4 1435.1,737.4 1435.5,738.4 1435.9,739.4 1436.4,740.4 1437.0,741.4 1437.7,742.4 1438.5,743.4 1439.4,744.4 1440.3,745.4 1441.2,746.4 1442.0,747.4 1442.7,748.4 1443.5,749.4 1444.2,750.4 1444.9,751.4 1445.5,752.4 1446.1,753.4 1446.7,754.4 1447.1,755.4 1447.5,756.4 1447.8,757.4 1448.2,758.4 1448.5,759.4 1448.7,760.4 1449.0,761.4 1449.2,762.4 1449.4,763.4 1449.6,764.4 1449.7,765.4 1449.9,766.4 1449.9,767.4 1450.0,768.4 1450.1,769.4 1450.2,770.4 1450.2,771.4 1450.3,772.4 1450.4,773.4 1450.5,774.4 1450.5,775.4 1450.6,776.4 1450.6,777.4 1450.7,778.4 1450.8,779.4 1450.8,780.4 1450.9,781.4 1450.9,782.4 1451.0,783.4 1451.0,784.4 1451.1,785.4 1451.1,786.4 1451.2,787.4 1451.2,788.4 1451.2,789.4 1451.3,790.4 1451.3,791.4 1451.3,792.4 1451.4,793.4 1451.4,794.4 1451.4,795.4 1451.4,796.4 1451.5,797.4 1451.5,798.4 1451.5,799.4 1451.5,800.4 1451.5,801.4 1451.5,802.4 1451.5,803.4 1451.5,804.4 1451.5,805.4 1451.6,806.4 1451.6,806.4" fill="#b4d4df" stroke="#404040" stroke-width="1.1" stroke-linejoin="round"/>
<line x1="1451.6" y1="709.5" x2="1400.5" y2="709.5" stroke="#404040" stroke-width="0.8" stroke-opacity="0.75"/>
<line x1="1451.6" y1="717.4" x2="1397.9" y2="717.4" stroke="#404040" stroke-width="1.1" stroke-opacity="0.9" stroke-dasharray="1.3 2.3"/>
<line x1="1451.6" y1="728.2" x2="1425.5" y2="728.2" stroke="#404040" stroke-width="0.8" stroke-opacity="0.75"/>
<polygon points="1451.6,670.6 1451.6,670.6 1451.6,671.6 1451.6,672.6 1451.8,673.6 1451.9,674.6 1452.1,675.6 1452.3,676.6 1452.5,677.6 1452.8,678.6 1453.0,679.6 1453.3,680.6 1453.6,681.6 1453.9,682.6 1454.2,683.6 1454.5,684.6 1454.9,685.6 1455.4,686.6 1455.9,687.6 1456.6,688.6 1457.3,689.6 1458.1,690.6 1459.3,691.6 1460.7,692.6 1462.2,693.6 1463.9,694.6 1465.7,695.6 1467.8,696.6 1470.1,697.6 1472.6,698.6 1475.3,699.6 1478.3,700.6 1481.6,701.6 1485.3,702.6 1489.2,703.6 1493.2,704.6 1497.2,705.6 1501.8,706.6 1506.7,707.6 1511.4,708.6 1515.6,709.6 1518.7,710.6 1521.4,711.6 1521.8,712.6 1519.4,713.6 1515.5,714.6 1511.6,715.6 1508.0,716.6 1504.1,717.6 1500.2,718.6 1496.3,719.6 1492.9,720.6 1490.1,721.6 1487.5,722.6 1485.1,723.6 1482.8,724.6 1480.8,725.6 1478.9,726.6 1477.2,727.6 1475.6,728.6 1474.0,729.6 1472.6,730.6 1471.2,731.6 1469.9,732.6 1468.7,733.6 1467.6,734.6 1466.4,735.6 1465.4,736.6 1464.3,737.6 1463.4,738.6 1462.5,739.6 1461.6,740.6 1460.8,741.6 1460.1,742.6 1459.3,743.6 1458.6,744.6 1458.0,745.6 1457.3,746.6 1456.7,747.6 1456.2,748.6 1455.8,749.6 1455.5,750.6 1455.2,751.6 1454.9,752.6 1454.7,753.6 1454.4,754.6 1454.2,755.6 1454.0,756.6 1453.8,757.6 1453.7,758.6 1453.5,759.6 1453.4,760.6 1453.3,761.6 1453.2,762.6 1453.1,763.6 1453.1,764.6 1453.0,765.6 1452.9,766.6 1452.9,767.6 1452.8,768.6 1452.7,769.6 1452.7,770.6 1452.6,771.6 1452.5,772.6 1452.5,773.6 1452.4,774.6 1452.3,775.6 1452.3,776.6 1452.2,777.6 1452.2,778.6 1452.1,779.6 1452.1,780.6 1452.0,781.6 1452.0,782.6 1452.0,783.6 1451.9,784.6 1451.9,785.6 1451.8,786.6 1451.8,787.6 1451.8,788.6 1451.7,789.6 1451.7,790.6 1451.7,791.6 1451.7,792.6 1451.6,793.6 1451.6,794.6 1451.6,795.6 1451.6,796.6 1451.6,797.6 1451.6,798.6 1451.6,799.6 1451.6,800.6 1451.6,801.6 1451.6,802.3 1451.6,802.3" fill="#5481a6" stroke="#404040" stroke-width="1.1" stroke-linejoin="round"/>
<line x1="1451.6" y1="709.6" x2="1515.6" y2="709.6" stroke="#404040" stroke-width="0.8" stroke-opacity="0.75"/>
<line x1="1451.6" y1="715.3" x2="1512.7" y2="715.3" stroke="#404040" stroke-width="1.1" stroke-opacity="0.9" stroke-dasharray="1.3 2.3"/>
<line x1="1451.6" y1="721.7" x2="1489.8" y2="721.7" stroke="#404040" stroke-width="0.8" stroke-opacity="0.75"/>
<line x1="1451.6" y1="665.4" x2="1451.6" y2="836.1" stroke="#404040" stroke-width="1.2"/>
<line x1="1629.3" y1="665.4" x2="1629.3" y2="748.7" stroke="#404040" stroke-width="1.5"/>
<polygon points="1629.3,665.4 1629.3,665.4 1628.7,666.4 1628.1,667.4 1627.7,668.4 1627.3,669.4 1626.9,670.4 1626.5,671.4 1626.1,672.4 1625.6,673.4 1625.0,674.4 1624.3,675.4 1623.5,676.4 1622.6,677.4 1621.5,678.4 1620.3,679.4 1619.0,680.4 1617.5,681.4 1615.5,682.4 1613.0,683.4 1610.2,684.4 1607.3,685.4 1604.4,686.4 1601.2,687.4 1597.8,688.4 1594.2,689.4 1590.8,690.4 1587.6,691.4 1584.6,692.4 1581.6,693.4 1578.8,694.4 1576.3,695.4 1574.2,696.4 1572.3,697.4 1570.5,698.4 1569.0,699.4 1568.0,700.4 1568.2,701.4 1570.5,702.4 1574.0,703.4 1578.1,704.4 1581.7,705.4 1585.3,706.4 1589.2,707.4 1593.1,708.4 1596.8,709.4 1600.1,710.4 1603.1,711.4 1606.0,712.4 1608.7,713.4 1611.2,714.4 1613.4,715.4 1615.4,716.4 1617.2,717.4 1619.0,718.4 1620.6,719.4 1622.1,720.4 1623.3,721.4 1624.3,722.4 1625.0,723.4 1625.7,724.4 1626.3,725.4 1626.9,726.4 1627.3,727.4 1627.7,728.4 1627.9,729.4 1628.0,730.4 1628.2,731.4 1628.3,732.4 1628.4,733.4 1628.5,734.4 1628.6,735.4 1628.7,736.4 1628.8,737.4 1628.9,738.4 1629.0,739.4 1629.0,740.4 1629.1,741.4 1629.2,742.4 1629.2,743.4 1629.2,744.4 1629.3,745.4 1629.3,746.4 1629.3,747.4 1629.3,748.4 1629.3,748.7 1629.3,748.7" fill="#b4d4df" stroke="#404040" stroke-width="1.1" stroke-linejoin="round"/>
<line x1="1629.3" y1="693.4" x2="1581.6" y2="693.4" stroke="#404040" stroke-width="0.8" stroke-opacity="0.75"/>
<line x1="1629.3" y1="700.7" x2="1567.9" y2="700.7" stroke="#404040" stroke-width="1.1" stroke-opacity="0.9" stroke-dasharray="1.3 2.3"/>
<line x1="1629.3" y1="707.0" x2="1587.6" y2="707.0" stroke="#404040" stroke-width="0.8" stroke-opacity="0.75"/>
<polygon points="1629.3,665.4 1629.3,665.4 1629.3,666.4 1629.4,667.4 1629.5,668.4 1629.7,669.4 1629.8,670.4 1630.0,671.4 1630.2,672.4 1630.5,673.4 1630.8,674.4 1631.3,675.4 1631.8,676.4 1632.3,677.4 1633.0,678.4 1633.8,679.4 1634.7,680.4 1635.8,681.4 1637.0,682.4 1638.2,683.4 1639.5,684.4 1640.9,685.4 1642.2,686.4 1643.7,687.4 1645.2,688.4 1646.9,689.4 1648.7,690.4 1650.6,691.4 1652.7,692.4 1654.9,693.4 1657.4,694.4 1660.2,695.4 1663.3,696.4 1666.5,697.4 1670.0,698.4 1673.9,699.4 1678.3,700.4 1682.9,701.4 1687.5,702.4 1691.8,703.4 1696.5,704.4 1700.0,705.4 1698.8,706.4 1694.5,707.4 1688.7,708.4 1683.0,709.4 1678.1,710.4 1672.8,711.4 1667.6,712.4 1663.0,713.4 1659.4,714.4 1656.2,715.4 1653.3,716.4 1650.7,717.4 1648.4,718.4 1646.4,719.4 1644.6,720.4 1642.9,721.4 1641.3,722.4 1639.9,723.4 1638.6,724.4 1637.4,725.4 1636.3,726.4 1635.3,727.4 1634.3,728.4 1633.5,729.4 1632.8,730.4 1632.3,731.4 1631.9,732.4 1631.5,733.4 1631.1,734.4 1630.9,735.4 1630.6,736.4 1630.4,737.4 1630.3,738.4 1630.1,739.4 1630.0,740.4 1629.8,741.4 1629.7,742.4 1629.6,743.4 1629.5,744.4 1629.4,745.4 1629.4,746.4 1629.3,747.4 1629.3,748.4 1629.3,748.7 1629.3,748.7" fill="#5481a6" stroke="#404040" stroke-width="1.1" stroke-linejoin="round"/>
<line x1="1629.3" y1="701.0" x2="1681.1" y2="701.0" stroke="#404040" stroke-width="0.8" stroke-opacity="0.75"/>
<line x1="1629.3" y1="706.1" x2="1699.6" y2="706.1" stroke="#404040" stroke-width="1.1" stroke-opacity="0.9" stroke-dasharray="1.3 2.3"/>
<line x1="1629.3" y1="711.3" x2="1673.3" y2="711.3" stroke="#404040" stroke-width="0.8" stroke-opacity="0.75"/>
<line x1="1629.3" y1="665.4" x2="1629.3" y2="748.7" stroke="#404040" stroke-width="1.2"/>
</g>
<rect x="1184.9" y="665.4" width="533.3" height="260.1" fill="none" stroke="#a6a6a6" stroke-width="1.3"/>
<line x1="1184.9" y1="712.6" x2="1192.9" y2="712.6" stroke="#111" stroke-width="1.4"/>
<line x1="1184.9" y1="771.7" x2="1192.9" y2="771.7" stroke="#111" stroke-width="1.4"/>
<line x1="1184.9" y1="830.8" x2="1192.9" y2="830.8" stroke="#111" stroke-width="1.4"/>
<line x1="1184.9" y1="889.8" x2="1192.9" y2="889.8" stroke="#111" stroke-width="1.4"/>
<line x1="1273.8" y1="925.5" x2="1273.8" y2="933.8" stroke="#111" stroke-width="1.4"/>
<text x="1273.8" y="959.5" text-anchor="middle" font-size="22.2">Boreal</text>
<line x1="1451.6" y1="925.5" x2="1451.6" y2="933.8" stroke="#111" stroke-width="1.4"/>
<text x="1451.6" y="959.5" text-anchor="middle" font-size="22.2">Temperate</text>
<line x1="1629.3" y1="925.5" x2="1629.3" y2="933.8" stroke="#111" stroke-width="1.4"/>
<text x="1629.3" y="959.5" text-anchor="middle" font-size="22.2">Tropical</text>
<text x="1185.0" y="658.3" font-size="27.5" font-weight="bold">(i)</text>
<rect x="1518.2" y="838.5" width="188.8" height="74.5" rx="4" fill="#fff" fill-opacity="0.8" stroke="#cccccc" stroke-width="1.2"/>
<rect x="1527" y="849.2" width="47" height="16.4" fill="#b4d4df" stroke="#404040" stroke-width="0.6"/>
<rect x="1527" y="884.2" width="47" height="15.6" fill="#5481a6" stroke="#404040" stroke-width="0.6"/>
<text x="1592" y="865.6" font-size="22.2">Historical</text>
<text x="1592" y="899.8" font-size="22.2">Future</text>
</svg></body></html>
